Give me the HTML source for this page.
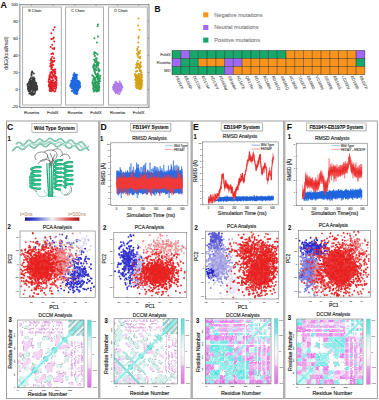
<!DOCTYPE html>
<html><head><meta charset="utf-8"><style>
html,body{margin:0;padding:0;background:#fff;width:379px;height:400px;overflow:hidden}
svg{display:block}
text{font-family:"Liberation Sans",sans-serif}
</style></head><body>
<svg width="379" height="400" viewBox="0 0 379 400">
<rect width="379" height="400" fill="#fff"/>
<text x="0.60" y="7.80" font-size="8.8" fill="#111" font-weight="bold" stroke="#111" stroke-width="0.1">A</text>
<rect x="19.90" y="4.80" width="129.10" height="102.50" fill="none" stroke="#666" stroke-width="0.8"/>
<line x1="18.50" y1="106.70" x2="19.90" y2="106.70" stroke="#555" stroke-width="0.5"/>
<line x1="149.00" y1="106.70" x2="147.80" y2="106.70" stroke="#555" stroke-width="0.5"/>
<text x="17.90" y="108.20" font-size="4.1" fill="#444" text-anchor="end" stroke="#444" stroke-width="0.1">-20</text>
<line x1="18.50" y1="89.60" x2="19.90" y2="89.60" stroke="#555" stroke-width="0.5"/>
<line x1="149.00" y1="89.60" x2="147.80" y2="89.60" stroke="#555" stroke-width="0.5"/>
<text x="17.90" y="91.10" font-size="4.1" fill="#444" text-anchor="end" stroke="#444" stroke-width="0.1">0</text>
<line x1="18.50" y1="72.50" x2="19.90" y2="72.50" stroke="#555" stroke-width="0.5"/>
<line x1="149.00" y1="72.50" x2="147.80" y2="72.50" stroke="#555" stroke-width="0.5"/>
<text x="17.90" y="74.00" font-size="4.1" fill="#444" text-anchor="end" stroke="#444" stroke-width="0.1">20</text>
<line x1="18.50" y1="55.40" x2="19.90" y2="55.40" stroke="#555" stroke-width="0.5"/>
<line x1="149.00" y1="55.40" x2="147.80" y2="55.40" stroke="#555" stroke-width="0.5"/>
<text x="17.90" y="56.90" font-size="4.1" fill="#444" text-anchor="end" stroke="#444" stroke-width="0.1">40</text>
<line x1="18.50" y1="38.30" x2="19.90" y2="38.30" stroke="#555" stroke-width="0.5"/>
<line x1="149.00" y1="38.30" x2="147.80" y2="38.30" stroke="#555" stroke-width="0.5"/>
<text x="17.90" y="39.80" font-size="4.1" fill="#444" text-anchor="end" stroke="#444" stroke-width="0.1">60</text>
<line x1="18.50" y1="21.20" x2="19.90" y2="21.20" stroke="#555" stroke-width="0.5"/>
<line x1="149.00" y1="21.20" x2="147.80" y2="21.20" stroke="#555" stroke-width="0.5"/>
<text x="17.90" y="22.70" font-size="4.1" fill="#444" text-anchor="end" stroke="#444" stroke-width="0.1">80</text>
<line x1="18.50" y1="4.10" x2="19.90" y2="4.10" stroke="#555" stroke-width="0.5"/>
<line x1="149.00" y1="4.10" x2="147.80" y2="4.10" stroke="#555" stroke-width="0.5"/>
<text x="17.90" y="5.60" font-size="4.1" fill="#444" text-anchor="end" stroke="#444" stroke-width="0.1">100</text>
<text x="7.90" y="53.20" font-size="5.4" fill="#555" text-anchor="middle" transform="rotate(-90 7.9 53.2)" stroke="#555" stroke-width="0.1">ddG(kcal/mol)</text>
<rect x="22.70" y="7.00" width="38.50" height="98.00" fill="white" stroke="#8a8a8a" stroke-width="0.7"/>
<text x="28.30" y="12.40" font-size="3.7" fill="#444" stroke="#444" stroke-width="0.1">B Chain</text>
<rect x="65.70" y="7.00" width="37.90" height="98.00" fill="white" stroke="#8a8a8a" stroke-width="0.7"/>
<text x="71.30" y="12.40" font-size="3.7" fill="#444" stroke="#444" stroke-width="0.1">C Chain</text>
<rect x="108.70" y="7.00" width="38.50" height="98.00" fill="white" stroke="#8a8a8a" stroke-width="0.7"/>
<text x="114.30" y="12.40" font-size="3.7" fill="#444" stroke="#444" stroke-width="0.1">D Chain</text>
<text x="31.60" y="114.40" font-size="4.4" fill="#333" text-anchor="middle" stroke="#333" stroke-width="0.1">Rosetta</text>
<line x1="31.60" y1="107.30" x2="31.60" y2="108.60" stroke="#555" stroke-width="0.5"/>
<line x1="31.60" y1="4.80" x2="31.60" y2="6.00" stroke="#555" stroke-width="0.5"/>
<text x="52.80" y="114.40" font-size="4.4" fill="#333" text-anchor="middle" stroke="#333" stroke-width="0.1">FoldX</text>
<line x1="52.80" y1="107.30" x2="52.80" y2="108.60" stroke="#555" stroke-width="0.5"/>
<line x1="52.80" y1="4.80" x2="52.80" y2="6.00" stroke="#555" stroke-width="0.5"/>
<text x="75.00" y="114.40" font-size="4.4" fill="#333" text-anchor="middle" stroke="#333" stroke-width="0.1">Rosetta</text>
<line x1="75.00" y1="107.30" x2="75.00" y2="108.60" stroke="#555" stroke-width="0.5"/>
<line x1="75.00" y1="4.80" x2="75.00" y2="6.00" stroke="#555" stroke-width="0.5"/>
<text x="96.00" y="114.40" font-size="4.4" fill="#333" text-anchor="middle" stroke="#333" stroke-width="0.1">FoldX</text>
<line x1="96.00" y1="107.30" x2="96.00" y2="108.60" stroke="#555" stroke-width="0.5"/>
<line x1="96.00" y1="4.80" x2="96.00" y2="6.00" stroke="#555" stroke-width="0.5"/>
<text x="117.60" y="114.40" font-size="4.4" fill="#333" text-anchor="middle" stroke="#333" stroke-width="0.1">Rosetta</text>
<line x1="117.60" y1="107.30" x2="117.60" y2="108.60" stroke="#555" stroke-width="0.5"/>
<line x1="117.60" y1="4.80" x2="117.60" y2="6.00" stroke="#555" stroke-width="0.5"/>
<text x="138.60" y="114.40" font-size="4.4" fill="#333" text-anchor="middle" stroke="#333" stroke-width="0.1">FoldX</text>
<line x1="138.60" y1="107.30" x2="138.60" y2="108.60" stroke="#555" stroke-width="0.5"/>
<line x1="138.60" y1="4.80" x2="138.60" y2="6.00" stroke="#555" stroke-width="0.5"/>
<path d="M36.6 85.8h0M33.8 81.7h0M36.5 89.5h0M35.6 82.6h0M36.6 87.1h0M33.2 87.1h0M29.9 79.4h0M34.9 85.6h0M28.9 86.3h0M30.6 83.6h0M33.6 82.1h0M32.7 86.3h0M31.6 84.1h0M36.6 89.7h0M33.6 87.5h0M30.7 87.8h0M30.3 91h0M35.2 91.6h0M32.2 92h0M35.4 87h0M30.8 86.8h0M29.2 87.3h0M32.8 85.9h0M35.1 91h0M28.9 86.5h0M35.4 85.3h0M36.1 83.5h0M35.4 89.2h0M35.8 87.6h0M29.4 93.4h0M33.7 88h0M34.4 94.1h0M28.7 91.3h0M30.7 82.2h0M31.1 94.1h0M32.6 83.3h0M31.6 85h0M32.1 87.3h0M35.1 84.5h0M27.7 84.3h0M28.9 82.4h0M28.4 87h0M28.5 88.3h0M27.9 88.4h0M36.9 89.7h0M36.1 86.3h0M28.3 89h0M32.4 82.3h0M31.2 92.9h0M30.7 90.1h0M31 89.6h0M33.3 93.7h0M32.8 79.3h0M31.7 94.8h0M29.1 87.2h0M30.6 88.1h0M30.2 80.2h0M32.7 93.3h0M34.1 82.3h0M31.2 88.8h0M28 86.7h0M29.1 88.6h0M31.2 83.9h0M33.3 90.3h0M35.4 86.5h0M31.2 84.9h0M34 79.6h0M33 94.8h0M32 80.7h0M31.4 82.8h0M32.4 87.9h0M34.4 85.1h0M31.6 87.9h0M33.5 80.3h0M32 85.4h0M29.7 87h0M32.8 87h0M34.5 86.9h0M27.9 86.8h0M31.7 89.3h0M32 78.8h0M34.9 93h0M37 86.6h0M31.1 86.7h0M36.3 84.8h0M35.5 86.9h0M29.9 86.7h0M32 85h0M29.4 82.7h0M35.7 87.8h0M34.1 87.5h0M34.4 79.2h0M35.2 84.3h0M34 89.7h0M33.4 77.8h0M33 83.4h0M28.3 88.3h0M33.2 90.4h0M27.4 85.1h0M28.9 89.2h0M35 90h0M28.5 90.8h0M28.1 88h0M29.3 82.2h0M36.4 87.7h0M29.8 91.4h0M28.1 83.8h0M36 85.9h0M29.2 83.1h0M34.9 81.9h0M34.2 86.8h0M36 86.7h0M37.2 86.3h0M33.1 90.3h0M35.1 83.8h0M29.3 81.3h0M35.1 85.6h0M32.5 87h0M34.7 87.1h0M28.5 89h0M34.9 89.1h0M37 87.6h0M28.1 89.2h0M30.6 87.8h0M32.9 91.8h0M35.7 84.9h0M29.7 86h0M29.5 90.3h0M31.1 94.4h0M33.6 86.2h0M34.3 82.2h0M31.3 88.8h0M31 87.9h0M31.3 88.2h0M31 83.8h0M31.6 89.5h0M29.1 82.6h0M32.4 87.3h0M36.3 82.9h0M31.5 86.1h0M35 87h0M29.7 91.5h0M34.3 88.6h0M35.1 87.1h0M34 83.8h0M32.6 85.3h0M32.2 88.7h0M33.8 84.7h0M35.6 82.6h0M28.7 86.7h0M28.2 87.8h0M35 87.6h0M36 83.3h0M32.6 84.2h0M31.8 89.5h0M34.6 84.8h0M29.1 87.9h0M30.1 88.9h0M30.2 81.7h0M33.1 83.2h0M30.5 88.8h0M29.6 85.9h0M34.2 84.4h0M37.1 88.5h0M30.2 86.6h0M34.3 83.8h0M31.8 92.6h0M35.9 85h0M33.1 83.5h0M30.2 84.4h0M30 91h0M27.6 85h0M32.2 89.3h0M31.3 84.1h0M29.4 84h0M31 85.4h0M30.6 88.9h0M35.2 88.3h0M29.4 83.1h0M37.2 89.4h0M32.2 84.4h0M33.3 84.3h0M32.1 87.2h0M33.8 77.6h0M35.7 85.9h0M32.7 78.5h0M32.3 93.4h0M33.6 94.2h0M35.3 82.7h0M32.1 71.5h0M33.5 78.8h0M33.8 73.4h0M32.3 72.5h0M31.5 74.2h0M31.5 75.7h0M33.4 78.1h0M33.1 77.6h0M34.6 78.7h0M34.5 80.4h0M31.5 75h0M31 78.1h0M31.7 72.7h0M30.5 80.6h0" stroke="#3a3a3a" stroke-width="2.00" stroke-linecap="round"/>
<path d="M53.8 83.1h0M50.8 73.2h0M49 85h0M49.7 82.9h0M53.7 85h0M53.2 88.8h0M48.5 81.6h0M50.3 82.4h0M56.3 85h0M50.3 82.6h0M53 70.3h0M51.9 77.9h0M54.9 83.8h0M53.4 86.6h0M54.8 76.1h0M52.9 74.7h0M50.1 77.5h0M49.9 79.4h0M49.1 82.6h0M55.3 78.8h0M49.9 88.7h0M50.3 65.9h0M56.5 82.3h0M50.1 81.9h0M55.6 86.1h0M49.2 78.5h0M52.3 84.3h0M50.4 85h0M55.1 76h0M53.5 75.5h0M53.6 87.5h0M54.7 76.9h0M55.7 83.6h0M51.6 89.7h0M53.4 86.5h0M52.2 73.6h0M49.6 85.8h0M55.4 82.7h0M53.4 80.3h0M55 86h0M50.3 85.3h0M52.9 83.1h0M52.3 87.4h0M54.5 83h0M50 91.1h0M51.4 84.6h0M52.5 90.5h0M49.1 84.4h0M53 88.2h0M54.2 72.4h0M52 85.6h0M53.8 82.4h0M53.4 85.4h0M50.4 86.2h0M51.6 71.7h0M56.5 84.9h0M51.2 80.8h0M52 81.5h0M49.3 76.7h0M50.5 86.4h0M50 76.4h0M55.3 90.9h0M54.2 88.3h0M55.5 76.2h0M56.6 83.9h0M53.3 90.5h0M56 76.7h0M52.8 89.7h0M52.1 72.4h0M56.3 83.7h0M55.4 88.5h0M55.7 89h0M52.5 77.9h0M54.8 85.3h0M51.8 81.6h0M56.6 78h0M55.3 71.8h0M51 76.2h0M56.2 78.7h0M50.3 74.3h0M49.5 75.5h0M54.3 85.6h0M51.1 87.7h0M52.7 90.5h0M53.6 75.3h0M49.6 90.1h0M54.5 85.4h0M50.7 82.5h0M52 83.5h0M51.4 85.6h0M54.6 83.8h0M54.6 82.9h0M51.3 91.2h0M49.8 88.1h0M51 84.9h0M51.9 83.1h0M49.4 86.9h0M49.8 83.6h0M54.6 85.7h0M54 88.3h0M56.6 80.3h0M56.1 87.7h0M55.8 81.4h0M51.7 89h0M49.9 85.3h0M51.3 88.7h0M52.3 84h0M52.8 80.3h0M52.9 76.6h0M51.5 83.9h0M54.6 69.5h0M51 86.4h0M52.3 87.8h0M55.3 73.5h0M55 76.2h0M50.9 81.7h0M50.9 89.4h0M54.5 91.4h0M48.9 86.3h0M49.9 87.6h0M52.9 82.4h0M52.8 64.5h0M50.4 72.6h0M48.8 79.8h0M50.5 74h0M54.7 76.7h0M52.4 87.8h0M56.2 87h0M55 82.2h0M55.3 69.5h0M50.6 60.4h0M51.3 58.5h0M50.4 63.8h0M52.3 56.8h0M51.8 67.4h0M50.4 66.4h0M52.9 69.9h0M50.9 59.5h0M51.7 65.2h0M51.2 69.1h0M54.5 71h0M52.3 60.7h0M51.5 62.8h0M50.7 60.8h0M52.2 66.9h0M53.2 65h0M53.7 71.3h0M54.4 60.8h0M54.8 73.8h0M51.4 65.4h0M51.1 59.9h0M53.7 61.5h0M54.5 72.4h0M52.7 69.7h0M54 58.3h0M52.8 62.1h0M51.7 38.9h0M51.3 39h0M50.7 46.9h0M53.2 38.5h0M54.2 41.6h0M54.2 49.1h0M52.5 48.4h0M53.3 54h0M54.3 47.9h0M53.9 37.4h0M53 53.4h0M52.3 44.7h0M52.7 53.3h0M51.3 53.9h0M51.3 33.2h0M53.3 29.7h0M54.6 27.2h0" stroke="#e2222a" stroke-width="2.00" stroke-linecap="round"/>
<path d="M75 89.1h0M79.2 86.5h0M73.2 87.9h0M72.5 81.9h0M78.5 83.9h0M76 89.3h0M71.2 83.2h0M70.3 85.9h0M73.7 87.2h0M71.3 81h0M77.2 91.7h0M72.6 81.4h0M73.4 81.2h0M74.6 93.2h0M75.3 86.1h0M74.5 85.9h0M76.2 89.7h0M76.7 87.5h0M74.6 88.4h0M71 85.1h0M79.9 87.5h0M76.1 93.5h0M72 80.8h0M74.7 81.9h0M77.5 88.5h0M79.5 82h0M73 77.6h0M72 91.3h0M75 86.9h0M74.4 87.3h0M79 83.2h0M78.5 86.5h0M74 90.7h0M74.6 80.5h0M76 86.6h0M78.8 82.5h0M73.9 76.5h0M74.2 88.2h0M71.1 86.9h0M76.4 81.8h0M70.3 85.7h0M79.5 83.3h0M75.4 85.3h0M75.5 74.6h0M71.3 82.9h0M72.5 84h0M74.9 84.8h0M78.8 83.8h0M75.4 91.6h0M73 86.4h0M79.6 82.5h0M76.4 89.9h0M75.5 85.2h0M72.1 85.7h0M73.2 87.3h0M76.8 75.7h0M71.8 82.6h0M75.5 84h0M76.3 88.3h0M73.7 85h0M77.9 86.5h0M79.5 85.7h0M78.9 84.5h0M76.2 75.7h0M73.1 80.2h0M72.6 78.7h0M74.7 80h0M74.5 74.5h0M72.3 87.9h0M77.9 90.3h0M72.3 84.5h0M78.5 84.3h0M79.8 85.2h0M71.6 87.7h0M79.1 82.7h0M74.6 78.7h0M72.2 84.5h0M72 86.2h0M71.6 80.7h0M75.2 86.5h0M74 86.7h0M78.8 84.1h0M76.7 94.1h0M72.8 78.1h0M74.2 85.7h0M74.1 83.3h0M71.9 84.1h0M72.7 83.7h0M73.5 90.5h0M76.3 78.5h0M73.7 83.1h0M71.2 84.2h0M74.3 73.2h0M74.8 90.2h0M75.8 82.5h0M72.6 85.7h0M76.5 91.1h0M73.7 77.8h0M76.3 91.3h0M76.3 84.8h0M71.8 85.6h0M77.8 84.6h0M74.3 88.9h0M75.5 80h0M76.2 84.3h0M76.2 90.2h0M74.8 90h0M70.7 84.3h0M77.4 89.8h0M78.8 83.6h0M75.1 84h0M76 87.6h0M74 92.7h0M78.1 90.3h0M77.1 83.9h0M72.5 87.3h0M76.9 78.2h0M80 87h0M73.7 83.8h0M79.8 82.7h0M75 85h0M71.9 84.1h0M77 81.4h0M73.5 85.9h0M77.6 84h0M76 86.7h0M73.2 77.6h0M75.5 84.6h0M78.3 82.1h0M75 87.2h0M75.5 89.6h0M79 85.2h0M74.7 87h0M75.1 89.3h0M76 86.4h0M78.1 82.2h0M72.8 81.2h0M71.2 87.4h0M77.3 81.2h0M75.7 87.7h0M73.3 82.9h0M78.7 88.6h0M78.4 81.3h0M75.4 76.4h0M80.2 86.4h0M77.7 80.6h0M76.9 90.9h0M73.2 87.7h0M73.4 75.1h0M77.1 85.6h0M77.5 83.4h0M74.3 91.6h0M75 85.4h0M75.8 88.3h0M73.3 80.7h0M77.1 87.4h0M75.4 75.5h0M74.3 89.5h0M71.2 84h0M75.5 93h0M73.4 86.9h0M76.9 80.6h0M71.8 85.7h0M74.4 90.3h0M72.2 83.4h0M74.4 81.7h0M76 83.6h0M71.9 81.5h0M72.1 90.8h0M75.1 78.3h0M72.4 82.6h0M75.2 93.4h0M73.4 78.1h0M71.2 87.1h0M75.6 83.3h0M77.4 92.9h0M78.7 87.7h0M75.3 92.3h0M74.3 82.1h0M70.7 86.2h0M73.3 88.9h0M73.3 86.8h0M78.7 81h0M71.7 88.3h0M79.5 83.1h0M75 89.9h0M74.8 91.7h0M72.9 87.2h0M79.9 86.4h0M72 84.6h0M75.8 81.7h0M75.3 86.9h0M72.2 86.7h0M72.7 82.4h0M80 83.7h0M78.2 85.5h0M77.6 84.4h0M77.1 93.7h0M71.3 87.4h0M76.2 77.4h0M76.2 76h0M74.1 75.4h0M75 75.3h0M77 74.8h0M74.3 78h0M76.3 76.4h0M72.8 80.2h0M75.8 75h0M73.9 78.5h0" stroke="#1b68df" stroke-width="2.00" stroke-linecap="round"/>
<path d="M99.1 77h0M95.4 87.8h0M95.1 73h0M95.3 87.6h0M93.1 88.5h0M96.6 76.3h0M96 82.4h0M96.2 89.1h0M95.9 86.6h0M96 74.7h0M97.5 90.4h0M93.6 78.7h0M99 90.4h0M93.8 66.3h0M99 71.6h0M93.9 86.1h0M98.6 80.5h0M94.2 77.8h0M93.2 85.8h0M96.5 82.5h0M98.1 90.9h0M98.5 87.1h0M99.4 77.6h0M100.1 81.3h0M93.6 90.7h0M95.2 73.5h0M93.8 89.8h0M98.2 83.1h0M95.8 77.7h0M97.5 61.9h0M98.6 74.5h0M100.4 75.8h0M97.4 86.2h0M99.3 81h0M96.5 85.5h0M93.1 85h0M99.2 83.5h0M92.8 75.8h0M93.9 91.4h0M98.3 88h0M94.7 86h0M97.5 74.6h0M92.3 75.2h0M93.8 79.7h0M97.9 83.3h0M92.7 83.8h0M96.3 82.3h0M98.9 89.2h0M94 83h0M97.9 78.7h0M98.2 81.8h0M97.1 82.3h0M98.4 78.2h0M97.5 87.4h0M93.1 88.3h0M94.5 91.3h0M96.5 81.7h0M99.6 70.3h0M94.2 85.5h0M96.9 82.2h0M93.7 86.9h0M98.6 86.1h0M95.8 84h0M96.3 90.4h0M97.6 73.5h0M93.2 79h0M98.1 76.1h0M98.2 87.9h0M98.2 63.8h0M94.9 89.6h0M94 78.7h0M94.2 65.8h0M99.5 79.5h0M95.7 85h0M95.3 79h0M96.3 89.1h0M97.8 81.9h0M95 87.4h0M95.2 88.6h0M97.7 63.3h0M97.9 88.9h0M94.8 85.9h0M93.1 84.9h0M99.2 86.4h0M97.9 85.2h0M97 75.8h0M95.4 80.6h0M99.2 87.9h0M95.8 88.3h0M94.2 70h0M93.8 89.9h0M95.1 83.4h0M97 75.9h0M95.1 81.8h0M99 88.9h0M97.5 77h0M95.9 83.4h0M97.3 85.8h0M96.9 85.8h0M96.8 63.5h0M96.2 81.7h0M96.4 74.8h0M96.1 87.6h0M98.2 65.6h0M93.6 79h0M98.3 84.5h0M94.7 85.3h0M98.7 85.4h0M92.7 81.3h0M96.1 82.9h0M95.8 87.2h0M97.5 88.4h0M94.2 67.9h0M94.4 71.7h0M93.5 84.7h0M96.7 82h0M96.7 87.4h0M93 66.9h0M94 86.3h0M93.7 76.5h0M100 78.5h0M95.9 86.9h0M96.6 91.4h0M94.7 70.3h0M97.3 85.3h0M98.7 81.3h0M97.6 79.4h0M92.3 82.7h0M95.8 68.2h0M96.1 82.3h0M94.3 52.3h0M98.2 68.2h0M95.4 52.8h0M94.9 65.8h0M96.8 58.3h0M96.8 70.2h0M96.2 53.3h0M98.2 64h0M96.3 65.1h0M95.5 58.5h0M94.1 59.8h0M96.5 67.1h0M95.2 69.8h0M96.4 60.2h0M95 72h0M94.1 53.9h0M93.5 65.2h0M93.8 68.9h0M93.8 65.5h0M98.7 70.1h0M96.7 65.7h0M94.9 60.9h0M97.4 63.8h0M97 65.4h0M93.5 66.3h0M97.5 62.1h0M95 55.9h0M98.9 63.1h0M94.6 56.1h0M95.1 62.2h0M94.4 69.9h0M98.7 68.9h0M97.6 54.4h0M96.6 62.3h0M94.2 64.3h0M95.8 61.5h0M97 42.6h0M94.4 38.3h0M97.9 36.6h0M97.6 26.3h0M97.9 24.6h0" stroke="#2ba05d" stroke-width="2.00" stroke-linecap="round"/>
<path d="M120.6 88.4h0M119.2 90.4h0M116.6 85.7h0M115.2 87.7h0M114.3 87.9h0M118 86.4h0M115 85.8h0M119.2 83.9h0M116.3 84.4h0M118.3 85.4h0M117.9 91.1h0M118.6 84.7h0M114.3 87.3h0M115.9 90.8h0M119.4 87.1h0M114.9 88h0M119.2 87.7h0M121.4 85.3h0M116.8 90.5h0M121.7 86h0M118.5 84.8h0M121.1 90h0M117.8 84.4h0M119.8 88.9h0M119.2 89.1h0M115.1 85.4h0M117.8 87.5h0M118.1 91.5h0M117.3 88.9h0M119 85.9h0M121.3 88.7h0M120.3 88.5h0M120.6 87.4h0M114.2 87.5h0M119.4 89h0M118.7 89.5h0M121.7 86.5h0M113.8 84.7h0M115.8 93.1h0M122 86.5h0M116.6 85.3h0M119.3 89.4h0M118.2 84.3h0M116.9 90.8h0M117.1 85.3h0M118 83.9h0M120.9 84.1h0M117.8 93.4h0M120.4 87.3h0M116 89.7h0M119.6 86.6h0M118.3 84.3h0M119.9 86.5h0M120.1 83.8h0M114.8 91.2h0M121.6 89.3h0M118.6 88.6h0M115.5 86h0M117.3 84.8h0M114.2 89.3h0M115.4 89.5h0M120.4 85.5h0M119.1 90.4h0M120.9 86.2h0M114.7 89.3h0M113.8 87.7h0M116.9 82.9h0M117.6 88.1h0M119.6 87.4h0M115.9 89.3h0M119.7 86.2h0M118.2 84.1h0M115.7 86h0M119.7 90.4h0M113.6 86.7h0M118.2 84h0M115 89.6h0M113.2 87.8h0M117.4 89.5h0M117.8 88.7h0M118.5 89.7h0M116.7 90.4h0M121.5 86.4h0M120.3 87.6h0M115.6 92.3h0M113.6 89.8h0M121.6 89.1h0M116.9 89.9h0M113.8 87.1h0M114.5 87.9h0M119.5 86.6h0M115.3 90.5h0M116.5 89.1h0M119.2 88.4h0M116.2 88.3h0M119 88.2h0M121.5 89.2h0M120.4 87.7h0M118.4 83.8h0M118.7 89.1h0M116.3 91.1h0M118.9 86.8h0M118.8 89.5h0M118.3 85.7h0M117.5 85.1h0M119.2 83.7h0M114.8 87.1h0M119 91.2h0M120.8 83.9h0M113.8 85.4h0M115.8 84.6h0M122.3 87.2h0M113.7 88.2h0M120.7 87.4h0M118.1 91.6h0M114.1 85.3h0M118.8 88.8h0M113.2 88.8h0M120.9 86.6h0M115.9 89.4h0M121.2 85.7h0M121.2 88.8h0M115.6 82.2h0M116.9 84.7h0M114.5 85.9h0M120 86.7h0M113.7 87.3h0M113.7 88.6h0M115.2 91.7h0M120.9 88.7h0M115.4 89.2h0M116 88.6h0M117.1 87.3h0M117.9 91.6h0M116.9 90.2h0M121.6 89h0M116.1 88.5h0M117.4 85.4h0M119.6 81.5h0M115.1 87.8h0M114.7 86h0M120.8 87.4h0M115.9 86.9h0M120.1 83.6h0M120.7 87h0M116.5 86.2h0M116 87.3h0M114 88.8h0M120.5 85h0M117.1 87.8h0M116.5 84.2h0M115.1 89.9h0M115.1 86.4h0M120 83.7h0M114.3 88.8h0M118.1 86.7h0M118.5 84.1h0M117.8 86.5h0M117.6 89.2h0M116.6 88.2h0M114.7 86.7h0M120.5 88.7h0M121.3 88.4h0M118.2 87.1h0M115.7 90.2h0M120.3 83.7h0M114.9 88.7h0M114.4 87.5h0M118.8 87.2h0M119.9 84.3h0M118.3 88.3h0M115.3 82.9h0M120.6 83.3h0M114.6 85.8h0M116.5 90.4h0M121.2 90.3h0M120.4 88h0M120 86.8h0M113.8 86h0M120.2 84.7h0M116.7 86.4h0M112.9 87.3h0M120.3 86.5h0M120.2 91.9h0M114.1 84.8h0M117.3 90.8h0M120.1 91.7h0M116.1 89h0M115.8 88.4h0M119.7 90.1h0M117 87.9h0M122.4 87.2h0M120.8 86h0M120.9 86.6h0M119.5 88.6h0M114.7 87.2h0M119 84.6h0M118.3 88h0M117.4 87.7h0M118 92.2h0M115.8 86.8h0M115.8 82.9h0M121.2 85.8h0M116.3 87.9h0M114.7 84.7h0M121.1 84.6h0M117.7 84.4h0M119 90h0M116.4 90h0M114.5 85.8h0M116.1 86.2h0M120.7 86.4h0M116 90.7h0M121.1 85.7h0M116.4 83.1h0M120.6 84.8h0M115.8 81.7h0M117.1 86.4h0M114.1 87.1h0M115.4 83.4h0M117.8 85.2h0M116.8 92.5h0M117.9 90.8h0M114.9 86.8h0M115.9 88.6h0M116.5 83.4h0M120.3 83.9h0M114.5 84.5h0M116.8 88.1h0M121 87.9h0M118.2 85.7h0M115.3 88.2h0M122 85.9h0M113.9 86.7h0M114.5 85.7h0M113 87.2h0M117.1 89.1h0M119.5 93.9h0M116 90.4h0M116.1 90.7h0" stroke="#b07ce8" stroke-width="2.00" stroke-linecap="round"/>
<path d="M140.6 89h0M138.1 82.2h0M138.7 78h0M139.9 79.7h0M137.9 81.6h0M136.1 76.9h0M141.3 87.8h0M140.3 84.6h0M139 77.6h0M138.6 88.6h0M139.5 80.6h0M137.2 84.2h0M135.2 79.7h0M138.9 82.4h0M140.1 58.3h0M135.4 76h0M141.6 86.8h0M137.6 79h0M142 84.6h0M140.7 79.7h0M136.8 78h0M136.3 79.5h0M141.3 84.5h0M141.8 85.5h0M140.7 70.6h0M139 64.9h0M138.9 76h0M140.4 86.4h0M141.2 77h0M141.3 77.5h0M136.9 76.4h0M140.7 86.1h0M142 82.4h0M139.1 83.3h0M136.2 64.4h0M136.2 75.2h0M139.5 87.7h0M138 79.2h0M141.9 75.1h0M139.6 84.7h0M140.1 81.7h0M135.8 78.9h0M138.8 75h0M140.1 82.9h0M141.7 81.9h0M141.3 85.4h0M137 84.5h0M138.6 81.4h0M142.3 80.2h0M135.6 83h0M135.3 74.9h0M136.6 86.5h0M140.4 73.9h0M137.9 60.8h0M139.9 86.4h0M141.2 75.6h0M140.7 70.3h0M135.1 74h0M139.9 70.9h0M141 79.6h0M140.1 83.4h0M141.5 79.7h0M141.1 76.5h0M139.5 79.8h0M141.4 81h0M139 76.6h0M135.7 83h0M137 81.3h0M141.4 85.6h0M137.3 80.6h0M138.4 83.6h0M141.3 83.1h0M139.8 69.9h0M140.8 81.1h0M138.4 87h0M138.7 76.9h0M136.1 87.4h0M136.3 80.4h0M135.9 77.4h0M138.9 76.4h0M138.8 82.5h0M136 68.1h0M139.6 82.9h0M135.8 71.5h0M137.7 77.8h0M134.9 74.9h0M138.4 84.7h0M135.8 77.5h0M141.7 84.3h0M137.5 77.5h0M141 71.7h0M138.1 74.9h0M137.4 84h0M141.3 78.2h0M136.9 80.9h0M138.7 85.3h0M139.4 89.1h0M141.8 85.6h0M139.8 66.8h0M135.7 85.6h0M138.2 77.4h0M142.2 77.2h0M140.5 65.6h0M137.7 84.8h0M135.7 80.1h0M136.9 82.6h0M140.7 78.1h0M136.7 88.1h0M140.8 88.3h0M136.9 82.4h0M139.7 67.7h0M140.1 74.5h0M137.4 64h0M138.7 74.6h0M139.5 84.7h0M137.2 87.7h0M138.9 78.2h0M139.6 80.5h0M141.7 84.7h0M136.9 79.4h0M136.1 81.2h0M138.7 79.6h0M139.2 68.7h0M138.5 73.9h0M141.9 77.4h0M137 66.1h0M138.7 81.3h0M138.4 84.6h0M136.6 85.1h0M138.2 76.7h0M138.4 57.2h0M138.2 46.9h0M140.2 67.2h0M140.3 56.8h0M140.1 50.7h0M137.6 55.8h0M138 63.5h0M141.1 66.4h0M137.3 53.7h0M137.3 48.7h0M137.3 50h0M140.6 62.2h0M138.6 53.4h0M138.4 51.7h0M136.8 62.9h0M139.8 53.1h0M140.8 62.6h0M139.7 67.4h0M141.6 72.5h0M138.8 53.9h0M138 53.2h0M136.3 71.4h0M137.2 70.9h0M136.9 64.3h0M137.8 67.2h0M137.1 53.7h0M135.9 67.6h0M140 57.5h0M139.9 58.4h0M140.1 63.6h0M138.2 42.6h0M138.5 38.3h0M138.7 36.6h0M139.5 29.7h0M138 25.5h0M138.6 18.6h0" stroke="#d6a214" stroke-width="2.00" stroke-linecap="round"/>
<text x="154.40" y="12.20" font-size="8.4" fill="#111" font-weight="bold" stroke="#111" stroke-width="0.1">B</text>
<rect x="203.20" y="12.30" width="5.20" height="5.00" fill="#f8941e"/>
<text x="214.30" y="16.70" font-size="5.65" fill="#7a7a7a" stroke="#7a7a7a" stroke-width="0.1">Negative mutations</text>
<rect x="203.20" y="25.00" width="5.20" height="5.00" fill="#a068f6"/>
<text x="214.30" y="29.40" font-size="5.65" fill="#7a7a7a" stroke="#7a7a7a" stroke-width="0.1">Neutral mutations</text>
<rect x="203.20" y="37.60" width="5.20" height="5.00" fill="#17a76b"/>
<text x="214.30" y="42.00" font-size="5.65" fill="#7a7a7a" stroke="#7a7a7a" stroke-width="0.1">Positive mutations</text>
<rect x="172.00" y="50.50" width="8.81" height="8.05" fill="#17a76b"/>
<rect x="180.76" y="50.50" width="8.81" height="8.05" fill="#a068f6"/>
<rect x="189.53" y="50.50" width="8.81" height="8.05" fill="#17a76b"/>
<rect x="198.29" y="50.50" width="8.81" height="8.05" fill="#17a76b"/>
<rect x="207.05" y="50.50" width="8.81" height="8.05" fill="#17a76b"/>
<rect x="215.82" y="50.50" width="8.81" height="8.05" fill="#17a76b"/>
<rect x="224.58" y="50.50" width="8.81" height="8.05" fill="#17a76b"/>
<rect x="233.35" y="50.50" width="8.81" height="8.05" fill="#17a76b"/>
<rect x="242.11" y="50.50" width="8.81" height="8.05" fill="#17a76b"/>
<rect x="250.87" y="50.50" width="8.81" height="8.05" fill="#17a76b"/>
<rect x="259.64" y="50.50" width="8.81" height="8.05" fill="#17a76b"/>
<rect x="268.40" y="50.50" width="8.81" height="8.05" fill="#17a76b"/>
<rect x="277.16" y="50.50" width="8.81" height="8.05" fill="#17a76b"/>
<rect x="285.93" y="50.50" width="8.81" height="8.05" fill="#f8941e"/>
<rect x="294.69" y="50.50" width="8.81" height="8.05" fill="#f8941e"/>
<rect x="303.45" y="50.50" width="8.81" height="8.05" fill="#f8941e"/>
<rect x="312.22" y="50.50" width="8.81" height="8.05" fill="#f8941e"/>
<rect x="320.98" y="50.50" width="8.81" height="8.05" fill="#f8941e"/>
<rect x="329.75" y="50.50" width="8.81" height="8.05" fill="#f8941e"/>
<rect x="338.51" y="50.50" width="8.81" height="8.05" fill="#f8941e"/>
<rect x="347.27" y="50.50" width="8.81" height="8.05" fill="#f8941e"/>
<rect x="356.04" y="50.50" width="8.81" height="8.05" fill="#a068f6"/>
<rect x="172.00" y="58.50" width="8.81" height="8.05" fill="#a068f6"/>
<rect x="180.76" y="58.50" width="8.81" height="8.05" fill="#17a76b"/>
<rect x="189.53" y="58.50" width="8.81" height="8.05" fill="#17a76b"/>
<rect x="198.29" y="58.50" width="8.81" height="8.05" fill="#f8941e"/>
<rect x="207.05" y="58.50" width="8.81" height="8.05" fill="#f8941e"/>
<rect x="215.82" y="58.50" width="8.81" height="8.05" fill="#f8941e"/>
<rect x="224.58" y="58.50" width="8.81" height="8.05" fill="#a068f6"/>
<rect x="233.35" y="58.50" width="8.81" height="8.05" fill="#a068f6"/>
<rect x="242.11" y="58.50" width="8.81" height="8.05" fill="#f8941e"/>
<rect x="250.87" y="58.50" width="8.81" height="8.05" fill="#f8941e"/>
<rect x="259.64" y="58.50" width="8.81" height="8.05" fill="#f8941e"/>
<rect x="268.40" y="58.50" width="8.81" height="8.05" fill="#f8941e"/>
<rect x="277.16" y="58.50" width="8.81" height="8.05" fill="#f8941e"/>
<rect x="285.93" y="58.50" width="8.81" height="8.05" fill="#f8941e"/>
<rect x="294.69" y="58.50" width="8.81" height="8.05" fill="#f8941e"/>
<rect x="303.45" y="58.50" width="8.81" height="8.05" fill="#f8941e"/>
<rect x="312.22" y="58.50" width="8.81" height="8.05" fill="#f8941e"/>
<rect x="320.98" y="58.50" width="8.81" height="8.05" fill="#f8941e"/>
<rect x="329.75" y="58.50" width="8.81" height="8.05" fill="#f8941e"/>
<rect x="338.51" y="58.50" width="8.81" height="8.05" fill="#f8941e"/>
<rect x="347.27" y="58.50" width="8.81" height="8.05" fill="#f8941e"/>
<rect x="356.04" y="58.50" width="8.81" height="8.05" fill="#17a76b"/>
<rect x="172.00" y="66.50" width="8.81" height="8.05" fill="#17a76b"/>
<rect x="180.76" y="66.50" width="8.81" height="8.05" fill="#17a76b"/>
<rect x="189.53" y="66.50" width="8.81" height="8.05" fill="#17a76b"/>
<rect x="198.29" y="66.50" width="8.81" height="8.05" fill="#17a76b"/>
<rect x="207.05" y="66.50" width="8.81" height="8.05" fill="#17a76b"/>
<rect x="215.82" y="66.50" width="8.81" height="8.05" fill="#17a76b"/>
<rect x="224.58" y="66.50" width="8.81" height="8.05" fill="#a068f6"/>
<rect x="233.35" y="66.50" width="8.81" height="8.05" fill="#f8941e"/>
<rect x="242.11" y="66.50" width="8.81" height="8.05" fill="#f8941e"/>
<rect x="250.87" y="66.50" width="8.81" height="8.05" fill="#f8941e"/>
<rect x="259.64" y="66.50" width="8.81" height="8.05" fill="#f8941e"/>
<rect x="268.40" y="66.50" width="8.81" height="8.05" fill="#f8941e"/>
<rect x="277.16" y="66.50" width="8.81" height="8.05" fill="#f8941e"/>
<rect x="285.93" y="66.50" width="8.81" height="8.05" fill="#f8941e"/>
<rect x="294.69" y="66.50" width="8.81" height="8.05" fill="#f8941e"/>
<rect x="303.45" y="66.50" width="8.81" height="8.05" fill="#f8941e"/>
<rect x="312.22" y="66.50" width="8.81" height="8.05" fill="#f8941e"/>
<rect x="320.98" y="66.50" width="8.81" height="8.05" fill="#f8941e"/>
<rect x="329.75" y="66.50" width="8.81" height="8.05" fill="#f8941e"/>
<rect x="338.51" y="66.50" width="8.81" height="8.05" fill="#f8941e"/>
<rect x="347.27" y="66.50" width="8.81" height="8.05" fill="#f8941e"/>
<rect x="356.04" y="66.50" width="8.81" height="8.05" fill="#f8941e"/>
<path d="M172.00 50.5v24.0M180.76 50.5v24.0M189.53 50.5v24.0M198.29 50.5v24.0M207.05 50.5v24.0M215.82 50.5v24.0M224.58 50.5v24.0M233.35 50.5v24.0M242.11 50.5v24.0M250.87 50.5v24.0M259.64 50.5v24.0M268.40 50.5v24.0M277.16 50.5v24.0M285.93 50.5v24.0M294.69 50.5v24.0M303.45 50.5v24.0M312.22 50.5v24.0M320.98 50.5v24.0M329.75 50.5v24.0M338.51 50.5v24.0M347.27 50.5v24.0M356.04 50.5v24.0M364.80 50.5v24.0M172.0 50.5h192.80M172.0 58.5h192.80M172.0 66.5h192.80M172.0 74.5h192.80" stroke="#000" stroke-opacity="0.6" stroke-width="0.65"/>
<text x="170.60" y="55.90" font-size="4.0" fill="#444" text-anchor="end" stroke="#444" stroke-width="0.1">FoldX</text>
<text x="170.60" y="63.90" font-size="4.0" fill="#444" text-anchor="end" stroke="#444" stroke-width="0.1">Rosetta</text>
<text x="170.60" y="71.90" font-size="4.0" fill="#444" text-anchor="end" stroke="#444" stroke-width="0.1">MD</text>
<text x="175.33" y="76.50" font-size="3.9" fill="#555" transform="rotate(66 175.3 76.5)" stroke="#555" stroke-width="0.1">FB194Y</text>
<text x="184.09" y="76.50" font-size="3.9" fill="#555" transform="rotate(66 184.1 76.5)" stroke="#555" stroke-width="0.1">EB194P</text>
<text x="192.86" y="76.50" font-size="3.9" fill="#555" transform="rotate(66 192.9 76.5)" stroke="#555" stroke-width="0.1">DC172K</text>
<text x="201.62" y="76.50" font-size="3.9" fill="#555" transform="rotate(66 201.6 76.5)" stroke="#555" stroke-width="0.1">EC174F</text>
<text x="210.38" y="76.50" font-size="3.9" fill="#555" transform="rotate(66 210.4 76.5)" stroke="#555" stroke-width="0.1">KD170Y</text>
<text x="219.15" y="76.50" font-size="3.9" fill="#555" transform="rotate(66 219.1 76.5)" stroke="#555" stroke-width="0.1">FD169W</text>
<text x="227.91" y="76.50" font-size="3.9" fill="#555" transform="rotate(66 227.9 76.5)" stroke="#555" stroke-width="0.1">GB168H</text>
<text x="236.68" y="76.50" font-size="3.9" fill="#555" transform="rotate(66 236.7 76.5)" stroke="#555" stroke-width="0.1">KC167E</text>
<text x="245.44" y="76.50" font-size="3.9" fill="#555" transform="rotate(66 245.4 76.5)" stroke="#555" stroke-width="0.1">QB175K</text>
<text x="254.20" y="76.50" font-size="3.9" fill="#555" transform="rotate(66 254.2 76.5)" stroke="#555" stroke-width="0.1">ED176D</text>
<text x="262.97" y="76.50" font-size="3.9" fill="#555" transform="rotate(66 263 76.5)" stroke="#555" stroke-width="0.1">RC180K</text>
<text x="271.73" y="76.50" font-size="3.9" fill="#555" transform="rotate(66 271.7 76.5)" stroke="#555" stroke-width="0.1">RD181Q</text>
<text x="280.49" y="76.50" font-size="3.9" fill="#555" transform="rotate(66 280.5 76.5)" stroke="#555" stroke-width="0.1">GB185Q</text>
<text x="289.26" y="76.50" font-size="3.9" fill="#555" transform="rotate(66 289.3 76.5)" stroke="#555" stroke-width="0.1">KC186D</text>
<text x="298.02" y="76.50" font-size="3.9" fill="#555" transform="rotate(66 298 76.5)" stroke="#555" stroke-width="0.1">TD187E</text>
<text x="306.78" y="76.50" font-size="3.9" fill="#555" transform="rotate(66 306.8 76.5)" stroke="#555" stroke-width="0.1">EB188D</text>
<text x="315.55" y="76.50" font-size="3.9" fill="#555" transform="rotate(66 315.5 76.5)" stroke="#555" stroke-width="0.1">VC189N</text>
<text x="324.31" y="76.50" font-size="3.9" fill="#555" transform="rotate(66 324.3 76.5)" stroke="#555" stroke-width="0.1">GD190E</text>
<text x="333.08" y="76.50" font-size="3.9" fill="#555" transform="rotate(66 333.1 76.5)" stroke="#555" stroke-width="0.1">RB191S</text>
<text x="341.84" y="76.50" font-size="3.9" fill="#555" transform="rotate(66 341.8 76.5)" stroke="#555" stroke-width="0.1">LC192N</text>
<text x="350.60" y="76.50" font-size="3.9" fill="#555" transform="rotate(66 350.6 76.5)" stroke="#555" stroke-width="0.1">ED193D</text>
<text x="359.37" y="76.50" font-size="3.9" fill="#555" transform="rotate(66 359.4 76.5)" stroke="#555" stroke-width="0.1">EB197P</text>
<text x="7.00" y="129.50" font-size="8.6" fill="#111" font-weight="bold" stroke="#111" stroke-width="0.1">C</text>
<text x="100.60" y="129.50" font-size="8.6" fill="#111" font-weight="bold" stroke="#111" stroke-width="0.1">D</text>
<text x="192.90" y="129.50" font-size="8.6" fill="#111" font-weight="bold" stroke="#111" stroke-width="0.1">E</text>
<text x="286.80" y="129.50" font-size="8.6" fill="#111" font-weight="bold" stroke="#111" stroke-width="0.1">F</text>
<rect x="32.60" y="124.20" width="45.10" height="8.70" fill="#cfcfcf"/>
<rect x="31.90" y="123.50" width="45.10" height="8.70" fill="#fff" stroke="#8c8c8c" stroke-width="0.5"/>
<text x="54.45" y="129.55" font-size="4.8" fill="#111" text-anchor="middle" font-weight="bold" stroke="#111" stroke-width="0.1">Wild Type System</text>
<rect x="131.10" y="123.90" width="40.40" height="7.80" fill="#cfcfcf"/>
<rect x="130.40" y="123.20" width="40.40" height="7.80" fill="#fff" stroke="#8c8c8c" stroke-width="0.5"/>
<text x="150.60" y="128.80" font-size="4.8" fill="#111" text-anchor="middle" font-weight="bold" stroke="#111" stroke-width="0.1">FB194Y System</text>
<rect x="221.80" y="123.60" width="41.30" height="8.00" fill="#cfcfcf"/>
<rect x="221.10" y="122.90" width="41.30" height="8.00" fill="#fff" stroke="#8c8c8c" stroke-width="0.5"/>
<text x="241.75" y="128.60" font-size="4.8" fill="#111" text-anchor="middle" font-weight="bold" stroke="#111" stroke-width="0.1">EB194P System</text>
<rect x="307.40" y="123.70" width="59.30" height="7.80" fill="#cfcfcf"/>
<rect x="306.70" y="123.00" width="59.30" height="7.80" fill="#fff" stroke="#8c8c8c" stroke-width="0.5"/>
<text x="336.35" y="128.60" font-size="4.7" fill="#111" text-anchor="middle" font-weight="bold" stroke="#111" stroke-width="0.1">FB194Y-EB197P System</text>
<text transform="translate(7.6 140.8) scale(0.78 1)" font-size="7.6" font-weight="bold" fill="#111" stroke="#111" stroke-width="0.1">1</text>
<text transform="translate(100.0 141.0) scale(0.78 1)" font-size="7.6" font-weight="bold" fill="#111" stroke="#111" stroke-width="0.1">1</text>
<text transform="translate(193.4 139.4) scale(0.78 1)" font-size="7.6" font-weight="bold" fill="#111" stroke="#111" stroke-width="0.1">1</text>
<text transform="translate(287.8 138.6) scale(0.78 1)" font-size="7.6" font-weight="bold" fill="#111" stroke="#111" stroke-width="0.1">1</text>
<text transform="translate(7.6 228.6) scale(0.78 1)" font-size="7.6" font-weight="bold" fill="#111" stroke="#111" stroke-width="0.1">2</text>
<text transform="translate(103.0 230.1) scale(0.78 1)" font-size="7.6" font-weight="bold" fill="#111" stroke="#111" stroke-width="0.1">2</text>
<text transform="translate(194.4 230.4) scale(0.78 1)" font-size="7.6" font-weight="bold" fill="#111" stroke="#111" stroke-width="0.1">2</text>
<text transform="translate(288.0 230.0) scale(0.78 1)" font-size="7.6" font-weight="bold" fill="#111" stroke="#111" stroke-width="0.1">2</text>
<text transform="translate(8.6 322.0) scale(0.78 1)" font-size="7.6" font-weight="bold" fill="#111" stroke="#111" stroke-width="0.1">3</text>
<text transform="translate(104.6 322.7) scale(0.78 1)" font-size="7.6" font-weight="bold" fill="#111" stroke="#111" stroke-width="0.1">3</text>
<text transform="translate(196.0 322.7) scale(0.78 1)" font-size="7.6" font-weight="bold" fill="#111" stroke="#111" stroke-width="0.1">3</text>
<text transform="translate(287.8 320.3) scale(0.78 1)" font-size="7.6" font-weight="bold" fill="#111" stroke="#111" stroke-width="0.1">3</text>
<path d="M16 144.3 16.3 143.9 16.7 143.5 17 143.2 17.3 142.9 17.7 142.7 18 142.5 18.3 142.4 18.7 142.4 19 142.4 19.3 142.5 19.7 142.6 20 142.8 20.3 143 20.7 143.2 21 143.5 21.3 143.7 21.7 143.9 22 144.2 22.3 144.3 22.7 144.5 23 144.5 23.3 144.5 23.7 144.5 24 144.4 24.3 144.2 24.7 144 25 143.7 25.3 143.4 25.7 143 26 142.7 26.3 142.3 26.7 141.9 27 141.5 27.3 141.2 27.7 140.9 28 140.6 28.3 140.4 28.7 140.3 29 140.3 29.3 140.3 29.7 140.4 30 140.5 30.3 140.7 30.7 140.9 31 141.2 31.3 141.4 31.7 141.7 32 142 32.3 142.2 32.7 142.4 33 142.6 33.3 142.8 33.7 142.8 34 142.8 34.3 142.8 34.7 142.7 35 142.5 35.3 142.3 35.7 142 36 141.7 36.3 141.4 36.7 141 37 140.6 37.3 140.3 37.7 140 38 139.7 38.3 139.4 38.7 139.2 39 139.1 39.3 139 39.7 139 40 139 40.3 139.1 40.7 139.3 41 139.5 41.3 139.8 41.7 140.1 42 140.4 42.3 140.7 42.7 140.9 43 141.2 43.3 141.4 43.7 141.6 44 141.7 44.3 141.8 44.7 141.8 45 141.7 45.3 141.6 45.7 141.4 46 141.2 46.3 140.9 46.7 140.6 47 140.3 47.3 139.9 47.7 139.6 48 139.3 48.3 139 48.7 138.7 49 138.5 49.3 138.4 49.7 138.3 50 138.2 50.3 138.3 50.7 138.4 51 138.5 51.3 138.7 51.7 139 52 139.2 52.3 139.5 52.7 139.8 53 140.1 53.3 140.4 53.7 140.6 54 140.8 54.3 141 54.7 141.1 55 141.1 55.3 141.1 55.7 141.1 56 141 56.3 140.9 56.7 140.7 57 140.5 57.3 140.2 57.7 139.9 58 139.7 58.3 139.4 58.7 139.2 59 138.9 59.3 138.8 59.7 138.7 60 138.6 60.3 138.6 60.7 138.7 61 138.8 61.3 139 61.7 139.2 62 139.5 62.3 139.9 62.7 140.2 63 140.6 63.3 140.9 63.7 141.3 64 141.6 64.3 141.9 64.7 142.1 65 142.3 65.3 142.5 65.7 142.5 66 142.5 66.3 142.5 66.7 142.4 67 142.2 67.3 142 67.7 141.7 68 141.5 68.3 141.2 68.7 140.9 69 140.7 69.3 140.4 69.7 140.3 70 140.1 70.3 140 70.7 140 71 140.1 71.3 140.2 71.7 140.4 72 140.6 72.3 140.9 72.7 141.2 73 141.5 73.3 141.9 73.7 142.3 74 142.6 74.3 143 74.7 143.3 75 143.6 75.3 143.8 75.7 144 76 144.1 76.3 144.1 76.7 144.1 77 144.1 77.3 143.9 77.7 143.7 78 143.5 78.3 143.3 78.7 143 79 142.8 79.3 142.5 79.7 142.3 80 142.1 80.3 141.9 80.7 141.8 81 141.8 81.3 141.8 81.7 141.9 82 142 82.3 142.3 82.7 142.6 83 143 83.3 143.4 83.7 143.8 84 144.2 84.3 144.7 84.7 145.1 85 145.5 85.3 145.8 85.7 146.2 86 146.4 86.3 146.6 86.7 146.8 87 146.8 87.3 146.9 87.7 146.8 88 146.7 88.3 146.6 88.7 146.4 89 146.2" fill="none" stroke="#5aae96" stroke-width="1.5" stroke-linejoin="round"/>
<path d="M16 144.3 16.3 143.9 16.7 143.5 17 143.2 17.3 142.9 17.7 142.7 18 142.5 18.3 142.4 18.7 142.4 19 142.4 19.3 142.5 19.7 142.6 20 142.8 20.3 143 20.7 143.2 21 143.5 21.3 143.7 21.7 143.9 22 144.2 22.3 144.3 22.7 144.5 23 144.5 23.3 144.5 23.7 144.5 24 144.4 24.3 144.2 24.7 144 25 143.7 25.3 143.4 25.7 143 26 142.7 26.3 142.3 26.7 141.9 27 141.5 27.3 141.2 27.7 140.9 28 140.6 28.3 140.4 28.7 140.3 29 140.3 29.3 140.3 29.7 140.4 30 140.5 30.3 140.7 30.7 140.9 31 141.2 31.3 141.4 31.7 141.7 32 142 32.3 142.2 32.7 142.4 33 142.6 33.3 142.8 33.7 142.8 34 142.8 34.3 142.8 34.7 142.7 35 142.5 35.3 142.3 35.7 142 36 141.7 36.3 141.4 36.7 141 37 140.6 37.3 140.3 37.7 140 38 139.7 38.3 139.4 38.7 139.2 39 139.1 39.3 139 39.7 139 40 139 40.3 139.1 40.7 139.3 41 139.5 41.3 139.8 41.7 140.1 42 140.4 42.3 140.7 42.7 140.9 43 141.2 43.3 141.4 43.7 141.6 44 141.7 44.3 141.8 44.7 141.8 45 141.7 45.3 141.6 45.7 141.4 46 141.2 46.3 140.9 46.7 140.6 47 140.3 47.3 139.9 47.7 139.6 48 139.3 48.3 139 48.7 138.7 49 138.5 49.3 138.4 49.7 138.3 50 138.2 50.3 138.3 50.7 138.4 51 138.5 51.3 138.7 51.7 139 52 139.2 52.3 139.5 52.7 139.8 53 140.1 53.3 140.4 53.7 140.6 54 140.8 54.3 141 54.7 141.1 55 141.1 55.3 141.1 55.7 141.1 56 141 56.3 140.9 56.7 140.7 57 140.5 57.3 140.2 57.7 139.9 58 139.7 58.3 139.4 58.7 139.2 59 138.9 59.3 138.8 59.7 138.7 60 138.6 60.3 138.6 60.7 138.7 61 138.8 61.3 139 61.7 139.2 62 139.5 62.3 139.9 62.7 140.2 63 140.6 63.3 140.9 63.7 141.3 64 141.6 64.3 141.9 64.7 142.1 65 142.3 65.3 142.5 65.7 142.5 66 142.5 66.3 142.5 66.7 142.4 67 142.2 67.3 142 67.7 141.7 68 141.5 68.3 141.2 68.7 140.9 69 140.7 69.3 140.4 69.7 140.3 70 140.1 70.3 140 70.7 140 71 140.1 71.3 140.2 71.7 140.4 72 140.6 72.3 140.9 72.7 141.2 73 141.5 73.3 141.9 73.7 142.3 74 142.6 74.3 143 74.7 143.3 75 143.6 75.3 143.8 75.7 144 76 144.1 76.3 144.1 76.7 144.1 77 144.1 77.3 143.9 77.7 143.7 78 143.5 78.3 143.3 78.7 143 79 142.8 79.3 142.5 79.7 142.3 80 142.1 80.3 141.9 80.7 141.8 81 141.8 81.3 141.8 81.7 141.9 82 142 82.3 142.3 82.7 142.6 83 143 83.3 143.4 83.7 143.8 84 144.2 84.3 144.7 84.7 145.1 85 145.5 85.3 145.8 85.7 146.2 86 146.4 86.3 146.6 86.7 146.8 87 146.8 87.3 146.9 87.7 146.8 88 146.7 88.3 146.6 88.7 146.4 89 146.2" fill="none" stroke="#d8f2ea" stroke-width="0.5" stroke-linejoin="round"/>
<path d="M12 151.1 12.3 150.9 12.7 150.6 13 150.3 13.3 150 13.7 149.7 14 149.3 14.3 148.9 14.7 148.6 15 148.2 15.3 147.9 15.7 147.6 16 147.4 16.3 147.2 16.7 147.1 17 147 17.3 146.9 17.7 147 18 147 18.3 147.2 18.7 147.3 19 147.5 19.3 147.8 19.7 148 20 148.3 20.3 148.5 20.7 148.8 21 149 21.3 149.2 21.7 149.3 22 149.4 22.3 149.4 22.7 149.4 23 149.4 23.3 149.2 23.7 149.1 24 148.8 24.3 148.6 24.7 148.3 25 148 25.3 147.6 25.7 147.3 26 146.9 26.3 146.6 26.7 146.3 27 146 27.3 145.7 27.7 145.5 28 145.4 28.3 145.3 28.7 145.2 29 145.2 29.3 145.3 29.7 145.4 30 145.6 30.3 145.8 30.7 146 31 146.3 31.3 146.5 31.7 146.8 32 147.1 32.3 147.3 32.7 147.5 33 147.7 33.3 147.8 33.7 147.9 34 147.9 34.3 147.9 34.7 147.8 35 147.7 35.3 147.5 35.7 147.3 36 147 36.3 146.7 36.7 146.4 37 146 37.3 145.7 37.7 145.3 38 145 38.3 144.7 38.7 144.5 39 144.2 39.3 144.1 39.7 143.9 40 143.9 40.3 143.9 40.7 143.9 41 144 41.3 144.2 41.7 144.3 42 144.6 42.3 144.8 42.7 145.1 43 145.4 43.3 145.6 43.7 145.9 44 146.1 44.3 146.3 44.7 146.5 45 146.6 45.3 146.7 45.7 146.7 46 146.6 46.3 146.5 46.7 146.4 47 146.1 47.3 145.9 47.7 145.6 48 145.3 48.3 145 48.7 144.6 49 144.3 49.3 143.9 49.7 143.6 50 143.3 50.3 143.2 50.7 143 51 142.9 51.3 142.9 51.7 142.9 52 143 52.3 143.2 52.7 143.3 53 143.6 53.3 143.9 53.7 144.2 54 144.5 54.3 144.8 54.7 145.1 55 145.5 55.3 145.8 55.7 146.1 56 146.3 56.3 146.5 56.7 146.7 57 146.8 57.3 146.8 57.7 146.8 58 146.7 58.3 146.6 58.7 146.4 59 146.2 59.3 146 59.7 145.7 60 145.5 60.3 145.2 60.7 144.9 61 144.6 61.3 144.4 61.7 144.2 62 144.1 62.3 144 62.7 143.9 63 144 63.3 144 63.7 144.2 64 144.3 64.3 144.6 64.7 144.9 65 145.2 65.3 145.5 65.7 145.9 66 146.2 66.3 146.6 66.7 146.9 67 147.2 67.3 147.5 67.7 147.8 68 148 68.3 148.1 68.7 148.2 69 148.3 69.3 148.2 69.7 148.2 70 148.1 70.3 147.9 70.7 147.7 71 147.5 71.3 147.2 71.7 147 72 146.7 72.3 146.5 72.7 146.2 73 146 73.3 145.9 73.7 145.8 74 145.7 74.3 145.7 74.7 145.8 75 145.9 75.3 146 75.7 146.3 76 146.5 76.3 146.9 76.7 147.2 77 147.6 77.3 147.9 77.7 148.3 78 148.7 78.3 149.1 78.7 149.4 79 149.7 79.3 149.9 79.7 150.1 80 150.3 80.3 150.3 80.7 150.4 81 150.3 81.3 150.3 81.7 150.2 82 150 82.3 149.8 82.7 149.6 83 149.3 83.3 149.1 83.7 148.9 84 148.7 84.3 148.5 84.7 148.3 85 148.2 85.3 148.1 85.7 148.1 86 148.2 86.3 148.3 86.7 148.4 87 148.6 87.3 148.9 87.7 149.2 88 149.5 88.3 149.8 88.7 150.2 89 150.6" fill="none" stroke="#4fa88e" stroke-width="1.5" stroke-linejoin="round"/>
<path d="M12 151.1 12.3 150.9 12.7 150.6 13 150.3 13.3 150 13.7 149.7 14 149.3 14.3 148.9 14.7 148.6 15 148.2 15.3 147.9 15.7 147.6 16 147.4 16.3 147.2 16.7 147.1 17 147 17.3 146.9 17.7 147 18 147 18.3 147.2 18.7 147.3 19 147.5 19.3 147.8 19.7 148 20 148.3 20.3 148.5 20.7 148.8 21 149 21.3 149.2 21.7 149.3 22 149.4 22.3 149.4 22.7 149.4 23 149.4 23.3 149.2 23.7 149.1 24 148.8 24.3 148.6 24.7 148.3 25 148 25.3 147.6 25.7 147.3 26 146.9 26.3 146.6 26.7 146.3 27 146 27.3 145.7 27.7 145.5 28 145.4 28.3 145.3 28.7 145.2 29 145.2 29.3 145.3 29.7 145.4 30 145.6 30.3 145.8 30.7 146 31 146.3 31.3 146.5 31.7 146.8 32 147.1 32.3 147.3 32.7 147.5 33 147.7 33.3 147.8 33.7 147.9 34 147.9 34.3 147.9 34.7 147.8 35 147.7 35.3 147.5 35.7 147.3 36 147 36.3 146.7 36.7 146.4 37 146 37.3 145.7 37.7 145.3 38 145 38.3 144.7 38.7 144.5 39 144.2 39.3 144.1 39.7 143.9 40 143.9 40.3 143.9 40.7 143.9 41 144 41.3 144.2 41.7 144.3 42 144.6 42.3 144.8 42.7 145.1 43 145.4 43.3 145.6 43.7 145.9 44 146.1 44.3 146.3 44.7 146.5 45 146.6 45.3 146.7 45.7 146.7 46 146.6 46.3 146.5 46.7 146.4 47 146.1 47.3 145.9 47.7 145.6 48 145.3 48.3 145 48.7 144.6 49 144.3 49.3 143.9 49.7 143.6 50 143.3 50.3 143.2 50.7 143 51 142.9 51.3 142.9 51.7 142.9 52 143 52.3 143.2 52.7 143.3 53 143.6 53.3 143.9 53.7 144.2 54 144.5 54.3 144.8 54.7 145.1 55 145.5 55.3 145.8 55.7 146.1 56 146.3 56.3 146.5 56.7 146.7 57 146.8 57.3 146.8 57.7 146.8 58 146.7 58.3 146.6 58.7 146.4 59 146.2 59.3 146 59.7 145.7 60 145.5 60.3 145.2 60.7 144.9 61 144.6 61.3 144.4 61.7 144.2 62 144.1 62.3 144 62.7 143.9 63 144 63.3 144 63.7 144.2 64 144.3 64.3 144.6 64.7 144.9 65 145.2 65.3 145.5 65.7 145.9 66 146.2 66.3 146.6 66.7 146.9 67 147.2 67.3 147.5 67.7 147.8 68 148 68.3 148.1 68.7 148.2 69 148.3 69.3 148.2 69.7 148.2 70 148.1 70.3 147.9 70.7 147.7 71 147.5 71.3 147.2 71.7 147 72 146.7 72.3 146.5 72.7 146.2 73 146 73.3 145.9 73.7 145.8 74 145.7 74.3 145.7 74.7 145.8 75 145.9 75.3 146 75.7 146.3 76 146.5 76.3 146.9 76.7 147.2 77 147.6 77.3 147.9 77.7 148.3 78 148.7 78.3 149.1 78.7 149.4 79 149.7 79.3 149.9 79.7 150.1 80 150.3 80.3 150.3 80.7 150.4 81 150.3 81.3 150.3 81.7 150.2 82 150 82.3 149.8 82.7 149.6 83 149.3 83.3 149.1 83.7 148.9 84 148.7 84.3 148.5 84.7 148.3 85 148.2 85.3 148.1 85.7 148.1 86 148.2 86.3 148.3 86.7 148.4 87 148.6 87.3 148.9 87.7 149.2 88 149.5 88.3 149.8 88.7 150.2 89 150.6" fill="none" stroke="#d8f2ea" stroke-width="0.5" stroke-linejoin="round"/>
<path d="M20 146.3 20.3 146 20.7 145.8 21 145.6 21.3 145.5 21.7 145.5 22 145.5 22.3 145.5 22.7 145.6 23 145.8 23.3 146 23.7 146.2 24 146.3 24.3 146.5 24.7 146.7 25 146.8 25.3 146.9 25.7 147 26 147 26.3 146.9 26.7 146.8 27 146.6 27.3 146.4 27.7 146.1 28 145.8 28.3 145.5 28.7 145.2 29 144.9 29.3 144.5 29.7 144.3 30 144 30.3 143.8 30.7 143.7 31 143.6 31.3 143.6 31.7 143.6 32 143.7 32.3 143.8 32.7 144 33 144.2 33.3 144.3 33.7 144.5 34 144.7 34.3 144.9 34.7 145 35 145.1 35.3 145.1 35.7 145.1 36 145.1 36.3 145 36.7 144.8 37 144.6 37.3 144.3 37.7 144 38 143.7 38.3 143.5 38.7 143.2 39 142.9 39.3 142.7 39.7 142.5 40 142.3 40.3 142.3 40.7 142.2 41 142.3 41.3 142.4 41.7 142.5 42 142.7 42.3 142.9 42.7 143.1 43 143.3 43.3 143.6 43.7 143.8 44 143.9 44.3 144.1 44.7 144.2 45 144.2 45.3 144.2 45.7 144.1 46 143.9 46.3 143.7 46.7 143.5 47 143.2 47.3 142.9 47.7 142.7 48 142.4 48.3 142.1 48.7 141.8 49 141.6 49.3 141.5 49.7 141.4 50 141.3 50.3 141.4 50.7 141.5 51 141.7 51.3 141.9 51.7 142.1 52 142.4 52.3 142.7 52.7 143 53 143.2 53.3 143.5 53.7 143.7 54 143.8 54.3 144 54.7 144 55 144 55.3 143.9 55.7 143.8 56 143.7 56.3 143.5 56.7 143.3 57 143 57.3 142.8 57.7 142.5 58 142.3 58.3 142.2 58.7 142 59 141.9 59.3 141.9 59.7 142 60 142 60.3 142.2 60.7 142.4 61 142.6 61.3 142.9 61.7 143.2 62 143.4 62.3 143.7 62.7 144 63 144.2 63.3 144.4 63.7 144.5 64 144.6 64.3 144.7 64.7 144.6 65 144.5 65.3 144.4 65.7 144.3 66 144.1 66.3 143.9 66.7 143.7 67 143.5 67.3 143.3 67.7 143.1 68 143 68.3 143 68.7 142.9 69 143 69.3 143.1 69.7 143.2 70 143.4 70.3 143.7 70.7 143.9 71 144.3 71.3 144.6 71.7 144.9 72 145.2 72.3 145.5 72.7 145.7 73 145.9 73.3 146.1 73.7 146.1 74 146.2 74.3 146.1 74.7 146.1 75 145.9 75.3 145.8 75.7 145.6 76 145.4 76.3 145.2 76.7 145 77 144.8 77.3 144.7 77.7 144.6 78 144.5 78.3 144.5 78.7 144.6 79 144.7 79.3 144.9 79.7 145.1 80 145.4 80.3 145.7 80.7 146.1 81 146.4 81.3 146.7 81.7 147.1 82 147.3 82.3 147.6 82.7 147.8 83 147.9 83.3 148 83.7 148.1 84 148 84.3 148 84.7 147.8 85 147.7 85.3 147.5 85.7 147.3 86 147.2 86.3 147 86.7 146.9 87 146.8 87.3 146.7 87.7 146.7 88 146.8" fill="none" stroke="#8fd0bc" stroke-width="1.5" stroke-linejoin="round"/>
<path d="M20 146.3 20.3 146 20.7 145.8 21 145.6 21.3 145.5 21.7 145.5 22 145.5 22.3 145.5 22.7 145.6 23 145.8 23.3 146 23.7 146.2 24 146.3 24.3 146.5 24.7 146.7 25 146.8 25.3 146.9 25.7 147 26 147 26.3 146.9 26.7 146.8 27 146.6 27.3 146.4 27.7 146.1 28 145.8 28.3 145.5 28.7 145.2 29 144.9 29.3 144.5 29.7 144.3 30 144 30.3 143.8 30.7 143.7 31 143.6 31.3 143.6 31.7 143.6 32 143.7 32.3 143.8 32.7 144 33 144.2 33.3 144.3 33.7 144.5 34 144.7 34.3 144.9 34.7 145 35 145.1 35.3 145.1 35.7 145.1 36 145.1 36.3 145 36.7 144.8 37 144.6 37.3 144.3 37.7 144 38 143.7 38.3 143.5 38.7 143.2 39 142.9 39.3 142.7 39.7 142.5 40 142.3 40.3 142.3 40.7 142.2 41 142.3 41.3 142.4 41.7 142.5 42 142.7 42.3 142.9 42.7 143.1 43 143.3 43.3 143.6 43.7 143.8 44 143.9 44.3 144.1 44.7 144.2 45 144.2 45.3 144.2 45.7 144.1 46 143.9 46.3 143.7 46.7 143.5 47 143.2 47.3 142.9 47.7 142.7 48 142.4 48.3 142.1 48.7 141.8 49 141.6 49.3 141.5 49.7 141.4 50 141.3 50.3 141.4 50.7 141.5 51 141.7 51.3 141.9 51.7 142.1 52 142.4 52.3 142.7 52.7 143 53 143.2 53.3 143.5 53.7 143.7 54 143.8 54.3 144 54.7 144 55 144 55.3 143.9 55.7 143.8 56 143.7 56.3 143.5 56.7 143.3 57 143 57.3 142.8 57.7 142.5 58 142.3 58.3 142.2 58.7 142 59 141.9 59.3 141.9 59.7 142 60 142 60.3 142.2 60.7 142.4 61 142.6 61.3 142.9 61.7 143.2 62 143.4 62.3 143.7 62.7 144 63 144.2 63.3 144.4 63.7 144.5 64 144.6 64.3 144.7 64.7 144.6 65 144.5 65.3 144.4 65.7 144.3 66 144.1 66.3 143.9 66.7 143.7 67 143.5 67.3 143.3 67.7 143.1 68 143 68.3 143 68.7 142.9 69 143 69.3 143.1 69.7 143.2 70 143.4 70.3 143.7 70.7 143.9 71 144.3 71.3 144.6 71.7 144.9 72 145.2 72.3 145.5 72.7 145.7 73 145.9 73.3 146.1 73.7 146.1 74 146.2 74.3 146.1 74.7 146.1 75 145.9 75.3 145.8 75.7 145.6 76 145.4 76.3 145.2 76.7 145 77 144.8 77.3 144.7 77.7 144.6 78 144.5 78.3 144.5 78.7 144.6 79 144.7 79.3 144.9 79.7 145.1 80 145.4 80.3 145.7 80.7 146.1 81 146.4 81.3 146.7 81.7 147.1 82 147.3 82.3 147.6 82.7 147.8 83 147.9 83.3 148 83.7 148.1 84 148 84.3 148 84.7 147.8 85 147.7 85.3 147.5 85.7 147.3 86 147.2 86.3 147 86.7 146.9 87 146.8 87.3 146.7 87.7 146.7 88 146.8" fill="none" stroke="#d8f2ea" stroke-width="0.5" stroke-linejoin="round"/>
<path d="M36 160C32 154 40 150 46 153C50 156 46 162 40 161 M44 152C50 148 58 150 57 156C56 161 51 160 49 165 M52 151C57 146 64 150 62 156 M60 157C64 152 70 154 70 159 M38 164C42 158 47 158 50 162 M47 155L52 166M50 153L55 164M55 154L50 166 M33 174C29 181 31 189 37 192 M70 186C74 190 70 196 64 195" fill="none" stroke="#5e5e5e" stroke-width="0.7"/>
<path d="M38 188C34 194 40 199 46 196C50 194 52 198 56 196M44 190C46 196 52 197 54 192M60 190C62 196 68 196 70 190" fill="none" stroke="#6fd0ac" stroke-width="0.7"/>
<path d="M36 166.9 37.7 167.1 39.2 167.2 40.2 167.2 40.6 167.1 40.2 167 39.3 167 37.8 167 36 167.2 34.3 167.6 32.7 168 31.7 168.6 31.3 169.2 31.6 169.8 32.6 170.4 34 170.8 35.8 171.2 37.5 171.4 39 171.5 40.1 171.5 40.5 171.4 40.2 171.3 39.3 171.3 37.8 171.3 36.1 171.5 34.3 171.8 32.8 172.3 31.7 172.8 31.2 173.4 31.5 174.1 32.4 174.6 33.8 175.1 35.5 175.5 37.3 175.7 38.8 175.8 39.9 175.8 40.4 175.7 40.1 175.6 39.2 175.6 37.8 175.6 36.1 175.8 34.3 176.1 32.8 176.5 31.7 177.1 31.2 177.7 31.4 178.3 32.2 178.9 33.6 179.4 35.3 179.7 37.1 180 38.7 180.1 39.8 180.1 40.3 180 40.1 179.9 39.2 179.9 37.9 179.9 36.1 180.1 34.4 180.4 32.8 180.8 31.6 181.3 31.1 181.9 31.2 182.6 32 183.1 33.4 183.6 35.1 184 36.9 184.3 38.5 184.4 39.6 184.4 40.2 184.3 40 184.2 39.2 184.2 37.9 184.2 36.2 184.4 34.4 184.7 32.8 185.1 31.6 185.6 31 186.2 31.1 186.8 31.9 187.4 33.2 187.9 34.9 188.3 36.6 188.5 38.3 188.7 39.5 188.7 40.1 188.6 40 188.5 39.2 188.5" fill="none" stroke="#178f63" stroke-width="2.1" stroke-linejoin="round"/>
<path d="M36 166.9 37.7 167.1 39.2 167.2 40.2 167.2 40.6 167.1 40.2 167 39.3 167 37.8 167 36 167.2 34.3 167.6 32.7 168 31.7 168.6 31.3 169.2 31.6 169.8 32.6 170.4 34 170.8 35.8 171.2 37.5 171.4 39 171.5 40.1 171.5 40.5 171.4 40.2 171.3 39.3 171.3 37.8 171.3 36.1 171.5 34.3 171.8 32.8 172.3 31.7 172.8 31.2 173.4 31.5 174.1 32.4 174.6 33.8 175.1 35.5 175.5 37.3 175.7 38.8 175.8 39.9 175.8 40.4 175.7 40.1 175.6 39.2 175.6 37.8 175.6 36.1 175.8 34.3 176.1 32.8 176.5 31.7 177.1 31.2 177.7 31.4 178.3 32.2 178.9 33.6 179.4 35.3 179.7 37.1 180 38.7 180.1 39.8 180.1 40.3 180 40.1 179.9 39.2 179.9 37.9 179.9 36.1 180.1 34.4 180.4 32.8 180.8 31.6 181.3 31.1 181.9 31.2 182.6 32 183.1 33.4 183.6 35.1 184 36.9 184.3 38.5 184.4 39.6 184.4 40.2 184.3 40 184.2 39.2 184.2 37.9 184.2 36.2 184.4 34.4 184.7 32.8 185.1 31.6 185.6 31 186.2 31.1 186.8 31.9 187.4 33.2 187.9 34.9 188.3 36.6 188.5 38.3 188.7 39.5 188.7 40.1 188.6 40 188.5 39.2 188.5" fill="none" stroke="#2cc08b" stroke-width="1.5" stroke-linejoin="round"/>
<path d="M31.5 175.9 32.2 176 32.8 176 33.2 175.9 33.3 175.8 33.2 175.6 32.8 175.5 32.3 175.5 31.6 175.6 30.9 175.8 30.3 176.2 29.9 176.7 29.8 177.2 29.9 177.7 30.3 178.2 30.8 178.6 31.5 178.9 32.2 179 32.8 179 33.2 178.9 33.4 178.8 33.4 178.6 33 178.5 32.5 178.5 31.8 178.6 31.1 178.8 30.5 179.1 30.1 179.6 29.9 180.1 30 180.6 30.3 181.1 30.9 181.5 31.5 181.8 32.2 182 32.9 182 33.3 181.9 33.5 181.8 33.5 181.6 33.2 181.5 32.7 181.5 32 181.5 31.3 181.7 30.7 182.1 30.3 182.5 30 183 30.1 183.6 30.4 184.1 30.9 184.5 31.5 184.8 32.2 185 32.9 185 33.4 185 33.6 184.8 33.6 184.7 33.4 184.5 32.9 184.5 32.2 184.5 31.6 184.7 30.9 185 30.4 185.5 30.2 186 30.2 186.5 30.4 187 30.9 187.4 31.6 187.8 32.3 188 32.9 188 33.4 188 33.7 187.8 33.8 187.7 33.5 187.5" fill="none" stroke="#25a476" stroke-width="1.7999999999999998" stroke-linejoin="round"/>
<path d="M31.5 175.9 32.2 176 32.8 176 33.2 175.9 33.3 175.8 33.2 175.6 32.8 175.5 32.3 175.5 31.6 175.6 30.9 175.8 30.3 176.2 29.9 176.7 29.8 177.2 29.9 177.7 30.3 178.2 30.8 178.6 31.5 178.9 32.2 179 32.8 179 33.2 178.9 33.4 178.8 33.4 178.6 33 178.5 32.5 178.5 31.8 178.6 31.1 178.8 30.5 179.1 30.1 179.6 29.9 180.1 30 180.6 30.3 181.1 30.9 181.5 31.5 181.8 32.2 182 32.9 182 33.3 181.9 33.5 181.8 33.5 181.6 33.2 181.5 32.7 181.5 32 181.5 31.3 181.7 30.7 182.1 30.3 182.5 30 183 30.1 183.6 30.4 184.1 30.9 184.5 31.5 184.8 32.2 185 32.9 185 33.4 185 33.6 184.8 33.6 184.7 33.4 184.5 32.9 184.5 32.2 184.5 31.6 184.7 30.9 185 30.4 185.5 30.2 186 30.2 186.5 30.4 187 30.9 187.4 31.6 187.8 32.3 188 32.9 188 33.4 188 33.7 187.8 33.8 187.7 33.5 187.5" fill="none" stroke="#45c99a" stroke-width="1.2" stroke-linejoin="round"/>
<path d="M58.5 159.9 59.9 160.1 61 160.2 61.8 160.1 62.1 160.1 61.8 160 61.1 159.9 59.9 160 58.5 160.2 57.2 160.5 56 161 55.2 161.5 54.8 162.1 55.1 162.7 55.8 163.3 56.9 163.7 58.3 164.1 59.7 164.3 60.9 164.4 61.7 164.3 62 164.3 61.8 164.2 61.1 164.1 60 164.2 58.6 164.4 57.2 164.7 56 165.1 55.2 165.6 54.8 166.2 55 166.9 55.6 167.4 56.7 167.9 58.1 168.2 59.5 168.5 60.7 168.6 61.5 168.5 61.9 168.5 61.8 168.4 61.1 168.3 60 168.4 58.7 168.5 57.3 168.8 56 169.3 55.1 169.8 54.7 170.4 54.8 171 55.5 171.6 56.6 172 57.9 172.4 59.3 172.6 60.5 172.8 61.4 172.7 61.8 172.7 61.7 172.6 61.1 172.5 60.1 172.6 58.7 172.7 57.3 173 56.1 173.4 55.1 173.9 54.7 174.5 54.7 175.1 55.3 175.7 56.4 176.2 57.7 176.6 59.1 176.8 60.3 176.9 61.3 177 61.8 176.9 61.7 176.8 61.1 176.7 60.1 176.8 58.8 176.9 57.4 177.2 56.1 177.6 55.1 178.1 54.6 178.7 54.6 179.3 55.2 179.9 56.2 180.4 57.5 180.8 58.9 181 60.1 181.1 61.1 181.2 61.7 181.1 61.7 181 61.1 180.9 60.2 181 58.9 181.1 57.5 181.3 56.2 181.7 55.2 182.2 54.6 182.8 54.5 183.4 55 184 56 184.5 57.3 184.9 58.7 185.2 60 185.3 61 185.4 61.6 185.3 61.6 185.2 61.1 185.1 60.2 185.1 58.9 185.3 57.5 185.5 56.2 185.9 55.2 186.4 54.5 186.9 54.5 187.6 54.9 188.1 55.8 188.7 57.1 189.1 58.5 189.4 59.8 189.5 60.8 189.6" fill="none" stroke="#178f63" stroke-width="2.0" stroke-linejoin="round"/>
<path d="M58.5 159.9 59.9 160.1 61 160.2 61.8 160.1 62.1 160.1 61.8 160 61.1 159.9 59.9 160 58.5 160.2 57.2 160.5 56 161 55.2 161.5 54.8 162.1 55.1 162.7 55.8 163.3 56.9 163.7 58.3 164.1 59.7 164.3 60.9 164.4 61.7 164.3 62 164.3 61.8 164.2 61.1 164.1 60 164.2 58.6 164.4 57.2 164.7 56 165.1 55.2 165.6 54.8 166.2 55 166.9 55.6 167.4 56.7 167.9 58.1 168.2 59.5 168.5 60.7 168.6 61.5 168.5 61.9 168.5 61.8 168.4 61.1 168.3 60 168.4 58.7 168.5 57.3 168.8 56 169.3 55.1 169.8 54.7 170.4 54.8 171 55.5 171.6 56.6 172 57.9 172.4 59.3 172.6 60.5 172.8 61.4 172.7 61.8 172.7 61.7 172.6 61.1 172.5 60.1 172.6 58.7 172.7 57.3 173 56.1 173.4 55.1 173.9 54.7 174.5 54.7 175.1 55.3 175.7 56.4 176.2 57.7 176.6 59.1 176.8 60.3 176.9 61.3 177 61.8 176.9 61.7 176.8 61.1 176.7 60.1 176.8 58.8 176.9 57.4 177.2 56.1 177.6 55.1 178.1 54.6 178.7 54.6 179.3 55.2 179.9 56.2 180.4 57.5 180.8 58.9 181 60.1 181.1 61.1 181.2 61.7 181.1 61.7 181 61.1 180.9 60.2 181 58.9 181.1 57.5 181.3 56.2 181.7 55.2 182.2 54.6 182.8 54.5 183.4 55 184 56 184.5 57.3 184.9 58.7 185.2 60 185.3 61 185.4 61.6 185.3 61.6 185.2 61.1 185.1 60.2 185.1 58.9 185.3 57.5 185.5 56.2 185.9 55.2 186.4 54.5 186.9 54.5 187.6 54.9 188.1 55.8 188.7 57.1 189.1 58.5 189.4 59.8 189.5 60.8 189.6" fill="none" stroke="#2cc08b" stroke-width="1.4" stroke-linejoin="round"/>
<path d="M68 161.9 69.6 162.1 71 162.2 71.9 162.2 72.2 162.1 71.9 162 71 162 69.7 162.1 68.1 162.3 66.5 162.6 65.1 163.1 64.2 163.6 63.9 164.3 64.2 164.9 65 165.5 66.4 165.9 68 166.3 69.6 166.5 71 166.6 71.9 166.6 72.3 166.5 72 166.4 71.2 166.4 69.9 166.5 68.3 166.7 66.7 167 65.3 167.5 64.3 168 64 168.6 64.2 169.2 65 169.8 66.3 170.3 67.9 170.7 69.5 170.9 71 171 72 171 72.4 170.9 72.2 170.8 71.4 170.8 70.1 170.9 68.5 171 66.9 171.4 65.5 171.8 64.5 172.4 64 173 64.2 173.6 65 174.2 66.3 174.7 67.9 175 69.5 175.3 71 175.4 72 175.4 72.5 175.3 72.3 175.2 71.5 175.2 70.3 175.3 68.7 175.4 67.1 175.7 65.7 176.2 64.6 176.7 64.1 177.3 64.3 177.9 65 178.5 66.3 179 67.9 179.4 69.5 179.7 70.9 179.8 72 179.8 72.5 179.7 72.4 179.6 71.7 179.6 70.5 179.7 68.9 179.8 67.3 180.1 65.8 180.5 64.8 181.1 64.2 181.7 64.3 182.3 65.1 182.9 66.3 183.4 67.8 183.8 69.5 184 70.9 184.2 72 184.2 72.6 184.1 72.5 184 71.8 184 70.7 184 69.1 184.2 67.5 184.5 66 184.9 64.9 185.4 64.3 186 64.4 186.7 65.1 187.2 66.3 187.8" fill="none" stroke="#178f63" stroke-width="2.1" stroke-linejoin="round"/>
<path d="M68 161.9 69.6 162.1 71 162.2 71.9 162.2 72.2 162.1 71.9 162 71 162 69.7 162.1 68.1 162.3 66.5 162.6 65.1 163.1 64.2 163.6 63.9 164.3 64.2 164.9 65 165.5 66.4 165.9 68 166.3 69.6 166.5 71 166.6 71.9 166.6 72.3 166.5 72 166.4 71.2 166.4 69.9 166.5 68.3 166.7 66.7 167 65.3 167.5 64.3 168 64 168.6 64.2 169.2 65 169.8 66.3 170.3 67.9 170.7 69.5 170.9 71 171 72 171 72.4 170.9 72.2 170.8 71.4 170.8 70.1 170.9 68.5 171 66.9 171.4 65.5 171.8 64.5 172.4 64 173 64.2 173.6 65 174.2 66.3 174.7 67.9 175 69.5 175.3 71 175.4 72 175.4 72.5 175.3 72.3 175.2 71.5 175.2 70.3 175.3 68.7 175.4 67.1 175.7 65.7 176.2 64.6 176.7 64.1 177.3 64.3 177.9 65 178.5 66.3 179 67.9 179.4 69.5 179.7 70.9 179.8 72 179.8 72.5 179.7 72.4 179.6 71.7 179.6 70.5 179.7 68.9 179.8 67.3 180.1 65.8 180.5 64.8 181.1 64.2 181.7 64.3 182.3 65.1 182.9 66.3 183.4 67.8 183.8 69.5 184 70.9 184.2 72 184.2 72.6 184.1 72.5 184 71.8 184 70.7 184 69.1 184.2 67.5 184.5 66 184.9 64.9 185.4 64.3 186 64.4 186.7 65.1 187.2 66.3 187.8" fill="none" stroke="#2cc08b" stroke-width="1.5" stroke-linejoin="round"/>
<path d="M46.8 163L48.6 197M49.1 163L49.9 197M51.4 163L51.2 197M53.7 163L52.5 197" stroke="#29b483" stroke-width="1.2"/>
<path d="M47 170L49 196M52 170L52.5 196" stroke="#178f63" stroke-width="0.4"/>
<path d="M50 160L50 168M53 158L52 166" stroke="#7a4a4a" stroke-width="0.6"/>
<text x="26.30" y="215.60" font-size="5.0" fill="#c0906e" text-anchor="middle" stroke="#c0906e" stroke-width="0.05">t=0ns</text>
<text x="77.10" y="215.60" font-size="5.0" fill="#c0906e" text-anchor="middle" stroke="#c0906e" stroke-width="0.05">t=500ns</text>
<defs><linearGradient id="tg" x1="0" x2="1"><stop offset="0" stop-color="#181898"/><stop offset="0.18" stop-color="#3f4fd0"/><stop offset="0.5" stop-color="#f4f0f0"/><stop offset="0.82" stop-color="#e04848"/><stop offset="1" stop-color="#a01414"/></linearGradient></defs>
<rect x="25.00" y="217.40" width="54.40" height="3.40" fill="url(#tg)"/>
<text x="149.40" y="140.00" font-size="5.0" fill="#2a2a2a" text-anchor="middle" stroke="#2a2a2a" stroke-width="0.16">RMSD Analysis</text>
<path d="M116.8 171.1 117.6 173.5 118.5 170.4 119.3 171.3 120.1 172.3 121 173.8 121.8 173.8 122.6 173.6 123.4 171.2 124.3 172.5 125.1 173.3 125.9 170 126.8 173 127.6 169.2 128.4 172.5 129.3 172.6 130.1 172.7 130.9 172.8 131.7 172.6 132.6 169.3 133.4 172.9 134.2 172.3 135.1 172.8 135.9 173.3 136.7 170.6 137.6 173.3 138.4 172.1 139.2 172.8 140.1 173.2 140.9 173.2 141.7 172.9 142.5 171.8 143.4 171.5 144.2 171.6 145 173.2 145.9 170.9 146.7 172.9 147.5 169 148.4 171.2 149.2 172.7 150 172 150.8 173.2 151.7 171.9 152.5 173.1 153.3 172.8 154.2 171.7 155 172.7 155.8 170.2 156.7 170 157.5 171.9 158.3 170.6 159.1 171.4 160 172.6 160.8 169.5 161.6 172.1 162.5 171.9 163.3 172.7 164.1 171.9 165 170 165.8 172.2 166.6 172.7 167.5 172.4 168.3 172.3 169.1 170.5 169.9 169.5 170.8 172.3 171.6 170.7 172.4 170.9 173.3 172.4 174.1 169.2 174.9 170.6 175.8 172.3 176.6 171.7 177.4 171.1 178.2 171 179.1 172.4 179.9 169.7 180.7 171.9 181.6 171 182.4 171 182.4 194.8 181.6 194.3 180.7 193.2 179.9 193.8 179.1 194.4 178.2 193.5 177.4 192.4 176.6 193.2 175.8 193.3 174.9 192.9 174.1 193.7 173.3 195.2 172.4 192.8 171.6 192.2 170.8 192.9 169.9 193.6 169.1 193.6 168.3 192 167.5 194.3 166.6 194.1 165.8 195.1 165 193.1 164.1 192.8 163.3 193.1 162.5 192.3 161.6 194 160.8 192.1 160 194.1 159.1 194 158.3 192.9 157.5 192 156.7 194.7 155.8 192.7 155 192 154.2 195.5 153.3 194.2 152.5 193.4 151.7 192.8 150.8 195.2 150 192.9 149.2 192.1 148.4 192.8 147.5 194.8 146.7 194.5 145.9 193.2 145 193.5 144.2 193.6 143.4 193.9 142.5 194.7 141.7 193.2 140.9 193.2 140.1 193.5 139.2 192.2 138.4 196 137.6 192.9 136.7 194.1 135.9 193.5 135.1 192.3 134.2 195.5 133.4 194.4 132.6 196.1 131.7 192.2 130.9 193.4 130.1 192.7 129.3 195.9 128.4 192.2 127.6 194 126.8 194 125.9 192.7 125.1 192.3 124.3 193 123.4 194 122.6 192.6 121.8 193.5 121 192 120.1 193.6 119.3 193.9 118.5 193.6 117.6 194.9 116.8 193.5Z" fill="#2e6ee6"/>
<path d="M116.6 171 116.7 181.5 116.9 185.5 117 175.7 117.1 170.3 117.2 178.6 117.4 182.1 117.5 186.1 117.6 171.1 117.7 170.6 117.9 183.5 118 182 118.1 188.9 118.3 185.3 118.4 178.3 118.5 177.2 118.6 195.6 118.8 177.1 118.9 173.8 119 171.5 119.1 179.5 119.3 179.9 119.4 176.7 119.5 178.5 119.7 180.7 119.8 183.4 119.9 186 120 180.3 120.2 167.3 120.3 183.4 120.4 169.7 120.5 177.8 120.7 169.3 120.8 178.9 120.9 173.8 121.1 180.3 121.2 198 121.3 178.5 121.4 184.3 121.6 170.2 121.7 177 121.8 183.1 121.9 178.2 122.1 181.2 122.2 179.5 122.3 172.3 122.4 182.5 122.6 173.5 122.7 191 122.8 175.5 123 183.3 123.1 178.8 123.2 185 123.3 174.9 123.5 185.3 123.6 178 123.7 187 123.8 182.8 124 179.7 124.1 173.7 124.2 183.8 124.4 181.8 124.5 189.4 124.6 176.3 124.7 182.4 124.9 182.1 125 180.6 125.1 180.1 125.2 179.9 125.4 174.8 125.5 172.1 125.6 176.1 125.8 182.6 125.9 188.5 126 185.1 126.1 185.6 126.3 183.8 126.4 183.2 126.5 179.9 126.6 183.7 126.8 190.2 126.9 176.6 127 174.2 127.2 191.4 127.3 180.3 127.4 185 127.5 184.3 127.7 171.3 127.8 194.5 127.9 190.2 128 179.8 128.2 183.5 128.3 179.5 128.4 172.9 128.6 177.9 128.7 181.1 128.8 185.9 128.9 183.2 129.1 179 129.2 187.4 129.3 173.7 129.4 183.8 129.6 185.8 129.7 176.7 129.8 167 130 172.7 130.1 180.1 130.2 182 130.3 188.6 130.5 172.1 130.6 178.6 130.7 182.8 130.8 177.5 131 163.2 131.1 183.8 131.2 193.6 131.4 185.1 131.5 172.6 131.6 175.9 131.7 180 131.9 194.7 132 182.5 132.1 179.3 132.2 188.6 132.4 178 132.5 190.6 132.6 174.1 132.8 175.4 132.9 183.2 133 187.8 133.1 182.7 133.3 180.5 133.4 166.7 133.5 173.9 133.6 174.5 133.8 175 133.9 182.3 134 176.3 134.1 183.6 134.3 179 134.4 176.3 134.5 179.2 134.7 181.2 134.8 184 134.9 175.3 135 176.9 135.2 169.6 135.3 188.9 135.4 187.9 135.5 177.3 135.7 175.3 135.8 170.4 135.9 179.5 136.1 179.8 136.2 192.6 136.3 180 136.4 173.3 136.6 162.5 136.7 187.6 136.8 179.6 136.9 167.9 137.1 179.6 137.2 167.9 137.3 198 137.5 185.6 137.6 182.1 137.7 177.2 137.8 164.4 138 177.5 138.1 168.2 138.2 182.2 138.3 164.4 138.5 172.4 138.6 186.3 138.7 189 138.9 170.6 139 168.4 139.1 184 139.2 183.9 139.4 171.9 139.5 173.8 139.6 173.8 139.7 170.6 139.9 173.9 140 186.4 140.1 182.8 140.3 191.7 140.4 177.7 140.5 177.4 140.6 171.9 140.8 177.5 140.9 169.7 141 166.7 141.1 182.8 141.3 187.6 141.4 183.7 141.5 186.9 141.7 179.9 141.8 173.6 141.9 178.8 142 175.8 142.2 171 142.3 167.2 142.4 168.6 142.5 178.2 142.7 179.2 142.8 175.1 142.9 187.5 143.1 179.4 143.2 182 143.3 186.1 143.4 172.9 143.6 165.4 143.7 183.1 143.8 173.7 143.9 186.7 144.1 180.4 144.2 184.7 144.3 183.1 144.4 164.6 144.6 182.8 144.7 173.8 144.8 173.2 145 175.3 145.1 183.1 145.2 183.9 145.3 184.7 145.5 167.3 145.6 174.3 145.7 162.7 145.8 177.5 146 182 146.1 173.1 146.2 179.7 146.4 179.6 146.5 184.6 146.6 172.8 146.7 172.7 146.9 173.1 147 189.5 147.1 185.2 147.2 177.3 147.4 179.5 147.5 178.8 147.6 179.4 147.8 176.7 147.9 175.9 148 169.9 148.1 173.9 148.3 188.8 148.4 181.5 148.5 178.5 148.6 176.6 148.8 178.4 148.9 180.3 149 173.8 149.2 179.3 149.3 179.6 149.4 173.1 149.5 172.9 149.7 171.5 149.8 171.1 149.9 183.8 150 162.6 150.2 176.2 150.3 174 150.4 173.9 150.6 178.6 150.7 185.3 150.8 178.5 150.9 177 151.1 174 151.2 177.1 151.3 183.9 151.4 175.4 151.6 170.5 151.7 169.7 151.8 170.7 152 168.9 152.1 185.1 152.2 180.2 152.3 176.4 152.5 187.4 152.6 173.6 152.7 182.8 152.8 183.1 153 167.8 153.1 167.8 153.2 171.9 153.4 183.8 153.5 186.3 153.6 169.9 153.7 184.7 153.9 175.4 154 175.3 154.1 174.3 154.2 175.8 154.4 166 154.5 171.3 154.6 169.8 154.8 181 154.9 191.4 155 195.6 155.1 175.6 155.3 166.6 155.4 175.2 155.5 171.7 155.6 190.7 155.8 181.5 155.9 173.1 156 183.9 156.1 181.3 156.3 167.2 156.4 174.3 156.5 176.2 156.7 177.9 156.8 178.6 156.9 175.6 157 179 157.2 174 157.3 171.9 157.4 187.6 157.5 180.1 157.7 180.6 157.8 167.4 157.9 176.7 158.1 183.1 158.2 169.3 158.3 184.9 158.4 175.2 158.6 180.3 158.7 176.9 158.8 179.1 158.9 185.5 159.1 175.1 159.2 187.9 159.3 172.6 159.5 171.6 159.6 182.3 159.7 170.8 159.8 175.3 160 183.6 160.1 185.6 160.2 166.1 160.3 181 160.5 189.9 160.6 185.4 160.7 176.1 160.9 173.8 161 175.7 161.1 170.2 161.2 175.9 161.4 176.4 161.5 176.7 161.6 185.3 161.7 176.1 161.9 168.2 162 184.5 162.1 170.6 162.3 174.7 162.4 176.7 162.5 175.4 162.6 171.1 162.8 176 162.9 191.8 163 173.6 163.1 176.7 163.3 184.9 163.4 182.4 163.5 182.5 163.7 183.2 163.8 164.8 163.9 171.9 164 178.4 164.2 180.8 164.3 186 164.4 180.6 164.5 176 164.7 177.8 164.8 176.2 164.9 179.1 165.1 181.9 165.2 175.3 165.3 172.2 165.4 172 165.6 184.6 165.7 185.8 165.8 184 165.9 183.1 166.1 182.9 166.2 177.5 166.3 181.8 166.4 170.7 166.6 176.2 166.7 172.7 166.8 182.2 167 173.7 167.1 176.8 167.2 180.1 167.3 186.3 167.5 172.3 167.6 171.4 167.7 182.8 167.8 170.3 168 180.4 168.1 173.7 168.2 176.7 168.4 165.6 168.5 182.1 168.6 174.2 168.7 171.6 168.9 190.9 169 182 169.1 198 169.2 180.1 169.4 175.1 169.5 178.1 169.6 187.8 169.8 177.2 169.9 180.3 170 180.7 170.1 171.5 170.3 178.2 170.4 174.1 170.5 169.3 170.6 183 170.8 181.7 170.9 177.8 171 171.5 171.2 164.3 171.3 180.5 171.4 176.7 171.5 166.4 171.7 176.9 171.8 167.4 171.9 177.2 172 178.2 172.2 179.6 172.3 178.7 172.4 178.4 172.6 169.9 172.7 174.8 172.8 174 172.9 175.8 173.1 179 173.2 181.3 173.3 187.9 173.4 160.6 173.6 179.9 173.7 176 173.8 192.1 174 183.3 174.1 166.5 174.2 179.9 174.3 173.9 174.5 183.7 174.6 170.4 174.7 176.6 174.8 176.4 175 176.6 175.1 173.4 175.2 165.3 175.4 180.2 175.5 183.7 175.6 176.8 175.7 170.6 175.9 178.5 176 180.9 176.1 176.1 176.2 177.1 176.4 186.3 176.5 169.9 176.6 173.6 176.8 164.8 176.9 172.6 177 172.4 177.1 170.9 177.3 172.7 177.4 188.8 177.5 175.9 177.6 176.4 177.8 191.4 177.9 176.7 178 165.9 178.1 179.8 178.3 171 178.4 187.8 178.5 169 178.7 173.3 178.8 166.7 178.9 177.7 179 170.5 179.2 176.7 179.3 174.7 179.4 173.1 179.5 183.2 179.7 183.2 179.8 177.5 179.9 171.2 180.1 170.1 180.2 178.8 180.3 192.6 180.4 174.1 180.6 172 180.7 172.5 180.8 169.9 180.9 170.7 181.1 175.7 181.2 186.4 181.3 177 181.5 173.7 181.6 166.5 181.7 178.4 181.8 176.8 182 169 182.1 170 182.2 176.7 182.3 183.6 182.5 181.1 182.6 178.3" fill="none" stroke="#2a6be4" stroke-width="0.55" stroke-linejoin="round"/>
<path d="M116.8 178 117.6 178.8 118.5 179 119.3 176.8 120.1 178.6 121 177 121.8 178.3 122.6 178.8 123.4 178.4 124.3 178.9 125.1 174.3 125.9 179.3 126.8 179.3 127.6 178.4 128.4 175.9 129.3 178.5 130.1 177.3 130.9 177.9 131.7 179.2 132.6 178.1 133.4 178.1 134.2 178.2 135.1 177.1 135.9 177.5 136.7 179.2 137.6 178.7 138.4 178.9 139.2 179.1 140.1 178.9 140.9 177.1 141.7 178.8 142.5 179 143.4 179 144.2 179.5 145 179 145.9 176.7 146.7 179.2 147.5 178.9 148.4 178.1 149.2 179.2 150 179.2 150.8 178.8 151.7 176.6 152.5 178.2 153.3 179 154.2 178.6 155 178.6 155.8 179.2 156.7 178.9 157.5 178.7 158.3 179.2 159.1 179.1 160 178.8 160.8 179 161.6 178.2 162.5 178.7 163.3 179.1 164.1 179.4 165 177.3 165.8 176.8 166.6 178.2 167.5 177.8 168.3 179 169.1 177.5 169.9 178.7 170.8 179 171.6 178.1 172.4 178 173.3 178.6 174.1 179.3 174.9 178 175.8 178.3 176.6 179.5 177.4 178.6 178.2 178.3 179.1 178.9 179.9 179.4 180.7 178.3 181.6 178 182.4 177.7 182.4 188.1 181.6 188.1 180.7 188.5 179.9 187.8 179.1 189.4 178.2 189.2 177.4 188.9 176.6 188.2 175.8 189.6 174.9 188.5 174.1 188.4 173.3 189.2 172.4 188.1 171.6 188.2 170.8 188 169.9 188.4 169.1 191 168.3 189.9 167.5 190.6 166.6 187.7 165.8 188.7 165 187.8 164.1 188 163.3 188.9 162.5 188.4 161.6 188.4 160.8 190 160 188.4 159.1 189.8 158.3 188.7 157.5 187.7 156.7 189.1 155.8 187.7 155 187.7 154.2 188.2 153.3 187.6 152.5 189.9 151.7 189.2 150.8 188.9 150 187.7 149.2 190.1 148.4 188.1 147.5 188.2 146.7 188.7 145.9 189.8 145 188.6 144.2 187.8 143.4 188.9 142.5 187.9 141.7 188.3 140.9 187.6 140.1 189.1 139.2 189.3 138.4 188.4 137.6 189.3 136.7 188.9 135.9 189.4 135.1 189.4 134.2 188.7 133.4 189.1 132.6 189.6 131.7 187.9 130.9 187.9 130.1 187.8 129.3 188.6 128.4 188.4 127.6 187.9 126.8 188.7 125.9 190.1 125.1 188.6 124.3 187.8 123.4 188.3 122.6 188.1 121.8 187.8 121 188.2 120.1 187.6 119.3 187.7 118.5 187.6 117.6 188.3 116.8 188.1Z" fill="#f03838"/>
<path d="M116.6 181.5 116.7 184.5 116.9 182.9 117 193 117.1 177.8 117.2 181.3 117.4 188.8 117.5 181.8 117.6 189.6 117.7 182.8 117.9 183.7 118 181.3 118.1 176.6 118.3 178.5 118.4 193.2 118.5 186 118.6 185.8 118.8 187.4 118.9 185.6 119 187.7 119.1 181.8 119.3 182 119.4 187.5 119.5 181.4 119.7 176.9 119.8 182 119.9 180.5 120 185.8 120.2 179.7 120.3 178.1 120.4 181.5 120.5 190.1 120.7 182.8 120.8 183.7 120.9 183 121.1 184.4 121.2 187.3 121.3 189.4 121.4 175.4 121.6 189.3 121.7 183 121.8 181.5 121.9 194 122.1 182.2 122.2 191.9 122.3 187.5 122.4 178.3 122.6 185.2 122.7 186.4 122.8 182.4 123 172.3 123.1 181.4 123.2 182.1 123.3 177.9 123.5 191.4 123.6 181.9 123.7 181.2 123.8 181.6 124 179.4 124.1 179.4 124.2 183.4 124.4 184.4 124.5 180.7 124.6 182.6 124.7 176.6 124.9 185.4 125 179.6 125.1 184 125.2 178.8 125.4 180.6 125.5 184 125.6 177.4 125.8 194.4 125.9 182.8 126 182.7 126.1 179.6 126.3 190.3 126.4 189.4 126.5 184.4 126.6 176.7 126.8 180.7 126.9 185.8 127 180.6 127.2 177.6 127.3 177.5 127.4 179.5 127.5 183.1 127.7 180 127.8 183.1 127.9 195.8 128 191.2 128.2 178.2 128.3 184.6 128.4 183.4 128.6 182.4 128.7 187.8 128.8 181.5 128.9 181.5 129.1 181.3 129.2 182.5 129.3 188.9 129.4 186.6 129.6 176.8 129.7 181 129.8 179.3 130 186.8 130.1 184 130.2 187.1 130.3 182.7 130.5 174.2 130.6 185.1 130.7 184 130.8 185.3 131 177 131.1 183.4 131.2 179.8 131.4 179.8 131.5 184.6 131.6 184.6 131.7 178.9 131.9 175.1 132 171.6 132.1 180.4 132.2 188.2 132.4 182.7 132.5 172.6 132.6 179 132.8 184.9 132.9 190.7 133 188.4 133.1 184.7 133.3 183.9 133.4 178.1 133.5 180.9 133.6 181.5 133.8 179.4 133.9 183.3 134 181.2 134.1 184.6 134.3 189.6 134.4 186.4 134.5 184.9 134.7 181.9 134.8 176 134.9 182.5 135 185.5 135.2 178.4 135.3 188.8 135.4 181.5 135.5 184.7 135.7 181.5 135.8 177.2 135.9 192.5 136.1 177.7 136.2 187.2 136.3 180.4 136.4 184.3 136.6 179.3 136.7 181.1 136.8 187.2 136.9 191.9 137.1 179.1 137.2 183 137.3 187.4 137.5 180.1 137.6 186.3 137.7 179.4 137.8 185.8 138 185 138.1 188.6 138.2 184.7 138.3 177.5 138.5 186.1 138.6 177.9 138.7 186.5 138.9 189.9 139 185.7 139.1 180.5 139.2 188.5 139.4 183.8 139.5 177.3 139.6 181.4 139.7 189.5 139.9 181.6 140 183.6 140.1 181.4 140.3 175.2 140.4 180.7 140.5 184.6 140.6 184 140.8 182.2 140.9 173.2 141 188.6 141.1 186.3 141.3 187.7 141.4 189 141.5 181 141.7 180.2 141.8 184.4 141.9 190.7 142 175.2 142.2 181.9 142.3 179.7 142.4 185.6 142.5 189.7 142.7 181.6 142.8 177.3 142.9 183.2 143.1 181.7 143.2 175.9 143.3 187.1 143.4 180.6 143.6 186.1 143.7 176.9 143.8 188 143.9 176.4 144.1 187.8 144.2 174.7 144.3 189.3 144.4 181.3 144.6 175.8 144.7 181.9 144.8 184.6 145 178.4 145.1 180.7 145.2 184.2 145.3 182.2 145.5 168.9 145.6 181 145.7 185 145.8 184.4 146 187.6 146.1 179.8 146.2 194.7 146.4 186.7 146.5 184.4 146.6 188 146.7 187.4 146.9 183.5 147 180.1 147.1 187.7 147.2 184.9 147.4 174.3 147.5 177.9 147.6 185.1 147.8 183.5 147.9 184.3 148 186 148.1 183.7 148.3 190.3 148.4 180.3 148.5 181.2 148.6 184.5 148.8 186.4 148.9 186.6 149 189.8 149.2 180.8 149.3 188.4 149.4 185.2 149.5 178.2 149.7 182.4 149.8 192.6 149.9 186.6 150 180.8 150.2 172 150.3 179.6 150.4 179.8 150.6 183.4 150.7 193.6 150.8 186.4 150.9 184.4 151.1 178.7 151.2 177.5 151.3 182 151.4 180.8 151.6 196 151.7 181.1 151.8 180.2 152 188.2 152.1 183.4 152.2 177.3 152.3 188.9 152.5 181.6 152.6 176.9 152.7 184.5 152.8 185.2 153 181.4 153.1 186.2 153.2 186.8 153.4 178.9 153.5 173.5 153.6 172 153.7 182.4 153.9 188.7 154 187.6 154.1 189.4 154.2 191.5 154.4 183.1 154.5 187.9 154.6 176 154.8 186.2 154.9 184.8 155 182.6 155.1 181 155.3 177.9 155.4 183.6 155.5 188.9 155.6 181.3 155.8 185.4 155.9 179.9 156 184.2 156.1 178.4 156.3 184.7 156.4 182 156.5 184.5 156.7 180.2 156.8 177.6 156.9 181.5 157 187.8 157.2 190.3 157.3 181.5 157.4 186.7 157.5 186.5 157.7 184.8 157.8 175.9 157.9 184.5 158.1 178.5 158.2 188.4 158.3 186.6 158.4 185.8 158.6 171.3 158.7 185.9 158.8 186.2 158.9 177.1 159.1 187.5 159.2 183.3 159.3 182.2 159.5 179.7 159.6 178.3 159.7 181 159.8 196 160 183.9 160.1 184 160.2 180 160.3 180.2 160.5 180.5 160.6 178.9 160.7 187 160.9 181.8 161 187 161.1 177.7 161.2 187.3 161.4 182.9 161.5 186.1 161.6 182.5 161.7 178.9 161.9 188.6 162 181 162.1 182.3 162.3 178.9 162.4 183.9 162.5 181.2 162.6 184.3 162.8 184.6 162.9 179.8 163 176.5 163.1 185 163.3 187.2 163.4 186.2 163.5 177.7 163.7 185.8 163.8 184.8 163.9 184.3 164 185 164.2 181.5 164.3 184 164.4 187.3 164.5 180.7 164.7 176.4 164.8 182.5 164.9 183.9 165.1 174.5 165.2 179.9 165.3 185.7 165.4 182.3 165.6 183.4 165.7 177.2 165.8 187.2 165.9 191.1 166.1 182.1 166.2 179.6 166.3 177.7 166.4 187.1 166.6 183.5 166.7 179.3 166.8 188.6 167 186.5 167.1 185.8 167.2 174.9 167.3 182.5 167.5 185.9 167.6 177.4 167.7 187.3 167.8 189.6 168 187.8 168.1 179.7 168.2 179.7 168.4 187.3 168.5 187.6 168.6 188.7 168.7 188.5 168.9 182.5 169 181.1 169.1 174.5 169.2 186.6 169.4 193.5 169.5 180.9 169.6 180.8 169.8 186 169.9 184.7 170 176.7 170.1 179.7 170.3 177.9 170.4 192.3 170.5 179.7 170.6 186.9 170.8 191.8 170.9 191.7 171 189.6 171.2 190.5 171.3 177.3 171.4 181.4 171.5 179.7 171.7 181.7 171.8 195.1 171.9 175.3 172 185.6 172.2 177.3 172.3 189.2 172.4 189 172.6 180.6 172.7 192.5 172.8 183.3 172.9 189 173.1 184.4 173.2 180.4 173.3 181.2 173.4 182.5 173.6 185.8 173.7 183.6 173.8 193.9 174 182.1 174.1 180.9 174.2 179.7 174.3 179.4 174.5 176.4 174.6 178.5 174.7 187.2 174.8 183.3 175 182.2 175.1 184.6 175.2 187.9 175.4 185.8 175.5 186.6 175.6 180.4 175.7 181.8 175.9 179.4 176 182.6 176.1 179.2 176.2 181.3 176.4 182.2 176.5 182 176.6 181.8 176.8 180.7 176.9 189 177 181.4 177.1 178.3 177.3 183.9 177.4 178 177.5 178.1 177.6 183.4 177.8 175.3 177.9 168.2 178 184.3 178.1 187.8 178.3 175.3 178.4 178.9 178.5 185.7 178.7 173.9 178.8 179 178.9 177.5 179 182.1 179.2 173.9 179.3 187.1 179.4 182.3 179.5 184.4 179.7 181.5 179.8 173.2 179.9 182.3 180.1 176.8 180.2 183 180.3 179.1 180.4 181.5 180.6 182 180.7 186.6 180.8 186.5 180.9 178.4 181.1 182.9 181.2 189.7 181.3 185.3 181.5 179.6 181.6 182.4 181.7 181.4 181.8 187.3 182 183.2 182.1 184.7 182.2 193.2 182.3 176.7 182.5 178.3 182.6 175" fill="none" stroke="#f23838" stroke-width="0.55" stroke-linejoin="round"/>
<rect x="110.70" y="142.80" width="77.20" height="62.60" fill="none" stroke="#777" stroke-width="0.6"/>
<line x1="164.80" y1="145.80" x2="173.30" y2="145.80" stroke="#8aaaf0" stroke-width="0.7"/>
<text x="174.00" y="146.90" font-size="3.0" fill="#333" stroke="#333" stroke-width="0.1">Wild Type</text>
<line x1="164.80" y1="149.60" x2="173.30" y2="149.60" stroke="#f08a8a" stroke-width="0.7"/>
<text x="174.00" y="150.70" font-size="3.0" fill="#333" stroke="#333" stroke-width="0.1">FB194Y</text>
<text x="150.80" y="216.70" font-size="5.35" fill="#2a2a2a" text-anchor="middle" stroke="#2a2a2a" stroke-width="0.16">Simulation Time (ns)</text>
<line x1="116.40" y1="205.40" x2="116.40" y2="204.40" stroke="#555" stroke-width="0.4"/>
<text x="116.40" y="209.50" font-size="2.6" fill="#555" text-anchor="middle" stroke="#555" stroke-width="0.1">0</text>
<line x1="129.58" y1="205.40" x2="129.58" y2="204.40" stroke="#555" stroke-width="0.4"/>
<text x="129.58" y="209.50" font-size="2.6" fill="#555" text-anchor="middle" stroke="#555" stroke-width="0.1">100</text>
<line x1="142.76" y1="205.40" x2="142.76" y2="204.40" stroke="#555" stroke-width="0.4"/>
<text x="142.76" y="209.50" font-size="2.6" fill="#555" text-anchor="middle" stroke="#555" stroke-width="0.1">200</text>
<line x1="155.94" y1="205.40" x2="155.94" y2="204.40" stroke="#555" stroke-width="0.4"/>
<text x="155.94" y="209.50" font-size="2.6" fill="#555" text-anchor="middle" stroke="#555" stroke-width="0.1">300</text>
<line x1="169.12" y1="205.40" x2="169.12" y2="204.40" stroke="#555" stroke-width="0.4"/>
<text x="169.12" y="209.50" font-size="2.6" fill="#555" text-anchor="middle" stroke="#555" stroke-width="0.1">400</text>
<line x1="182.30" y1="205.40" x2="182.30" y2="204.40" stroke="#555" stroke-width="0.4"/>
<text x="182.30" y="209.50" font-size="2.6" fill="#555" text-anchor="middle" stroke="#555" stroke-width="0.1">500</text>
<line x1="110.70" y1="204.40" x2="111.70" y2="204.40" stroke="#555" stroke-width="0.4"/>
<text x="109.40" y="205.25" font-size="2.2" fill="#555" text-anchor="end" stroke="#555" stroke-width="0.1">0</text>
<line x1="110.70" y1="198.34" x2="111.70" y2="198.34" stroke="#555" stroke-width="0.4"/>
<text x="109.40" y="199.19" font-size="2.2" fill="#555" text-anchor="end" stroke="#555" stroke-width="0.1">1</text>
<line x1="110.70" y1="192.28" x2="111.70" y2="192.28" stroke="#555" stroke-width="0.4"/>
<text x="109.40" y="193.13" font-size="2.2" fill="#555" text-anchor="end" stroke="#555" stroke-width="0.1">2</text>
<line x1="110.70" y1="186.22" x2="111.70" y2="186.22" stroke="#555" stroke-width="0.4"/>
<text x="109.40" y="187.07" font-size="2.2" fill="#555" text-anchor="end" stroke="#555" stroke-width="0.1">3</text>
<line x1="110.70" y1="180.16" x2="111.70" y2="180.16" stroke="#555" stroke-width="0.4"/>
<text x="109.40" y="181.01" font-size="2.2" fill="#555" text-anchor="end" stroke="#555" stroke-width="0.1">4</text>
<line x1="110.70" y1="174.10" x2="111.70" y2="174.10" stroke="#555" stroke-width="0.4"/>
<text x="109.40" y="174.95" font-size="2.2" fill="#555" text-anchor="end" stroke="#555" stroke-width="0.1">5</text>
<line x1="110.70" y1="168.04" x2="111.70" y2="168.04" stroke="#555" stroke-width="0.4"/>
<text x="109.40" y="168.89" font-size="2.2" fill="#555" text-anchor="end" stroke="#555" stroke-width="0.1">6</text>
<line x1="110.70" y1="161.98" x2="111.70" y2="161.98" stroke="#555" stroke-width="0.4"/>
<text x="109.40" y="162.83" font-size="2.2" fill="#555" text-anchor="end" stroke="#555" stroke-width="0.1">7</text>
<line x1="110.70" y1="155.92" x2="111.70" y2="155.92" stroke="#555" stroke-width="0.4"/>
<text x="109.40" y="156.77" font-size="2.2" fill="#555" text-anchor="end" stroke="#555" stroke-width="0.1">8</text>
<line x1="110.70" y1="149.86" x2="111.70" y2="149.86" stroke="#555" stroke-width="0.4"/>
<text x="109.40" y="150.71" font-size="2.2" fill="#555" text-anchor="end" stroke="#555" stroke-width="0.1">9</text>
<line x1="110.70" y1="143.80" x2="111.70" y2="143.80" stroke="#555" stroke-width="0.4"/>
<text x="109.40" y="144.65" font-size="2.2" fill="#555" text-anchor="end" stroke="#555" stroke-width="0.1">10</text>
<text x="104.90" y="173.80" font-size="4.8" fill="#2a2a2a" text-anchor="middle" transform="rotate(-90 104.9 173.8)" stroke="#2a2a2a" stroke-width="0.16">RMSD (Å)</text>
<text x="240.10" y="138.40" font-size="5.0" fill="#2a2a2a" text-anchor="middle" stroke="#2a2a2a" stroke-width="0.16">RMSD Analysis</text>
<path d="M208.4 196.8 208.8 196.3 209.3 197.5 209.7 197.4 210.2 197 210.6 196.9 211 197 211.5 197.1 211.9 196.7 212.3 196.9 212.8 196.3 213.2 196.2 213.7 196.6 214.1 197.5 214.5 197.2 215 196.9 215.4 196.4 215.8 197.3 216.3 195.3 216.7 196.8 217.2 196.7 217.6 197.4 218 197.1 218.5 195.4 218.9 196.9 219.3 196.5 219.8 196.8 220.2 196.6 220.7 197.1 221.1 197.4 221.5 197.4 222 196.5 222.4 197 222.8 197.3 223.3 197.1 223.7 197.3 224.2 196.5 224.6 196.8 225 196.5 225.5 197 225.9 197 226.3 196.7 226.8 195 227.2 195.6 227.7 196.6 228.1 196.8 228.5 196.9 229 197 229.4 197.2 229.8 197.2 230.3 196.5 230.7 196.9 231.2 196 231.6 197.3 232 197.1 232.5 196.9 232.9 197.2 233.3 197.2 233.8 196.6 234.2 197 234.7 197.1 235.1 196.9 235.5 196.6 236 195.9 236.4 196.3 236.8 196.7 237.3 197.1 237.7 196 238.2 196.8 238.6 195.9 239 196.2 239.5 196.9 239.9 197.1 240.3 196 240.8 197.1 241.2 197 241.7 196 242.1 195.8 242.5 196.2 243 197 243.4 195.8 243.8 195.9 244.3 196.8 244.7 195.9 245.2 196.9 245.6 196.5 246 196.7 246.5 196.9 246.9 196.7 247.3 197.1 247.8 197.1 248.2 196.7 248.7 197.1 249.1 196.6 249.5 196.4 250 196.1 250.4 196.2 250.8 196.7 251.3 196.4 251.7 196.2 252.2 196.1 252.6 196.7 253 197 253.5 197 253.9 196.7 254.3 196.9 254.8 196 255.2 196.5 255.7 197 256.1 196.2 256.5 195.2 257 195.7 257.4 196.5 257.8 196 258.3 196.3 258.7 196.4 259.2 196.7 259.6 196.8 260 196.5 260.5 196.7 260.9 195.2 261.3 195.7 261.8 196.1 262.2 196.5 262.7 196 263.1 196.7 263.5 196.2 264 195.9 264.4 196.4 264.8 196.6 265.3 195.7 265.7 195.9 266.2 196.5 266.6 196.5 267 196.4 267.5 196.9 267.9 195.5 268.3 196.5 268.8 196.4 269.2 194.9 269.7 196.6 270.1 196.6 270.5 196.1 271 196.6 271.4 196.1 271.8 196.5 272.3 196.7 272.7 194.7 273.2 196.8 273.6 195.8 273.6 200.6 273.2 200.6 272.7 200.1 272.3 200.5 271.8 200.6 271.4 200.3 271 200.1 270.5 200.9 270.1 200.5 269.7 200.6 269.2 200.4 268.8 200.1 268.3 200.5 267.9 200.4 267.5 200.3 267 201.2 266.6 200.5 266.2 200.2 265.7 201.8 265.3 200.7 264.8 200.5 264.4 200.1 264 200.6 263.5 200.3 263.1 200.9 262.7 200.8 262.2 200.9 261.8 200.7 261.3 200.6 260.9 200.8 260.5 200.4 260 200.8 259.6 200.1 259.2 200.2 258.7 200.9 258.3 200.2 257.8 200.3 257.4 200.4 257 200.9 256.5 201.8 256.1 200.8 255.7 201 255.2 201.3 254.8 201.3 254.3 200.7 253.9 201.2 253.5 200.4 253 200.4 252.6 201.8 252.2 200.4 251.7 200.2 251.3 200.6 250.8 201.1 250.4 201 250 201.1 249.5 200.3 249.1 201 248.7 200.6 248.2 201.2 247.8 200.4 247.3 200.9 246.9 200.8 246.5 201.2 246 201.1 245.6 201.3 245.2 200.8 244.7 200.4 244.3 200.4 243.8 201.2 243.4 202.1 243 200.4 242.5 200.6 242.1 200.9 241.7 200.7 241.2 201.6 240.8 201.1 240.3 201.4 239.9 200.8 239.5 201 239 200.9 238.6 201 238.2 201 237.7 202 237.3 201.4 236.8 200.4 236.4 200.8 236 200.9 235.5 200.5 235.1 200.7 234.7 201 234.2 201.6 233.8 201.8 233.3 200.6 232.9 201.3 232.5 201.6 232 200.6 231.6 200.9 231.2 201.7 230.7 200.9 230.3 201.2 229.8 200.4 229.4 201.2 229 201.1 228.5 201.6 228.1 200.7 227.7 201.5 227.2 201.3 226.8 200.9 226.3 201 225.9 200.7 225.5 201.8 225 201.2 224.6 201.4 224.2 200.6 223.7 201.5 223.3 202.4 222.8 201.2 222.4 200.5 222 200.9 221.5 201.7 221.1 201.5 220.7 201.8 220.2 201.2 219.8 201.9 219.3 200.9 218.9 202.2 218.5 202 218 200.9 217.6 201.1 217.2 200.6 216.7 201.6 216.3 201.1 215.8 201.9 215.4 201 215 201.5 214.5 202.5 214.1 201.2 213.7 201.2 213.2 200.8 212.8 201.8 212.3 201.2 211.9 200.8 211.5 201.9 211 201.2 210.6 200.8 210.2 201.2 209.7 201.4 209.3 202 208.8 201.6 208.4 200.6Z" fill="#1f5fd6"/>
<path d="M208.4 197.9 208.6 198.4 208.7 198.6 208.9 199.7 209 200 209.2 199.1 209.3 200.1 209.5 198.1 209.6 198.9 209.8 200.6 210 199.5 210.1 200.1 210.3 196.9 210.4 197.2 210.6 198 210.7 200.1 210.9 200.7 211 198.3 211.2 197.9 211.4 197.9 211.5 198 211.7 199.6 211.8 198.6 212 201 212.1 199.7 212.3 198.2 212.4 199.2 212.6 198.8 212.8 199.8 212.9 199.9 213.1 198.6 213.2 199.9 213.4 199.6 213.5 198.8 213.7 199.2 213.8 199.7 214 198.6 214.2 198.2 214.3 200.3 214.5 198.9 214.6 198.3 214.8 199.4 214.9 197.3 215.1 199 215.2 197.4 215.4 198.5 215.6 197 215.7 198.1 215.9 199.9 216 198.7 216.2 197.6 216.3 200.8 216.5 198.2 216.6 200.5 216.8 198.3 217 197.3 217.1 200.9 217.3 198.4 217.4 199.7 217.6 200.2 217.7 197.5 217.9 199 218 198.3 218.2 199.5 218.4 198.9 218.5 197.5 218.7 198.9 218.8 199.7 219 198.6 219.1 199.5 219.3 198.3 219.4 198.8 219.6 199.2 219.8 199 219.9 200.2 220.1 199.9 220.2 199.8 220.4 199.6 220.5 199 220.7 197.6 220.8 200 221 200.7 221.2 199.1 221.3 198.6 221.5 198.8 221.6 200.1 221.8 199.2 221.9 197.8 222.1 198.7 222.2 198 222.4 198.6 222.6 197.9 222.7 197.9 222.9 200.4 223 200 223.2 197.1 223.3 197.8 223.5 198.3 223.6 198.4 223.8 197.3 224 199.8 224.1 197.1 224.3 199.6 224.4 199.6 224.6 198.4 224.7 198.1 224.9 198.9 225.1 199 225.2 196.5 225.4 197.5 225.5 199.4 225.7 198.7 225.8 198.3 226 197.7 226.1 198 226.3 198 226.5 201.8 226.6 197.4 226.8 200.4 226.9 199.3 227.1 199 227.2 199 227.4 198.4 227.5 200.5 227.7 199.3 227.9 198.7 228 198.6 228.2 199 228.3 197.5 228.5 198.4 228.6 198.1 228.8 199.4 228.9 199.4 229.1 196.7 229.3 198.5 229.4 199.8 229.6 197.4 229.7 197.5 229.9 199.8 230 198.6 230.2 198.3 230.3 197.4 230.5 198.9 230.7 198.1 230.8 199 231 199.2 231.1 199.5 231.3 198.4 231.4 198.2 231.6 198.8 231.7 198.6 231.9 198.9 232.1 198.1 232.2 198.5 232.4 198.1 232.5 198.1 232.7 198.9 232.8 199.9 233 198.1 233.1 199.3 233.3 199.1 233.5 198.8 233.6 199.4 233.8 198.1 233.9 199.3 234.1 199 234.2 195.5 234.4 199.1 234.5 199.3 234.7 200.8 234.9 197.5 235 198.8 235.2 199.1 235.3 197.6 235.5 200 235.6 199.2 235.8 197.8 235.9 197.4 236.1 198.2 236.3 201.2 236.4 201 236.6 196 236.7 196.7 236.9 199.4 237 198.5 237.2 198 237.3 199.3 237.5 198.8 237.7 199 237.8 198.9 238 197.5 238.1 200.1 238.3 198.1 238.4 199.9 238.6 199.4 238.7 198.7 238.9 198.8 239.1 198.6 239.2 196.6 239.4 198.3 239.5 199.1 239.7 196.9 239.8 197 240 199.8 240.1 199.5 240.3 196.9 240.5 199.1 240.6 198.6 240.8 199.7 240.9 198.3 241.1 198.4 241.2 197.8 241.4 198.8 241.5 198.5 241.7 197.9 241.9 198.2 242 197.8 242.2 199.3 242.3 197.5 242.5 196.9 242.6 197.5 242.8 199.8 242.9 198 243.1 199.3 243.3 199.4 243.4 198 243.6 199.4 243.7 199.1 243.9 198.5 244 197.8 244.2 198.5 244.3 197.2 244.5 198.3 244.7 197.9 244.8 199 245 198.9 245.1 197.9 245.3 199.5 245.4 199.8 245.6 198.6 245.7 197.7 245.9 199.1 246.1 195.9 246.2 197.9 246.4 199.2 246.5 200.7 246.7 197.7 246.8 200.2 247 201.1 247.1 200.6 247.3 196 247.5 199.7 247.6 198.7 247.8 199.6 247.9 198.3 248.1 197.9 248.2 198.3 248.4 200.1 248.5 199.4 248.7 198.2 248.9 198.9 249 199.4 249.2 199.1 249.3 198.5 249.5 197.8 249.6 197.7 249.8 198 249.9 197.9 250.1 196.8 250.3 197 250.4 199.4 250.6 197.3 250.7 197.1 250.9 198.4 251 200.1 251.2 199.9 251.3 198 251.5 197.3 251.7 197.9 251.8 197.5 252 197.9 252.1 199 252.3 197.3 252.4 197.6 252.6 198.2 252.7 198.4 252.9 197.6 253.1 197.6 253.2 197.2 253.4 197.6 253.5 199 253.7 198.2 253.8 195.5 254 199.1 254.1 198.4 254.3 197.5 254.5 198.2 254.6 195.5 254.8 196.6 254.9 199.7 255.1 200.8 255.2 200.8 255.4 197.6 255.5 198.5 255.7 199.3 255.9 197.1 256 200.3 256.2 197.6 256.3 198.8 256.5 197.2 256.6 198.8 256.8 198.4 256.9 199.6 257.1 197.1 257.3 198.4 257.4 200.4 257.6 197.1 257.7 198.8 257.9 198.9 258 197.8 258.2 198.1 258.4 199.9 258.5 199.6 258.7 199 258.8 198.7 259 197.1 259.1 198.5 259.3 200.3 259.4 199.5 259.6 196.9 259.8 196.1 259.9 197.6 260.1 198.5 260.2 197.8 260.4 198 260.5 198.7 260.7 199.3 260.8 198.6 261 199.7 261.2 196.8 261.3 198.9 261.5 198.8 261.6 196.7 261.8 199.7 261.9 196.6 262.1 196.8 262.2 201.3 262.4 199.8 262.6 198.8 262.7 199.8 262.9 199.6 263 197.1 263.2 198.9 263.3 199.9 263.5 198.1 263.6 198.4 263.8 197.8 264 199.1 264.1 197.7 264.3 197.7 264.4 197 264.6 197.3 264.7 198.6 264.9 198.8 265 197.9 265.2 197.1 265.4 198.7 265.5 198.7 265.7 199.7 265.8 197.7 266 197.8 266.1 198.9 266.3 200 266.4 198.2 266.6 198.2 266.8 197.2 266.9 197.9 267.1 199.3 267.2 199.2 267.4 199.5 267.5 196.5 267.7 199.2 267.8 197.2 268 198.9 268.2 195.6 268.3 198.2 268.5 197.3 268.6 199.7 268.8 198.4 268.9 199.7 269.1 197.8 269.2 200.4 269.4 197.8 269.6 200.4 269.7 197.7 269.9 197.2 270 199.2 270.2 197.8 270.3 198.2 270.5 196.7 270.6 197.9 270.8 198.4 271 197.5 271.1 198.7 271.3 195.7 271.4 199.2 271.6 197.8 271.7 199.9 271.9 197.8 272 197.5 272.2 197.7 272.4 198.5 272.5 198.9 272.7 197.7 272.8 197.3 273 198.7 273.1 199.1 273.3 196.3 273.4 197 273.6 197.5" fill="none" stroke="#1f5fd6" stroke-width="0.6" stroke-linejoin="round"/>
<path d="M208.4 197 208.7 197.7 209.1 196.3 209.4 195.2 209.7 196.4 210 197 210.4 195.5 210.7 195.7 211 196.7 211.3 195.4 211.7 196.4 212 193.7 212.3 195.8 212.7 193.8 213 195.3 213.3 195.2 213.6 193.2 214 194.8 214.3 192.6 214.6 193.5 215 195 215.3 192.2 215.6 194.3 215.9 194.3 216.3 193.3 216.6 193.8 216.9 192.8 217.2 193.5 217.6 192.7 217.9 193.2 218.2 192.5 218.6 191.8 218.9 189.9 219.2 189.3 219.5 188 219.9 188.3 220.2 186.9 220.5 185.7 220.9 182.3 221.2 180.4 221.5 179.3 221.8 176.4 222.2 174.6 222.5 174.1 222.8 172.3 223.1 171.8 223.5 173.9 223.8 177.6 224.1 179.7 224.5 180.3 224.8 183.2 225.1 181.7 225.4 179.5 225.8 179.5 226.1 179.1 226.4 179.6 226.7 180.8 227.1 181.7 227.4 183.1 227.7 183.1 228.1 183.7 228.4 184.8 228.7 182.9 229 185.5 229.4 185.1 229.7 184.7 230 183.7 230.4 184.8 230.7 183.7 231 185.2 231.3 186.4 231.7 187.4 232 186 232.3 187 232.6 189 233 190 233.3 191.8 233.6 192.4 234 192.2 234.3 191.9 234.6 191.8 234.9 190.6 235.3 190.7 235.6 188.5 235.9 189 236.2 186.9 236.6 186.5 236.9 183.5 237.2 184.9 237.6 184.2 237.9 183.3 238.2 182 238.5 180.4 238.9 177.8 239.2 178.7 239.5 177.1 239.9 175.9 240.2 173.7 240.5 173.7 240.8 174.1 241.2 173.3 241.5 173.1 241.8 175.2 242.1 173.9 242.5 175.4 242.8 174.7 243.1 174.2 243.5 177 243.8 175 244.1 175.5 244.4 175.7 244.8 173.7 245.1 172.6 245.4 170.4 245.8 168.4 246.1 165.7 246.4 162.9 246.7 162.5 247.1 160.3 247.4 161.2 247.7 158.6 248 158.2 248.4 155.4 248.7 154 249 154.5 249.4 153.3 249.7 152.3 250 152.5 250.3 154.4 250.7 154.3 251 153.7 251.3 156.5 251.6 155.8 252 155.7 252.3 155.3 252.6 151.8 253 152 253.3 152.2 253.6 150 253.9 151.6 254.3 154.2 254.6 154.4 254.9 159.4 255.3 160.9 255.6 163.2 255.9 164.4 256.2 164.4 256.6 163.8 256.9 163.1 257.2 162.3 257.5 161.5 257.9 161.1 258.2 158.6 258.5 158 258.9 156.9 259.2 157.4 259.5 153.6 259.8 153.6 260.2 156.1 260.5 158.2 260.8 161.3 261.1 163 261.5 165.7 261.8 167.8 262.1 169.5 262.5 166.6 262.8 167.1 263.1 167.1 263.4 165.7 263.8 166 264.1 165.8 264.4 165 264.8 164.1 265.1 164.4 265.4 163.3 265.7 164 266.1 161.9 266.4 167 266.7 171.2 267 175.4 267.4 178.4 267.7 177.5 268 174.9 268.4 171.8 268.7 170 269 168.8 269.3 166 269.7 167.2 270 169.4 270.3 170.3 270.7 170 271 170 271.3 174.1 271.6 167 272 164.5 272.3 158.5 272.6 152.9 272.9 153.8 273.3 153.2 273.6 152.5 273.6 158.5 273.3 161.6 272.9 161.3 272.6 160.4 272.3 165.3 272 170.5 271.6 175 271.3 181.4 271 180.4 270.7 177 270.3 176.3 270 175.2 269.7 174.8 269.3 174.9 269 176.5 268.7 179.9 268.4 182.6 268 181.7 267.7 184.3 267.4 185.2 267 182.8 266.7 176.9 266.4 173.2 266.1 170.7 265.7 169.3 265.4 169.8 265.1 170.9 264.8 171.4 264.4 173.5 264.1 173.4 263.8 171.7 263.4 173.7 263.1 173 262.8 173.7 262.5 175.4 262.1 175.7 261.8 175.9 261.5 174.7 261.1 171.8 260.8 168.2 260.5 166.2 260.2 163.2 259.8 161.6 259.5 164.3 259.2 164.6 258.9 164.8 258.5 166.3 258.2 165.9 257.9 167.3 257.5 168.5 257.2 169.6 256.9 169.2 256.6 169.6 256.2 172.5 255.9 171.5 255.6 170.8 255.3 167 254.9 166.2 254.6 163.2 254.3 161.8 253.9 158.7 253.6 158.8 253.3 160.4 253 159.6 252.6 161.5 252.3 162.9 252 165 251.6 163.1 251.3 161.9 251 162.4 250.7 161.7 250.3 159.9 250 161.2 249.7 158.9 249.4 158.8 249 161.4 248.7 161.9 248.4 164 248 164.2 247.7 166 247.4 166.3 247.1 169.8 246.7 169.1 246.4 171.5 246.1 172.8 245.8 174.4 245.4 176.1 245.1 177.9 244.8 180.2 244.4 182.3 244.1 185.3 243.8 182.8 243.5 184 243.1 182 242.8 182.9 242.5 181.3 242.1 180.7 241.8 182.3 241.5 179.9 241.2 180.6 240.8 182.2 240.5 184.3 240.2 182.9 239.9 183.6 239.5 185.4 239.2 184.7 238.9 186.8 238.5 186.2 238.2 187.6 237.9 188.5 237.6 189.5 237.2 190.8 236.9 192.2 236.6 194.5 236.2 193.8 235.9 194.7 235.6 198.9 235.3 197.8 234.9 196.8 234.6 197.2 234.3 199.5 234 202 233.6 198.4 233.3 198.5 233 196.7 232.6 195.7 232.3 197.1 232 193.6 231.7 193.6 231.3 192 231 195.6 230.7 189.9 230.4 189.7 230 190.4 229.7 191 229.4 191.2 229 192 228.7 194.3 228.4 191.8 228.1 191.4 227.7 189.7 227.4 188.6 227.1 187.7 226.7 187.9 226.4 190 226.1 187 225.8 188.8 225.4 188.5 225.1 189.6 224.8 191.4 224.5 191.4 224.1 188.4 223.8 184.5 223.5 183.3 223.1 179.4 222.8 178.7 222.5 179.5 222.2 182.9 221.8 184.7 221.5 185.2 221.2 188.1 220.9 190.1 220.5 190.8 220.2 193.2 219.9 193.6 219.5 194.5 219.2 197 218.9 196.5 218.6 197.9 218.2 200.1 217.9 199 217.6 199.3 217.2 198.9 216.9 200.6 216.6 199.3 216.3 200.3 215.9 199.5 215.6 200.4 215.3 200.8 215 202.6 214.6 202 214.3 201 214 200.8 213.6 202.3 213.3 203.4 213 201.7 212.7 201.3 212.3 203.1 212 203.5 211.7 202.4 211.3 201.9 211 202 210.7 203.3 210.4 202.7 210 204 209.7 203.4 209.4 202.7 209.1 204.5 208.7 203.9 208.4 203.1Z" fill="#f48080"/>
<path d="M208.4 199.1 208.7 203.2 208.9 202.1 209.2 199 209.4 200.9 209.7 201.3 209.9 198.4 210.2 199.1 210.4 201 210.7 194.6 210.9 197 211.2 200 211.4 200.5 211.7 197.5 211.9 200.8 212.2 203.3 212.4 199.4 212.7 198.8 212.9 199 213.2 196.8 213.4 199.6 213.7 198.7 213.9 199.7 214.2 200.8 214.4 198 214.7 198.1 214.9 198.3 215.2 200.8 215.4 194.6 215.7 197.2 216 195.8 216.2 197.1 216.5 198.3 216.7 196.7 217 197.9 217.2 196.7 217.5 194.8 217.7 194.7 218 193.2 218.2 196 218.5 194.2 218.7 195.9 219 195.4 219.2 191.2 219.5 190.1 219.7 192.7 220 189.2 220.2 190.3 220.5 189.6 220.7 186.2 221 188.9 221.2 182.6 221.5 183.4 221.7 180.4 222 174.2 222.2 177.9 222.5 176.5 222.7 176.5 223 173.7 223.3 173.9 223.5 176.8 223.8 179.6 224 184.1 224.3 184.6 224.5 188.4 224.8 187.5 225 184.2 225.3 187.3 225.5 180.8 225.8 184.9 226 182.8 226.3 184.2 226.5 186.4 226.8 184.3 227 184.5 227.3 187.8 227.5 184.5 227.8 184.9 228 188.9 228.3 188.8 228.5 185.4 228.8 188.5 229 189.6 229.3 187.6 229.5 187 229.8 187.9 230 187.9 230.3 186 230.6 188.8 230.8 184.8 231.1 188.4 231.3 193.2 231.6 187.8 231.8 190.4 232.1 186.8 232.3 190.2 232.6 190.2 232.8 193.2 233.1 192.8 233.3 197.9 233.6 193.3 233.8 195.7 234.1 195.7 234.3 196.1 234.6 196.2 234.8 191.1 235.1 197.8 235.3 192.7 235.6 191.5 235.8 189.2 236.1 190.7 236.3 187.3 236.6 190.3 236.8 188 237.1 188.9 237.3 186 237.6 186.8 237.9 190.1 238.1 187.3 238.4 184.5 238.6 181.5 238.9 185.4 239.1 178.6 239.4 178.5 239.6 182.9 239.9 178.6 240.1 181.7 240.4 179.5 240.6 181.9 240.9 180.5 241.1 178 241.4 176 241.6 178.7 241.9 180.5 242.1 178.4 242.4 173 242.6 178.1 242.9 178.4 243.1 179.4 243.4 179.1 243.6 182.3 243.9 178 244.1 181.6 244.4 176.2 244.7 174.2 244.9 174.8 245.2 173.7 245.4 171.8 245.7 170.5 245.9 171.4 246.2 169.7 246.4 167.6 246.7 166.9 246.9 164.2 247.2 162.7 247.4 160.8 247.7 161.8 247.9 159.5 248.2 160 248.4 161 248.7 159.7 248.9 160.2 249.2 155 249.4 151.6 249.7 153.9 249.9 160.3 250.2 158.2 250.4 156.5 250.7 160.4 250.9 157.5 251.2 162 251.4 158.5 251.7 158.9 252 160.6 252.2 156.4 252.5 157.6 252.7 160.9 253 157.4 253.2 153.8 253.5 154.7 253.7 154.5 254 154.6 254.2 158.3 254.5 161.4 254.7 160.6 255 163.7 255.2 164.1 255.5 165.3 255.7 165.2 256 169.9 256.2 170.3 256.5 166.3 256.7 164.9 257 167.1 257.2 165.7 257.5 167.1 257.7 165.4 258 163.6 258.2 160.4 258.5 163.4 258.7 161.6 259 158.2 259.3 157 259.5 155.5 259.8 159.4 260 157.6 260.3 154 260.5 160.5 260.8 162.9 261 165.8 261.3 168 261.5 169.1 261.8 173.1 262 174.1 262.3 171.2 262.5 174.2 262.8 170.5 263 168.6 263.3 170.1 263.5 166.6 263.8 168.3 264 166.4 264.3 167.2 264.5 168.2 264.8 162.8 265 168 265.3 167.5 265.5 166.3 265.8 167.8 266 166.8 266.3 168 266.6 170 266.8 176.6 267.1 179.9 267.3 178.9 267.6 180.6 267.8 178.1 268.1 180.3 268.3 176 268.6 173.1 268.8 176.7 269.1 173.1 269.3 171 269.6 171.4 269.8 171.5 270.1 172.7 270.3 175.2 270.6 175.1 270.8 174.2 271.1 176.1 271.3 180 271.6 171.7 271.8 166.6 272.1 165.7 272.3 159.6 272.6 163.1 272.8 158.4 273.1 157.8 273.3 156.8 273.6 159.3" fill="none" stroke="#e82828" stroke-width="0.9" stroke-linejoin="round"/>
<rect x="202.50" y="141.90" width="75.70" height="62.90" fill="none" stroke="#777" stroke-width="0.6"/>
<line x1="251.50" y1="145.20" x2="260.00" y2="145.20" stroke="#5a88e8" stroke-width="0.7"/>
<text x="260.70" y="146.30" font-size="3.0" fill="#333" stroke="#333" stroke-width="0.1">Wild Type</text>
<line x1="251.50" y1="149.00" x2="260.00" y2="149.00" stroke="#f07070" stroke-width="0.7"/>
<text x="260.70" y="150.10" font-size="3.0" fill="#333" stroke="#333" stroke-width="0.1">EB194P</text>
<text x="242.20" y="215.20" font-size="5.35" fill="#2a2a2a" text-anchor="middle" stroke="#2a2a2a" stroke-width="0.16">Simulation Time (ns)</text>
<line x1="208.40" y1="204.80" x2="208.40" y2="203.80" stroke="#555" stroke-width="0.4"/>
<text x="208.40" y="208.90" font-size="2.6" fill="#555" text-anchor="middle" stroke="#555" stroke-width="0.1">0</text>
<line x1="221.22" y1="204.80" x2="221.22" y2="203.80" stroke="#555" stroke-width="0.4"/>
<text x="221.22" y="208.90" font-size="2.6" fill="#555" text-anchor="middle" stroke="#555" stroke-width="0.1">100</text>
<line x1="234.04" y1="204.80" x2="234.04" y2="203.80" stroke="#555" stroke-width="0.4"/>
<text x="234.04" y="208.90" font-size="2.6" fill="#555" text-anchor="middle" stroke="#555" stroke-width="0.1">200</text>
<line x1="246.86" y1="204.80" x2="246.86" y2="203.80" stroke="#555" stroke-width="0.4"/>
<text x="246.86" y="208.90" font-size="2.6" fill="#555" text-anchor="middle" stroke="#555" stroke-width="0.1">300</text>
<line x1="259.68" y1="204.80" x2="259.68" y2="203.80" stroke="#555" stroke-width="0.4"/>
<text x="259.68" y="208.90" font-size="2.6" fill="#555" text-anchor="middle" stroke="#555" stroke-width="0.1">400</text>
<line x1="272.50" y1="204.80" x2="272.50" y2="203.80" stroke="#555" stroke-width="0.4"/>
<text x="272.50" y="208.90" font-size="2.6" fill="#555" text-anchor="middle" stroke="#555" stroke-width="0.1">500</text>
<line x1="202.50" y1="203.80" x2="203.50" y2="203.80" stroke="#555" stroke-width="0.4"/>
<text x="201.20" y="204.65" font-size="2.2" fill="#555" text-anchor="end" stroke="#555" stroke-width="0.1">0</text>
<line x1="202.50" y1="197.71" x2="203.50" y2="197.71" stroke="#555" stroke-width="0.4"/>
<text x="201.20" y="198.56" font-size="2.2" fill="#555" text-anchor="end" stroke="#555" stroke-width="0.1">1</text>
<line x1="202.50" y1="191.62" x2="203.50" y2="191.62" stroke="#555" stroke-width="0.4"/>
<text x="201.20" y="192.47" font-size="2.2" fill="#555" text-anchor="end" stroke="#555" stroke-width="0.1">2</text>
<line x1="202.50" y1="185.53" x2="203.50" y2="185.53" stroke="#555" stroke-width="0.4"/>
<text x="201.20" y="186.38" font-size="2.2" fill="#555" text-anchor="end" stroke="#555" stroke-width="0.1">3</text>
<line x1="202.50" y1="179.44" x2="203.50" y2="179.44" stroke="#555" stroke-width="0.4"/>
<text x="201.20" y="180.29" font-size="2.2" fill="#555" text-anchor="end" stroke="#555" stroke-width="0.1">4</text>
<line x1="202.50" y1="173.35" x2="203.50" y2="173.35" stroke="#555" stroke-width="0.4"/>
<text x="201.20" y="174.20" font-size="2.2" fill="#555" text-anchor="end" stroke="#555" stroke-width="0.1">5</text>
<line x1="202.50" y1="167.26" x2="203.50" y2="167.26" stroke="#555" stroke-width="0.4"/>
<text x="201.20" y="168.11" font-size="2.2" fill="#555" text-anchor="end" stroke="#555" stroke-width="0.1">6</text>
<line x1="202.50" y1="161.17" x2="203.50" y2="161.17" stroke="#555" stroke-width="0.4"/>
<text x="201.20" y="162.02" font-size="2.2" fill="#555" text-anchor="end" stroke="#555" stroke-width="0.1">7</text>
<line x1="202.50" y1="155.08" x2="203.50" y2="155.08" stroke="#555" stroke-width="0.4"/>
<text x="201.20" y="155.93" font-size="2.2" fill="#555" text-anchor="end" stroke="#555" stroke-width="0.1">8</text>
<line x1="202.50" y1="148.99" x2="203.50" y2="148.99" stroke="#555" stroke-width="0.4"/>
<text x="201.20" y="149.84" font-size="2.2" fill="#555" text-anchor="end" stroke="#555" stroke-width="0.1">9</text>
<line x1="202.50" y1="142.90" x2="203.50" y2="142.90" stroke="#555" stroke-width="0.4"/>
<text x="201.20" y="143.75" font-size="2.2" fill="#555" text-anchor="end" stroke="#555" stroke-width="0.1">10</text>
<text x="197.40" y="171.00" font-size="4.8" fill="#2a2a2a" text-anchor="middle" transform="rotate(-90 197.4 171)" stroke="#2a2a2a" stroke-width="0.16">RMSD (Å)</text>
<text x="332.20" y="140.00" font-size="5.0" fill="#2a2a2a" text-anchor="middle" stroke="#2a2a2a" stroke-width="0.16">RMSD Analysis</text>
<path d="M302.5 192 302.8 191.7 303.1 192.2 303.4 193.3 303.7 192 304 191.5 304.3 193.1 304.6 193.3 304.9 192.8 305.2 193.1 305.5 190.1 305.8 190.7 306.1 192.6 306.4 192.8 306.7 193 307 192.4 307.3 190.9 307.6 191.9 307.9 193 308.2 190.9 308.5 193.1 308.8 191.7 309.1 192.9 309.4 192.6 309.7 191 310 189.8 310.3 191.9 310.6 192.6 310.9 190.8 311.2 189.9 311.5 192.4 311.8 192.7 312.1 192.6 312.4 192.2 312.7 192.6 313 191.8 313.3 192.5 313.6 192.9 313.9 190.2 314.2 192.5 314.5 191.6 314.8 192.4 315.1 192.4 315.4 190.6 315.7 191.4 316 190.7 316.3 192.1 316.6 192.5 316.9 192.2 317.2 191.6 317.4 191.7 317.7 191.6 318 192.6 318.3 191.8 318.6 192.1 318.9 192.2 319.2 191.8 319.5 192.1 319.8 188.9 320.1 192.2 320.4 190.5 320.7 191.9 321 191.7 321.3 190.3 321.6 190.7 321.9 191.9 322.2 191.8 322.5 190.9 322.8 191.4 323.1 192.4 323.4 190.6 323.7 189.8 324 191.6 324.3 190.3 324.6 190.9 324.9 191.5 325.2 191.3 325.5 190.7 325.8 191.2 326.1 189.5 326.4 189.6 326.7 190.8 327 192 327.3 192.2 327.6 191.5 327.9 190.4 328.2 192.2 328.5 191.5 328.8 190.1 329.1 191.3 329.4 190.9 329.7 190.3 330 190.3 330.3 190.9 330.6 191.4 330.9 191.2 331.2 192 331.5 191.5 331.8 190.2 332.1 191.3 332.4 190.5 332.7 190.2 333 190.4 333.3 190.2 333.6 188.9 333.9 189.4 334.2 190.6 334.5 191.3 334.8 191.6 335.1 190.4 335.4 191.6 335.7 190 336 189.1 336.3 191.2 336.6 190.6 336.9 189.9 337.2 191.4 337.5 189.5 337.8 191.1 338.1 190 338.4 189.4 338.7 191.5 339 191.1 339.3 190.4 339.6 191.3 339.9 190.5 340.2 190.3 340.5 190.2 340.8 188.9 341.1 188.5 341.4 191.2 341.7 190.6 342 191 342.3 189.6 342.6 190.7 342.9 190.8 343.2 191 343.5 191.2 343.8 190.8 344.1 191.3 344.4 190.3 344.7 190.2 345 191.1 345.3 189.1 345.6 189.1 345.9 189.9 346.2 189.4 346.5 189.6 346.8 188.1 347.1 190.2 347.3 189.6 347.6 190.8 347.9 191.1 348.2 190.6 348.5 191 348.8 188.7 349.1 191 349.4 190.6 349.7 190.5 350 190.8 350.3 189 350.6 189.9 350.9 190.5 351.2 190.9 351.5 190.8 351.8 188.5 352.1 188.5 352.4 189 352.7 190.9 353 190.9 353.3 189.8 353.6 190.6 353.9 190.3 354.2 189.8 354.5 190.8 354.8 189.7 355.1 190.2 355.4 190.3 355.7 188 356 189.3 356.3 190.4 356.6 189.9 356.9 189.4 357.2 188.6 357.5 190.4 357.8 189.4 358.1 189.5 358.4 190.5 358.7 188.3 359 190.5 359.3 186.8 359.6 189.9 359.9 188.8 360.2 187.6 360.5 187.8 360.8 190.3 361.1 190.2 361.4 189.5 361.7 189.8 362 190.3 362 196.8 361.7 198.9 361.4 200.2 361.1 196.8 360.8 200.9 360.5 196.6 360.2 196.8 359.9 197.1 359.6 197.4 359.3 197.1 359 198 358.7 196.7 358.4 197.7 358.1 197.7 357.8 199.2 357.5 197.9 357.2 198.9 356.9 196.7 356.6 198 356.3 196.7 356 199.3 355.7 196.9 355.4 197.9 355.1 197.3 354.8 198.7 354.5 197.7 354.2 197 353.9 198.6 353.6 198.1 353.3 197.1 353 197.4 352.7 198.3 352.4 197.2 352.1 197.9 351.8 198.2 351.5 197.8 351.2 198.3 350.9 197.7 350.6 197.5 350.3 197.5 350 198.5 349.7 197 349.4 197.5 349.1 197.7 348.8 197.8 348.5 198.8 348.2 197.5 347.9 197.1 347.6 199.3 347.3 198 347.1 198.2 346.8 198.9 346.5 198.2 346.2 199.2 345.9 198.5 345.6 199.6 345.3 200 345 197.6 344.7 197.8 344.4 197.8 344.1 197.8 343.8 199 343.5 197.5 343.2 199 342.9 198.7 342.6 197.4 342.3 198.2 342 197.4 341.7 198.6 341.4 199.6 341.1 197.7 340.8 197.8 340.5 197.4 340.2 198.5 339.9 199.8 339.6 197.8 339.3 197.8 339 198.3 338.7 198 338.4 197.9 338.1 199.1 337.8 197.4 337.5 198.8 337.2 198.6 336.9 199 336.6 197.6 336.3 197.7 336 199 335.7 198.9 335.4 199.1 335.1 200.5 334.8 198.5 334.5 197.4 334.2 199.8 333.9 198.5 333.6 197.7 333.3 197.5 333 198.8 332.7 198.6 332.4 201.2 332.1 197.6 331.8 198.9 331.5 199.5 331.2 197.6 330.9 199.7 330.6 199.2 330.3 198 330 198.1 329.7 198.8 329.4 200.7 329.1 199.9 328.8 198.9 328.5 199.5 328.2 199.4 327.9 199.2 327.6 199 327.3 199.1 327 199.1 326.7 199.7 326.4 197.7 326.1 199.1 325.8 197.8 325.5 197.9 325.2 198.2 324.9 198.7 324.6 197.8 324.3 198.2 324 198 323.7 199.4 323.4 198.5 323.1 198.4 322.8 198.2 322.5 199.2 322.2 199.7 321.9 198.7 321.6 199.9 321.3 198.3 321 198.6 320.7 198.7 320.4 198.5 320.1 198.8 319.8 199 319.5 198.2 319.2 198.5 318.9 198.4 318.6 199.1 318.3 199.3 318 198.4 317.7 198.6 317.4 198.2 317.2 199.4 316.9 198.1 316.6 198.1 316.3 198.7 316 200.8 315.7 198.8 315.4 199.7 315.1 199.4 314.8 198.8 314.5 198.9 314.2 200.1 313.9 200.2 313.6 198.9 313.3 198.3 313 198.7 312.7 198.6 312.4 198.5 312.1 200.3 311.8 199.9 311.5 198.3 311.2 199.4 310.9 199.6 310.6 198.5 310.3 200.2 310 198.8 309.7 198.6 309.4 198.4 309.1 199.9 308.8 198.5 308.5 198.5 308.2 200.3 307.9 198.8 307.6 198.6 307.3 199.6 307 199.6 306.7 199 306.4 198.9 306.1 199.3 305.8 198.6 305.5 199 305.2 201.1 304.9 200.4 304.6 200.9 304.3 200.5 304 199.6 303.7 198.6 303.4 199.3 303.1 198.7 302.8 199.3 302.5 199.6Z" fill="#1f64dc"/>
<path d="M302.5 197.8 302.6 196.8 302.7 198.4 302.8 195.9 303 193.9 303.1 197.4 303.2 194.6 303.3 195.6 303.4 196.7 303.5 194.2 303.6 198.8 303.8 192.8 303.9 199.4 304 196.3 304.1 200.5 304.2 199.1 304.3 198 304.4 197.1 304.6 196.7 304.7 193.1 304.8 195 304.9 194.1 305 194.7 305.1 196.1 305.3 194.5 305.4 196.7 305.5 195.7 305.6 195.2 305.7 197.3 305.8 197.4 305.9 193.1 306.1 195.6 306.2 201 306.3 196.3 306.4 197.4 306.5 194.2 306.6 198.6 306.7 200 306.9 197.7 307 196 307.1 196.3 307.2 191.7 307.3 197.7 307.4 195.5 307.5 197.2 307.7 197.1 307.8 196.7 307.9 201 308 198.4 308.1 194.7 308.2 197.7 308.3 197.7 308.5 196.3 308.6 199.6 308.7 195.3 308.8 192 308.9 193.6 309 197.1 309.1 193.8 309.3 196.5 309.4 192.5 309.5 197.1 309.6 195.5 309.7 194 309.8 194.8 310 195.5 310.1 198.3 310.2 196.7 310.3 195.6 310.4 196.5 310.5 198.2 310.6 197.2 310.8 200.3 310.9 194.4 311 198 311.1 196.4 311.2 194.6 311.3 197.5 311.4 198 311.6 198.4 311.7 197.2 311.8 193.9 311.9 196.4 312 196.9 312.1 200 312.2 196.3 312.4 196.4 312.5 199.7 312.6 196.1 312.7 194.9 312.8 196.7 312.9 197.8 313 196.3 313.2 192 313.3 195 313.4 198.3 313.5 194.2 313.6 198 313.7 196.3 313.8 194 314 197.8 314.1 190.8 314.2 190.9 314.3 192.2 314.4 197.2 314.5 195.2 314.7 197.4 314.8 195.7 314.9 196.2 315 194.6 315.1 194.9 315.2 198.2 315.3 197.7 315.5 192.7 315.6 197.2 315.7 200.6 315.8 197.6 315.9 193.6 316 197.6 316.1 196.3 316.3 195 316.4 198.1 316.5 198.7 316.6 194.5 316.7 196.1 316.8 194.8 316.9 195.8 317.1 199.6 317.2 194.7 317.3 197.1 317.4 196.4 317.5 195.9 317.6 193.1 317.7 197.2 317.9 193.1 318 197.4 318.1 195.5 318.2 196 318.3 194.6 318.4 193.7 318.6 193.3 318.7 195.7 318.8 195.5 318.9 196.3 319 195 319.1 197.5 319.2 196 319.4 195.9 319.5 195.1 319.6 195.6 319.7 197.2 319.8 194 319.9 192.8 320 196.5 320.2 196.6 320.3 195.7 320.4 196.2 320.5 192.5 320.6 193.3 320.7 195.6 320.8 195.5 321 192.6 321.1 196.7 321.2 191.1 321.3 198.5 321.4 193.1 321.5 194.2 321.6 193.1 321.8 192.3 321.9 194.8 322 191 322.1 194.7 322.2 195.9 322.3 194.8 322.4 195.4 322.6 192.1 322.7 191.1 322.8 192.3 322.9 198 323 196.2 323.1 191.2 323.3 199.5 323.4 196.9 323.5 198 323.6 197.8 323.7 198.5 323.8 191.4 323.9 195.6 324.1 193.6 324.2 200 324.3 197 324.4 195.4 324.5 194.8 324.6 190.4 324.7 195.6 324.9 193.4 325 198.6 325.1 197.1 325.2 195.2 325.3 194.4 325.4 197.9 325.5 194.1 325.7 197.9 325.8 195.8 325.9 194.6 326 196.2 326.1 199.4 326.2 191.5 326.3 197.1 326.5 197 326.6 194.7 326.7 198.7 326.8 196.8 326.9 196.5 327 192.9 327.1 196.6 327.3 192.2 327.4 196.4 327.5 200.3 327.6 193.1 327.7 198.9 327.8 192.6 328 195.4 328.1 196.9 328.2 191.8 328.3 196 328.4 193.3 328.5 193.7 328.6 197.2 328.8 195 328.9 196.1 329 195.2 329.1 196 329.2 198.8 329.3 195.4 329.4 194.5 329.6 195.2 329.7 196.8 329.8 196.2 329.9 190 330 194.9 330.1 196.1 330.2 201 330.4 193.7 330.5 194.4 330.6 192.3 330.7 194.9 330.8 190.9 330.9 193.1 331 194.8 331.2 191.5 331.3 194.4 331.4 193.4 331.5 198 331.6 198.8 331.7 200 331.8 195.3 332 196.6 332.1 200.6 332.2 193.5 332.3 199 332.4 192.8 332.5 197.5 332.7 191.3 332.8 194 332.9 194.5 333 194.3 333.1 190.3 333.2 195.2 333.3 194.2 333.5 198.4 333.6 196.3 333.7 189.8 333.8 195.2 333.9 197.4 334 194.7 334.1 193.2 334.3 191.6 334.4 194 334.5 192.6 334.6 194.2 334.7 194.1 334.8 197.9 334.9 192.5 335.1 195.6 335.2 192.2 335.3 195.5 335.4 197.3 335.5 193.5 335.6 192 335.7 194.9 335.9 194.8 336 193.3 336.1 195.8 336.2 194.9 336.3 196.4 336.4 191.5 336.5 196.6 336.7 197.8 336.8 192.8 336.9 199.5 337 195.3 337.1 191.6 337.2 192.2 337.4 192.9 337.5 193.2 337.6 194.1 337.7 195.4 337.8 194.2 337.9 193.9 338 192.4 338.2 189.8 338.3 193 338.4 191.7 338.5 196.8 338.6 189 338.7 197.4 338.8 189 339 194.2 339.1 194.7 339.2 192 339.3 192.3 339.4 196.7 339.5 192 339.6 194.4 339.8 194.7 339.9 196.1 340 191.6 340.1 197.7 340.2 194.2 340.3 197 340.4 191.2 340.6 197.1 340.7 194.3 340.8 196.4 340.9 193 341 196.6 341.1 194.6 341.2 190 341.4 200.5 341.5 192.9 341.6 195.6 341.7 194 341.8 193.4 341.9 193.6 342.1 196.7 342.2 196.7 342.3 196.7 342.4 190.6 342.5 196.4 342.6 190.9 342.7 200 342.9 195.4 343 197.1 343.1 194.4 343.2 194.8 343.3 192.7 343.4 199.2 343.5 193.6 343.7 197 343.8 192.5 343.9 194 344 193.4 344.1 194.1 344.2 193.1 344.3 195.9 344.5 195.9 344.6 190.5 344.7 193.3 344.8 191.2 344.9 196.9 345 191.3 345.1 195.4 345.3 194.7 345.4 194.2 345.5 189.6 345.6 198.4 345.7 193.9 345.8 195.9 345.9 196.8 346.1 191.9 346.2 191.9 346.3 198.4 346.4 198.9 346.5 192.3 346.6 194.1 346.8 196.5 346.9 193.9 347 197.4 347.1 195.7 347.2 194 347.3 195.8 347.4 193.1 347.6 197.2 347.7 192.6 347.8 197.3 347.9 200.2 348 190 348.1 198.2 348.2 190.6 348.4 194 348.5 198.6 348.6 196.8 348.7 195.8 348.8 195 348.9 194.6 349 195.2 349.2 193.7 349.3 193.4 349.4 191.2 349.5 198.3 349.6 194.1 349.7 198.7 349.8 195.9 350 195.2 350.1 191.4 350.2 193.5 350.3 194.2 350.4 193.8 350.5 193.3 350.7 189 350.8 193.1 350.9 193.4 351 192.9 351.1 193.3 351.2 190.3 351.3 192 351.5 197.6 351.6 191.7 351.7 192.7 351.8 192 351.9 193.6 352 192.7 352.1 198.8 352.3 191.5 352.4 197.2 352.5 192.8 352.6 195 352.7 200 352.8 193.9 352.9 193.9 353.1 189 353.2 193.1 353.3 193.4 353.4 194.2 353.5 194.5 353.6 191.3 353.7 191.6 353.9 195.7 354 193.3 354.1 194 354.2 195.5 354.3 194.1 354.4 194.2 354.5 191.3 354.7 193.9 354.8 189.8 354.9 198.1 355 192 355.1 197.9 355.2 192.6 355.4 193.5 355.5 197 355.6 194.3 355.7 194.3 355.8 193.2 355.9 193.2 356 192 356.2 191.9 356.3 189.5 356.4 193.4 356.5 191.9 356.6 197.2 356.7 198.9 356.8 198.4 357 190.9 357.1 192.9 357.2 193.4 357.3 190.1 357.4 197.5 357.5 195.5 357.6 194.4 357.8 198.4 357.9 194.9 358 193 358.1 194.4 358.2 192.6 358.3 194.9 358.4 190.5 358.6 194.9 358.7 193 358.8 192.7 358.9 192.8 359 193.4 359.1 189.5 359.2 195.1 359.4 193.2 359.5 198 359.6 193.6 359.7 195.9 359.8 193.6 359.9 193.3 360.1 190.7 360.2 192.5 360.3 192.2 360.4 189 360.5 192.9 360.6 191.9 360.7 194.3 360.9 196.1 361 192.9 361.1 196.4 361.2 196.6 361.3 195.4 361.4 192.8 361.5 193.8 361.7 197.5 361.8 197.3 361.9 196.3 362 189.4" fill="none" stroke="#1f64dc" stroke-width="0.5" stroke-linejoin="round"/>
<path d="M302.5 189.3 302.7 190.1 302.9 188.3 303.1 187.5 303.3 187.6 303.5 189.3 303.7 189.6 303.9 189.6 304.1 186.7 304.3 188.9 304.5 187.2 304.7 185.2 304.9 181.5 305.1 180.3 305.3 176.9 305.5 173.4 305.7 177.5 305.9 174.5 306.1 176.8 306.3 176.5 306.5 175.6 306.7 176.5 306.9 177.3 307.1 176.6 307.3 177 307.5 177.4 307.7 176.3 307.9 178 308.1 175 308.3 178 308.5 177.7 308.7 178.3 308.9 178.3 309.1 175 309.3 176.7 309.5 178.4 309.7 178.6 309.9 179.1 310.1 176.7 310.3 176.8 310.5 179.5 310.7 178.1 310.9 177 311.1 179 311.3 178.2 311.5 178 311.7 179 311.9 179.9 312.1 179.5 312.3 178.5 312.4 177.6 312.6 179.5 312.8 180.3 313 180 313.2 180.1 313.4 179.3 313.6 180.8 313.8 181 314 180.8 314.2 180.6 314.4 180.1 314.6 179.5 314.8 180.6 315 180.8 315.2 181.2 315.4 179.3 315.6 179.2 315.8 178.4 316 180.4 316.2 177.9 316.4 178.9 316.6 180 316.8 179.8 317 180.7 317.2 179.6 317.4 180.8 317.6 180.6 317.8 178.4 318 177.9 318.2 180.1 318.4 180.3 318.6 180.3 318.8 180.4 319 177.6 319.2 179.2 319.4 176.7 319.6 176.8 319.8 175 320 174.6 320.2 173.1 320.4 171.9 320.6 167.9 320.8 172.4 321 173 321.2 172.9 321.4 173 321.6 172.9 321.8 172.7 322 173.8 322.2 171.2 322.4 170.7 322.6 173.7 322.8 174.7 323 174.9 323.2 174.1 323.4 178.2 323.6 179.9 323.8 178.2 324 182.3 324.2 182 324.4 179.2 324.6 182.2 324.8 179.4 325 182 325.2 180 325.4 182.1 325.6 182.4 325.8 180.9 326 182.4 326.2 181.9 326.4 182 326.6 181.8 326.8 181.8 327 182.1 327.2 181.8 327.4 179.3 327.6 178.9 327.8 178.4 328 175.5 328.2 174 328.4 169.7 328.6 169.4 328.8 166.9 329 167.9 329.2 167.1 329.4 166.4 329.6 167.6 329.8 167.4 330 167.5 330.2 166.6 330.4 167 330.6 167.2 330.8 167.6 331 167.6 331.2 167.2 331.4 166.8 331.6 167.2 331.8 166.6 332 167.4 332.2 166.9 332.3 167.4 332.5 166 332.7 165.2 332.9 166.9 333.1 167.6 333.3 167.4 333.5 166.1 333.7 166.2 333.9 165.5 334.1 166.2 334.3 166.7 334.5 167.6 334.7 167.4 334.9 165.5 335.1 165.6 335.3 166.2 335.5 164.1 335.7 165.8 335.9 167.2 336.1 167.2 336.3 166 336.5 168.1 336.7 167.4 336.9 166.5 337.1 164.4 337.3 167.7 337.5 167.6 337.7 168 337.9 167 338.1 164.1 338.3 167.5 338.5 167.3 338.7 166.6 338.9 166.5 339.1 167.1 339.3 166.2 339.5 167.8 339.7 165.1 339.9 165.1 340.1 166.1 340.3 165.5 340.5 166.8 340.7 166.2 340.9 165.8 341.1 166.7 341.3 165.6 341.5 164.8 341.7 163.5 341.9 165.2 342.1 166.5 342.3 166 342.5 166.2 342.7 162.8 342.9 164.3 343.1 164.6 343.3 165.7 343.5 163 343.7 161.5 343.9 165 344.1 164.1 344.3 162.9 344.5 163.9 344.7 164.7 344.9 165.2 345.1 164.6 345.3 162.7 345.5 163.7 345.7 163.1 345.9 164.7 346.1 163.7 346.3 164.3 346.5 164.5 346.7 164.4 346.9 163.2 347.1 163 347.3 163.3 347.5 163.9 347.7 164.4 347.9 163.1 348.1 161.2 348.3 159.3 348.5 158.9 348.7 156.6 348.9 154.9 349.1 153.4 349.3 153.7 349.5 151.9 349.7 153.1 349.9 153.4 350.1 155.7 350.3 156.3 350.5 157.1 350.7 159.3 350.9 161.6 351.1 162 351.3 161.8 351.5 162.7 351.7 164.8 351.9 163.1 352.1 163.5 352.2 163.7 352.4 162.9 352.6 164.8 352.8 164.6 353 165.1 353.2 165.3 353.4 165.8 353.6 165.2 353.8 166.4 354 165.5 354.2 167.5 354.4 166.9 354.6 167 354.8 166.8 355 167.7 355.2 168 355.4 168.2 355.6 168.3 355.8 166.8 356 167.2 356.2 168.1 356.4 168.7 356.6 167.6 356.8 169 357 167.4 357.2 168.3 357.4 167.6 357.6 167.1 357.8 168.4 358 166.7 358.2 168.2 358.4 169 358.6 167.7 358.8 167.5 359 167.4 359.2 168.8 359.4 168.7 359.6 168.8 359.8 167.2 360 168.4 360.2 168.7 360.4 168.6 360.6 168.4 360.8 166.9 361 165 361.2 168.5 361.4 167.7 361.6 168.4 361.8 166.5 362 167.9 362 176.5 361.8 178.2 361.6 178.2 361.4 176.3 361.2 175.9 361 179 360.8 176.9 360.6 176.1 360.4 175.8 360.2 177.1 360 180.4 359.8 176.7 359.6 177.3 359.4 177 359.2 178.3 359 176.5 358.8 176.1 358.6 176.1 358.4 176.5 358.2 176.9 358 178 357.8 176.3 357.6 177.5 357.4 178.4 357.2 177.9 357 177.9 356.8 176.8 356.6 177 356.4 177.8 356.2 177.6 356 179.5 355.8 177 355.6 176.4 355.4 176.4 355.2 177.5 355 178.5 354.8 176 354.6 175.9 354.4 178.5 354.2 176.4 354 175.4 353.8 175.9 353.6 174.3 353.4 174.7 353.2 175 353 173.6 352.8 173.3 352.6 173.1 352.4 173.9 352.2 176 352.1 173.1 351.9 173.6 351.7 175.6 351.5 172.4 351.3 173.9 351.1 171 350.9 170.9 350.7 167.4 350.5 166 350.3 164.9 350.1 164.3 349.9 162.8 349.7 161.2 349.5 161.4 349.3 163.6 349.1 164.3 348.9 164.2 348.7 166.4 348.5 167.3 348.3 169.4 348.1 169.7 347.9 170.9 347.7 175.1 347.5 172.5 347.3 172.7 347.1 173.8 346.9 173.5 346.7 173.8 346.5 173 346.3 172.7 346.1 172 345.9 172.6 345.7 173.7 345.5 173.3 345.3 174.8 345.1 174 344.9 174 344.7 173.7 344.5 175.5 344.3 174.1 344.1 173.4 343.9 174.5 343.7 174.2 343.5 173.9 343.3 173.9 343.1 174.3 342.9 175.5 342.7 174.1 342.5 174 342.3 177 342.1 175.6 341.9 174.2 341.7 175.8 341.5 174.9 341.3 174.2 341.1 174.1 340.9 175.7 340.7 174.9 340.5 175.8 340.3 176.1 340.1 175.8 339.9 175.2 339.7 175.4 339.5 177 339.3 175.5 339.1 177 338.9 175.2 338.7 175.4 338.5 177.5 338.3 175.6 338.1 176.1 337.9 176.5 337.7 175.9 337.5 175.4 337.3 178.5 337.1 176.6 336.9 175.7 336.7 176.2 336.5 176.3 336.3 176.2 336.1 177 335.9 177.2 335.7 175.1 335.5 175.1 335.3 177 335.1 175.5 334.9 177.1 334.7 178.8 334.5 175.7 334.3 177 334.1 175.9 333.9 175.6 333.7 175.6 333.5 175.5 333.3 177 333.1 176.2 332.9 175.5 332.7 176.6 332.5 174.8 332.3 174.8 332.2 175.5 332 175 331.8 176.2 331.6 175 331.4 176.7 331.2 178.7 331 175.1 330.8 175.1 330.6 176.1 330.4 175.6 330.2 176 330 177.1 329.8 175.5 329.6 178.2 329.4 178.3 329.2 177.2 329 176.2 328.8 177.6 328.6 177.8 328.4 179.6 328.2 182.3 328 186.7 327.8 187.9 327.6 189 327.4 189.7 327.2 192 327 191.1 326.8 189.9 326.6 191.7 326.4 191.8 326.2 190.7 326 189.7 325.8 190.2 325.6 189.6 325.4 192 325.2 190.6 325 191.3 324.8 190.6 324.6 189.7 324.4 191.1 324.2 191.1 324 192.3 323.8 191.1 323.6 191 323.4 187.1 323.2 185.4 323 185.2 322.8 182.1 322.6 182.2 322.4 181.6 322.2 183.8 322 181.5 321.8 182.2 321.6 181.1 321.4 180.4 321.2 180.2 321 181.1 320.8 182.2 320.6 179.9 320.4 180 320.2 182.9 320 183.1 319.8 184.2 319.6 186.2 319.4 185.8 319.2 188 319 191.1 318.8 187.9 318.6 189.8 318.4 188.9 318.2 189.1 318 188.3 317.8 190.4 317.6 188.5 317.4 187.9 317.2 189.8 317 190.2 316.8 188.8 316.6 189.1 316.4 188.9 316.2 191.1 316 189.2 315.8 189.9 315.6 190.1 315.4 189.3 315.2 189.1 315 190.5 314.8 189.4 314.6 188.9 314.4 189.6 314.2 190.3 314 188.8 313.8 189.7 313.6 189.5 313.4 189.2 313.2 190.5 313 189.3 312.8 189.1 312.6 188 312.4 189.4 312.3 187.5 312.1 189.4 311.9 187.6 311.7 188.4 311.5 190.3 311.3 187.9 311.1 187.7 310.9 188.8 310.7 187.6 310.5 187.2 310.3 186.8 310.1 188 309.9 191.1 309.7 187.9 309.5 187.6 309.3 188.4 309.1 186.7 308.9 188.2 308.7 186.3 308.5 187 308.3 187.9 308.1 185.8 307.9 186.4 307.7 186.1 307.5 188.9 307.3 187.8 307.1 185.7 306.9 187.4 306.7 185.3 306.5 187.2 306.3 187.8 306.1 185 305.9 186.3 305.7 187.2 305.5 187.2 305.3 187.3 305.1 189.5 304.9 191.3 304.7 193.1 304.5 197.2 304.3 196.5 304.1 197.2 303.9 196.8 303.7 197.3 303.5 198.3 303.3 199 303.1 198.7 302.9 197.4 302.7 199.4 302.5 198Z" fill="#f25a5a"/>
<path d="M302.5 185.1 302.6 199 302.7 197 302.8 199 303 196.3 303.1 192.7 303.2 195.7 303.3 193.6 303.4 199 303.5 197 303.6 189.8 303.8 190.5 303.9 197.5 304 196.9 304.1 194.5 304.2 194.7 304.3 187.7 304.4 188.2 304.6 192.5 304.7 181.9 304.8 190.1 304.9 189.3 305 188.4 305.1 188.1 305.3 191.2 305.4 183.5 305.5 178 305.6 174.4 305.7 172.3 305.8 181.8 305.9 185 306.1 174.7 306.2 182.2 306.3 178.7 306.4 180.5 306.5 182.5 306.6 181.8 306.7 176.9 306.9 184.8 307 181.2 307.1 174.3 307.2 184.9 307.3 188.2 307.4 180.3 307.5 188.4 307.7 175.6 307.8 181 307.9 187.3 308 187.4 308.1 184.2 308.2 186.5 308.3 180.6 308.5 185.2 308.6 186.2 308.7 186.2 308.8 184 308.9 185.9 309 184.3 309.1 185.1 309.3 176.4 309.4 185.1 309.5 179 309.6 181.3 309.7 183.1 309.8 184 310 177.7 310.1 180.9 310.2 184.1 310.3 181.5 310.4 183.4 310.5 184.2 310.6 184.2 310.8 181.2 310.9 184.2 311 185.8 311.1 178.5 311.2 186.8 311.3 179.7 311.4 185.2 311.6 186.3 311.7 186.5 311.8 179.2 311.9 180.3 312 179.3 312.1 186.4 312.2 184.7 312.4 177 312.5 187.2 312.6 189.1 312.7 182.3 312.8 184.1 312.9 185.5 313 180.5 313.2 182.9 313.3 186.9 313.4 183.3 313.5 184.7 313.6 185.3 313.7 191.8 313.8 186 314 186.4 314.1 183.2 314.2 190.1 314.3 185.5 314.4 185.1 314.5 190.5 314.7 190.6 314.8 181.4 314.9 183.9 315 190.2 315.1 183.2 315.2 191.4 315.3 184.4 315.5 192.8 315.6 181.1 315.7 177.1 315.8 179.1 315.9 192.9 316 182 316.1 183.1 316.3 182.5 316.4 181.8 316.5 185.4 316.6 185.3 316.7 182.2 316.8 182.6 316.9 190.1 317.1 188.5 317.2 188.6 317.3 189.6 317.4 183.8 317.5 188.1 317.6 191.2 317.7 181.2 317.9 190 318 174.6 318.1 176.8 318.2 178.5 318.3 180.4 318.4 180.5 318.6 182.4 318.7 187.6 318.8 181.4 318.9 182.8 319 179 319.1 177.8 319.2 182.9 319.4 179.9 319.5 185.7 319.6 181.8 319.7 173.3 319.8 182.7 319.9 174.2 320 176.7 320.2 173.3 320.3 173.4 320.4 173.8 320.5 171.5 320.6 173.4 320.7 175.4 320.8 179.5 321 179.5 321.1 183.9 321.2 170.4 321.3 175.4 321.4 181.9 321.5 172.6 321.6 176.6 321.8 180.3 321.9 183.6 322 179.9 322.1 178.9 322.2 177.1 322.3 180.3 322.4 178.3 322.6 179.4 322.7 175.5 322.8 178.1 322.9 175.8 323 175.7 323.1 177.5 323.3 178.3 323.4 179.7 323.5 180.9 323.6 177.9 323.7 186 323.8 186.8 323.9 192.3 324.1 176.7 324.2 180.5 324.3 182.2 324.4 182.6 324.5 186.4 324.6 182.7 324.7 183 324.9 189.1 325 185.4 325.1 179.7 325.2 189.9 325.3 195.1 325.4 190.6 325.5 185.5 325.7 191.6 325.8 185.8 325.9 184.7 326 187.1 326.1 191.3 326.2 186.6 326.3 184.9 326.5 180.6 326.6 186.9 326.7 181.8 326.8 185.7 326.9 180.6 327 182.6 327.1 182.2 327.3 183.4 327.4 181.6 327.5 191 327.6 187.9 327.7 182.1 327.8 177.9 328 185.1 328.1 178.4 328.2 180.3 328.3 180.7 328.4 173.7 328.5 175.7 328.6 174.4 328.8 170.4 328.9 171.4 329 169.5 329.1 158.4 329.2 170.4 329.3 178.5 329.4 176 329.6 182.8 329.7 172.1 329.8 175.4 329.9 169.3 330 168.7 330.1 168.2 330.2 173.5 330.4 174.7 330.5 164 330.6 174.4 330.7 175.2 330.8 174.7 330.9 166.4 331 172.2 331.2 172.7 331.3 166.1 331.4 166.8 331.5 180.1 331.6 168.6 331.7 169.3 331.8 163.4 332 168.7 332.1 176.6 332.2 172.7 332.3 167.7 332.4 171.3 332.5 172.6 332.7 173.5 332.8 167.2 332.9 172.7 333 168.6 333.1 169.3 333.2 167.9 333.3 168.1 333.5 173.2 333.6 164.3 333.7 172.1 333.8 182.2 333.9 167.8 334 170.3 334.1 171.1 334.3 177.7 334.4 165.8 334.5 173.7 334.6 171.1 334.7 179.3 334.8 170.7 334.9 179.5 335.1 167.7 335.2 173 335.3 167.2 335.4 169.3 335.5 166.7 335.6 170 335.7 177.9 335.9 169.6 336 181.6 336.1 178.2 336.2 173 336.3 171.8 336.4 173 336.5 168.8 336.7 174.2 336.8 172.2 336.9 164.1 337 172 337.1 174.2 337.2 172.1 337.4 173.2 337.5 172 337.6 170 337.7 176.2 337.8 177.6 337.9 170.8 338 175.2 338.2 167.8 338.3 177 338.4 168.7 338.5 172.1 338.6 175.6 338.7 169.8 338.8 171.9 339 175.7 339.1 169.5 339.2 172.9 339.3 175.9 339.4 172.5 339.5 168.3 339.6 169.8 339.8 170.3 339.9 171.3 340 173.7 340.1 164.9 340.2 170.8 340.3 171.8 340.4 176.9 340.6 165.1 340.7 167.3 340.8 174.3 340.9 170.5 341 175 341.1 170.4 341.2 168 341.4 170.3 341.5 175.3 341.6 173.2 341.7 171.1 341.8 170.8 341.9 174.4 342.1 172.6 342.2 171 342.3 172.9 342.4 170.4 342.5 165.5 342.6 173.4 342.7 174.5 342.9 175.2 343 169.4 343.1 164.9 343.2 171.2 343.3 167.2 343.4 162.1 343.5 170 343.7 166.3 343.8 169.5 343.9 167.3 344 172.4 344.1 172.5 344.2 171 344.3 173.7 344.5 166.9 344.6 178.3 344.7 162.1 344.8 171.8 344.9 172.9 345 167.3 345.1 169.3 345.3 164.1 345.4 167 345.5 169.8 345.6 163.7 345.7 161 345.8 167.2 345.9 165.3 346.1 164.8 346.2 167.8 346.3 163.1 346.4 172.7 346.5 172.9 346.6 168.5 346.8 166 346.9 168.1 347 167.9 347.1 165.1 347.2 165.7 347.3 169.8 347.4 164.6 347.6 165.6 347.7 166.3 347.8 163.7 347.9 167.9 348 161.1 348.1 168.9 348.2 167.3 348.4 163.7 348.5 166.3 348.6 166.5 348.7 159.9 348.8 160.5 348.9 157.5 349 157.7 349.2 156.9 349.3 157.9 349.4 158.8 349.5 164.6 349.6 158.1 349.7 161.3 349.8 157.5 350 165.6 350.1 160.4 350.2 160 350.3 160.3 350.4 162.3 350.5 161.4 350.7 164.4 350.8 171.4 350.9 165.6 351 163.1 351.1 159.6 351.2 167.2 351.3 164.2 351.5 165.2 351.6 168.9 351.7 169.8 351.8 170.4 351.9 173.2 352 165.1 352.1 166.4 352.3 165.6 352.4 165.2 352.5 166.7 352.6 166.1 352.7 172.2 352.8 165.5 352.9 178.3 353.1 161.9 353.2 173.2 353.3 164 353.4 168.4 353.5 165.6 353.6 170.5 353.7 172.4 353.9 169.1 354 168.3 354.1 167.1 354.2 167.8 354.3 167.9 354.4 168.7 354.5 171.6 354.7 174.9 354.8 168.9 354.9 163.9 355 170.4 355.1 175.2 355.2 168.1 355.4 173.6 355.5 167.9 355.6 167.5 355.7 173.4 355.8 165.5 355.9 171.2 356 162.4 356.2 168.9 356.3 174.3 356.4 170.9 356.5 170.1 356.6 174.9 356.7 169.2 356.8 168.3 357 171.2 357.1 172.4 357.2 173.2 357.3 172 357.4 177.2 357.5 174.8 357.6 172.1 357.8 181.5 357.9 166.5 358 173.5 358.1 169.5 358.2 180.8 358.3 173.6 358.4 175.7 358.6 174 358.7 178.1 358.8 170.3 358.9 175.9 359 165.7 359.1 174.5 359.2 176.7 359.4 175.7 359.5 174.6 359.6 165 359.7 172.6 359.8 170.9 359.9 178.1 360.1 174.3 360.2 174.7 360.3 177.2 360.4 174.2 360.5 166.8 360.6 169 360.7 164 360.9 176.7 361 171.3 361.1 167 361.2 173.9 361.3 170.3 361.4 170.8 361.5 177 361.7 164 361.8 166.2 361.9 171.5 362 170.9" fill="none" stroke="#f04848" stroke-width="0.45" stroke-linejoin="round"/>
<path d="M302.5 195.7 302.7 193.3 302.9 194.5 303.1 196.3 303.3 191.4 303.5 191.2 303.7 192.2 303.9 192.8 304.1 191.3 304.3 193.3 304.5 189.7 304.7 190.6 304.9 187.6 305.1 185.9 305.3 183.2 305.5 181.3 305.7 178.5 305.9 180.7 306.1 178.4 306.3 183.3 306.5 179.5 306.7 179.9 306.9 180.7 307.1 184.9 307.3 179.8 307.5 184.2 307.7 181.9 307.9 185.7 308.1 181.5 308.3 181 308.5 181.9 308.7 181.2 308.9 181 309.1 183.3 309.3 181.6 309.5 183.8 309.7 183.5 309.9 184.1 310.1 185.2 310.3 184.5 310.5 181.5 310.7 185.1 310.9 179.3 311.1 185.2 311.3 185.2 311.5 181.8 311.7 185.5 311.9 180.7 312.1 185.3 312.3 183.2 312.4 183.5 312.6 183.8 312.8 183.3 313 185.4 313.2 184.3 313.4 184.4 313.6 184.6 313.8 184.1 314 183.2 314.2 185.8 314.4 186.2 314.6 183.1 314.8 186.3 315 186.8 315.2 185 315.4 187 315.6 181.3 315.8 186.8 316 183.4 316.2 185 316.4 183.1 316.6 188.3 316.8 183.8 317 185.4 317.2 182.1 317.4 183.8 317.6 184.9 317.8 184 318 183 318.2 186.4 318.4 181.7 318.6 184.2 318.8 183.8 319 183.4 319.2 184.6 319.4 182.6 319.6 180.6 319.8 180.6 320 178.1 320.2 177.7 320.4 178 320.6 176.5 320.8 176.4 321 175.6 321.2 178.9 321.4 178.3 321.6 177.8 321.8 177.6 322 176 322.2 177.6 322.4 178.1 322.6 176 322.8 176.9 323 179.6 323.2 184.1 323.4 183 323.6 181.5 323.8 187.1 324 187.3 324.2 187.1 324.4 185.1 324.6 185.8 324.8 189.3 325 187.7 325.2 193.1 325.4 183.1 325.6 183.5 325.8 185.3 326 184.5 326.2 184.9 326.4 187.1 326.6 188 326.8 183.7 327 186.8 327.2 187.3 327.4 186.3 327.6 187.1 327.8 184.4 328 179 328.2 178.2 328.4 176 328.6 171.4 328.8 171.6 329 173.5 329.2 172.4 329.4 171.8 329.6 175.7 329.8 172.6 330 173.1 330.2 170.2 330.4 173.4 330.6 170.8 330.8 171.1 331 170.7 331.2 169.3 331.4 172.1 331.6 169.2 331.8 172.4 332 169.8 332.2 173 332.3 171.5 332.5 172.8 332.7 169.3 332.9 172 333.1 172.3 333.3 171.6 333.5 171 333.7 170.3 333.9 166.2 334.1 172.1 334.3 169.3 334.5 169.7 334.7 172 334.9 167.3 335.1 170.3 335.3 172.6 335.5 171.6 335.7 171.2 335.9 170.4 336.1 171.9 336.3 169.3 336.5 170.8 336.7 173 336.9 170.3 337.1 171.6 337.3 171.2 337.5 169.9 337.7 168.8 337.9 170.6 338.1 170.8 338.3 170.3 338.5 171.7 338.7 172.2 338.9 172.6 339.1 172.1 339.3 169.6 339.5 173.5 339.7 171.8 339.9 172.3 340.1 169 340.3 172.6 340.5 174.4 340.7 171.5 340.9 172.4 341.1 169.6 341.3 170.7 341.5 170.2 341.7 171.3 341.9 170.4 342.1 170.4 342.3 168.5 342.5 168 342.7 169.7 342.9 173.6 343.1 168 343.3 170.2 343.5 171.4 343.7 168.2 343.9 166.5 344.1 169.6 344.3 168.9 344.5 167.5 344.7 171.2 344.9 169.9 345.1 168.7 345.3 166.5 345.5 170.6 345.7 170.3 345.9 169.8 346.1 171 346.3 166.8 346.5 166.8 346.7 169.7 346.9 168.9 347.1 168.1 347.3 167.4 347.5 169.7 347.7 168.4 347.9 168.3 348.1 163.8 348.3 164.4 348.5 163.6 348.7 163.2 348.9 157.7 349.1 158.6 349.3 156.6 349.5 156.3 349.7 156.8 349.9 159.1 350.1 161 350.3 161.5 350.5 162.3 350.7 165.1 350.9 167.3 351.1 166.5 351.3 166.5 351.5 171 351.7 169.8 351.9 172 352.1 168.2 352.2 168.4 352.4 168.9 352.6 169.3 352.8 167.3 353 171.2 353.2 167.7 353.4 165.9 353.6 170.4 353.8 169 354 171.3 354.2 169.3 354.4 169.2 354.6 168.3 354.8 169.7 355 171.5 355.2 175.5 355.4 173.4 355.6 171.5 355.8 174.9 356 173.4 356.2 170 356.4 170.2 356.6 170.5 356.8 172 357 172.9 357.2 171.8 357.4 171.9 357.6 171.2 357.8 173 358 173.9 358.2 170.9 358.4 174.6 358.6 171.2 358.8 172.1 359 175.1 359.2 173.4 359.4 172.5 359.6 169.4 359.8 172.5 360 171.8 360.2 172 360.4 174 360.6 171.4 360.8 175.1 361 172.2 361.2 172.4 361.4 171.6 361.6 172.2 361.8 174.2 362 172.4" fill="none" stroke="#ea2a2a" stroke-width="0.6" stroke-linejoin="round"/>
<rect x="296.20" y="143.20" width="71.30" height="62.50" fill="none" stroke="#777" stroke-width="0.6"/>
<line x1="331.50" y1="145.60" x2="340.00" y2="145.60" stroke="#8aaaf0" stroke-width="0.7"/>
<text x="340.70" y="146.70" font-size="3.0" fill="#333" stroke="#333" stroke-width="0.1">Wild Type</text>
<line x1="331.50" y1="149.40" x2="340.00" y2="149.40" stroke="#f08a8a" stroke-width="0.7"/>
<text x="340.70" y="150.50" font-size="3.0" fill="#333" stroke="#333" stroke-width="0.1">FB194Y - EB197P</text>
<text x="334.60" y="214.90" font-size="5.35" fill="#2a2a2a" text-anchor="middle" stroke="#2a2a2a" stroke-width="0.16">Simulation Time(ns)</text>
<line x1="301.90" y1="205.70" x2="301.90" y2="204.70" stroke="#555" stroke-width="0.4"/>
<text x="301.90" y="209.80" font-size="2.6" fill="#555" text-anchor="middle" stroke="#555" stroke-width="0.1">0</text>
<line x1="314.00" y1="205.70" x2="314.00" y2="204.70" stroke="#555" stroke-width="0.4"/>
<text x="314.00" y="209.80" font-size="2.6" fill="#555" text-anchor="middle" stroke="#555" stroke-width="0.1">100</text>
<line x1="326.10" y1="205.70" x2="326.10" y2="204.70" stroke="#555" stroke-width="0.4"/>
<text x="326.10" y="209.80" font-size="2.6" fill="#555" text-anchor="middle" stroke="#555" stroke-width="0.1">200</text>
<line x1="338.20" y1="205.70" x2="338.20" y2="204.70" stroke="#555" stroke-width="0.4"/>
<text x="338.20" y="209.80" font-size="2.6" fill="#555" text-anchor="middle" stroke="#555" stroke-width="0.1">300</text>
<line x1="350.30" y1="205.70" x2="350.30" y2="204.70" stroke="#555" stroke-width="0.4"/>
<text x="350.30" y="209.80" font-size="2.6" fill="#555" text-anchor="middle" stroke="#555" stroke-width="0.1">400</text>
<line x1="362.40" y1="205.70" x2="362.40" y2="204.70" stroke="#555" stroke-width="0.4"/>
<text x="362.40" y="209.80" font-size="2.6" fill="#555" text-anchor="middle" stroke="#555" stroke-width="0.1">500</text>
<line x1="296.20" y1="204.70" x2="297.20" y2="204.70" stroke="#555" stroke-width="0.4"/>
<text x="294.90" y="205.55" font-size="2.2" fill="#555" text-anchor="end" stroke="#555" stroke-width="0.1">0</text>
<line x1="296.20" y1="192.60" x2="297.20" y2="192.60" stroke="#555" stroke-width="0.4"/>
<text x="294.90" y="193.45" font-size="2.2" fill="#555" text-anchor="end" stroke="#555" stroke-width="0.1">1</text>
<line x1="296.20" y1="180.50" x2="297.20" y2="180.50" stroke="#555" stroke-width="0.4"/>
<text x="294.90" y="181.35" font-size="2.2" fill="#555" text-anchor="end" stroke="#555" stroke-width="0.1">2</text>
<line x1="296.20" y1="168.40" x2="297.20" y2="168.40" stroke="#555" stroke-width="0.4"/>
<text x="294.90" y="169.25" font-size="2.2" fill="#555" text-anchor="end" stroke="#555" stroke-width="0.1">3</text>
<line x1="296.20" y1="156.30" x2="297.20" y2="156.30" stroke="#555" stroke-width="0.4"/>
<text x="294.90" y="157.15" font-size="2.2" fill="#555" text-anchor="end" stroke="#555" stroke-width="0.1">4</text>
<line x1="296.20" y1="144.20" x2="297.20" y2="144.20" stroke="#555" stroke-width="0.4"/>
<text x="294.90" y="145.05" font-size="2.2" fill="#555" text-anchor="end" stroke="#555" stroke-width="0.1">5</text>
<text x="291.30" y="169.80" font-size="4.8" fill="#2a2a2a" text-anchor="middle" transform="rotate(-90 291.3 169.8)" stroke="#2a2a2a" stroke-width="0.16">RMSD (Å)</text>
<text x="57.30" y="228.60" font-size="4.9" fill="#2a2a2a" text-anchor="middle" stroke="#2a2a2a" stroke-width="0.16">PCA Analysis</text>
<ellipse cx="40" cy="267" rx="11" ry="12" fill="#ee2a2a" fill-opacity="1.0"/>
<ellipse cx="59" cy="262" rx="8" ry="11" fill="#f47a72" fill-opacity="0.75"/>
<ellipse cx="77" cy="275" rx="6" ry="8" fill="#3a3ad8" fill-opacity="0.35"/>
<path d="M74.6 279.1h0M74.5 282h0M74.9 282.3h0M70.8 285.1h0M75.1 283.4h0M74.3 272h0M71.9 265.4h0M74.4 268.1h0M86.9 282.8h0M68.3 280.1h0M75.5 279.1h0M61.2 274.2h0M83.5 252.3h0M67.9 264.3h0M79.9 283.4h0M76.2 278.2h0M72.3 281.4h0M77.4 267.8h0M85.1 248.8h0M68.6 292.2h0M73.2 287.2h0M78.6 281.1h0M91 268.8h0M75.1 262.7h0M77.5 287.5h0M72.5 274.4h0M74 284.3h0M78.4 275.3h0M79.8 286.6h0M82.8 270.3h0M69.8 266.9h0M85.2 268.7h0M79.6 275.8h0M66.5 283.5h0M70.2 286.6h0M74.6 273.3h0M81 258.9h0M63.1 276.8h0M84.4 269.2h0M80.3 274.1h0M87.8 279.5h0M79.9 267.2h0M75.7 278.6h0M66.7 260.4h0M90.8 288.1h0M71.5 278.6h0M85.4 268.8h0M85.1 259.4h0M71 286.4h0M73.1 260.8h0M79.9 282.9h0M65.9 285.2h0M74.8 262.7h0M80.3 282.1h0M70.2 289.4h0M67.8 266.6h0M73.2 290.2h0M83.8 268.5h0M91.6 278.6h0M89.8 280.7h0M65.8 246.6h0M78.7 290.1h0M86.1 256.8h0M82.1 275.4h0M90.9 264.3h0M74.1 262.2h0M65.7 270.4h0M65.2 274.2h0M81.6 275.9h0M74.4 265.7h0M84.1 282h0M68.5 267.1h0M92 283.2h0M77.6 267.9h0M72.2 265.1h0M77.2 276.9h0M78 267.3h0M84.2 274.2h0M70.5 281.6h0M67.5 280.6h0M86.4 274.6h0M85.9 270.9h0M78.6 283.8h0M70.4 278.1h0M79.4 269.2h0M83.3 271.3h0M74.2 264.1h0M71.4 283.9h0M77 263.5h0M78.9 275h0M77.1 272.6h0M64.1 290.4h0M65.2 263.5h0M80.4 282.8h0M73 277h0M82.1 281.2h0M65.8 279.3h0M63 282.3h0M79.2 276.2h0M82.1 269.1h0M84.2 276.6h0M71.7 274.3h0M80.3 257.9h0M69.9 262.2h0M82.5 280.5h0M74.7 275.5h0M73.3 292.4h0M74.6 268h0M77.4 276.2h0M66.7 271.1h0M73.9 287.4h0M84.8 289.2h0M81.1 263.6h0M82.2 266.1h0M84.4 273.7h0M82.8 284.1h0M88.1 274.3h0M65.4 280.1h0M77.4 277.1h0M81.1 285.2h0M71.6 282.2h0M67.6 284.2h0M88.1 288.4h0" stroke="#2121ca" stroke-width="1.90" stroke-linecap="round"/>
<path d="M72.5 260.3h0M77.2 289.6h0M69.6 272.9h0M86.5 289.6h0M61.2 288.6h0M77.2 270.9h0M90.6 278.1h0M68.9 283h0M81.4 275.6h0M67.4 279.4h0M79.8 291.3h0M61.6 241h0M65.1 274.8h0M83.5 263.5h0M76.1 286.4h0M73 279.3h0M63.4 263h0M74.7 282.4h0M72.4 260.8h0M90.8 290.4h0M59.6 266.6h0M58.3 265.1h0M74.9 268.2h0M79.2 291.4h0M78.6 278.4h0M59.6 249.1h0M54.4 242.6h0M77.1 281.7h0M67.4 282.3h0M76.9 266.9h0M79.1 291.8h0M72.2 283.6h0M85.5 258.3h0M79 257.8h0M73.7 279h0M70.3 284.3h0M53.9 257.9h0M76.7 284.2h0M89.1 281.5h0M81 258.6h0M37.7 241.7h0M67.9 258.6h0M68.7 278.1h0M75 259.3h0M71.7 255.2h0M68.2 279.9h0M70.8 266.3h0M77.4 259.6h0M67.2 269.1h0M83.5 275.9h0M87.7 275.8h0M83.2 288.8h0M49.6 243.2h0M72.5 288.4h0M76.2 281.8h0M61.6 242.9h0M70.4 244.6h0M80.1 273h0M82.3 270.6h0M75.2 271.4h0M72.4 280.9h0M83.9 281.7h0M73.7 278.8h0M64.3 268.6h0M88.9 276.1h0M67 280.2h0M83.5 282.9h0M66.6 285.5h0M64.3 276.9h0M71.9 276.6h0M52.7 240.9h0M86.1 272.2h0M82.3 272h0M78.6 259.1h0M80.1 286.8h0M75.5 280.7h0M69.8 254.9h0M78.6 273.4h0M72.9 286.7h0M68.9 247.3h0M71.1 265.9h0M70.4 275.1h0M74.7 267.2h0M67.5 271.9h0M60.8 246.3h0M60.8 250.1h0M57.3 271.7h0M85.8 275.4h0M74.8 273h0M86.1 261.7h0M76.8 289.4h0M74 273.4h0M82.1 275.2h0M77.2 282.8h0M46.5 244.4h0M84.3 273.6h0M83.3 272.2h0M69.8 272.3h0M67.3 243h0M73.5 275.1h0M64.8 270.4h0M73 279.4h0M71.5 265.7h0M69.7 256.8h0M66.4 266.1h0M35.5 247h0M77.1 259.5h0M72.8 271h0M75.3 261.9h0M84.6 266.9h0M77.6 284.6h0M81.6 251.9h0M81 286.8h0M88 258.8h0M85.4 274.5h0M84.6 260.9h0M81 263h0M67.6 263.3h0M73.9 281.9h0M73.9 280.7h0M81.5 285.6h0M78.3 262.6h0M68.1 273.1h0M74.5 274.4h0M78.2 264.4h0M77.5 263.1h0M74.4 278h0M75.6 263.1h0M66 272.1h0M74.6 291.2h0M85.7 272.4h0M77.5 276.8h0" stroke="#3434cd" stroke-width="1.90" stroke-linecap="round"/>
<path d="M82.7 273h0M82.5 276.5h0M81.3 254.2h0M90.9 264.6h0M81.6 280.9h0M73.7 285.6h0M43 245h0M70.4 263h0M71.2 286.7h0M66.4 238.3h0M78.5 277.2h0M75 277.2h0M79.5 275.6h0M78.9 260.2h0M79.4 269.4h0M74.2 277.9h0M73.2 273.6h0M56 246.8h0M76.8 257.1h0M87 283h0M74.7 267.7h0M84.3 272.1h0M81.7 284.9h0M68.8 287.7h0M50.7 238.6h0M69.2 283.1h0M65.8 277.7h0M62.3 234.5h0M94 286.4h0M71.2 285.1h0M59.7 243.1h0M66.8 259.6h0M70.6 285.3h0M89.3 267.1h0M66.8 236.2h0M84.9 271.7h0M75.5 267.5h0M58.2 290.6h0M80.3 271h0M63.9 262.8h0M69.5 284.1h0M81.1 268.8h0M86.9 263.6h0M80.7 282.7h0M89.1 259h0M76.8 262.6h0M68.3 274.3h0M93.8 287h0M73.6 282.6h0M75.9 253.7h0M59.3 250.2h0M77.3 246.8h0M60.6 243.3h0M59.9 245.5h0M62 247.3h0M82.1 250.6h0M53.9 242.4h0M70 242.7h0M60.1 248.9h0M47.3 240.7h0M45 237.4h0" stroke="#4948d2" stroke-width="1.90" stroke-linecap="round"/>
<path d="M65.9 237.9h0M56 236.6h0M72 247.5h0M76.8 239.8h0M54.7 246.2h0M71.7 243.5h0M70.4 243.6h0M59.7 241.3h0M38.7 249.5h0M62.4 248h0M51.8 246.7h0M62.6 249.2h0M62.1 242h0M73.7 242.7h0M67.9 242.7h0M50.6 244.2h0M49.3 243.7h0M76.8 241.5h0" stroke="#5f5dd6" stroke-width="1.90" stroke-linecap="round"/>
<path d="M78.9 240h0M84 243.9h0M72 245.4h0M79.9 251h0M80.2 240.7h0M88.5 240.3h0M81 248.3h0M88.2 239.7h0" stroke="#bab6e8" stroke-width="1.90" stroke-linecap="round"/>
<path d="M83.6 242.1h0M80.2 233.3h0M85.3 241.1h0M76.6 245.4h0M91 245.8h0M90.4 249.6h0M87.5 251h0M75.7 240h0M82.1 238.6h0M74.7 242.5h0M86 243.8h0M77.4 246.8h0M85.2 239.3h0" stroke="#d2cded" stroke-width="1.90" stroke-linecap="round"/>
<path d="M82.6 245.4h0M89.1 249.7h0M84.8 244.4h0M87.6 255.4h0M79.5 241.6h0M82.9 246.7h0M85.9 255.1h0M86 237.5h0M88.1 250.2h0M70.5 243h0M83 238.3h0M80.6 249.3h0M80.1 253.2h0M68.7 238.9h0M83.4 250.1h0M87 236h0M83.8 244.9h0M82.5 248.7h0M80.5 245.8h0" stroke="#eae4f2" stroke-width="1.90" stroke-linecap="round"/>
<path d="M46.6 255.4h0M65 266.5h0M61.1 254.7h0M68.1 259.6h0M57.5 263.3h0M66.1 282.1h0M58.5 263.3h0M68.6 263h0M33.6 270.3h0M63.1 277.9h0M60 240.8h0M74.9 281.3h0M57.2 251.8h0M50.1 261h0M59.6 259.5h0M64 257.2h0M57 255.6h0M62.2 268.7h0M47.5 271.4h0M56.1 258.4h0M72 254.2h0M56.8 246.2h0M54.1 263.9h0M41.1 261.6h0M67.2 266.5h0M62.4 260.3h0M57.7 262h0M66.5 272.4h0M43.4 274.2h0M57.2 254.5h0M85.1 262.7h0M50.2 265.1h0M72.1 246.4h0M58.9 269.5h0M57.6 268.3h0M57 285.5h0M48.9 256.3h0M51.8 242.3h0M60.8 264h0M62.5 270.7h0M50.3 248.3h0M59.8 259.4h0M50.6 258.5h0M71.1 259.4h0M56.6 266.8h0M44.3 266.8h0M59.7 260.2h0M50.3 272.9h0M55.9 252.5h0M64.2 250.4h0M63.4 255.7h0M59.7 255.4h0M62.8 265.4h0M62.9 251.3h0M54.2 259.6h0" stroke="#f2c0c3" stroke-width="1.90" stroke-linecap="round"/>
<path d="M60.7 279.3h0M49 282.5h0M64.1 280.5h0M55.8 267.1h0M56.3 265.9h0M62.6 265.1h0M49.6 244.6h0M66.8 257.8h0M64.1 273.4h0M46.8 239.6h0M50.6 259h0M61.4 247.8h0M68.5 266.5h0M78.9 255.2h0M63.9 281.7h0M76.9 279.9h0M52.5 256h0M56.1 242.1h0M59.2 257.3h0M51.6 253h0M52.7 259.8h0M50.9 258.8h0M70.2 251.9h0M46.9 267.2h0M53.6 254.4h0M52.5 258.3h0M67.7 255.6h0M64.3 275.6h0M57.5 270.4h0M54 269.5h0M51.8 271.1h0M55.2 263h0M71.3 266h0M33.8 255h0M62.6 265.5h0M50.2 261.5h0M47.5 267.6h0M53.2 248.9h0M58.2 252.7h0M53.4 250.5h0M65 287.5h0M61.5 249.4h0M68.8 247.3h0M47.8 241.6h0M66 265.9h0M56.4 247.2h0M43.4 240.5h0M54.1 262.2h0M47.3 259.8h0M69.4 248.9h0M68.3 269h0M59.4 266.1h0M56.8 272.2h0M48.7 272h0M64.1 257.4h0M47.6 276.4h0M69.9 254.5h0M64.8 275.5h0M54.5 256.4h0M66.3 261.7h0M54.5 258.6h0M71.8 265h0M59.9 270.4h0M60 266h0M54.7 267.8h0M62.6 266.4h0M55.7 252.6h0M49.5 262.1h0M59.5 265.5h0M54.5 267.5h0M61.4 256.5h0M65.5 275.5h0M58.1 270.5h0M60.1 257.4h0M72.1 262.1h0M51.2 262.8h0M51 252.7h0M65.3 269.3h0M50.4 275.6h0M61.9 247.4h0M51.3 267.3h0M60.6 262.8h0M49.4 266.3h0M57.2 280.6h0M51.4 255.5h0M52.2 262.8h0M67.6 264.8h0M68.7 253.7h0M56.9 265.7h0M56.8 270.8h0M56.7 250.6h0" stroke="#f1a8ab" stroke-width="1.90" stroke-linecap="round"/>
<path d="M59.6 266h0M49.2 262.1h0M45.3 264.5h0M64.9 257.7h0M60.3 273.1h0M61.6 274.3h0M57.2 260.4h0M52.7 259.7h0M50.7 246.3h0M72.4 269.7h0M57.5 249.9h0M49.5 253.3h0M59 256.8h0M73.2 270h0M64.5 269.2h0M75.1 263h0M62.6 270.9h0M55.1 237.5h0M63.8 252.3h0M53.3 259.1h0M64.7 255.3h0M61.8 250.2h0M67.2 260.5h0M64.6 259.5h0M65.6 264.8h0M56.6 258.3h0M55.3 255.7h0M65.5 256.7h0M61.7 269.2h0M64.5 271.5h0M52.8 261.7h0M63.2 261.4h0M49.7 266.6h0M55.2 272.2h0M59.9 252h0M52.1 272.4h0M67.8 256.4h0M66.9 263.3h0M54.9 259.9h0M55.4 247.5h0M65.8 270.6h0M74.5 260.2h0M65.6 264.5h0M55.1 274.8h0M56.5 272.3h0M76.5 250.8h0M57.7 272.1h0M61.8 278.2h0M63.5 272.7h0M59.4 249.5h0M63 263h0M65.7 260.4h0M65.3 279.3h0M67.5 260.3h0M47.3 251h0M63.5 264.1h0M66.2 257.3h0M61.3 256.3h0M69.3 270h0M68.4 253.6h0M63.8 251.4h0M60.2 242.6h0M54.6 254h0M61.5 255.2h0M65.3 265.1h0M57.8 260.7h0M46.3 257.9h0M45.3 264.1h0M55.4 265.5h0M59.4 261.9h0M65.7 258.2h0M61.8 274.4h0M46.5 269.8h0M60 260.4h0M51.4 247.4h0M38.2 273.2h0M61.6 267h0M52.9 270.7h0M55.5 275.3h0M61.3 283.2h0M64.5 267.4h0M61.6 277.9h0M63.4 280.1h0M49.8 246.1h0M50.5 253.6h0M63.4 261.3h0M68.5 265.6h0M62.8 274.4h0M61.5 264.2h0M53.5 256.5h0M70.3 247.1h0M62.9 262.9h0M66.4 263.2h0M49.4 273.7h0M55.9 247.8h0M63.9 254.1h0M63.7 262.9h0M47.1 261.4h0M61.2 254.7h0M63.1 274.4h0M71.1 246.3h0M68.1 258h0M48.4 275.2h0M71.2 264.1h0M58.8 264.1h0M47.6 259.8h0M51.4 287.2h0M64.1 265.9h0M58.6 263.1h0M58.1 251.9h0M70 272.8h0M60.7 275.4h0M61.3 276.8h0M52 263.1h0" stroke="#ef9294" stroke-width="1.90" stroke-linecap="round"/>
<path d="M55.2 263.6h0M57.9 252h0M61.2 265.5h0M50.9 276.5h0M59.3 252.8h0M67.6 260.2h0M62.7 259.8h0M64.2 244.9h0M60.4 261.1h0M50 257.2h0M60.1 273.8h0M52.6 278.3h0M70.9 255.3h0M61.2 257.2h0M64.9 253.7h0M58.9 265.9h0M50.2 269.7h0M72.6 258.6h0M51.2 275.7h0M56.3 286.6h0M48.5 259.1h0M73.1 247.9h0M62.7 260.1h0M67.6 243.5h0M45.7 275.3h0M66.6 263.5h0M62.2 261h0M60.3 266.8h0M59 261.7h0M49.3 267.1h0M72.7 233.5h0M61.4 252.1h0M58.8 265.9h0M69.2 259.6h0M39.5 251.3h0M62.9 258.7h0M48.8 259.8h0M52.5 254.2h0M65.9 252.6h0M55.4 262.9h0M62 250.8h0M63.8 251.8h0M48.3 248h0M55.9 266.6h0M66.4 277.8h0M79.4 261.2h0M63.9 270.8h0M47.4 269.4h0M58.4 274.1h0M52.2 264.1h0M49.3 262.4h0M54.4 282.9h0M71.2 277.3h0M52.6 243.5h0M52.2 242.8h0M52.3 246.7h0M53.5 254.8h0M58.8 254.8h0M68.2 271.2h0M50.4 259.5h0M48.9 275.6h0M59.7 257.4h0M76.9 256.1h0M61.1 270.2h0M72.5 255.9h0M56.7 262.9h0M52 284.9h0M49.9 266.4h0M50.3 254.5h0M49.9 266.5h0M54.3 264h0M58.7 270.1h0M78.8 248.3h0M64.8 261.5h0M60.6 240.2h0M68.3 263.5h0M49 256.4h0M65 259.2h0M61.7 251.3h0M57.7 266.5h0M61.4 244.7h0M52 267.7h0M54 270.4h0M66.2 249.2h0M72.1 280.8h0M61.2 242.5h0M58.6 279.5h0M60.7 261.5h0M61.5 269.7h0M51.4 267.4h0M52.5 264.8h0M51.9 265h0M67.5 272h0M62.9 269.2h0M48.3 259.3h0M59.2 273.5h0M63.9 263.8h0M59.1 252.8h0M62.4 260h0M46.9 280.7h0M69.3 261.4h0" stroke="#ee7d7f" stroke-width="1.90" stroke-linecap="round"/>
<path d="M55.4 259.7h0M48.6 275.6h0M65.9 265.9h0M61.4 252.1h0M68 269.9h0M57 262.2h0M51.8 252.4h0M47 258.3h0M58.4 255.7h0M57 248.3h0M70.1 250h0M65.3 249.5h0M46.8 269.3h0M63.4 251.1h0M49.4 257.9h0M67.5 285.9h0M55.4 254.5h0M53.2 254h0M52.1 255.4h0M63.5 277.7h0M59.8 262.7h0M60.5 251.7h0M59.8 266.5h0M73.7 270.5h0M63.7 253.8h0M60.1 250.8h0M49.7 259.1h0M71.1 254.3h0M68 278.1h0M41.6 253.3h0M63.2 261.8h0M59.4 251.3h0M57.5 278.4h0M63.7 253.2h0M60.9 265.2h0M59 258h0M57.1 279.5h0M75.9 255.3h0M57.8 261.6h0M53.2 254.9h0M51.8 265.1h0M47.5 253.2h0M62.1 260.6h0M43.6 250.5h0M56.4 273.6h0M59.7 234.4h0M55.9 263.3h0M55.7 273.7h0M53.5 269.8h0M60.3 263.7h0M73.5 258.3h0M76.1 277.3h0M59.8 257.9h0M60.5 267.8h0M50.4 243.4h0M70.8 265.8h0M57.7 257h0M62.5 270.9h0M58.1 274.2h0" stroke="#ec696a" stroke-width="1.90" stroke-linecap="round"/>
<path d="M28.4 256.4h0M37.1 273.6h0M39.6 273.2h0M32.2 280.9h0M29.2 257.9h0M48.5 256.1h0M39.4 265.1h0M41.9 278.6h0M42.1 266.2h0M46.9 278.2h0M42.7 271h0M45.3 241.4h0M44 280.2h0M54.7 280.6h0M45.8 268.6h0M37.6 279.9h0M38.3 271.4h0M46.7 268.3h0M48 278.5h0M48 255h0M48.7 254.8h0M32 250.8h0M33.9 254.7h0M46 283.8h0M40.9 266.5h0M37.9 270.2h0M38.3 278.2h0M38.1 257.8h0M44.5 253.8h0M43 270.3h0M44.8 268.1h0M50.3 267.2h0M44.3 263.3h0M50.1 264.7h0M35 277.4h0M67.4 269.8h0M45.3 252.1h0M31.9 270h0M46.7 268.5h0M33.9 272.8h0M46.1 282.1h0M51.1 255.4h0M41.8 276.7h0M52 265.8h0M42.1 278.5h0M32.8 256.5h0M25.9 257.4h0M52.9 264.3h0M30.7 271.1h0M50.6 266.5h0M46.4 276.4h0M30.8 263.2h0M27.1 269.5h0M27.8 276.8h0M45 288.4h0M38.3 263.8h0M41.6 258.2h0M39.2 269.4h0M63.7 261.3h0M38.2 267.4h0M60.5 272.1h0M50.7 269.8h0M40.1 253.4h0M50.4 254.9h0M52.5 272.6h0M46.9 285.5h0M49.8 259.5h0M37.1 285.4h0M53.4 257.6h0M55.4 265.1h0M39.5 265.9h0M42.1 264.8h0M46.2 259.5h0M61.6 272.7h0M24.7 266.7h0M27.5 265.9h0M38.6 270.7h0M49.7 279.9h0M46.6 287.5h0M31.6 253.1h0M38.8 269.1h0M40.5 288.5h0M38.6 283.3h0M42.6 258.6h0M51.3 274.9h0M38.1 270.3h0M39.2 270.8h0M32.2 272.7h0M35 275.5h0M44 275.7h0M51.3 266.6h0M34.7 271h0M45.6 264.1h0M23.9 254.8h0M51 265.9h0M46.1 274.9h0M52.5 273.5h0M43.3 254h0M40.1 274.8h0M46.5 243.7h0M41.3 276.9h0M22.1 273.1h0M33.8 266.9h0M38.6 260.8h0M27.2 281.1h0M38.8 272.6h0M27.6 259.8h0M49.9 290.5h0M30.3 278.7h0M39.7 276.9h0M34.7 277.1h0M34.6 287.7h0M39.7 270.9h0M55.9 258.1h0M31.8 277.8h0M51.4 268.6h0M43.3 262h0M32.9 233.6h0M57.6 279.1h0M45.2 252.3h0M43.2 265.8h0M33.1 260.7h0M54.8 271.2h0M38.9 285h0M26.6 285h0M53.9 273.4h0M30 247.5h0M35.2 274.9h0M33.3 259.4h0M31.9 284.3h0M31.7 269.6h0M48.6 255.4h0M38.1 266.9h0M34.5 282.8h0M22.6 263.7h0M43.2 263.1h0M33.2 266.4h0M48.9 266.6h0M49.5 276.8h0M28.6 269.1h0M46.3 276.7h0M38.2 264.9h0M32.3 264.6h0M47.3 270.2h0M37.9 258.7h0M32.7 277.9h0M34.5 265.6h0M52.6 282.3h0M21.2 273.1h0M30.5 269h0M38.4 266.1h0M38.8 270.9h0M43.6 268h0M38 243.7h0M43.5 270.6h0M48 263h0M44.6 263.3h0M31.5 273.6h0M23.1 270.9h0M39.9 282.8h0M30.8 261.8h0M28.5 268.3h0M49.9 257.4h0M30.3 270.2h0M46.3 264h0M52.1 258.7h0M57.7 287.8h0M49.2 278.2h0M29.1 286.9h0M42.2 274.4h0M40.2 263.7h0M32.1 275.2h0M60.7 264h0M67.4 280h0M37.9 277.1h0M45.3 277.4h0M53.9 257.2h0M24.5 283.7h0M42 248.7h0M31.8 269.4h0M31.9 272.5h0M34.8 261.6h0M38.4 271.3h0M37.3 262.6h0M56.1 285.7h0M55.6 275h0M48.1 270.8h0M38.5 269.7h0M37.9 266.8h0M44.1 261.1h0M55.7 263.2h0M24.7 290.4h0M43.5 269.1h0M50.5 250.3h0M59.9 274.4h0M34.5 265.6h0M45.9 247h0M36.4 255.1h0M57.7 259.9h0M47.2 274.3h0M41.9 261.2h0M45.2 244.4h0M39.1 245.6h0M41.8 274.4h0M55.7 268.4h0M32.9 273.4h0M49.7 257.8h0M32.3 273.4h0M55.9 253.2h0M40.8 254.7h0M42.3 264h0M55.5 275.3h0M30.6 241.6h0M61.4 279.4h0M30.1 267.4h0M28.2 253.3h0M23.6 294.1h0M42.1 266.6h0M32.7 263.8h0M30.9 260.8h0M44.8 262.2h0M45.9 278.7h0M45.5 294.8h0M50.4 268h0M40.5 269h0M39.6 265.9h0M28.8 262.4h0M37.4 277.5h0M57.3 253.3h0M48.6 280.6h0M52.9 256.2h0M33.3 296.4h0M62.1 273.8h0M38.4 285.7h0M62 252.6h0M27 268.8h0M34.3 283.7h0M21.1 254.9h0M48.5 265.4h0M21.9 250.7h0M26.9 260.1h0M33.9 247.3h0M45.3 283.3h0M36.6 267.1h0M33.2 242h0M31.9 266.9h0M31.5 259.6h0M21.3 286.4h0M46.5 253.3h0M43.9 268.8h0M26 255.4h0M45.5 283h0M39.1 277.3h0M28.1 262.3h0M44.8 271.3h0M36.4 275.7h0M38.9 274.6h0M42.9 274.1h0M27.9 269.3h0M34.3 289.1h0M36.6 270.6h0M54 283.5h0M53.5 251.4h0M25.4 283.6h0M39.3 252.6h0M43.9 282.2h0M29.8 254h0M46.2 246.4h0M56.5 263.5h0M39.6 265h0M32.2 265.7h0M57.7 269.3h0M42.7 273.5h0M50.2 269.9h0M33.8 278.3h0M33.7 268.1h0M31 252.3h0" stroke="#e94344" stroke-width="1.90" stroke-linecap="round"/>
<path d="M38.9 269.4h0M31.2 255.9h0M47.5 257.4h0M32.2 250.1h0M43.1 265.4h0M45.6 264.5h0M29.7 273.6h0M34.9 271.3h0M54.9 284.9h0M47.1 262.8h0M30.9 253.9h0M50.7 270.9h0M24 260h0M37.8 286.2h0M32.9 296.2h0M45.9 247.3h0M45.2 272.4h0M45.8 262.7h0M56.7 265h0M38.7 278.6h0M27.2 258.8h0M39.7 266h0M49.4 266.3h0M42.5 257h0M30.6 258.7h0M40.1 278h0M38.8 261.5h0M35.9 266.5h0M40.1 269.5h0M38.4 258.7h0M35.4 276h0M52.6 293.8h0M45.3 261.8h0M35.5 289.9h0M47.2 273.5h0M44.7 267.7h0M34.5 261.2h0M48.2 279.4h0M46.1 262.8h0M36.5 241.6h0M33.5 269.3h0M33.7 258.6h0M52.2 270.4h0M48.7 261.3h0M33.3 278.5h0M21.3 277.9h0M42.8 274.4h0M36.5 252.4h0M25.9 281h0M55.4 280.9h0M54.5 257.7h0M57.2 274.4h0M41.1 250.2h0M54.2 258.5h0M36.2 289.5h0M64.6 261.7h0M48.9 270h0M47.1 269.5h0M50.9 267.3h0M25.8 283.2h0M37 261.8h0M35 270.9h0M41.8 257.6h0M45.9 268h0M39 268.9h0M38 271.9h0M33.6 262.9h0M43.2 256.8h0M27.9 271.9h0M44.5 282.6h0M38.3 280.9h0M55.7 255.9h0M42.1 256.5h0M45.4 275.8h0M36.1 267.3h0M44 270.7h0M41 255.4h0M55.9 277.2h0M39.7 277.6h0M22.3 270.9h0M42.7 281.4h0M38.8 282.9h0M40.8 268.8h0M51.2 264.7h0M41 269.9h0M31.7 284.7h0M42.1 259.7h0M50.2 288.2h0M45.2 265.1h0M59.8 261.8h0M47 275.5h0M53 284.5h0M51.2 260.2h0M21.1 269.4h0M43.2 274.8h0M38.1 277.4h0M26.7 258.7h0M39.5 264.4h0M55.6 259.4h0M35.4 289.3h0M36.1 249.9h0M37.9 272.9h0M31.9 265.8h0M54.5 270.3h0M41.1 286.6h0M52.1 247.7h0M48.5 253.2h0M38.4 252h0M46.6 243.6h0M49.2 254.6h0M29.8 276.9h0M33.5 272h0M46.6 280.8h0M47.4 274.7h0M39 273.3h0M50.6 254.9h0M48.2 260.4h0M53.5 267.2h0M31.7 262.8h0M32.2 276.6h0M58.1 262.2h0M44.5 262.8h0M50.8 277.1h0M39.1 269.6h0M37.5 283.8h0M35.5 242.8h0M50.9 276.6h0M50.2 278.2h0M52.1 255.5h0M38.6 262.2h0M27.6 267.2h0M21.3 250.2h0M31.2 255.6h0M28.8 247.6h0M59 261.7h0M46.3 275.1h0M51.5 263.2h0M39 271h0M30 266h0M28.1 272.4h0M40.7 257h0M56.5 276.4h0M44.2 256.9h0M30.3 274.7h0M38.4 265.4h0M56.4 256.8h0M29.8 272.8h0M50.2 269.4h0M54.4 262.6h0M59.4 269.8h0M46.9 248.1h0M42.2 273.3h0M52.4 268.9h0M27.1 259.1h0M29.6 247.2h0M50 278.3h0M47.6 277.2h0M35.1 267h0M51.1 273.7h0M48.5 258h0M30.1 262.3h0M39.7 266.9h0M36.1 281.9h0M35.4 267.8h0M31.3 278.9h0M49.8 264.6h0M35.6 238.4h0M29.3 266.2h0M49.8 264.7h0M40.4 268.9h0M30.8 249.7h0M43.2 261.6h0M52.8 271.5h0M44.5 247.1h0M41.3 263.4h0M42.8 255.4h0M52.3 267.9h0M22 265.2h0M29.2 277.4h0M32 265.5h0M47.9 277.2h0M54.2 278.5h0M52.7 272.3h0M50.4 273.9h0M39.1 278.2h0M27.4 261.5h0M24.7 269.7h0M37.3 271.9h0M55.4 274.2h0M34.6 259.2h0M32.1 283.9h0M49.1 253h0M51.8 275h0M47.8 261h0M29.1 282.8h0M39.9 270.4h0M37 243.5h0M35.8 273.8h0M33.2 250.9h0M30.7 265.9h0M41.6 268.3h0M30.3 282.1h0M37.5 262.4h0M44.7 279.4h0M45.2 272.7h0M32.8 268.4h0M34.3 268.5h0M50.2 257.1h0M50.9 255.1h0M37.3 270.8h0M40.8 255.7h0M45.7 257.4h0M41.7 283.9h0M34.5 255.1h0M40.6 254.7h0M48 271.8h0M39 261.1h0M41.8 256.8h0M44 273.6h0M41.1 271.9h0M40.7 268.2h0M46.7 261.4h0M28 265.4h0M42.2 269.6h0M35.7 278.6h0M49.8 267.4h0M39.7 269.3h0M29.6 260.1h0M44.1 255.7h0M36.2 274.8h0M34.9 277.4h0M59.3 261.3h0M27.8 261.6h0M40 255.7h0M30.2 264.9h0M43.1 272h0M38.2 271.8h0M33.9 249h0M36.4 282.7h0M42.7 261.5h0M40.9 282.8h0M28.7 262.5h0M38.2 261.7h0M37.2 262.9h0M50 277.5h0M45.6 271.1h0M45.8 257.8h0M42.6 260.3h0M49 261.3h0M32.6 249.4h0M32.3 251.7h0M31.9 285h0M37.5 264.5h0M36.9 267.6h0M42.3 273.3h0M50.4 284.3h0M57.5 248.3h0M41.2 262.2h0M44.5 280.1h0M23.8 254.5h0M25.7 266.6h0M51.3 251.5h0M38.8 271.5h0M38.9 263h0M25.7 242.1h0M61.6 267.4h0M43.9 268.5h0M25.3 252.4h0M37.2 253.1h0M43.4 255.5h0M37 294.1h0M53.6 269.9h0M31 260.8h0M42.5 265.2h0M25.4 249.2h0M52.3 269.4h0M54.5 271.3h0M43.2 262h0M38.6 275h0M27.1 252.9h0M63.7 278.2h0M43.8 249.5h0M45.4 253.6h0M29.3 245.7h0M44 270.3h0M58.9 271.3h0M38.1 284.3h0M39.7 244.2h0M45.6 242.7h0M38.4 294h0M50 276.3h0M41 265.7h0M48.7 248.1h0M30.5 249.6h0M42.7 274.2h0M47.3 270.6h0M54.5 270h0M27.4 266.5h0M38.6 265.5h0M35.7 280h0M24.3 273.6h0M31.5 281.4h0M43.6 258.7h0M40.3 255.5h0M29.4 277.8h0M60.3 272.3h0M21.5 280.9h0M39.5 270.5h0M49.4 265.8h0M53.3 254.7h0M39.8 252.3h0M24.7 256.7h0M57.9 275.2h0M42 264.1h0M43.5 267.1h0M36.2 266.8h0M36.6 270.8h0M41.4 256.6h0M35.7 274.6h0M37.7 272.1h0M47.1 257h0M55 269h0M28.8 252.6h0M47.1 253.9h0M37.2 283.3h0M39.7 265.2h0M45.9 252.4h0M41.7 278h0M44.6 242.3h0M47 266.9h0M29.5 267.5h0M52.8 271.5h0M41.9 274.8h0M30.1 261.1h0" stroke="#e83131" stroke-width="1.90" stroke-linecap="round"/>
<path d="M53.9 270.8h0M42.9 263.5h0M38.2 255.2h0M55.8 258.1h0M42.1 266.1h0M53.1 249.5h0M48 272.7h0M42.1 269h0M49.4 267.5h0M38.8 252.4h0M40.3 275.9h0M39.7 262.9h0M46.9 275.5h0M36.5 274.9h0M46.4 260.8h0M48.6 251h0M33 264.2h0M39.6 258.8h0M46.2 262.5h0M50.9 269.2h0M32.7 233h0M30.5 279.1h0M53.6 261.2h0M45.4 237.5h0M28.6 250.7h0M32.1 259.1h0M51.6 291.1h0M42.6 249.4h0M57.3 269.2h0M32.6 257.2h0M31.5 257.7h0M34.9 267h0M49.7 263.4h0M42.2 246.9h0M39 258.9h0M41.7 276.3h0M51.4 259.4h0M31.1 278.1h0M42.4 246.2h0M37.1 265.5h0M36.7 255.8h0M42 290.2h0M32.4 275.9h0M39.4 279.1h0M39 272.4h0M45.6 260.2h0M29.5 277.8h0M47.2 267.4h0M49.2 260.1h0M40.5 261.1h0M30.6 271.6h0M50.4 264.3h0M39.1 258.5h0M37.2 266.5h0M52.4 270.5h0M42.3 275.8h0M30.1 258.9h0M34.9 279.8h0M39 270.2h0M39.6 267.8h0M42.5 265h0M31.5 268.7h0M45.1 249.3h0M57.4 268.5h0M35.6 269.4h0M42.3 262.4h0M51 270.8h0M32.6 262.5h0M38.1 268.3h0M35.2 273.5h0M39.2 273.8h0M47.7 268.9h0M37.7 263.8h0M39 285.7h0M54.7 267.3h0M46.2 273.9h0M43.3 260.8h0M32.3 263.9h0M38 270.3h0M41.1 276h0M36.5 260.6h0M44.8 254.9h0M38.8 272.3h0M28.5 271.5h0M38.9 262.5h0M46 267.4h0M50.4 268.1h0M61.4 269.5h0M35.8 260.1h0M37.9 278.7h0M39.3 282.6h0M45.8 255.8h0M46 277.2h0M36.5 269.8h0M52 259.3h0M23.5 281.2h0M47.1 252.9h0M36.6 269.8h0M37.4 263.5h0M43.8 249.8h0M46.5 276.2h0M41.8 270.1h0M34.6 254.8h0M48.5 264.1h0M42.8 247.9h0M33.6 273.5h0M49.2 278.9h0M39.3 257.2h0M31.3 283.8h0M43.4 246.5h0M44.8 267.3h0M50.9 252h0M40.1 273.1h0M51.2 263.1h0M28.2 272.1h0M61.5 270.4h0M54.7 257.7h0M33.9 273.7h0M35.3 258.2h0M41.1 254.8h0M45.6 261.8h0M48.6 274.7h0M43.9 282.4h0M44.6 255.4h0M23.1 274.7h0M38.9 279.5h0M43 288h0M34.9 271.8h0M28.3 264.1h0M55.1 249.1h0M43 256.4h0M41.1 273.7h0M49.4 262.3h0M52.4 266.8h0M35.2 248.8h0M31.2 269.3h0M36.9 267.4h0M37.3 271.9h0M36 261.3h0M33.9 264.1h0M32.9 270.5h0M60.1 264.4h0M42.7 272.4h0M50 245.1h0M27.7 268.7h0M34.2 293h0M37 265.4h0M35.6 264.8h0M50.9 275.7h0M43.4 266.7h0M31.5 282.3h0M34.3 263.2h0M43.8 268.5h0M38.4 255.1h0M42 279.6h0M32.8 282.3h0M60.9 261.1h0M32.7 268.9h0M36.6 259.4h0M42.5 277h0M46.1 270h0M30 253.8h0M42.3 265.9h0M46.6 260.7h0M50.5 275.6h0M34.1 251.4h0M54.7 255.9h0M34.8 259.8h0M33.4 269.8h0M38.9 282h0M50.5 266.9h0M44.3 260h0M50.2 236.7h0M29.6 269.2h0M31.6 263h0M55.1 281.5h0M35.8 276h0M33.7 275.6h0M42.7 277.7h0M36.2 276.5h0M45.3 270.9h0M38.7 249.6h0M30.6 278.1h0M61.8 272.9h0M29.8 269h0M51.8 284.1h0M45.5 269.2h0M29.9 246.8h0M38.9 273.2h0M38.5 288.3h0M23.7 266.7h0M34.6 258.3h0M43.4 283.1h0M21.6 274.1h0M36.8 259.4h0M48.6 273.4h0M31.7 259.9h0M28.2 281.7h0M56.8 262h0M47.4 260.5h0M33 274.1h0M47.3 277.9h0M37.9 280.4h0M26.4 280.2h0M35.7 281.1h0M28.5 253.5h0M52.2 272h0M44.6 261.4h0M25.9 269.7h0M55 256.3h0M27.6 252h0M32.8 268.7h0M30.8 255.2h0M46 262.3h0M28.2 262.3h0M36.3 286.7h0M40 269.2h0M40.9 273.4h0M35.9 288.8h0M36.4 267.6h0M41.2 283.4h0M31.7 290.3h0M35.5 266.8h0M51.7 293.6h0M37.2 265.2h0M30.8 262.5h0M24 281.6h0M27.2 269.9h0M59.8 277.2h0M45.5 256h0M23.7 278.1h0M34.9 270.6h0M52.2 251.4h0M51.3 279.2h0M48.5 258.7h0M25.8 272.6h0M54.3 275.1h0M45.4 275.1h0M36.6 287.7h0M34.3 260.5h0M47.5 270.7h0M50.1 259.8h0M35.9 255.3h0M34.7 283.9h0M51.4 267.9h0M56.7 262.7h0M49.3 264.5h0M38.7 253.8h0M41.1 261.3h0M33.7 262.6h0M41.7 268.1h0M54.5 276.5h0M34.1 258.4h0M30.5 259.8h0M30.3 268.1h0M38.7 264.4h0M35.7 267.8h0M49.2 257.8h0M43.9 273.2h0M46.2 269.3h0M24.9 250.1h0M38.1 261.8h0M53.8 267.3h0M40.6 273.1h0M23.8 262.4h0M44.2 292.9h0M48.7 279.7h0M28.2 272.4h0M47.3 272.2h0M41.7 267h0M47.8 257h0M40.8 290.9h0M57.7 270.2h0M42.7 277.5h0M51.1 267.4h0M29.5 250.1h0M49.2 274.6h0M28.3 252.3h0M22.4 253.8h0M24.3 275.8h0M38.7 264.9h0M56.2 250.5h0M36.2 272.2h0M42.6 247.8h0M49.7 254.5h0M27.7 256.2h0M48.2 269.3h0M40.3 277.5h0M52.2 248.7h0M46.7 263.5h0M21.9 277.6h0M45.5 265.7h0M35.4 264.8h0M46.3 246h0M60.6 286h0M25.6 259.5h0M42.1 261.2h0M46.3 282.4h0M35.2 253.1h0M44.4 273.7h0M38.1 267h0M29.8 296.1h0M36.3 256.5h0M54 263.9h0M29 267h0M47.8 266.6h0M52.2 264.3h0M40 262h0M41.7 275.3h0M46 272.7h0M47.8 262.4h0M43.4 255.3h0M32.2 265.1h0M52.7 262.7h0M48.9 255h0" stroke="#e71f1f" stroke-width="1.90" stroke-linecap="round"/>
<rect x="20.00" y="231.00" width="75.20" height="66.60" fill="none" stroke="#777" stroke-width="0.6"/>
<line x1="31.10" y1="297.60" x2="31.10" y2="296.60" stroke="#555" stroke-width="0.4"/>
<text x="31.10" y="303.30" font-size="2.3" fill="#555" text-anchor="middle" stroke="#555" stroke-width="0.1">-60</text>
<line x1="42.20" y1="297.60" x2="42.20" y2="296.60" stroke="#555" stroke-width="0.4"/>
<text x="42.20" y="303.30" font-size="2.3" fill="#555" text-anchor="middle" stroke="#555" stroke-width="0.1">-40</text>
<line x1="52.80" y1="297.60" x2="52.80" y2="296.60" stroke="#555" stroke-width="0.4"/>
<text x="52.80" y="303.30" font-size="2.3" fill="#555" text-anchor="middle" stroke="#555" stroke-width="0.1">-20</text>
<line x1="63.90" y1="297.60" x2="63.90" y2="296.60" stroke="#555" stroke-width="0.4"/>
<text x="63.90" y="303.30" font-size="2.3" fill="#555" text-anchor="middle" stroke="#555" stroke-width="0.1">0</text>
<line x1="75.20" y1="297.60" x2="75.20" y2="296.60" stroke="#555" stroke-width="0.4"/>
<text x="75.20" y="303.30" font-size="2.3" fill="#555" text-anchor="middle" stroke="#555" stroke-width="0.1">20</text>
<line x1="85.80" y1="297.60" x2="85.80" y2="296.60" stroke="#555" stroke-width="0.4"/>
<text x="85.80" y="303.30" font-size="2.3" fill="#555" text-anchor="middle" stroke="#555" stroke-width="0.1">40</text>
<line x1="20.00" y1="237.00" x2="21.00" y2="237.00" stroke="#555" stroke-width="0.4"/>
<text x="18.60" y="237.85" font-size="2.3" fill="#555" text-anchor="end" stroke="#555" stroke-width="0.1">40</text>
<line x1="20.00" y1="250.60" x2="21.00" y2="250.60" stroke="#555" stroke-width="0.4"/>
<text x="18.60" y="251.45" font-size="2.3" fill="#555" text-anchor="end" stroke="#555" stroke-width="0.1">20</text>
<line x1="20.00" y1="264.60" x2="21.00" y2="264.60" stroke="#555" stroke-width="0.4"/>
<text x="18.60" y="265.45" font-size="2.3" fill="#555" text-anchor="end" stroke="#555" stroke-width="0.1">0</text>
<line x1="20.00" y1="277.60" x2="21.00" y2="277.60" stroke="#555" stroke-width="0.4"/>
<text x="18.60" y="278.45" font-size="2.3" fill="#555" text-anchor="end" stroke="#555" stroke-width="0.1">-20</text>
<line x1="20.00" y1="291.40" x2="21.00" y2="291.40" stroke="#555" stroke-width="0.4"/>
<text x="18.60" y="292.25" font-size="2.3" fill="#555" text-anchor="end" stroke="#555" stroke-width="0.1">-40</text>
<text x="54.00" y="308.70" font-size="5.0" fill="#2a2a2a" text-anchor="middle" stroke="#2a2a2a" stroke-width="0.16">PC1</text>
<text x="12.20" y="258.80" font-size="4.8" fill="#2a2a2a" text-anchor="middle" transform="rotate(-90 12.2 258.8)" stroke="#2a2a2a" stroke-width="0.16">PC2</text>
<text x="149.40" y="229.40" font-size="4.9" fill="#2a2a2a" text-anchor="middle" stroke="#2a2a2a" stroke-width="0.16">PCA Analysis</text>
<ellipse cx="158" cy="274" rx="12" ry="9.5" fill="#ee2a2a" fill-opacity="1.0"/>
<ellipse cx="130" cy="262" rx="5" ry="9" fill="#3a3ad8" fill-opacity="0.5"/>
<path d="M132 269.4h0M138.7 247h0M126.6 265.4h0M126.7 269.4h0M133.5 235.3h0M123.3 255.2h0M130.5 253.8h0M119.1 254h0M130 272.9h0M133.1 265h0M127.6 253.2h0M128.9 272.3h0M122.7 274.5h0M133.5 247.6h0M125.9 262.8h0M124.4 251.3h0M123.5 257.7h0M130.3 266.6h0M130.2 252.7h0M121.3 252.1h0M134.4 278.8h0M128.7 257.5h0M128 272.8h0M128.2 256.8h0M120.8 242.1h0M135.6 256.4h0M122.6 269h0M130.3 277.9h0M128.6 264.4h0M120.9 263.6h0M130.4 264.3h0M137.4 280.9h0M126 255.4h0M118.8 248.1h0M131.4 268.7h0M122.6 256h0M129.5 248.1h0M125.5 259.1h0M127.2 243.7h0M131.4 257.5h0M128.4 259.5h0M131.3 252.9h0M136.6 284.7h0M121.6 255.9h0M140.8 256.5h0M135.5 285.8h0M130.4 234.9h0M133.3 264.9h0M139.4 270.8h0M135.5 256.4h0M124.2 266.6h0M139.8 270h0M123.5 260.3h0M129 270.4h0M136.5 264.4h0M125.4 262.9h0M125.3 282.9h0M120.6 278.8h0M124.1 268.8h0M133.2 258.7h0M124.8 258.9h0M127 258.6h0M132.5 256.5h0M122.8 257.5h0M132.9 258.3h0M128.8 258.4h0M131.1 236.3h0M124.5 270.5h0M128.7 266.5h0M132.9 260.3h0M129 262.1h0M134.5 262.2h0M118.5 272.1h0M126.7 269h0M128.9 246.3h0M128 258.3h0M128.7 262h0M128.6 262.5h0M129.7 261.5h0M120.2 246.7h0M129.8 280.6h0M127.1 258.6h0M138 248.2h0M131.3 240.4h0M130.9 280.2h0M131.5 258.5h0M128.2 254.6h0M132.2 265.8h0M133.4 265.2h0M126.1 268.4h0M119 272.2h0M123.3 254.9h0M126.6 258.4h0M126.4 259.3h0M130.1 275.6h0M131.5 258.3h0M129.5 258.4h0M128.1 269h0M129.5 266.3h0M124.4 255.9h0M123.5 250.9h0M123.7 269.1h0M136.1 262.8h0M127.1 264.3h0M124.2 263.8h0M128.4 256h0M130.4 260.3h0M127.8 258.7h0M132.1 250.3h0M129 260.6h0M124.1 256.8h0M120.1 264.3h0M136.2 260.8h0M131.1 245.9h0M125 259.5h0M125.9 274.6h0M131.4 286.5h0M129.3 263h0M134.8 268.4h0M130.7 265.2h0M132.2 274.2h0M133.3 255.3h0M138 265.7h0M126.9 264.6h0M125.5 251.4h0M133.6 253.4h0M130.2 259.6h0M130.3 275.7h0M134.3 278.3h0M141.7 271.2h0M130.8 246.2h0M122.4 275.5h0M126.1 252.3h0M123.6 262.3h0M129.3 251.3h0M122.4 260.8h0M126.3 263.3h0M115 271.2h0M127.2 269.1h0M142.3 269.3h0M129.1 265.1h0M131.6 269.4h0M134 265.6h0M133.9 263.9h0M129.4 252.8h0M119.4 248.8h0M125.7 278.5h0M125.2 279.9h0M128.8 261.5h0M134.2 260h0M126.6 248h0M133.4 270.2h0M139.2 257.7h0M136.3 267.8h0M127.2 253.5h0" stroke="#2121ca" stroke-width="1.90" stroke-linecap="round"/>
<path d="M129.2 256.1h0M131.1 269.4h0M124.6 254.2h0M131.5 253.7h0M126.3 265.9h0M123.1 251.9h0M141.6 257.8h0M134.4 264.6h0M139.7 267.9h0M118 264.7h0M136.2 259.2h0M131.8 251.9h0M131.8 262.2h0M118.6 263h0M123.7 253.9h0M121.9 255.4h0M138.2 260.2h0M126.7 263.1h0M124.8 279.6h0M128.8 252.6h0M129.1 261.9h0M136 266.5h0M135.8 264.1h0M129.3 277.9h0M120.5 257.5h0M130.9 257.5h0M134 266.8h0M124.4 271.4h0M126.8 279.4h0M133.5 249.6h0M130.9 268.9h0M130.3 246.6h0M135.7 270.3h0M131.9 263.3h0M121.3 245.7h0M129.8 241.1h0M123.8 250.8h0M127.6 254.3h0M130.6 246.5h0M126.1 261.9h0M123.7 273.8h0M142.8 269.4h0M121.5 246.4h0M126 254.9h0M129.1 257.3h0M121.8 274h0M131 272.7h0M132.9 263.7h0M128.9 268.9h0M125.1 269.5h0M132.6 264.4h0M121.6 246h0M132.9 267.3h0M126.7 256.3h0M135.9 259.9h0M130.1 257.1h0M127.3 289.1h0M124.9 256.3h0M123.4 249.4h0M130.6 275.4h0M134.8 274h0M127.5 261h0M119.1 264h0M126.7 261.3h0M131.3 255.3h0M131.8 268h0M132.3 268.3h0M125.9 252.7h0M139.7 265.1h0M129.9 283.5h0M126 274.2h0M127.6 258.9h0M117.6 266.9h0M125 252.1h0M132.4 259.6h0M132.5 257.2h0M123.4 262h0M126.6 255.8h0M125.7 284.7h0M137.5 254.3h0M130.1 257.6h0M126.2 259h0M130.8 259.7h0M132.3 271.4h0M126.2 278.4h0M128.2 262.9h0M133.2 269.5h0M130.6 273.8h0M131.2 259.7h0M130 282.7h0M120.9 273.1h0M130.2 257.9h0M132.8 273.5h0M128.4 269.9h0M131.1 275.1h0M124.7 266.7h0M121.2 255h0M124.2 254.8h0M125 262.5h0M129.5 262.5h0M132 268.9h0M133.9 257.3h0M133.9 254.9h0M121.3 273.9h0M124.4 275.7h0M131.1 269.6h0M130.1 258.2h0M136.2 258.8h0M128.5 236.9h0M129.4 260.5h0M132.1 260h0M127.3 255.6h0M131.6 263.2h0M124.9 254.4h0M129.8 249.6h0M125.6 268.2h0M128.7 263.1h0M134.3 262.2h0M134.3 262h0M127.8 255.9h0M131.3 251.2h0M125.2 268.7h0M128 257.6h0M132.5 256.3h0M133.8 269.2h0M127.2 287.4h0M129.1 255.7h0M127.6 261.6h0M133.5 257.7h0M132.6 266.1h0M129.4 269.4h0M122.9 272.8h0M125 257.1h0M121.2 263.5h0M129.9 281.4h0M139.3 272.5h0M131.2 267.4h0M132.4 279.7h0M128.3 242.5h0" stroke="#3434cd" stroke-width="1.90" stroke-linecap="round"/>
<path d="M123.2 242.3h0M136.3 254.5h0M135.8 279.9h0M119.5 255.3h0M123.6 260.4h0M121.8 245.1h0M133.2 250.8h0M127 263h0M125.4 265.3h0M129.7 253.3h0M128.9 270.9h0M123.8 252.6h0M128.6 286.1h0M136.5 262.2h0M125.2 255.5h0M136.9 261h0M131.6 263.7h0M132.7 251.7h0M123.9 243.4h0M137.1 271.1h0M130.5 283.6h0M133 251.8h0M133.5 266h0M119.5 276.5h0M127.6 248.8h0M124.1 267.9h0M119.1 270.8h0M130.2 262.1h0M133.3 271.6h0M136.9 252.3h0M132.2 260.8h0M128.3 264.5h0M134.6 254.6h0M130.3 252.5h0M127.2 265.9h0M138 280.3h0M132.4 272.9h0M135.7 263.7h0M124 276.5h0M143.7 252.5h0M130 266.9h0M128.6 277.2h0M124.9 260.3h0M124.5 245.4h0" stroke="#4948d2" stroke-width="1.90" stroke-linecap="round"/>
<path d="M142.5 265.2h0M139.2 284.6h0M140.6 265.7h0M139.5 272.1h0M137.5 275.8h0M137.1 279.8h0M143.5 261.8h0M136.7 272.2h0M134.3 272.7h0M137.7 251.9h0M145.4 258.1h0M137.1 282.5h0M148.6 279.6h0M128.8 279.5h0M139.3 274h0M142.7 263.9h0M140.4 272.7h0M142.7 262.4h0M142.7 258.8h0M137.5 269.2h0M145 272.6h0M138.7 264h0M130.4 273.4h0M133 277.5h0M135.9 275.9h0M139.5 257.6h0M136.1 270h0M140.2 261.7h0M137.8 281.5h0M132.4 275.2h0M137.8 265.5h0M135.1 278.7h0M129.5 285.4h0M145.2 275.3h0M140.9 269.2h0M136.6 275.3h0M141.9 262.6h0M131.3 263.2h0M135.5 270.1h0M142.5 266.4h0M143.7 275.4h0M140.4 281.1h0M135.2 284.1h0M139.5 267.5h0M145.8 268h0M133.8 279.1h0M140.1 269.1h0M135.1 272.9h0M136.1 284h0M141 270.2h0M136.3 267.5h0M135.2 268.8h0M137.6 261.3h0M140.8 265.3h0M145.4 278.5h0M136.7 276.8h0M144.8 267.2h0M142.4 268.1h0M143 287.4h0M139.4 272.7h0M143.9 260h0M137.9 245.3h0M148.2 275.9h0M147.4 277.2h0M129.8 273h0" stroke="#a39fe3" stroke-width="1.90" stroke-linecap="round"/>
<path d="M140.4 275.1h0M139.9 265h0M140 259.7h0M140.1 272h0M135.3 275.3h0M142.1 270.6h0M139.4 273.2h0M139.7 255.3h0M139.7 274.2h0M139.1 272.6h0M125.3 280h0M133.8 284.6h0M138.8 273.7h0M138.4 273.6h0M134.2 276h0M133.2 277.5h0M138 271.4h0M144.4 268.8h0M140 262.3h0M146.8 281.6h0M131.8 261h0M138.2 254.6h0M127.1 269.3h0M138.1 266h0M135 277.6h0M148.1 276.1h0M144.4 277.6h0M147.7 276.6h0M141 263.2h0M137.6 283.2h0M139.4 265.1h0M140.4 282h0M140.1 268.6h0M134.7 273.4h0M138.3 257.2h0M138.2 267.4h0M132.4 275.8h0M138.1 282.6h0M140.3 274.6h0M136.3 258.3h0M137.2 267h0M139.1 260.3h0M145.8 273.8h0M137.6 276.2h0M139.8 256.3h0M133.7 277.3h0M139 263h0M127.3 283.2h0M138.2 272.3h0M148 273.5h0" stroke="#bab6e8" stroke-width="1.90" stroke-linecap="round"/>
<path d="M145.2 277.2h0M130.9 270.8h0M133.5 258.7h0M139.6 272.4h0M133.2 276.2h0M143.1 275.8h0M135.9 282.2h0M134.8 278.2h0M143.2 273.5h0M137.3 276.4h0M133.4 279.5h0M145.4 271.3h0M135.5 282.5h0M139 272.9h0M142.3 289.4h0M134.4 271.8h0M131.7 256.7h0M143.1 269.2h0M140.6 273.9h0M147.1 286.7h0M143.9 281h0M137.3 278h0M140.2 274h0M143.5 283.5h0M135.5 273.5h0M138.4 269.5h0M146.6 256.8h0M134 268h0M140.6 282.1h0M147.3 261.2h0M140.1 262.9h0M136.2 269h0M138.1 274.7h0M148.4 267.4h0M141.5 280.8h0M143 259.5h0M146.9 274.4h0M138.4 271.1h0M141 274.2h0M140.5 270.4h0M146.1 292.2h0M140.4 289.2h0M130.7 264.1h0M138.6 275.8h0M140.7 265.1h0M143.2 272.7h0M142.7 273.6h0M133.1 281.9h0M139.1 279.7h0M142.4 261.8h0M135 275.6h0M144.3 280.8h0M139.3 280.9h0M142.6 279.2h0M138.1 278.3h0" stroke="#d2cded" stroke-width="1.90" stroke-linecap="round"/>
<path d="M160.5 236h0M162.7 261.2h0M156.5 246.5h0M169.9 261.9h0M140.1 247.6h0M158.1 237.5h0M171.1 252.2h0M163.5 241.8h0M166.6 258.7h0M161.3 247h0M157.7 242.8h0M162.5 244.4h0M151.1 252.6h0M171.7 247.9h0M166.4 240.3h0M165.3 249.8h0M160.6 238.6h0M174.8 243.1h0M164.3 256.8h0M162.6 241.1h0M159.9 253.2h0M142.8 241.6h0M168.3 241.8h0M144.5 252.6h0M169 249.5h0M154.6 247.7h0M179.8 260.1h0M167.9 243.6h0M168 249.8h0M152.6 252.8h0M167.5 256h0M163.1 246.5h0M161.4 245.7h0M149.1 244.6h0M157.9 251.6h0M163.8 250.6h0M174.2 250h0M170 255.1h0M155.9 252.3h0M168.4 250.7h0M176.6 245.7h0M163.6 248.4h0M160.7 234.4h0M158.7 244.9h0M158.6 249.5h0M176.3 252.2h0M173.7 244.2h0M170.6 250.1h0M163.5 244.3h0M182.5 248.1h0M150.3 246h0M156.3 253.4h0M174.1 255.7h0M176.3 258.8h0M168.3 243.9h0M155.3 246.7h0M166 254.7h0M170.5 244.3h0M157.2 248.4h0M177.7 243.4h0M160.3 247.6h0M175 243.8h0M162.9 247.3h0M168.5 245h0M145.6 246.7h0M164.1 255.7h0M155.4 245.8h0M175.6 241.3h0M173 260.7h0M161.7 248h0M162.8 244.1h0M171.8 245.6h0M168.4 246.1h0M179.2 254.1h0M169.9 250.8h0M164.3 250.6h0M158.8 240.9h0" stroke="#f1a8ab" stroke-width="1.90" stroke-linecap="round"/>
<path d="M162.6 240.6h0M144.6 258.3h0M162.8 242.3h0M166.6 245.7h0M153.8 240.1h0M159.1 247.2h0M162.3 256h0M156.1 246.2h0M160.2 250.4h0M149.8 235.2h0M166.8 251.4h0M146.6 252.8h0M177.6 250.8h0M148.2 248h0M158.2 245.1h0M160.9 260h0M167.9 245.6h0M162.5 235.6h0M171.3 257.8h0M157.2 244.7h0M171.6 242.7h0M178.3 240.8h0M160.7 244.1h0M175.6 248.3h0M162.1 257.6h0M177.2 253.7h0M178.7 246.3h0M157.6 244.8h0M161.5 249.1h0M163.4 241.5h0M151.3 252.1h0M153.4 251.4h0M175.7 247.8h0M166.9 256.4h0M183.8 253.1h0M157.1 240.3h0M167 235.6h0M150.1 248.3h0M155.9 243.3h0M160.1 234.4h0M148.9 245.2h0M164.1 251.9h0M175.5 250.5h0M146.8 257.7h0M164.1 253h0M175 244.9h0M143.8 250h0M176 243.7h0M161.3 250.7h0M175.6 246.9h0M181.6 251.2h0M168.3 240h0M172.5 246h0M146.5 249.4h0M148.4 257.8h0M171 246.6h0M143.4 240.9h0M160.2 251.1h0M160.6 260h0M162.4 247h0M155.6 254h0M156.2 255.7h0M175.5 252.4h0M168.9 246.5h0M174.6 254.7h0M170.7 244h0M146.6 253.1h0M165.1 259.9h0M151.2 244.5h0M159.2 243.3h0M171.3 245.2h0M170.9 255.2h0M163.6 250.7h0M149.7 255.6h0M185.5 248.4h0M179 249.8h0M181.1 249.3h0M168.8 256.2h0M168.3 253.1h0M164.2 248.5h0M170.9 242h0M162.4 255.1h0M158.8 254.5h0M159.6 251.6h0M166.9 245h0" stroke="#ef9294" stroke-width="1.90" stroke-linecap="round"/>
<path d="M158.8 257.6h0M154.6 260.9h0M157.5 256.7h0M183.6 247.2h0M170.3 249.8h0M166 247h0M172.5 258h0M160.5 253.2h0M166.6 243.8h0M165.4 248.5h0M151.1 249h0M160.6 252.6h0M153.9 245.8h0M165.5 244.1h0M160.4 263.4h0M162.7 261.2h0M163.5 244.1h0M166.7 241.2h0M155.3 243.4h0M152.9 250.2h0M177.7 242.5h0M164 262.8h0M153.8 241.7h0M146.3 252.4h0M169.3 245.1h0M169.2 258.3h0M179.1 254.9h0M152.6 251.6h0M158.4 246.1h0M154.5 254.6h0M159.8 259.7h0M176.9 248.7h0M170.7 246.3h0M182.3 246h0" stroke="#ee7d7f" stroke-width="1.90" stroke-linecap="round"/>
<path d="M158.4 271.5h0M160.2 262.9h0M143 285.6h0M151 273.8h0M143 280.8h0M160.5 276.1h0M158.1 268.4h0M174.5 283.2h0M154.8 249.4h0M150.5 275.5h0M145.9 269.4h0M144.8 271.1h0M146.4 266.7h0M152.6 280h0M148.9 269.8h0M170.4 279.7h0M152.5 265.9h0M166.5 266.3h0M152.2 268.2h0M162.7 277.5h0M163.4 282.2h0M165.6 274h0M160.1 278.3h0M164 273.1h0M184.7 272.9h0M161.6 270.1h0M155.8 257.9h0M156.3 282.4h0M168.2 278.8h0M161.1 264.8h0M137.9 274.7h0M146.5 283.1h0M146.3 281.4h0M169.7 261.7h0M163.2 282.1h0M158.9 271.2h0M145.5 285.1h0M168.3 295.5h0M151.7 278.8h0M156.7 266.8h0M141.8 277h0M145.4 268.8h0M175.8 254.1h0M153.9 269.7h0M141.2 276.3h0M160.7 271.7h0M157.7 269.8h0M164.6 276.6h0M155.8 265.8h0M165.6 277.9h0M166.6 279.7h0M171.4 270.7h0M160.7 275.6h0M156 275.7h0M159 279.7h0M157.9 277.8h0M168.3 278.5h0M165.7 284.2h0M164.1 272.1h0M152 284h0M161.5 271.6h0M163.5 268.8h0M153.7 276h0M143.6 280.6h0M162 272h0M150.8 268.5h0M154.7 274.4h0M144.2 270.6h0M161.1 275.2h0M156.4 263.9h0M149.8 278.6h0M160.6 282.2h0M159.1 266.3h0M142.5 282.5h0M147.3 261.3h0M141.7 274.9h0M161.9 278.6h0M177.8 282.1h0M176.9 279.8h0M137.5 277.6h0M145.4 283.4h0M145.5 266.4h0M165.5 281.2h0M140.1 274.5h0M158.6 278.9h0M162.8 258.5h0M161.6 263.3h0M146.1 270.2h0M171.4 267.3h0M158.9 268.4h0M147.8 275.7h0M160.1 276.7h0M168.2 274.4h0M150.4 281h0M159.7 276.6h0M168.3 271.7h0M162.2 274.1h0M171.8 280h0M173.4 263.4h0M176.8 279h0M165.8 276h0M155.3 276.9h0M158.9 292.3h0M140.7 285.2h0M162.1 265.4h0M151.5 280.2h0M167.7 272.4h0M160.6 264.2h0M174.6 266.6h0M162.7 263.2h0M168 273.9h0M156.1 272.7h0M171.9 281.9h0M147.2 265.9h0M158.9 259.2h0M172.4 267.6h0M166.6 271.8h0M158.4 280.5h0M160.8 281.3h0M157.8 274h0M162.7 266.4h0M148.3 273.2h0M148.2 271.6h0M163.4 264.6h0M166 280.2h0M159.7 284.9h0M163 276.6h0M153.2 265.2h0M148.9 275.6h0M161.4 282.8h0M148.8 267.1h0M150 277.9h0M159.4 276.1h0M157.2 279.2h0M142.7 269.9h0M164.7 283.9h0M156.2 278.3h0M163 293.7h0M162.3 280.8h0M156.8 278.4h0M170 270.3h0M161.5 272.5h0M141.9 273.4h0M164.9 283.2h0M143.8 281.5h0M167.3 273.8h0M157.1 268.7h0M153.1 280h0M167.9 268.1h0M152.1 275.8h0M158.3 289.4h0M142.3 276.2h0M146.5 281.6h0M152.9 272.9h0M169.5 279.2h0M136 273.5h0M167.7 267h0M151.8 263.3h0M160.1 278h0M162.8 273.7h0M172.5 270h0M143.9 281.4h0M178.9 265.9h0M162.3 269.3h0M162.2 269.7h0M165 274.2h0M152.1 271.2h0M157.3 279.9h0M144 266h0M144.9 283.2h0M153.5 271.9h0M163.8 269.9h0M166.6 265h0M146.6 265.1h0M170.2 273.6h0M142.1 270.3h0M171.2 268.3h0M154.2 271h0M172.2 275.9h0M157.1 276.9h0M169.6 272.5h0M151.3 276.2h0M159 276.1h0M167.7 262.6h0M159.7 270.4h0M155.4 276.6h0M149.2 290h0M157.4 274h0M143.6 271.3h0M153.9 275.1h0M153.5 279.3h0M154.1 273.6h0M150.3 291.6h0M143.5 278.1h0M172.8 266.3h0M172.8 276.2h0M167.8 272.4h0M149.9 281.6h0M169.8 280.1h0M162.6 273.5h0M148.4 256.4h0M154.1 278.5h0M154.5 282.7h0M173.9 268.8h0M160.4 279.4h0M156.5 277.9h0M159.7 274h0M153.8 274.5h0M147.2 284.5h0M148.1 265.9h0M154.6 278.7h0M157.8 267.3h0M149.2 270.3h0M164.3 281.4h0M151.1 273h0M157 292.2h0M169.4 285.7h0M167.4 271.1h0M157.4 275.4h0M164.3 271.6h0M141 276.2h0M185 292h0M153.1 282.6h0M155.3 283.1h0M165 288h0M146.2 273.2h0M147.4 273h0M167.3 269.2h0M145 267.5h0M173.8 256.1h0M146.7 277.7h0M160.9 278.8h0M146.9 269.4h0M160.9 285.2h0M160.5 270.6h0M157.3 270.2h0M161.3 267.3h0M145.8 275.2h0M162.7 267.1h0M170.4 273.4h0M157.2 273.7h0M166.4 284.1h0M152 295.6h0M166.4 280.9h0M143.6 267.9h0M163.8 269.1h0M158.3 276.2h0M155.4 253.4h0M165.3 280.8h0M149.4 286.1h0M144.1 277.2h0M157.6 262.8h0M159.6 284.6h0M152.4 280.4h0M151.8 282.5h0M153.3 272.5h0M163.4 278.5h0M158.4 262.1h0M168.5 276.5h0M173.1 270.2h0M156.7 266.6h0M147.2 269.1h0M153.2 268.1h0M155.7 277.9h0M166.3 273.9h0M168.8 271.9h0M153.6 270.9h0M151.7 275.6h0M162.2 268.7h0M156.5 276.6h0M173 275.1h0M161.1 273.7h0M147.6 251.4h0M163.3 281.2h0M158.7 269.2h0M147.7 270h0M157.8 279.2h0M170.9 271.3h0M159.9 279.4h0M170.2 274.5h0M163.9 277h0M175 280.7h0" stroke="#e94344" stroke-width="1.90" stroke-linecap="round"/>
<path d="M153.8 281.1h0M165.5 281.2h0M152.6 260.5h0M155.7 273.5h0M147.8 275.9h0M158.9 278.3h0M170.7 262.6h0M170.1 270.3h0M156.5 286.6h0M173.9 268.2h0M169.1 271.4h0M137.7 288h0M154.1 285.7h0M137.9 270.7h0M142.8 271.9h0M151.4 265.4h0M177.9 281.3h0M152.4 278.3h0M150.6 281.9h0M173.3 270.6h0M178.4 276.3h0M168.4 276h0M158.1 281.2h0M161.2 265.5h0M163.3 268.1h0M162 274.5h0M165.8 269.7h0M165.4 283.5h0M144.8 284.9h0M163.9 275.8h0M155.4 265.5h0M175 268h0M155.4 275.3h0M154.3 280.1h0M164.8 269.1h0M163.2 277.5h0M159.5 273.1h0M167.4 278h0M138.2 284.8h0M158.2 268h0M165.3 273.8h0M169 279h0M163.6 278.6h0M167.4 273.7h0M150 273.3h0M166.2 275.3h0M157.6 260.9h0M159.5 280.3h0M154.2 254h0M153.2 269h0M153.2 279.6h0M165.7 266.1h0M152.1 262.6h0M156.9 271.2h0M154.1 277.2h0M157.6 275.5h0M163.9 277.8h0M162.5 278.3h0M156 269.6h0M144.2 273h0M150.9 265.6h0M164.5 280.2h0M153.8 282h0M171.7 258.6h0M148 256.9h0M159.6 277.2h0M147.9 278.2h0M168.7 259.6h0M161.6 287.2h0M164 268.9h0M143 269.3h0M142.3 273.4h0M150.7 269.7h0M151.9 264.2h0M174.4 270.2h0M162.9 273.1h0M156.4 276.6h0M152.7 270.7h0M162.9 279h0M156 277.3h0M154.2 270.9h0M163.3 269.9h0M163.8 267.9h0M157.7 294.1h0M171.5 265.8h0M176.3 273.3h0M155.6 280.7h0M172.2 271.8h0M147.3 270.6h0M159.2 278.4h0M161.6 277.9h0M167.4 262h0M163.6 268.2h0M170.2 271.9h0M173.9 271.2h0M154.5 266.6h0M154.1 273.4h0M159 289.1h0M138.1 283.8h0M163.3 265.3h0M154.8 282.9h0M147.1 268.2h0M173.4 273.5h0M155.9 277.1h0M148.2 276.3h0M157.7 265.3h0M165.9 281.1h0M167.5 289.5h0M150.2 283.5h0M161.8 284.6h0M161.7 266.2h0M171.4 280.4h0M147.4 282.5h0M152.8 289.5h0M162.2 262.2h0M160.2 273.6h0M168.1 278.9h0M149.7 269.3h0M164.8 281.3h0M172.1 265.5h0M148.3 280.6h0M147.5 272.3h0M146.9 276.6h0M158.5 276.1h0M160.6 270.7h0M149.3 272.3h0M163.7 280.1h0M152.5 274.9h0M154.5 277.9h0M154.9 265.6h0M150.4 259.8h0M168.1 277.1h0M170.6 260.2h0M166.7 269.1h0M176.6 280.3h0M147.7 268.2h0M153.4 268.2h0M155.1 278.1h0M159.8 280.8h0M164.6 269.9h0M155.4 264.7h0M150.8 270.1h0M169.5 283.8h0M151.5 272h0M167.8 268h0M157.1 260.3h0M150.9 263.4h0M158 261h0M159.5 267.4h0M168.4 282.4h0M163.7 281.3h0M153.1 274.9h0M160.7 270.8h0M160.7 269.2h0M166.6 269.8h0M151.1 271.7h0M184.6 271.7h0M142.2 268.4h0M140.9 276.5h0M176.5 279.4h0M152.2 273.3h0M146 277.1h0M148.5 269.8h0M154.6 276.2h0M160.7 273.7h0M165.9 277.3h0M158.5 282.2h0M171.9 253.9h0M151.8 268.8h0M152.3 276.4h0M156.1 279.6h0M151 287.7h0M155.2 262.2h0M140.5 278h0M165.6 280.3h0M157.2 261.8h0M147.3 269h0M166.1 288.4h0M169 273.4h0M153.7 284.9h0M144.3 275.3h0M166.2 291.6h0M153.8 280.1h0M165.1 288.8h0M166.7 258.2h0M162.3 276.9h0M173.5 271.9h0M164.8 272.4h0M157.3 268.4h0M155.8 267.4h0M168.1 270.8h0M141.2 276.9h0M152.2 283.8h0M154.4 277.4h0M166.4 275.4h0M155.7 287.5h0M150.5 279.7h0M173.3 269.6h0M148.5 271.7h0M158.2 273.3h0M150.6 287.6h0M158 272.7h0M163.1 286h0M159.2 266.4h0M158.6 280h0M154 270.4h0M173.6 277.1h0M180 292.8h0M162.2 262.5h0M149.3 276.3h0M163.3 281.1h0M146 277.8h0M167.7 272.3h0M164.8 272.7h0M154.7 267.1h0M181.3 268.4h0M169.6 280h0M169.6 265.2h0M139.2 278.6h0M161.9 277.5h0M153.9 275.5h0M161.4 277.7h0M172.7 274.3h0M165.4 263.3h0M153.1 268.9h0M164.7 270.8h0M146.2 267.6h0M154.5 274.2h0M145.6 293.9h0M154.3 279.2h0M163.1 276.3h0M140.8 275.6h0M153.8 265.7h0M167.4 266.7h0M155.5 278.9h0M164.6 288.1h0M149.5 273.4h0M151.9 272.8h0M159.9 266.1h0M145.8 274.1h0M163.7 285.7h0M164.7 277.6h0M153.3 281.6h0M156.7 269.6h0M159.3 267.6h0M161.6 278.9h0M146.2 276.9h0M134.9 282.1h0M151.7 267.2h0M153.1 268.6h0M159.1 279.5h0M158.1 281.3h0M184.1 278h0M166.4 264h0M166.4 274h0M169.4 264.6h0M145.6 279.6h0M157.1 275.1h0M160.9 280.9h0M157 267.3h0M170.6 271h0M140.7 280.6h0M140.8 280.9h0M151.5 265h0M146.7 278.9h0M148.6 289.9h0M170.8 286.4h0M177.2 272h0M162.2 261h0M157.4 271.2h0M165.1 274.3h0M165.1 256.9h0M157.9 264.3h0M159.1 267.2h0M161.8 266.7h0M165.2 275.5h0M149 268.2h0M161.2 252.3h0M160.1 274.2h0M147.2 259h0M150.1 269.7h0M160.4 269h0M159.8 277.7h0M170 269.9h0M134.5 275.2h0M164.6 272.4h0M150 263.3h0M160.2 272.7h0M149 262.2h0M154.5 276.9h0M167.6 274.8h0M154.3 267h0M140.1 277.6h0M144.2 273.8h0M153.2 282.7h0M155 263.5h0M133 282.6h0M172.3 273h0M177.5 263h0M144.3 273.1h0M166.6 276.4h0M165.4 270.5h0M158 267.5h0M168.3 278h0M164.5 280.9h0M149.3 275.6h0M159.3 280.6h0M160.1 276h0M157.9 273.4h0M142.1 283.8h0M159.4 277.9h0M164.9 267.5h0M173.7 271.9h0M153.9 279.7h0M158.7 275.1h0M164.4 269.3h0M163.2 273.3h0M162.3 266.6h0M155.5 278.4h0M172 260.1h0" stroke="#e83131" stroke-width="1.90" stroke-linecap="round"/>
<path d="M156.4 279.5h0M150.4 256.4h0M152.5 280h0M155.6 281.2h0M154.3 270.5h0M176.7 257.2h0M167.4 267.4h0M151.6 272h0M135.7 277.6h0M176.1 272.6h0M145.1 281.6h0M177.6 254.5h0M170.9 259.7h0M159.6 285.3h0M162.5 287.4h0M152.8 270.4h0M175.9 291h0M151.5 266.2h0M161 274.4h0M149.9 279.4h0M148.6 269.1h0M153.7 266.6h0M161.7 263.1h0M161.8 256.3h0M163 279.1h0M140.1 282.8h0M145 279.9h0M152.3 263.3h0M161.7 295h0M161.9 278.3h0M134.1 262.9h0M163.7 264.4h0M146.9 258.4h0M167.5 278.1h0M177.4 282.1h0M161.8 257.5h0M156.4 281.7h0M157.2 282.9h0M144.1 270.9h0M157 254.1h0M160.4 271.3h0M150.5 273.1h0M144.6 278.6h0M153.3 285h0M173.2 263.6h0M158.3 273h0M162.2 273.3h0M152.9 291.3h0M166.6 288.9h0M165.2 271.9h0M168 274.8h0M178.5 270.5h0M144.6 276.4h0M159 277.1h0M146.8 268.3h0M168.8 268.5h0M160.1 272.7h0M141.7 278.8h0M153.4 265.5h0M147.1 265.3h0M172.1 276.5h0M170.4 285.5h0M153.4 268.5h0M148.8 263.3h0M156.2 252.5h0M158.9 272.1h0M150.4 269.9h0M156 293h0M157.2 264.5h0M146 267.4h0M158.5 272.3h0M163.6 279h0M146 274.4h0M165.9 273.7h0M161.4 273.4h0M146.6 273.2h0M172.9 268.5h0M139.2 269.2h0M161.7 268.1h0M153.5 274.4h0M160.9 261.4h0M155.8 276.3h0M157.6 272.7h0M163.4 277.8h0M169.1 281.5h0M156.9 249.6h0M155.8 263.7h0M173.1 262.8h0M160.6 279.4h0M142.5 265.1h0M150.9 274.5h0M162.1 274.2h0M171.9 282.3h0M142.5 271.7h0M156.6 277.3h0M161.9 274h0M172.8 265.7h0M160.1 277.4h0M153.9 287.7h0M157.9 274.7h0M162.4 269h0M157.2 262.7h0M156.9 278.3h0M145.9 273.7h0M157.2 277.7h0M163.4 291.7h0M157.8 273.6h0M159.3 282.8h0M153 265.7h0M162 273.8h0M166.4 273.7h0M150.7 283h0M159 258.9h0M157.4 278.6h0M164 267.1h0M151.6 272.7h0M134 286.8h0M160 264.7h0M159.1 264.4h0M152.2 284h0M147.3 281.6h0M158.2 285.7h0M149.4 262.6h0M157.4 268.9h0M148.5 270h0M165.2 273.7h0M175.6 279.7h0M152.1 272.2h0M165 270.8h0M164.6 269h0M157.7 271.9h0M136.6 277.3h0M152.6 267.1h0M162.3 285.4h0M164.6 276.8h0M154 268.7h0M146.6 270h0M152.2 254.5h0M155.5 274.6h0M181 285.5h0M145 289.5h0M158.1 270.2h0M146.4 291.8h0M159.4 270.5h0M151.6 290.6h0M152.8 278.3h0M157.5 281.1h0M155.8 276.1h0M162.7 273.3h0M169.1 279.1h0M157.7 281.9h0M139.7 293.6h0M178.3 264.4h0M177.9 272.3h0M173 264h0M166.4 286.8h0M155.6 285h0M166.9 277.7h0M151.9 266h0M145.9 268.8h0M166 284.3h0M164.7 275.9h0M171.9 278.5h0M170.6 273h0M155.3 274.8h0M144.1 273.1h0M157.3 282.6h0M161.7 272.3h0M157.5 266.4h0M156 280.3h0M153.5 276.1h0M162.4 291.8h0M170.8 263.9h0M165.8 274.2h0M160.7 272.3h0M160.5 276.5h0M144.4 273h0M134.2 275h0M158.1 273.6h0M165.9 271h0M159.1 255.8h0M158.4 286.5h0M165.3 277.5h0M176.5 284.5h0M147.2 278h0M158.5 277.2h0M151.9 272.1h0M166 278.1h0M147.8 267.9h0M147.1 278.3h0M157.9 285.9h0M157.5 274.4h0M158.1 265.3h0M158.3 261.4h0M169.7 277.3h0M158.5 266.6h0M165.2 271.5h0M164.2 276h0M157.2 269.4h0M151.5 260h0M171.7 273.8h0M135.7 277.9h0M138.8 286.9h0M168.1 264.4h0M154.7 262.3h0M161.7 276.1h0M180.7 261.8h0M160.6 272.8h0M177.7 273.8h0M154.9 270.9h0M154.6 288.5h0M140.5 279.4h0M143.6 268.7h0M160.8 267.4h0M139.4 259.5h0M164.2 277.2h0M163.2 284.3h0M155.8 269.1h0M156.2 265.5h0M155.5 280.2h0M166.6 260.7h0M151.9 273.6h0M161.1 267.3h0M157.8 271.4h0M181.1 270.5h0M146.6 271.7h0M152.7 267.8h0M166.7 270.6h0M152.5 283.8h0M164.5 274h0M170.2 279.1h0M155.5 277.4h0M169.5 276.9h0M158.5 282.6h0M165.4 277.1h0M132.8 265.4h0M177.8 286.4h0M160.8 279.4h0M156.2 269h0M157.7 273.9h0M166.9 269.9h0M145 278.1h0M165.3 273.5h0M153.4 270.6h0M153.7 272.8h0M170 261h0M152.2 272.5h0M154.1 280.8h0M159.9 259.5h0M156.6 271.5h0M149.8 276.9h0M174.4 275.1h0M155.8 274.2h0M171.1 268.5h0M158.9 259.7h0M157.7 265h0M159.2 282.5h0M155.2 269.9h0M166.2 277.2h0M142.9 266.4h0M154 278.9h0M154.8 264.5h0M165.8 262.8h0M142.6 260.5h0M164.7 273.1h0M160.5 277.3h0M150.5 280.8h0M155.6 278h0M168.5 262.5h0M148.9 265.1h0M157 265.8h0M151 266.6h0M154 259.7h0M147.6 264h0M147.6 267.4h0M148.2 268.6h0M183.3 263.1h0M166.8 254.5h0M170.4 281.1h0M160.8 270.4h0M158.6 269.2h0M174 283h0M174.2 255.2h0M166.6 275.9h0M160.6 276.3h0M135.4 269.6h0M168 271.6h0M167.2 265.6h0M159.1 274.8h0M144.3 270.4h0M159.4 268h0M147.4 269.8h0M156.3 279.2h0M171 285h0M155.9 273.7h0M153.2 271h0M161.6 278.3h0M160.2 270.7h0M149.6 280.7h0M163.4 277h0M155.9 267.3h0M155.8 282.3h0M151.6 271.2h0M169.6 287.7h0M152.5 270h0M161.7 272.6h0M162.9 280.4h0M138 279.2h0M142.9 264h0M148.7 277.4h0M169 271.9h0M163.1 270.9h0M150.4 273.5h0M143.8 271.9h0M143.7 267.8h0M161.8 272.8h0M158.5 273.2h0M142 283.3h0M153.3 273h0M160.2 283.8h0M160.9 270.5h0M146.1 257.6h0M163.6 269.7h0M152 271.3h0M145.7 269.1h0M174.8 277.7h0M148.4 279.6h0M158.7 253.5h0M159.6 271.4h0M151.2 268h0M172 277h0M169.1 269.8h0M178.3 279.2h0M160.9 272.4h0M175.7 267h0M176.4 269.9h0M144.4 277.3h0M144.3 263.2h0M161.5 267.1h0M165.6 283.5h0M160.2 275h0M131.9 278.6h0M140.2 273.7h0M156.4 275h0M155.9 273.6h0" stroke="#e71f1f" stroke-width="1.90" stroke-linecap="round"/>
<rect x="113.80" y="232.50" width="72.95" height="65.10" fill="none" stroke="#777" stroke-width="0.6"/>
<line x1="118.70" y1="297.60" x2="118.70" y2="296.60" stroke="#555" stroke-width="0.4"/>
<text x="118.70" y="302.50" font-size="2.3" fill="#555" text-anchor="middle" stroke="#555" stroke-width="0.1">-60</text>
<line x1="127.20" y1="297.60" x2="127.20" y2="296.60" stroke="#555" stroke-width="0.4"/>
<text x="127.20" y="302.50" font-size="2.3" fill="#555" text-anchor="middle" stroke="#555" stroke-width="0.1">-40</text>
<line x1="137.20" y1="297.60" x2="137.20" y2="296.60" stroke="#555" stroke-width="0.4"/>
<text x="137.20" y="302.50" font-size="2.3" fill="#555" text-anchor="middle" stroke="#555" stroke-width="0.1">-20</text>
<line x1="149.10" y1="297.60" x2="149.10" y2="296.60" stroke="#555" stroke-width="0.4"/>
<text x="149.10" y="302.50" font-size="2.3" fill="#555" text-anchor="middle" stroke="#555" stroke-width="0.1">0</text>
<line x1="159.60" y1="297.60" x2="159.60" y2="296.60" stroke="#555" stroke-width="0.4"/>
<text x="159.60" y="302.50" font-size="2.3" fill="#555" text-anchor="middle" stroke="#555" stroke-width="0.1">20</text>
<line x1="170.20" y1="297.60" x2="170.20" y2="296.60" stroke="#555" stroke-width="0.4"/>
<text x="170.20" y="302.50" font-size="2.3" fill="#555" text-anchor="middle" stroke="#555" stroke-width="0.1">40</text>
<line x1="180.00" y1="297.60" x2="180.00" y2="296.60" stroke="#555" stroke-width="0.4"/>
<text x="180.00" y="302.50" font-size="2.3" fill="#555" text-anchor="middle" stroke="#555" stroke-width="0.1">60</text>
<line x1="113.80" y1="239.00" x2="114.80" y2="239.00" stroke="#555" stroke-width="0.4"/>
<text x="112.40" y="239.85" font-size="2.3" fill="#555" text-anchor="end" stroke="#555" stroke-width="0.1">40</text>
<line x1="113.80" y1="251.00" x2="114.80" y2="251.00" stroke="#555" stroke-width="0.4"/>
<text x="112.40" y="251.85" font-size="2.3" fill="#555" text-anchor="end" stroke="#555" stroke-width="0.1">20</text>
<line x1="113.80" y1="263.00" x2="114.80" y2="263.00" stroke="#555" stroke-width="0.4"/>
<text x="112.40" y="263.85" font-size="2.3" fill="#555" text-anchor="end" stroke="#555" stroke-width="0.1">0</text>
<line x1="113.80" y1="275.00" x2="114.80" y2="275.00" stroke="#555" stroke-width="0.4"/>
<text x="112.40" y="275.85" font-size="2.3" fill="#555" text-anchor="end" stroke="#555" stroke-width="0.1">-20</text>
<line x1="113.80" y1="287.00" x2="114.80" y2="287.00" stroke="#555" stroke-width="0.4"/>
<text x="112.40" y="287.85" font-size="2.3" fill="#555" text-anchor="end" stroke="#555" stroke-width="0.1">-40</text>
<text x="150.00" y="307.70" font-size="5.0" fill="#2a2a2a" text-anchor="middle" stroke="#2a2a2a" stroke-width="0.16">PC1</text>
<text x="106.00" y="258.75" font-size="4.8" fill="#2a2a2a" text-anchor="middle" transform="rotate(-90 106 258.8)" stroke="#2a2a2a" stroke-width="0.16">PC2</text>
<text x="241.60" y="228.20" font-size="4.9" fill="#2a2a2a" text-anchor="middle" stroke="#2a2a2a" stroke-width="0.16">PCA Analysis</text>
<ellipse cx="259" cy="273" rx="11" ry="13" fill="#ee2a2a" fill-opacity="0.85"/>
<ellipse cx="219" cy="263" rx="8" ry="11" fill="#a8b0ee" fill-opacity="0.85"/>
<ellipse cx="216" cy="241" rx="4" ry="8" fill="#6a78e0" fill-opacity="0.85"/>
<ellipse cx="212" cy="273" rx="4" ry="3" fill="#2020c8" fill-opacity="0.9"/>
<path d="M207.9 273.4h0M215.9 275.9h0M215.4 272.8h0M209.7 274.2h0M214.1 272.5h0M209.3 272.3h0M215.2 273.8h0M214.5 272.9h0M207.4 274.3h0M219.9 269.1h0M212.9 272.1h0M211.5 270.8h0M209.1 273h0M214.7 267.4h0M214.7 271.9h0M214.6 272.7h0M218.6 278.8h0M214.6 269.9h0M208 274h0M208.2 268.6h0M213.4 269.7h0M212.2 273.6h0M217.6 272.8h0M218.6 274.8h0M207.7 271.9h0M210.5 276h0M210.3 273.4h0M211.5 277.8h0M209.3 272.7h0M213.1 271.7h0M215.1 270.9h0M209.1 272.2h0M217.2 269.7h0M210.3 267.3h0M216.3 275.8h0M207 271.8h0M213.2 276.4h0M214.5 274.2h0M212.4 274.9h0M212.4 272.7h0M214.7 271.6h0M210.9 269.9h0M213.7 272.8h0M210 269.9h0M214.2 273.2h0M211.3 272.5h0M216.3 271.6h0M211.3 273.8h0M215.2 274.1h0M216.3 276.4h0M213.3 268.7h0M215.8 273.7h0M214.4 269.5h0M213.4 271.7h0M212.7 274.6h0M216 274.5h0M208.9 271.2h0M212.9 266.3h0M216.9 273.3h0M212.6 273.2h0M207.5 273.6h0M212.4 273.8h0M214.3 270.7h0M214.7 274.5h0M210.2 271.9h0M216.3 271.4h0M207.4 273.6h0M215.4 270.5h0M209.1 277.9h0M211.1 271.2h0M211.1 274.7h0M214.9 271.3h0M214 273.2h0M214.6 272.7h0M211.8 272.6h0M214 274.4h0M208.3 276.3h0M215.1 271.3h0M213.4 274h0M214.2 269.1h0M207.4 275.1h0M207.5 272.5h0M211.1 271.9h0M213.5 280.3h0M218 274.4h0M212.3 273.8h0M216.3 273.9h0M211.2 268.9h0M216.4 273.3h0M215 272.4h0M211.8 276.8h0M210.4 273.1h0M214.7 270.8h0M211.8 273.2h0M216 271.2h0M206.3 269.4h0M212.3 272.5h0M212 272.8h0M215.6 274.5h0M210.2 271.4h0M211.9 273.6h0M208.8 272.1h0M212.5 271.4h0M210.8 273.8h0M216.2 269.2h0M214.4 275.3h0M208.7 270.8h0M210.8 268.8h0M214.3 268.7h0M211.6 276.4h0M215.6 271.2h0M212.8 271.9h0M212.6 273h0M214.8 269.6h0M218.3 268.3h0" stroke="#2121ca" stroke-width="1.90" stroke-linecap="round"/>
<path d="M211.9 245.4h0M218 239.7h0M215.7 238.3h0M214.9 234.6h0M216.7 239.5h0M215.4 234.6h0M212.4 240.3h0M214.9 237.5h0M216.5 244.8h0M219.8 241.7h0M221.2 240.1h0M218.3 236.6h0M214.7 242.1h0M213.3 238.5h0M220.4 249h0M214.9 238h0M214.2 239.4h0M212.3 259.1h0M227.7 249.2h0M213.2 254.2h0M213.4 240.4h0M217.5 244.3h0M217.7 241.4h0M215.6 240.9h0M216 246.8h0M216.9 239.4h0M215.8 240.6h0M209.6 244.3h0M219.7 242.9h0M212.8 235.8h0M217.8 242.8h0M211.2 244.7h0M212.2 240.8h0M211.6 240h0M214 235.9h0M218.3 247.6h0M211.5 243.1h0M220.1 238.9h0M214.3 238.2h0M217.3 238.8h0M217.1 244.2h0M214 239.4h0M216.2 243.8h0M217.9 237.3h0M219.5 240.9h0M211.7 237.9h0M218.5 234.9h0M210.7 239.6h0M217.3 243.9h0M218.8 234.9h0M212.8 241.7h0M217.7 236h0M210 247.5h0M215.6 237.4h0M212 239.7h0M218.3 245h0M218.4 238h0M221.7 240.5h0M211.3 239.7h0M218.3 242.3h0M220.7 242.7h0M208.9 247h0M217.9 239.6h0M218.3 244.8h0M210.7 240h0M218 238.1h0M217.7 249.1h0M215.3 250.7h0M215.7 239.7h0M221.8 243.4h0M214.7 243.9h0M211.4 242h0M216.9 245h0M211.3 244.1h0M216.9 242.6h0M214.8 236.4h0M214.9 244.7h0M214.6 247.5h0M214.1 242.7h0M215.7 250.1h0M220.3 248.7h0M218.9 233.5h0M217.4 238.9h0M215 255.7h0" stroke="#4948d2" stroke-width="1.90" stroke-linecap="round"/>
<path d="M218.3 245.6h0M219.8 251.8h0M215.7 241.2h0M215.4 245.1h0M213.9 237.1h0M221.6 249.1h0M216 235h0M220 237.2h0M220.4 242.1h0M215.8 241.1h0M219.1 232.8h0M219.2 237h0M219.5 239.4h0M208.8 234.4h0M212.4 234h0M210 233.5h0M219 242.2h0M219.3 247h0M216.3 246h0M217.7 239.3h0M219.2 232.6h0M221.8 248.8h0M213.3 233.2h0M221.6 237.1h0M220.8 240.4h0M214.6 240.2h0M215.4 238.1h0M222.4 239.9h0M220.7 246.3h0M222 233.5h0M217.3 244.7h0M216.1 243.7h0M217.7 242.8h0M218.5 238.9h0M218.6 236.7h0M216.8 243.3h0M207.1 245.5h0M218.8 245.7h0M211.2 238.1h0M219.2 241.4h0M217.8 243.5h0M215.6 237h0M219.5 240.8h0M212 234.5h0M215 247.1h0M213.8 236.7h0M215.1 242.9h0M216.4 235.7h0M217.5 248h0M216.4 238h0M220.4 246.2h0M219.2 244.8h0M212 239.2h0M211 248.6h0M212.7 233.9h0M210.6 243.8h0M215.9 241.5h0M212.4 232.9h0M219.7 242.7h0M217.5 240.1h0M211.6 247.8h0M221.1 242.4h0M215.7 241.8h0M220 246.4h0M221.5 245.2h0M210.6 236.5h0M215 242.8h0M220.1 246.9h0M212.8 233.8h0M221.4 236.2h0M217.4 241.7h0M220.6 239.2h0M216.4 242.9h0M223.4 248.5h0M210.8 240.8h0M214.1 238.8h0M208.8 244.2h0M214.7 237.6h0M211.8 246h0M209.7 246.5h0M215.3 241.8h0M219.5 238.2h0M217.5 248.2h0M212.7 243h0M212.8 239.1h0M218.7 250.7h0M212.2 243.6h0M212.5 236.6h0M214.4 234.2h0M209.2 249.3h0M214.7 233.2h0M220.8 239.3h0M215.4 241.9h0M213.2 236.2h0M218.8 237.3h0M215.1 238.3h0M216 241.5h0M213.8 238.7h0M212.8 245.3h0M215.2 246.7h0M210.9 239.9h0M214.1 247.6h0M215 240.9h0M215.3 248.9h0M214.7 239.5h0M215.9 242.7h0M211.7 239.8h0M214.3 248.2h0M217.7 243.1h0M213.9 236.6h0M211.8 233.6h0M215.6 235.5h0M217.2 247.6h0M217 238h0M213.1 233.9h0M214.8 232.9h0M217.2 242.3h0M212.6 234.4h0M214.5 234.5h0M214.4 239.7h0M216.8 247.8h0M213.9 239.5h0M211.1 236.7h0M217.7 237.1h0M220.2 241.3h0M221.7 242.4h0M218.8 248.5h0M214.6 237.4h0M215.6 245.4h0M210.5 241.9h0M221.8 233.6h0M214.1 235.1h0M215.6 233.9h0M214.1 248.8h0M214.1 239h0M218.1 244.6h0" stroke="#5f5dd6" stroke-width="1.90" stroke-linecap="round"/>
<path d="M213.9 267.8h0M223.4 262.9h0M217.6 256.3h0M218.2 251h0M208.5 260.8h0M231.1 279.3h0M216.6 252.4h0M217.9 274.5h0M220.6 269.2h0M225.1 257.7h0M215.6 261.8h0M226.4 277.7h0M222.5 267.4h0M216.6 262.4h0M228.4 271h0M219.1 264.8h0M222.6 264.6h0M210.8 242.7h0M221.5 281.7h0M226.6 279.4h0M226.3 263.6h0M219.5 270.5h0M232 279.4h0M214.2 263.7h0M214.9 268.6h0M221.8 263.3h0M215.6 268.9h0M223.2 265.5h0M217.1 257.2h0M214.8 246.4h0M212.3 263.6h0M214.7 254.2h0M215.6 275h0M214.9 269.9h0M222.6 283.1h0M213.4 262.3h0M209.8 274.9h0M210.9 254.5h0M208.9 258.7h0M220.1 248.8h0M215.3 265.4h0M217.4 265.5h0M215.5 252.3h0M210.9 263.8h0M210.9 258.3h0M216 266.6h0M224.6 276.8h0M223.6 256h0M210.5 271.3h0M209.9 256.2h0M215.5 262.2h0M212.1 251.6h0M218.9 271.3h0M222.7 256.1h0M221.4 261.5h0M218.2 264h0M214.8 259.2h0M219.2 263.3h0M216.8 258.6h0M212.7 263.8h0M210.9 247.3h0M213.4 266.4h0M222.7 274h0M215.5 250.8h0M219.9 254.8h0M221 279.3h0M229.1 260.6h0M218.2 253.2h0M215.9 259.4h0M217.4 272.9h0M216 263.3h0M215.5 260h0M206.7 266.4h0M216.4 260.8h0M209.9 256.9h0M216.2 254.9h0M219.8 262h0M219.3 261h0M220.6 252.8h0M217.7 276.6h0M223.9 269h0M215.6 251h0M218.5 274.2h0M217.1 276h0M221.4 263.9h0M214 259.6h0M228.8 253.9h0M225.5 250.3h0M219.3 270.1h0M223.4 245h0M219.5 263.2h0M224.3 262.9h0M227.9 260.9h0M235.8 262.9h0M219.8 278.1h0M209.5 255.1h0M211.6 265h0M226.7 249h0M225 278.2h0M223.5 262.1h0M220 268.1h0M218 268.4h0M217.3 270h0M226.1 252.8h0M218.9 250.2h0M213.7 255.6h0M220.6 261.4h0M223.6 274.4h0M216.3 248h0M217 256.3h0M212.5 267.7h0M216.5 274h0M218.4 244.6h0M226.3 266.7h0M219.4 269.3h0M217.1 249.5h0M214.8 270.7h0M209.7 264.4h0M215.9 268h0M222.9 265h0M216.6 250.1h0M218.2 259.2h0M213.7 269.1h0M233.4 267.4h0M214 258.9h0M219.5 270.5h0M212.5 261h0M210.8 288h0M214.9 255.7h0M220.8 264.4h0M213.5 274.4h0M217.2 261.5h0M215.6 269.2h0M210.2 267.7h0M211.3 260.3h0M220.7 254.3h0M224.3 263.4h0M209.7 258.5h0M217.5 252.8h0M224.5 263.4h0M221.5 269.5h0M218.6 271.3h0M222.6 265.8h0M221.9 265.9h0M226.8 277.5h0M219.1 274.1h0M221 263.9h0M226.4 273.3h0M233.4 266.3h0M219.3 251.6h0M223.1 251.3h0M214.2 273.6h0M218.8 269.2h0M226.9 261.5h0M222.2 260.7h0M221.5 258.3h0M220.8 278.1h0M232.1 262.7h0M222.7 269.7h0M218.2 244.7h0M216.8 262.6h0M220.3 260.6h0M221.2 272.9h0M228.3 276.3h0M217.7 259.8h0M215.9 266.4h0M229.5 272.2h0M220.6 257.5h0M223.5 267.9h0M221.3 268.9h0M227.7 258h0" stroke="#8b88df" stroke-width="1.90" stroke-linecap="round"/>
<path d="M223.8 257.7h0M209.6 258.1h0M220.9 266.7h0M219.2 264h0M215.6 254h0M209.6 247.1h0M213 238.7h0M218.3 279.5h0M206.9 259.9h0M221.9 273.1h0M218.9 249.1h0M217 264.1h0M229.4 269.7h0M222.5 253.9h0M215.9 245.1h0M211 259.5h0M212.6 277.3h0M217.5 267.4h0M221.2 270.2h0M227 262.6h0M219.7 255.2h0M223 255.8h0M213.6 256.5h0M214.6 264h0M215.6 264.2h0M220.7 257.5h0M219.9 263.2h0M218.2 252.4h0M220.1 268.7h0M211.4 275.5h0M218.2 267.3h0M219.5 254.4h0M210.4 279h0M224 248.8h0M213.1 257.9h0M219.9 263.8h0M224.1 262h0M224.3 250h0M216.7 257.6h0M222.7 249.5h0M221.4 266h0M226.8 273.5h0M214.3 267.1h0M217.8 258.3h0M220.9 258.7h0M220.4 267.4h0M222.8 268.7h0M230.5 259.8h0M223.9 239.1h0M219 281.9h0M227.6 260.6h0M214.8 250.8h0M219.6 267.7h0M219 278.3h0M217.8 254h0M222.9 267.3h0M218.2 266.6h0M218.1 265.5h0M224.4 261.5h0M220.5 253.5h0M224.5 273.5h0M206.7 261.7h0M224.2 257.9h0M231.2 262.4h0M224.9 264.5h0M221.2 262.2h0M226.4 262h0M217.4 260.7h0M226.9 261h0M212.3 266.9h0M225 269.5h0M227.4 261.5h0M220.4 293.3h0M217.3 267.2h0M216.1 266.5h0M219.3 263.6h0M217.6 256h0M224.3 257.8h0M214.3 265.3h0M226.6 256.1h0M216 253.2h0M224.9 260h0M213.2 259.7h0M215.4 269h0M222.6 271.9h0M208.6 271.2h0M215.9 256.6h0M217.1 278.1h0M229 239.5h0M219.2 253.4h0M220.7 256.4h0M230.9 257h0M207.8 266h0M208.7 253.6h0M219.8 267.2h0M219 259.9h0M217.7 260.8h0M210 263.7h0M227 255.7h0M215.1 272.3h0M219.7 255.7h0M211.9 264.2h0M226.6 262.3h0M222 257.5h0M208.7 264.1h0M214.2 265.7h0M231.6 280.8h0M218.6 261.5h0M209.1 251.5h0M216 257.8h0M222.3 262.7h0M225.9 268h0M223.9 252.2h0M216.4 255.5h0M228.9 265.9h0M218.4 254.2h0M222.3 254h0M228.5 266.2h0M227.3 274.3h0M210.2 246.4h0M211.3 276.6h0M214.6 272.9h0M223.2 263.6h0M224 273.7h0M227.2 265.6h0M224.2 255.6h0M219.3 259.4h0M217.3 274.8h0M226.2 269.4h0M217.3 253.4h0M220.3 248.5h0M215.6 263.6h0M218.1 263.5h0M216.5 252h0M220.5 266h0M219.9 257.9h0M230.8 274.2h0M217.2 280.4h0M210.1 250.2h0M216.2 260.1h0M213.8 263.3h0M223.4 273.6h0M223.1 268.5h0M220.1 258.9h0M229.8 254.3h0M229.6 262.4h0M222.4 256h0M230 269.6h0M220.7 285.6h0M226.5 272h0M210.8 275.6h0M226.6 266.6h0M224.3 262.7h0" stroke="#a39fe3" stroke-width="1.90" stroke-linecap="round"/>
<path d="M217.8 243h0M221.4 270h0M216.6 260h0M219.1 270.3h0M206.8 253.8h0M214.1 262.8h0M222.1 274.9h0M224.2 256.8h0M215.2 243.7h0M219.4 259.7h0M210 249.7h0M217.6 240.5h0M215.5 273.3h0M215 254h0M225.2 246.7h0M217.7 271.7h0M210.9 267.1h0M217.1 255.3h0M230.7 267.1h0M211.3 261.3h0M224.4 271.3h0M216.6 268.2h0M227 254.8h0M217.4 260.2h0M226.9 260.8h0M222.4 259.7h0M229.5 255.3h0M224 261.7h0M221.9 269.9h0M220.5 250.6h0M229.2 263.2h0M228.8 257h0M206.4 251.9h0M211.1 266.5h0M231.2 266.9h0M218.5 262h0M226.6 266.9h0M226.1 265.2h0M208.9 282.7h0M217.8 271.4h0M210.4 259.7h0M209.6 264.9h0M217.4 255.1h0M219.3 259.6h0M227.7 267.4h0M217.2 263.8h0M230.2 267.2h0M214.4 258.6h0M219.9 276.8h0M216.4 267.5h0M215.8 261.1h0M215.1 249.8h0M219.9 274.5h0M215.9 265.6h0M212.3 244.3h0M223.4 259.8h0M218.3 259.5h0M231.1 268.7h0M217.8 255.9h0M220.1 254.6h0M214.5 277.3h0M222.4 261.3h0M212.6 244.3h0M221.8 276.7h0M219.3 247.1h0M212 249.5h0M211 274.5h0M214.1 268.4h0M230.6 246.1h0M226.6 255.5h0M219.9 269.5h0M213.9 284.1h0M209.8 267.9h0M218.3 256.1h0M215 282.4h0M214.9 267.1h0M223.9 259.8h0M227.1 291.2h0M220 273.3h0M211.8 254.4h0M211.4 263.8h0M211.8 261.3h0M219.1 261.1h0M220.9 254h0M216.1 257.1h0M232.3 239h0M232.7 255.6h0M219.2 246.4h0M226.7 270.1h0M214.6 263h0M218.4 261.5h0M218.3 270.4h0M218 261.5h0M213.4 262.1h0M207.4 251.8h0M213.8 263.7h0M207.2 275.6h0M221.7 242.5h0M216.5 259.4h0M216.3 267.8h0M222.1 263.9h0M223.7 264.1h0M217.5 242h0M216.1 257.2h0M212.8 258.4h0M217.6 251.3h0M216.6 254.6h0M216.2 271.1h0M215.8 267.7h0M219 281.8h0M222 270.2h0M216.1 272.2h0M219.7 251.7h0M224.9 256.6h0M222.8 247.1h0" stroke="#bab6e8" stroke-width="1.90" stroke-linecap="round"/>
<path d="M230 292.2h0M237.9 288.3h0M231.5 279.8h0M232.4 281.2h0M228 287.1h0M230.7 283h0M238.8 287.1h0M232.2 278.4h0M231.5 291.9h0M231.2 284.8h0M234.1 285.1h0M227.3 294.3h0M226.8 285h0M235.6 285.6h0M234.5 289.6h0M232.8 287h0M220.7 296.4h0M230.6 284.9h0M232.8 293.4h0M234.4 290.6h0M232.4 286.3h0M234.6 281.4h0M236.1 285.1h0M233 296.9h0M233.5 289.3h0M223.3 286h0M230.4 291.7h0M230.4 294.6h0M233 281.4h0M232.9 277.5h0M238.2 282.7h0M227.3 287.2h0M230.5 290.6h0M225 289.6h0M226.7 297.6h0M231.4 276.6h0M233.2 289.1h0M228.6 282.9h0M229.6 280.8h0M230.7 283.5h0M229.9 291.8h0M226.4 284.4h0M229.7 281.6h0M227.7 288.4h0M230 274.4h0M235.3 274.7h0M229.6 272.1h0M234.2 296.1h0M238 277.7h0M228.7 279.6h0M234.6 296.1h0M230.3 280h0M234.3 281h0M228.4 283.4h0M229.6 281.5h0M228.4 286.3h0M229.4 291.8h0M227.1 284.7h0M237.6 294.3h0M236.9 288.1h0M225.8 288.8h0M231.2 285.1h0M235.5 279.2h0M231.6 288.8h0M228.3 279.4h0M234.8 291.5h0M234.1 292.9h0M227.9 291.3h0M235.9 289.6h0M231.2 293.1h0M228.7 283.5h0M226.7 283.4h0M241.6 288.3h0M233.3 281h0M241.6 287.8h0M238.3 287.9h0M237.6 288.7h0M233.9 287.5h0M232.5 284.1h0M238.1 288.9h0M231 286.4h0M230 290.1h0M233 284.6h0M233.3 291.2h0M228 289.8h0M235 278.4h0M229.5 275.7h0M229 289.6h0M237.7 283h0M235.9 288.3h0" stroke="#eae4f2" stroke-width="1.90" stroke-linecap="round"/>
<path d="M252.4 256.3h0M245.8 255.7h0M242.3 250.1h0M237.1 251.9h0M245.6 255.6h0M248.2 263.5h0M249.9 241.4h0M250.9 245.6h0M246.3 242.7h0M253.9 256.3h0M248.6 259.4h0M259.1 251.4h0M260.4 252.7h0M250.3 249.6h0M237.5 263.3h0M248.1 249.3h0M264.7 237h0M250.3 259.8h0M246.2 254h0M248.9 266.4h0M246.2 251.7h0M248.9 252.3h0M231.1 252.3h0M248.6 240.2h0M250 258.9h0M254.7 250.8h0M248.4 246.8h0M260 252.8h0M256.6 243.3h0M246.2 249h0M265.1 251.8h0M248.8 256.6h0M233.8 242.9h0M249.9 253.3h0M238 244.7h0M248.9 251.5h0M240.6 237.9h0M252 265.8h0M243.2 248.6h0M263 241.7h0M277 261.9h0M240.3 247.6h0M243.7 242.7h0M273.4 272.7h0M243.2 245.7h0M259 244.2h0M270.4 256h0M238.9 254.3h0M256.9 262.9h0M240 249.1h0M271.7 250h0M261.3 257.8h0M251.6 255.4h0M251.2 263.3h0M266.6 268.9h0M270.8 264.3h0M252.8 248.7h0M231.4 246.4h0M263.4 247.6h0M271.8 249.8h0M268.5 258.2h0M257 253h0M255.1 245.3h0M259.4 246.3h0" stroke="#eb5657" stroke-width="1.90" stroke-linecap="round"/>
<path d="M273.7 254h0M260.7 250.1h0M245.9 253.3h0M230.3 251.6h0M263.2 250.4h0M246.3 249h0M248.7 249.4h0M261.8 250h0M276.1 254.6h0M239.2 244.4h0M251.3 246.5h0M261.7 254h0M252.1 258.8h0M262.8 245.4h0M274.8 258.1h0M265.9 233.8h0M268 249.2h0M264.9 245.7h0M266.8 251.5h0M257.4 260.1h0M264 255.6h0M274.8 251.3h0M269.2 256h0M247.1 247h0M259.9 265.8h0M259.6 246.8h0M258.4 260h0M244.6 249.9h0M267.1 261.3h0M276.2 257.6h0M271 251.3h0M245.4 247.3h0M248.1 257.4h0M277.1 238.5h0M247.2 250.2h0M276.4 263.4h0M243.7 246.4h0M243.4 255.7h0M248.4 255.4h0M265.3 269.7h0M242.7 241.9h0M268.2 259.6h0M266.5 271.3h0M251.4 247.8h0M260.8 247h0M258.8 258.3h0M272.6 245.1h0M260.6 265.2h0M262.6 262h0M244.1 253.2h0M242.1 252.2h0M272.3 256.5h0M231.9 250.7h0M250 241.3h0M246.3 262.6h0M276.5 262h0M249.9 246.5h0M258.5 264h0M243.2 257.2h0M248.4 255.9h0M255.2 268.5h0M265.1 253.5h0M257.8 245.1h0M248.1 249.1h0M262.7 255.7h0M263.6 248.9h0M264.1 254.1h0M270.8 254.5h0M257 253.5h0M246.9 243.2h0M249.6 250.5h0M276.9 258.8h0M265.3 266h0M240 247.6h0M250 251.9h0M246 262.7h0M259.8 254.1h0M247.3 252.9h0M232.9 249.8h0M245.6 252.2h0M248.1 269.7h0M263.1 249h0M276.6 248.2h0M269.2 245.6h0M250.4 254.9h0M251.5 232.3h0M271.2 254.6h0M245.7 250.4h0M274.7 255.4h0M242.4 258.3h0M243.1 246.6h0M256.3 269.3h0M260.8 260.2h0M248.2 241.3h0M266.6 270.8h0M258.3 272.1h0M252.7 279h0M265.6 271h0M259.6 278.1h0M258.3 273.4h0M268.8 262.3h0M255.6 260.9h0M257.4 258.9h0M259.4 266.8h0M274.7 262.7h0M262.3 255.8h0M251.1 277.1h0M264.1 290.7h0M258.3 249.5h0M244.5 252.1h0M250.7 259.2h0M265.3 276.9h0M243.9 253.1h0M243.9 253.7h0M273.9 266.3h0M269.8 261.6h0M263.2 265.5h0M265.9 269.7h0M263.7 268.9h0M275.3 269.9h0M258.7 248.5h0M274 268.9h0M246.2 282.2h0M244.3 274.9h0M248.2 279.6h0M263.8 276h0M275 271.1h0M267 268.9h0M263.5 244.3h0M263 276.9h0M266.7 250.3h0M276.4 260.7h0M250.6 248.6h0M240.7 264.6h0M263 269.2h0M266.6 262.3h0M246.3 268h0M245 283.1h0M273.6 275.3h0M260.4 270.4h0M272.1 294h0M243.3 254.5h0M262 263.7h0M270.7 287.1h0M240.2 250.8h0M247.3 261.4h0M229.8 244.3h0M267.8 262.1h0M260.1 269h0M247 274.8h0M264.5 278.3h0M261 283.5h0M257.8 272.3h0M268.2 265.3h0M238.2 277.4h0M255.6 254.8h0M252.8 248.5h0M253.5 269.4h0M250.5 283.8h0M269.3 266.2h0M263 253.1h0M275.4 254.2h0M251.2 264h0M247.5 244.9h0M263.6 287.7h0M276.3 257.9h0M250.8 248h0M255.3 288.7h0M263 262.4h0M261.1 288.2h0M257.5 251.2h0M252.8 285.4h0M267.5 280.8h0M257.4 258.6h0M252 237.5h0M254.6 267h0M273.4 274.3h0M258.2 267.1h0M253.4 274.2h0M270.3 280.6h0M255.6 286.9h0M233.3 297.6h0M260.7 278.3h0M241.9 277.4h0M252.3 281h0M253.7 284.8h0M263.5 283h0M260.8 272.6h0M266.3 263.2h0M264.4 290.9h0M260.6 251.7h0M264.6 264.6h0M268.5 246.7h0M238.3 249.6h0M268.4 261.1h0M243 253.4h0M248.9 260.8h0M257.3 276.3h0M265.3 264.4h0M261.1 259.5h0M269.7 275.4h0M233.8 267.8h0M275.8 258.4h0M262 257.5h0M264 281.3h0M256.8 248.6h0M253.1 274.5h0M244.1 295.4h0M253.2 274.1h0M260.3 262.3h0M249.6 259.9h0M258.1 264.9h0M264.1 261h0M251.1 278.2h0M271.3 255.9h0M261.2 263.2h0M253.1 280.5h0M255.9 280.6h0M247.1 252.4h0M241.2 248.3h0M265.6 261.8h0M268.3 273.1h0M247.3 287.6h0M259.1 257.8h0M257.3 276.6h0M271.4 280.7h0M258.4 256.9h0M251.5 280.5h0M269.4 270.6h0M246.2 245.1h0M260.9 279.5h0M275.8 257.5h0M252 245h0M249.3 261.5h0M255 276.2h0M254.1 261.1h0M256 262.7h0M272.8 244.7h0M254.5 264.2h0M273.9 270.6h0M245.2 284.3h0M241.9 238.1h0M249.9 261.3h0M251.9 281.9h0M273.3 264.1h0M269.3 248.8h0M261 274.2h0M272.9 260.1h0M271.3 260.1h0M274.6 255h0M270.9 267h0M273.2 263.4h0M274.4 271.7h0M264.3 281.5h0M248.1 269.8h0M246.9 262.7h0M262.9 273.1h0M248.6 271.8h0M270.4 277.7h0M259.7 268.2h0M266.1 265.1h0M246.7 249.1h0M246.4 270.6h0M259 264.7h0M253.6 274.1h0M260.1 257.5h0M256.8 263.6h0M247 272.2h0M274.2 262h0M267 273.7h0M238.5 234.9h0M239 290h0M263.4 262.2h0M255.9 277.4h0M265 267.4h0M249.3 263.5h0M240.5 269.5h0M240.7 250.9h0M237.5 283h0M236.1 243h0M273.5 263.2h0M249.8 256.5h0M260.9 276.9h0M242.3 247.7h0M274.5 258.4h0M250.9 253.4h0M250.4 268.5h0" stroke="#e94344" stroke-width="1.90" stroke-linecap="round"/>
<path d="M263 263.5h0M248.1 275h0M257.4 281.3h0M247.9 248.5h0M252.8 275.4h0M246.1 250h0M260.6 248.5h0M241.2 258.5h0M259.8 268.6h0M269.9 260.8h0M255.2 254.2h0M261.4 270.2h0M253.4 261.7h0M268 253.7h0M269.1 273.1h0M249.3 257h0M251.8 250h0M263.7 247.2h0M266.4 253.3h0M265.4 276.4h0M260.2 249.1h0M259.1 270.9h0M238.7 289.6h0M259.6 288.3h0M258.1 257.6h0M259.1 263.7h0M264.5 261.4h0M253.7 290.5h0M250.8 267.7h0M260.8 240.4h0M273.3 279.1h0M265.1 261.7h0M271.6 266.1h0M252.9 253.7h0M271.8 257.2h0M253.3 234.2h0M267.5 259.1h0M273.6 266.9h0M268.7 267.5h0M262.2 257h0M276.7 266.9h0M253.5 241.4h0M262.9 241.8h0M251.5 261h0M263.6 265.5h0M259 274.4h0M227.1 291.8h0M264.8 266.5h0M263.6 272.4h0M258.8 268.9h0M234.7 251.5h0M257.8 287.5h0M267.1 267.2h0M247.3 277.6h0M272.5 256.1h0M268 234.3h0M253.3 277.5h0M244.5 257.8h0M274.2 271.2h0M273.9 289.7h0M253.6 290.8h0M262.1 250.9h0M267.5 272.5h0M270.4 271.6h0M251 274.2h0M244.1 244.9h0M269.5 279.1h0M264.1 268.3h0M276.6 250.1h0M263 249.6h0M253.4 271.8h0M262 260h0M255 282.7h0M254.6 280.5h0M246.4 266.8h0M243.2 267.2h0M260.5 274.6h0M271.3 281.6h0M254.3 249.6h0M239.4 271.5h0M269.1 268.6h0M267.8 264h0M267.6 270.7h0M269.3 280.3h0M252.1 235.9h0M231.8 249.1h0M276.8 260.3h0M266.2 264.8h0M264 273.5h0M262.2 259h0M261.2 259.5h0M265.4 267.2h0M267.7 262.2h0M241.4 267h0M231.4 271.3h0M256.2 255.3h0M268.8 270.6h0M262.2 267h0M254.7 254.8h0M262.2 270.5h0M254 257.9h0M248.2 289.6h0M266.2 251.1h0M266.1 287.8h0M261.2 286h0M264.8 267.4h0M249.3 261.3h0M253.7 277.7h0M255.1 263.6h0M250.7 254.8h0M277.5 261.8h0M264.3 290.3h0M266.3 275.2h0M265.7 247h0M257.1 284.1h0M243.8 261.8h0M250.4 272.3h0M254.4 285.8h0M248.9 252.6h0M266 290.7h0M253.5 252.9h0M230.2 243.2h0M247.6 281.9h0M233.3 281.9h0M265.2 286.3h0M268.9 268.6h0M255.7 287.9h0M255.5 255.5h0M265.2 260.1h0M243.5 264.7h0M265.1 278.1h0M256.8 250h0M252.1 274.2h0M243 256.7h0M265.3 263.1h0M268.7 248.5h0M269.5 258h0M257.2 292.4h0M226.9 255.9h0M252.2 282.4h0M235.2 267h0M261.4 272.8h0M259.3 270.9h0M255.8 277.1h0M267 275.3h0M259.1 284.2h0M249.4 263.6h0M272.8 278.7h0M258.5 296.1h0M247.2 260h0M250.3 249.8h0M273.6 289h0M262.1 267.2h0M257 264h0M259.1 242h0M267.1 248.1h0M256.8 248.1h0M261 272.9h0M254.8 248.3h0M246.6 242.4h0M249.1 295h0M254 252.1h0M275.6 284.9h0M264.4 259.4h0M266.9 261.8h0M267 277.4h0M261.2 287.1h0M264 255.1h0M254 265.4h0M267.2 245.4h0M267.8 241.9h0M255.8 249.1h0M267.6 281.7h0M228.7 248.5h0M245.1 242.8h0M261.5 273h0M263.1 252.7h0M255.9 270.8h0M276.8 268.5h0M273.7 278.1h0M260.3 256.3h0M259.6 258.9h0M272.2 253.6h0M238.6 278.1h0M258.7 268.3h0M257.1 244.5h0M269.3 249.8h0M271.3 256.5h0M268.7 251.7h0M261.2 245.7h0M254.4 251.1h0M263.9 274h0M261.4 243.3h0M257.3 245.7h0M251.2 251h0M258.4 264h0M253.4 262.3h0M264.5 268.5h0M258.5 235.6h0M270.3 238.8h0M256.4 260.4h0M264 255.1h0M276 281.9h0M253.8 279.6h0M263.3 271.9h0M261.9 295.4h0M246.8 251.9h0M247.1 271.2h0M268.8 286.4h0M262.6 271.6h0M260.2 284h0M247.6 261.7h0M243.3 278.2h0M244.2 250.2h0M246 275.3h0M252.6 268.1h0M249.1 279.6h0M266.8 260.7h0M259.7 275.8h0M259 294.4h0M271.4 252h0M244.2 278.9h0M259.4 281.4h0M265.3 270.2h0M252.3 259.6h0M243.6 267.5h0M252.5 262.3h0M266.8 265h0M236.6 251h0M264.6 251.3h0M248.1 277.1h0M265.4 291.5h0M267.2 272.6h0M256 290.5h0M245.4 263.4h0M248.1 277h0M256.7 269.8h0M243.7 249.8h0M258.2 269.1h0M259 258.3h0M265.4 252.1h0M239.1 270.1h0M251.2 271h0M241.1 255.2h0M275 246.7h0M248.5 248.5h0M269.3 260.6h0M252.2 255.4h0M243 281.8h0M268 263.4h0M271.1 248.9h0M257.8 295.1h0M265.8 279.3h0M274 262.6h0M246.2 287.9h0M276.4 241.4h0M256.9 265.7h0M267.5 239.3h0M254.2 278.1h0M244.7 263.4h0M256.2 276.3h0M263.2 242.5h0M265.8 249.7h0M277.4 242h0M264.8 259.7h0M245.2 264.1h0M273.3 252.4h0M248.1 287.4h0M261.7 244.2h0M260 256.6h0M267.5 257h0M243.4 261.4h0M262.6 268.8h0M254.4 265.4h0M269.7 252.8h0M275 292.4h0M256.9 285.1h0M260.6 265.5h0M244.1 274.6h0M256.9 260.7h0M258.7 288.6h0M265 268.7h0M246.8 239.3h0M267.8 277.7h0M245.4 257.6h0M263 279.5h0M257.6 266.2h0M256.5 277.6h0M244.3 272.2h0M253.6 243.7h0M255.1 244.3h0M267.7 253.3h0M254.1 275.3h0M259 261.3h0M250.4 282.4h0M242.1 248.9h0M263.8 259.8h0M268.1 282.1h0M259.3 262.5h0M254.8 239.8h0M245.7 257.4h0M250.5 280.4h0M265.3 272h0M252.9 254.4h0M256.7 261.6h0M264.8 275.1h0M264.5 259.6h0M272.6 255.3h0M275.4 252h0M245.9 267.6h0M259.1 274.9h0M246.3 289.5h0M265.8 261.5h0M262 246.1h0M237.7 253.8h0M251.5 265.4h0M251.3 248.3h0M266.7 261.7h0M246.7 250.9h0M264.5 265.7h0M246.8 278.4h0M261.2 278.1h0M267.4 255.6h0M261.1 284.3h0M258.6 283.8h0M257.3 283.6h0M271.5 285.9h0M266.6 275.5h0M265.5 272.1h0M249.3 259.7h0M266 264.8h0M269.6 266.7h0M260.3 260.9h0M234.8 264.8h0M248.1 266.6h0M258.1 283.6h0M268.1 248.2h0M267.5 270.6h0M253.6 278.8h0M246.9 264.1h0M260 296h0M268.9 261.2h0M263.7 262.5h0M240.1 276.4h0M240.3 268h0M276.6 268.2h0M242.3 252.7h0M242.6 285.1h0M268.3 260.4h0M246.6 287.5h0M261.6 270.4h0M257.7 265.9h0M252.5 245.7h0M248.6 276.5h0M259.2 275.5h0M269.7 251.9h0M266.7 276.4h0M258.9 277.2h0M253.5 273.6h0M260.7 257.1h0M253.2 270h0M259.3 284.8h0M272.5 262.8h0M263.7 266.8h0M265.9 256.8h0M256.2 269.6h0M248.6 293.9h0M273.3 258.9h0M268 254.4h0M255.9 252.1h0M247.8 281.7h0M260.8 260.3h0M234.3 280.7h0M257.1 275.8h0M251.3 270.6h0M266 294.1h0M273.9 277.2h0M246.2 255.8h0M271.8 281.3h0M261.3 274h0M244.4 272.2h0M249.4 262.2h0M248.4 248.7h0M259.1 257.9h0M262.6 250.9h0M260.6 263.2h0M274.6 256.8h0M261.2 263.4h0M262 268.5h0M255.8 275.7h0M262.7 282h0M253.5 242.2h0M248.8 269.9h0M252.6 261.4h0M243 272.6h0M247.5 265.2h0M257.7 280.6h0M259.9 277h0M252.4 264h0M230.6 288.2h0M261.9 290.8h0M242.4 251.2h0M264.4 267.7h0M272.7 264.2h0M251.9 260.2h0M257.7 258.9h0M253.9 268.2h0M239 255.3h0M257.5 249.7h0M271.1 257.5h0M259.6 279.1h0M267 293.9h0M263 248.5h0M265.4 269.8h0M261.5 267.1h0M274.1 286.2h0M265.4 243.2h0M273.8 255.8h0M256.8 274.4h0M268.1 262.8h0M277.7 246.1h0M267.8 283.7h0M243.6 257.3h0M263.7 272.8h0M269.2 275h0M252.2 272.9h0M251.1 277.5h0M251.3 272.9h0M258.1 284.2h0M250 275.2h0M256.2 278.8h0M254.8 274.7h0M263 276.9h0M251.2 272.4h0M270 260.8h0M271.2 251.4h0M269.5 269.8h0M257 257.2h0M260.9 277.7h0M262.2 269.4h0M234.9 250.4h0M240.1 256.2h0M238.7 290.3h0M272.5 266.5h0M268.7 278h0M261.7 262h0M259.8 262.5h0M266.3 283.6h0M251.7 289.2h0M269.9 245.3h0M262.3 274h0M267.4 270.1h0M249.4 237.4h0M271 260.8h0M255.2 279.4h0M242.1 263.4h0M243.9 272.4h0" stroke="#e83131" stroke-width="1.90" stroke-linecap="round"/>
<path d="M255 279.4h0M258.3 272.1h0M256.1 286.8h0M256.1 283.1h0M229.6 251.5h0M252.8 267.1h0M241.7 248.5h0M262.4 277h0M262.5 269.4h0M267 252.8h0M256.7 264.1h0M257 274.3h0M254.4 254.4h0M276.6 253.9h0M249.4 259.3h0M270 286.8h0M272.2 260.5h0M257.5 274.8h0M261.5 269.5h0M242 237.2h0M242.1 280.1h0M266.5 273.8h0M257.5 265.5h0M246.2 257.3h0M261.8 290.5h0M242.3 278.3h0M263.1 259.8h0M250.4 256.4h0M244.3 273.4h0M274.9 260.8h0M254.6 264h0M247.7 267h0M264.4 280.6h0M269.5 255.2h0M264.2 255.7h0M251.4 277.3h0M266.7 282.1h0M272.2 274.2h0M261.5 278.2h0M250 287h0M264.6 287.1h0M256.8 273.3h0M255.9 283.3h0M271.8 246.2h0M240.6 253.3h0M265.6 256.1h0M265.2 254.2h0M242.5 247.8h0M251.9 244.5h0M261.8 284.1h0M270 280.2h0M270.5 290.9h0M244.9 263.7h0M252.5 254.9h0M255 274.6h0M257.1 257.2h0M266 283.9h0M259.1 278.4h0M249 261.9h0M269.3 286.5h0M258.4 279.1h0M263.4 282.3h0M256.5 271.8h0M242.7 292h0M245.5 250.7h0M273.6 273h0M273.5 265.6h0M257.1 251.2h0M265.7 279.9h0M261.7 255.2h0M255.7 268.1h0M254.5 274.8h0M247.3 277.8h0M269 286.4h0M256.3 272.6h0M248 252.6h0M259.9 285.5h0M258.6 257.9h0M262.7 254.6h0M264.8 258.1h0M270.7 279.9h0M267.2 273.8h0M266.8 257.6h0M235.7 250.9h0M263.4 264.9h0M256.5 253h0M246.4 263.6h0M272.2 272.1h0M266.7 268.6h0M253.9 270.1h0M265.4 262.1h0M269.2 257.2h0M264.9 261.6h0M261.5 290.1h0M264.9 262.1h0M244.7 259.3h0M258.9 272.7h0M253.9 260.6h0M254.8 257.1h0M258 257.7h0M269.2 246.4h0M273.7 276.7h0M250.4 260.8h0M257.6 242.5h0M262.5 266.5h0M255.6 249.1h0M262.1 248.2h0M249.7 260.5h0M262.5 283.4h0M275.8 248.5h0M251.1 253.2h0M249.2 291.4h0M274.5 248.6h0M250.1 252.8h0M261.4 292.4h0M246.6 256.7h0M261 279.7h0M255.8 277.6h0M261.2 280.4h0M272.6 268.7h0M251.8 254.8h0M241.9 283.3h0M246.9 275.7h0M250.7 278.8h0M274.3 267.2h0M264.1 276.7h0M275.3 277.4h0M270.7 258.1h0M250.6 256.4h0M261.4 266.2h0M245.8 262.3h0M267.6 269h0M251.3 276.5h0M256.6 276.7h0M269.2 272.8h0M253.2 261.1h0M261.5 282.8h0M261.3 283.4h0M264.1 258.3h0M242 247.6h0M261.5 246.2h0M271.3 261.6h0M257.9 268.9h0M252.2 264.7h0M240.1 244.3h0M244.4 246.2h0M267.4 273.6h0M259.5 283.4h0M265.1 279.2h0M243.5 281.8h0M251.9 285.2h0M237.4 255.9h0M251 258.3h0M265.6 247.3h0M261.6 260.8h0M248.8 255.5h0M260.9 261.1h0M263.9 264.7h0M267.7 286.1h0M270.3 290.6h0M271.6 279.5h0M275.7 270.5h0M261.8 275.4h0M274.9 267.4h0M248.1 278.2h0M263 251.9h0M261.9 266h0M270.8 272.7h0M256.3 286.8h0M259.5 267.6h0M256.8 259.2h0M262 273.1h0M260.5 255h0M227 285.5h0M270.6 271h0M237.5 277.4h0M264.3 282.1h0M248.3 277.9h0M246.2 284h0M264.4 256.6h0M253.8 293.2h0M258.2 256.9h0M258 269.5h0M260.2 273.5h0M268.4 285h0M269.6 245.5h0M262.1 261.1h0M264 245.2h0M255.2 296h0M269.4 251.8h0M261.7 270.7h0M259.2 241h0M261.7 267.7h0M257.8 264.1h0M249.1 238.4h0M250.2 253h0M250 280h0M241.9 280.6h0M254.8 276.4h0M248.1 256.6h0M257.3 292.8h0M270.4 255.3h0M251.5 265.5h0M241.1 285.1h0M259.3 286h0M250.3 249.1h0M274.3 276.1h0M249.2 258h0M269.1 281.5h0M258.1 266.7h0M269.4 267.4h0M261.6 260.8h0M252.6 242.5h0M254.6 239h0M249.8 293.6h0M233.5 281.9h0M256.5 270.5h0M264.4 264.8h0M240.5 264.7h0M265.2 295.1h0M246.8 265h0M239.2 282.9h0M272.3 254.7h0M263.4 252.5h0M252.3 286.7h0M274.9 241.8h0M265.3 282.6h0M265.4 269.9h0M245.9 258.3h0M247.2 278.8h0M264.7 283.8h0M267.9 252.3h0M267.7 269.7h0M240.3 250.9h0M243.6 282.3h0M253.9 246.9h0M273.4 247h0M251.7 265.9h0M257.6 266.1h0M251.9 275.7h0M265.7 277.7h0M252 271.6h0M241.1 245.7h0M248.9 284.9h0M266.8 248h0M269.7 261.3h0M276 267.8h0M258.1 254.7h0M254.4 251.4h0M249.2 252.4h0M262.1 274.1h0M265 251.4h0M264 262h0M258.7 284.3h0M256.5 259.6h0M268.1 270.1h0M264.1 257.6h0M242.8 245.1h0M260.9 272.4h0M252.2 272.6h0M261.8 247.1h0M246.7 252.2h0M247.5 251.4h0M256.6 267.6h0M258.8 255.3h0M259.2 270.2h0M271.2 281.3h0M269.1 280.4h0M259.4 272.4h0M252.5 269.9h0M250.2 288.1h0M257.9 242.6h0M269.5 279.1h0M262.2 282.5h0M238.6 282.8h0M266.9 263.3h0M255.2 263.6h0M267.7 274.9h0M252.5 270.8h0M261.4 275.7h0M245.6 252.5h0M249.1 272.5h0M262.1 245.4h0M247.9 243.1h0M272.3 247.2h0M270.7 251.7h0M248 275.4h0M241.9 257.4h0M266.7 266.4h0M244.7 268.9h0M254.1 267.6h0M244 250.9h0M258.8 256.3h0M252.8 293.8h0M268 259h0M255.2 265.5h0M262.2 275.5h0M260.1 259.8h0M271.8 272.1h0M261.9 255.5h0M256.9 240h0M262.3 243h0M270 263.9h0M271.8 249.2h0M276.5 274.4h0M264.7 273.1h0M239.3 261.4h0M261 240.3h0M245.1 278.8h0M251 286.8h0M264.7 275.7h0M275.4 269.2h0M266 259.1h0M255.1 248.7h0M247.8 248h0M251 252.2h0M250.7 241h0M254.5 266.7h0M266.6 255.2h0M254.7 245.7h0M256.4 273.5h0M265.7 254.2h0M255.5 278h0M256 282.9h0M270 250.9h0M264.2 254.1h0M267.3 260h0M254.7 273h0M269 251.6h0M244.6 254h0M271.6 275h0M250.5 272h0M258.2 248.7h0M249.8 252h0M274.1 260.3h0M244.9 275.6h0M266.6 256.2h0M255.8 265.8h0M252.5 275.5h0M264.5 279.3h0M255.3 244.3h0M263.9 262h0M273.2 272h0M234.6 273.6h0M236.3 255.9h0M275.2 277.1h0M266.7 287.9h0M272.6 283.1h0M265.6 273.7h0M261.8 264.2h0M272.9 263.2h0M265.6 272.9h0M243.5 257.8h0M274.5 268.6h0M247.6 276.8h0M246.8 242.5h0M253.5 280.7h0M243.8 259.7h0M245.1 245.2h0M243.2 270.8h0M243.5 263.2h0M270.2 258.4h0M271.9 272.2h0M262.3 251.9h0M266.7 266.6h0M266.1 267.1h0M265.9 245.9h0M248 281.9h0M250.7 271.3h0M246.3 248.7h0M257.9 258.4h0M261.2 268.9h0M252.6 289.9h0M268.7 238.9h0M255.3 254.9h0M251.8 251h0M270.5 259.6h0M245.1 239.6h0M261.7 257.1h0M246.2 245.2h0M254.9 248h0M263.9 253.8h0M243.7 234.4h0M252.3 264.9h0M265.4 266.3h0M256.9 279.8h0M254.9 297.5h0M276.9 258.8h0M277.7 246.8h0M264.1 286.3h0M270.1 254.5h0M248.4 244.1h0M265.5 269.7h0M264.3 268.5h0M261.2 262.9h0M268.4 283.9h0M267.8 274.7h0M254.6 272.5h0M249 274.5h0M273.6 263.6h0M246.1 281h0M267.1 245.1h0M273.1 277.8h0M249.2 280.3h0M269.2 259.2h0M269.7 260h0M257.3 257.7h0M253.8 280.1h0M252 273.9h0M247.7 261.6h0M250.9 268h0M241.6 238.3h0M268.8 249.5h0M259.4 288.4h0M249.7 239.3h0M261.6 264.4h0M261 258.6h0M253.5 288h0M270 279.8h0M260.3 282h0M254.1 265h0M277.4 271.8h0M266.8 279.3h0M252.5 248.5h0M268.3 250.4h0M244.6 283.1h0M260.8 293.3h0M261.2 267.9h0M271.3 268.9h0M248.4 251h0M269.3 274h0M267.9 261h0M238 264.4h0M236.1 262.6h0M273.3 261.4h0M253.1 287.2h0M269 274.1h0M241.9 282h0M255.3 248.4h0M260.8 265.3h0M275.4 267.7h0M252.6 273.8h0M265.8 281h0M260.8 274.8h0M265.8 250.1h0M258.9 289.1h0M246.7 280.3h0M266.4 269.6h0M252.1 261.7h0M244.9 249.2h0M274.2 258.5h0M264.2 244.8h0M251 251.8h0M241 244.7h0M272.7 258.6h0M261 252.3h0M248.6 245.9h0M254.7 269.1h0M259.6 255.2h0M255.2 289.9h0M256.1 269.7h0M263.3 264h0M263.3 263.1h0M254.6 237.3h0M259.5 251.4h0M273 247.4h0M263.6 282.5h0M269.4 239.1h0M262.9 276.3h0M257.4 256.3h0M262.8 264.1h0M252 247.2h0M267.3 261.1h0M257 262h0M254.9 275.1h0M249.8 293.8h0M254.6 259.8h0" stroke="#e71f1f" stroke-width="1.90" stroke-linecap="round"/>
<rect x="205.30" y="231.20" width="73.45" height="67.80" fill="none" stroke="#777" stroke-width="0.6"/>
<line x1="205.90" y1="299.00" x2="205.90" y2="298.00" stroke="#555" stroke-width="0.4"/>
<text x="205.90" y="303.30" font-size="2.3" fill="#555" text-anchor="middle" stroke="#555" stroke-width="0.1">-60</text>
<line x1="222.30" y1="299.00" x2="222.30" y2="298.00" stroke="#555" stroke-width="0.4"/>
<text x="222.30" y="303.30" font-size="2.3" fill="#555" text-anchor="middle" stroke="#555" stroke-width="0.1">-40</text>
<line x1="236.30" y1="299.00" x2="236.30" y2="298.00" stroke="#555" stroke-width="0.4"/>
<text x="236.30" y="303.30" font-size="2.3" fill="#555" text-anchor="middle" stroke="#555" stroke-width="0.1">-20</text>
<line x1="250.00" y1="299.00" x2="250.00" y2="298.00" stroke="#555" stroke-width="0.4"/>
<text x="250.00" y="303.30" font-size="2.3" fill="#555" text-anchor="middle" stroke="#555" stroke-width="0.1">0</text>
<line x1="264.00" y1="299.00" x2="264.00" y2="298.00" stroke="#555" stroke-width="0.4"/>
<text x="264.00" y="303.30" font-size="2.3" fill="#555" text-anchor="middle" stroke="#555" stroke-width="0.1">20</text>
<line x1="277.20" y1="299.00" x2="277.20" y2="298.00" stroke="#555" stroke-width="0.4"/>
<text x="277.20" y="303.30" font-size="2.3" fill="#555" text-anchor="middle" stroke="#555" stroke-width="0.1">40</text>
<line x1="205.30" y1="237.90" x2="206.30" y2="237.90" stroke="#555" stroke-width="0.4"/>
<text x="203.90" y="238.75" font-size="2.3" fill="#555" text-anchor="end" stroke="#555" stroke-width="0.1">40</text>
<line x1="205.30" y1="252.80" x2="206.30" y2="252.80" stroke="#555" stroke-width="0.4"/>
<text x="203.90" y="253.65" font-size="2.3" fill="#555" text-anchor="end" stroke="#555" stroke-width="0.1">20</text>
<line x1="205.30" y1="267.70" x2="206.30" y2="267.70" stroke="#555" stroke-width="0.4"/>
<text x="203.90" y="268.55" font-size="2.3" fill="#555" text-anchor="end" stroke="#555" stroke-width="0.1">0</text>
<line x1="205.30" y1="282.50" x2="206.30" y2="282.50" stroke="#555" stroke-width="0.4"/>
<text x="203.90" y="283.35" font-size="2.3" fill="#555" text-anchor="end" stroke="#555" stroke-width="0.1">-20</text>
<line x1="205.30" y1="296.50" x2="206.30" y2="296.50" stroke="#555" stroke-width="0.4"/>
<text x="203.90" y="297.35" font-size="2.3" fill="#555" text-anchor="end" stroke="#555" stroke-width="0.1">-40</text>
<text x="242.60" y="308.70" font-size="5.0" fill="#2a2a2a" text-anchor="middle" stroke="#2a2a2a" stroke-width="0.16">PC1</text>
<text x="197.60" y="256.30" font-size="4.8" fill="#2a2a2a" text-anchor="middle" transform="rotate(-90 197.6 256.3)" stroke="#2a2a2a" stroke-width="0.16">PC2</text>
<text x="333.40" y="227.00" font-size="4.9" fill="#2a2a2a" text-anchor="middle" stroke="#2a2a2a" stroke-width="0.16">PCA Analysis</text>
<ellipse cx="340" cy="267" rx="16" ry="17" fill="#ee2a2a" fill-opacity="0.95"/>
<ellipse cx="310" cy="270" rx="7" ry="12" fill="#8a90ea" fill-opacity="0.9"/>
<ellipse cx="313" cy="249" rx="7" ry="5" fill="#3c3cdc" fill-opacity="0.85"/>
<path d="M303.4 276.4h0M311.1 246.2h0M315.9 249.8h0M324.5 245.3h0M306.7 250h0M306.2 251.2h0M303.9 246.8h0M315.3 249h0M301.5 274.7h0M302.1 273.9h0M309.5 243h0M307.7 245.6h0M312.9 250.9h0M304 275h0M307.2 245.4h0M306.6 252.5h0M302.9 274.1h0M316.7 246.1h0M312.7 251h0M303.5 276.5h0M303.7 276.6h0M319.1 247.7h0M324 248.5h0M320.9 243.9h0M313.7 253h0M306.7 253.1h0M320.3 245.1h0M304.5 273h0M318 245.6h0M301.3 275.8h0M328.7 249h0M304 273.9h0M312.7 249.4h0M314.5 253.5h0M316.9 240h0M314.5 246.7h0M303.5 272.8h0M306.6 247.2h0M302.8 274.5h0M304.2 275.1h0M312.1 247.4h0M301.8 274.5h0M319.1 248.4h0M306.2 240.1h0M315.6 245.9h0M318.7 252h0M313 255.6h0M314.2 243.8h0M301.9 273.5h0M302.3 277.5h0M301.6 247.8h0M317.7 254.1h0M315.4 243.3h0M311.1 248.4h0M321.6 251.9h0M315.8 254h0M308.6 249.4h0M302.9 276.7h0M325.2 247.8h0M315.3 250.2h0M316.1 246h0M327.1 251.1h0M321.1 251.9h0M316.3 238.7h0M305.7 275h0M317.8 250.2h0M303.2 274.5h0M301.2 248.9h0M305.8 254.2h0M310.2 248.2h0M316.5 248.4h0M320.7 250.7h0M303.4 254.3h0M312.3 246.8h0M300.1 275.9h0M305.7 273.8h0M302.7 275.4h0M311.6 247.2h0M305.3 277.2h0M318.4 248.5h0M321.1 252.2h0M303.5 275.2h0M302.3 275.8h0M305.4 274.2h0M315.7 253.6h0M302 275.7h0M307.5 243.9h0M304.4 273.7h0M317.1 244.7h0M321.6 253.4h0M324.1 253.6h0M305.7 245.6h0M308.4 245.5h0M315.9 251.2h0M311.9 246.3h0M314.9 246.7h0M302.4 242.5h0M300.4 277h0M318.1 253.2h0M301.1 277.3h0M322.1 247h0M317.7 256.7h0M314.9 244.7h0M325.5 246.6h0M317.2 253.5h0M324.4 251.2h0M312.8 247.6h0M305.1 250.6h0M318.6 255.1h0M316.2 250.7h0M317 246.4h0M318.6 248.6h0M315.1 248.4h0M315 250.3h0M308.5 245.2h0M305.5 248.1h0M306.7 245.3h0M302.7 255.1h0M312.7 247.5h0M323.8 245.5h0M309.8 251.4h0M316.2 242.9h0M314.8 247.1h0M320.8 254.5h0M324.9 253.9h0M308.8 246.5h0M316.6 247h0M317.8 255.7h0M309.3 250.3h0M301.8 252.6h0M321.5 241h0M313.5 249.8h0M302.4 242.6h0M307.1 250.9h0M310.3 248.2h0M318.7 250.5h0M304.4 242.6h0M299.6 240.7h0M317.2 240.2h0M307.6 252.3h0M320.6 246.2h0M324.8 245.6h0M310.3 246h0M318.3 250.4h0M315.1 247.9h0M312.6 244.6h0M308.8 250.8h0M314.3 240.1h0M313.1 251.2h0M313.4 248.3h0M319.6 255.4h0M310.6 246h0M312.1 250.4h0M307.2 250.9h0M305.9 250.1h0M309.7 255h0M304.3 246.5h0M318.1 247.4h0M319.8 244.9h0M310.5 250.1h0M316.2 258.7h0M320.3 246.5h0M309.3 249.1h0M312 241.5h0M310.3 247.4h0M317.8 254h0M315.8 245.6h0M318.8 250.6h0M320.4 248.3h0M319.4 252.5h0M308.6 244.6h0M304.3 248.3h0M321.7 253.5h0" stroke="#2121ca" stroke-width="1.90" stroke-linecap="round"/>
<path d="M312.3 248h0M314 247.7h0M327.2 253.7h0M320.1 260.6h0M303.6 248.7h0M314.4 248.8h0M320.7 247.4h0M327.8 242.7h0M307.3 244.3h0M325.3 250.5h0M308.3 245.1h0M323.2 253.5h0M318.1 253.5h0M312.5 252.2h0M311.2 247h0M317.2 247.6h0M318.5 249.7h0M313.5 245.8h0M309.9 248.7h0M306.5 253.4h0M309.6 242.8h0M311.9 256.7h0M311.8 249.2h0M312.5 254.3h0M315.1 242h0M308.3 249.5h0M315.4 249.2h0M311.1 247.5h0M311 250.5h0M324 244.3h0M313.7 249.8h0M322.7 257.2h0M316.1 247.5h0M309.1 247.4h0M300.8 250.9h0M305.6 245.2h0M303.8 244.5h0M319.4 246.6h0M312.4 243.7h0M316 247.6h0M310.3 251.5h0M321.6 246.1h0M315.8 253.8h0M314.8 250.4h0M306.1 259.8h0M304 247.1h0M312.4 249.9h0M308.5 248.5h0M310.7 253.7h0M312 247.1h0M318 255.3h0M316.6 260h0M313.1 252.6h0M310.8 246.7h0M310.5 256.4h0M306.3 242.8h0M306.1 255.1h0M313 247.1h0M311.3 249.9h0M305.2 242.7h0M316.7 247.1h0M314 252.7h0M310.9 258.2h0M310.2 250.6h0M313.5 248.9h0M318.1 253.5h0M305.5 253.5h0M317.9 245.2h0M310.9 242.8h0M306.8 246.9h0M307.7 250.9h0M310.1 252.4h0M313.4 250.1h0M321.1 246.3h0M308.8 248.1h0M324 246.5h0M313.3 244.2h0M303.8 246.2h0M303.7 245.7h0M326.1 244.8h0M312.7 246.5h0M311.2 252.8h0M307.4 253.6h0M317.1 250h0M312.6 250.2h0M310.7 237.8h0M325 242.5h0M302 243.7h0M308.3 245.7h0M313.8 253.2h0M307.7 251.2h0M314.5 254.2h0M300.3 248.1h0M310 253.1h0M313.7 248.8h0" stroke="#3434cd" stroke-width="1.90" stroke-linecap="round"/>
<path d="M308.9 260.3h0M303.3 252.6h0M305.3 261.6h0M302.2 273.2h0M315.3 260.5h0M311.1 273.3h0M316.5 265.5h0M311.7 261.3h0M307.8 264.9h0M308.1 267.8h0M308.5 254.2h0M305.2 273h0M310.1 269.5h0M314.9 267.2h0M305.8 257.2h0M313.7 262.1h0M314.4 275h0M316.8 255.8h0M311.7 277.6h0M307.4 263.1h0M323.4 272.5h0M307.9 269.1h0M310.7 275.7h0M307.6 285.3h0M312.2 273.7h0M317.6 265.9h0M308.7 286.7h0M312.1 264.9h0M311.6 277.1h0M316.3 280.1h0M302.7 265.8h0M321 254.1h0M314.2 279.2h0M316.6 277h0M310.5 282.9h0M308.4 247.4h0M309.6 271.2h0M316.9 273.4h0M310.8 272.5h0M307.6 280.1h0M308.4 278.4h0M308.6 250h0M312 274.9h0M305.7 269.6h0M312 271h0M313.1 269.3h0M304.1 257.8h0M303.8 261.5h0M302 249h0M302.2 279.6h0M305.4 267h0M303.5 273.6h0M315 268.3h0M306 274.5h0M317.5 282.2h0M306.5 283.6h0M309.9 268.7h0M312.4 274.5h0M310.4 275.5h0M305.3 288.9h0M314.4 280.1h0M312.7 274.6h0M307.1 266.9h0M316.8 272.5h0M324.6 267.8h0M329.1 264.8h0M305.1 278.8h0M306.9 276.6h0M314.8 273.7h0M307.7 287.1h0M315 261.9h0M300.2 275h0M308.9 292.4h0" stroke="#5f5dd6" stroke-width="1.90" stroke-linecap="round"/>
<path d="M303.7 261.8h0M312.7 264.4h0M308.7 259.7h0M302.5 264.4h0M315.4 275.3h0M308.1 286.1h0M309.6 276.7h0M311.7 263.6h0M305.5 278.3h0M309.2 286.6h0M310.6 253.8h0M307.2 277.1h0M308.8 272.9h0M315.3 287.5h0M313.5 242.3h0M307 279.4h0M307.5 281.9h0M300.9 271.2h0M307 276.4h0M312.4 259.2h0M313.9 267.9h0M302.1 253.1h0M314.3 271.8h0M306.5 260.5h0M307.3 261.6h0M310.5 263.5h0M314.2 260.3h0M309.9 281.6h0M306.4 273.9h0M308.4 270.3h0M313.8 265.5h0M308.1 270.2h0M308.7 263.3h0M304.2 261.4h0M316.1 265.3h0M303.4 271.3h0M309 278.7h0M302.3 257.7h0M301.2 280.1h0M315 264.1h0M315.8 260.3h0M309.4 271.7h0M314.9 246.7h0M305.5 270.6h0M315.1 281.7h0M307.7 274.9h0M312.2 277.4h0M316.4 262.1h0M309.3 285.5h0M306.5 273.1h0M302.9 269.3h0M313.2 280h0M300.2 246.8h0M308.7 249.7h0M312.1 266.6h0M312.8 279.6h0M310.2 277.5h0M306.9 256h0M313.2 247.4h0M308.6 261.1h0M308.8 270.3h0M308.2 278.5h0M314.9 295.7h0M306.2 285.6h0M306.9 273.2h0M300.2 256.6h0M316.7 275.6h0M305 272.9h0M301.3 271.8h0M316.5 269.1h0M308.2 280.2h0M299.6 278.5h0M320.2 272.7h0M304.4 282.7h0M306.1 263.6h0M311.4 274.3h0M306.9 263.9h0M312.5 264.7h0M317.7 286.8h0M322.5 266.4h0M306.7 287.6h0M301.4 268.3h0M306.1 290.4h0M314.8 269.9h0M309.9 264.8h0M308.4 271.1h0M309.6 266.5h0M307.4 279.2h0M307.8 274.4h0M307.6 275.5h0M318.7 264.4h0M311.4 283h0M314.4 270.5h0M321.5 268.3h0M307 270.5h0M313.4 277.7h0M308.7 273.7h0M309 278.1h0M315.5 288.4h0M303.1 272.1h0M316.7 270.7h0M305.9 254.1h0M310.6 280.2h0M307.7 266h0M308.7 279.8h0M306.9 273.5h0M309.8 268.2h0M312.6 281.9h0M318.2 278.8h0M315.4 265h0M314.8 266.5h0M315.1 250.8h0M305.4 268.6h0M304.2 275.9h0M299.6 272.9h0M311.8 279.8h0M307.7 270.5h0M309.6 264.8h0M316.5 262h0M309.8 266.6h0M310.3 258.9h0M310.5 277.5h0M312.1 263.1h0M321.2 281.3h0M311.4 275.3h0M304.6 268.3h0M314.4 283.9h0M310.6 267.5h0M311.5 262.9h0M309.4 278.1h0M306.6 264.7h0M312.8 266.3h0M311.4 284.8h0M307.2 271.9h0M311.2 256.7h0M306 277.6h0M307.2 247.4h0M303.7 279.7h0M317.4 263.1h0M311.9 275h0M311.2 258.9h0M313 269.3h0M312.4 260.9h0M302.4 268.7h0M309.8 267.7h0M317 267.5h0M310.7 267.7h0M309 249.1h0M321.8 268.8h0M315 254.3h0M314.4 249.4h0" stroke="#7572da" stroke-width="1.90" stroke-linecap="round"/>
<path d="M312.1 277.7h0M311 283.7h0M313.8 286.8h0M304.7 260.2h0M306.9 267.4h0M312.2 254.2h0M317.3 276.6h0M314.5 268.5h0M305.7 276.6h0M305.8 250.3h0M305.2 266.4h0M312.7 256.5h0M316.4 278.4h0M308.9 265h0M306.2 253.8h0M310.1 285.7h0M305.1 275.4h0M308.6 272.5h0M312.6 277.5h0M312.4 283.1h0M313.2 262h0M313.9 264.8h0M314.2 262.1h0M317.6 255.9h0M309.6 269.3h0M320.9 264.5h0M307.6 271.1h0M304 278.8h0M301.8 280.1h0M310.3 278.1h0M303.6 264.9h0M308 286.7h0M310.7 280.7h0M305.6 274h0M313.1 284.4h0M301.5 256.5h0M305.4 267.7h0M314.4 271.7h0M301.1 273.5h0M311.1 259.7h0M321.4 273.8h0M310.4 266.3h0M315.9 279.5h0M312.2 266.4h0M309.4 265.5h0M307.5 274.8h0M328.6 275.3h0M313.3 257.4h0M309.2 269.5h0M301 260.9h0M302.9 258.1h0M305.7 273.3h0M307.4 289.1h0M309 267.3h0M308.1 277.9h0M317.7 270.7h0M312 265.1h0M309.9 279.3h0M311 256.3h0M306.8 273h0M316 262.8h0M324.9 264.8h0M302.8 269.8h0M303.6 263.7h0M312.5 271.4h0M302.8 278.7h0M300 269.9h0M308.6 272.7h0M307 283.4h0M308.3 259.4h0M323.2 289.4h0M313 290.6h0M320.5 278.6h0M302.8 260h0M306.4 272.3h0M300 278.2h0M312.9 270.7h0M307.8 265.2h0M314.5 264.4h0M312.5 282.5h0M301.3 261.7h0M302.4 264.5h0M312.9 269.8h0M313.1 276.6h0M312.7 252.4h0M300.8 275.9h0M312.5 253h0M309.3 262.9h0M302.5 277h0M306.1 274.8h0M305.3 276.5h0M308.1 281.8h0M317.1 267h0M311.9 268.1h0M317.3 265.1h0M313.5 276.4h0M309.1 274.2h0M302.1 254.9h0M309.4 262.3h0M310.1 278.4h0M317.4 267.6h0M316.1 260h0M305.7 265.5h0M308 258.4h0M304.6 275.6h0M313.9 274.2h0M307.2 283.6h0M304.3 266.2h0M300.5 275.9h0M317 285.8h0M302.3 272.4h0M318.7 264.1h0M310.9 265.6h0M312.6 275.5h0M316.2 272h0M314.6 269.4h0M310.1 269h0M314 259.4h0M318.3 268.2h0M322.5 278.2h0M303.6 274.2h0M309.1 267h0M312.6 257.9h0M304.9 241.4h0M312.5 263.6h0M309.9 264.7h0M306.7 258.8h0M310.4 276.6h0M304.7 291.5h0M300 292.1h0M307.2 275h0M320.7 256.7h0M305.9 273.9h0M317.7 270.1h0M317.4 260.4h0M309.3 265.6h0M305.4 279h0M307 270.2h0M310.4 276.3h0M312.7 251.1h0M305.5 277.9h0M315.5 287.6h0M311.7 270.9h0M304.5 263.6h0M303.4 257.5h0M313.9 294.5h0M305.6 272.8h0M312.3 252.6h0M309.8 262.8h0M302.3 272h0M315.8 271.1h0M320.1 269.9h0M306.8 273.6h0M318.2 270.1h0M314.1 261.2h0" stroke="#8b88df" stroke-width="1.90" stroke-linecap="round"/>
<path d="M341.4 236h0M318.8 274.6h0M361.9 250.3h0M320.5 268h0M331.2 259.2h0M315.9 278.1h0M358.9 232.7h0M351 248.2h0M316.9 266.4h0M361.4 257.3h0M355.2 252.6h0M318.8 267h0M367.7 247.8h0M362.9 261.6h0M321.7 274.8h0M358.7 244.1h0M355.2 245.7h0M355.8 249.9h0M316.1 263h0M314.8 270.2h0M327.3 271.9h0M339.7 247.9h0M351.2 250.7h0M315.6 272.9h0M314.5 271.9h0M320.1 278.6h0M362 252.7h0M322.8 282.7h0M350.7 250.9h0M345.5 255.7h0M315.5 273.5h0M317.2 274.2h0M321.7 278h0M353.6 236.9h0M359.6 251.1h0M346.7 240.8h0M324.6 286.5h0M355.2 248.4h0M352.3 260.4h0M324.8 281.9h0M314 280.1h0M317.4 275.4h0M318.9 270.9h0M353.9 244.8h0M351.6 252.3h0M319.1 268.3h0M318.8 286.1h0M320.9 269.1h0M317.8 271.9h0M361.5 253.3h0M322.3 287.8h0M322.8 284.4h0M319.1 267.8h0M314.6 282.4h0M352.3 249.5h0M317.7 271.4h0M323.2 283.9h0M313.7 278.1h0" stroke="#f1a8ab" stroke-width="1.90" stroke-linecap="round"/>
<path d="M358.7 254.5h0M327.6 283.9h0M315.4 287.2h0M344.2 261.8h0M323.1 283.8h0M350.7 237.9h0M359.7 239.9h0M350.5 258h0M310.8 268.6h0M321.6 269.9h0M314 271.5h0M319 276.4h0M352.3 241.9h0M324.4 272.8h0M358.9 239.1h0M352.6 249.3h0M357.8 249.7h0M360.2 244h0M320 282.2h0M356.4 250.8h0M319.6 275.7h0M345.2 257.6h0M354.6 250.8h0M359.8 246.1h0M347.7 248.9h0M351 238.9h0M316.1 267.3h0M364.9 240.9h0M312.6 285.5h0M316.9 288.2h0M322.7 279.9h0M323.3 271.1h0M354.6 251.5h0M329.4 281.6h0M359.7 258.6h0M318.8 268.9h0M319.4 277.3h0M323.6 294.3h0M361 248.8h0M316.7 272.4h0M356.7 255.5h0M362.9 250h0M318.2 283.2h0M350.6 243.4h0M346.2 260.5h0M323.7 280.4h0M352.5 256h0M364.2 254.9h0M318.8 273.7h0M316.8 286.7h0M316.3 271.7h0M313.8 280.6h0M363.7 252h0M327.1 276h0M323.2 270h0M317.7 271.3h0M352 260h0M314.4 271.9h0M347.9 240.1h0M354 232.2h0M318.9 279.3h0M353.8 243.4h0M364.2 254.8h0M350.3 249h0M356.3 242h0M315.7 279.8h0" stroke="#ef9294" stroke-width="1.90" stroke-linecap="round"/>
<path d="M323.8 288.7h0M343.9 248.4h0M352.6 256.2h0M339.2 243.7h0M351.6 238.8h0M321.2 274.9h0M346.8 254.9h0M353.4 248.9h0M347.9 253.5h0M314.8 268.5h0M359.2 247.5h0M345.9 247.3h0M318.7 278.8h0M322.4 272.8h0M355.3 249.6h0M316.9 274.4h0M342.5 246.9h0M351.9 264.2h0M306.5 274.7h0M324.1 280.5h0M313.8 286.6h0M322.7 281.4h0M350.2 249.7h0M326.6 268.1h0M318.8 275h0M314.6 274.8h0M324.5 266.2h0M318.2 270.2h0M320.1 267.7h0M319.1 271.8h0M354.8 241.8h0M314.4 292.9h0M314.8 265.1h0M323.5 284.6h0M345.7 248.7h0M320.1 275.6h0M362.9 255.2h0M351.8 251.4h0M369 254.5h0M353.6 253.6h0M350.5 247.6h0M353.6 248.1h0M352.2 254.1h0M362.6 243.5h0M352.9 249.1h0M313.4 276.4h0M312.2 280.5h0M352.4 241h0M317.2 295.3h0M315.4 266.5h0M321.7 278.1h0M352.2 242.2h0M317.8 292h0M348.4 248.9h0M358.3 243.3h0M315 276.4h0M321.3 281.4h0M341.3 251.5h0M315.5 267h0M319.5 274.1h0M316.5 275.7h0M364.9 252h0M315.2 291.6h0M319.1 290.2h0M316.7 264.5h0M346.7 249.1h0M320.8 278.6h0M349.7 233.5h0M320.5 273.2h0M364.1 260.3h0M343.9 252.8h0M347.6 250.4h0M316.7 261.5h0M355.1 252.4h0M365.9 274.9h0M357.6 243.7h0M320.2 281h0M353 243.2h0M350.2 244.4h0M352.3 256.4h0M366.6 245h0M362.1 253.3h0M349.1 245.6h0M364.7 239.5h0M321.1 286.4h0M327.5 257.3h0M315.1 269.7h0M320.1 275.8h0M315.5 289.2h0M351.7 245.3h0M357.4 245.2h0M321.4 264.9h0M316.5 273.5h0M314.3 281.8h0M316.2 255.9h0M324.5 277.6h0M355 272.4h0M321.6 284.7h0" stroke="#ee7d7f" stroke-width="1.90" stroke-linecap="round"/>
<path d="M359.2 239.8h0M348.4 257.8h0M351 249h0M357 249.5h0M354.1 231.7h0M356.9 240.7h0M364.7 260.5h0M357.9 241.7h0M348.7 247.2h0M359.2 239.6h0M360.3 245.2h0M353.3 252.9h0M350.8 240.2h0M346.9 255.4h0M341.5 247.6h0M345.3 250.5h0M355.8 258.2h0M346.5 244.2h0M348.3 259.1h0M363.1 253h0M351.4 257.3h0M357.2 248h0M360.7 253.2h0M366.8 255.3h0M355.7 258.1h0M358.2 246.7h0M359 251.8h0M354.7 239.9h0" stroke="#ec696a" stroke-width="1.90" stroke-linecap="round"/>
<path d="M358.1 273.3h0M342.3 280.5h0M341.6 275.5h0M324 246.9h0M346.4 258.3h0M349.2 285.1h0M334 272h0M325.4 276.1h0M336.1 263.6h0M332.3 275.3h0M334.7 256.8h0M332.3 280.1h0M358.7 294.3h0M344.3 255h0M336.2 253.2h0M323.2 281.9h0M342.4 272.2h0M341.3 282.8h0M355.5 243.5h0M328.5 264.6h0M337.2 267.5h0M332.6 263.2h0M342.2 245.6h0M368 242.4h0M324.5 286.1h0M358 284.8h0M338.3 247.6h0M343.8 259.1h0M338.9 280h0M338.9 273.2h0M351.2 265h0M328.5 255.3h0M347.1 285.4h0M341.3 262.4h0M334.9 277h0M357.6 275.2h0M353.1 257.5h0M329.6 258.3h0M347.3 260.8h0M341.1 278h0M355 275h0M329.2 249.5h0M331.7 273.8h0M337.1 284h0M329.1 287.2h0M324 280.8h0M313.4 267.9h0M310.7 275.4h0M354.3 281.1h0M343.5 272.8h0M360.7 264.4h0M321.6 278.9h0M335.6 288.4h0M337.2 271.1h0M328.7 258.3h0M336.1 292.2h0M328.9 265.2h0M331.8 250.7h0M330.1 271.1h0M352.1 248.9h0M342.5 273.9h0M351.5 250.7h0M340.4 254.7h0M360.3 281.9h0M325.6 286.6h0M305.7 270h0M329.9 236.7h0M338.9 278.4h0M355.6 278.9h0M347.7 251.4h0M336.6 264.3h0M330.1 279.2h0M334 271.5h0M326.7 243.5h0M331.7 246.5h0M342.7 262.9h0M340.7 264.9h0M312.3 282.5h0M321 247.7h0M352.5 264.1h0M359.5 273.3h0M320.2 275.1h0M333.8 261.6h0M341.9 265.5h0M314.5 274.9h0M349.6 292.5h0M346.9 269.6h0M321.1 257.6h0M314.8 282.6h0M357.9 266.2h0M351.2 273.9h0M337.9 274.8h0M362.2 285.5h0M337.7 257.8h0M347.8 264.4h0M308.7 255.3h0M331.3 252.5h0M332 269.9h0M338.1 252h0M336.1 262.2h0M320.4 270h0M332.5 253.2h0M323 291.2h0M345.2 292.6h0M341.1 247.2h0M334.5 274.1h0M348.7 283.1h0M332.4 262.3h0M342.4 272h0M333.6 274.1h0M329.2 269.7h0M356.9 274.2h0M349.5 270.1h0M340.8 257.5h0M358.4 277.6h0M342.6 256.5h0M340.5 272.8h0M337.1 277.2h0M355.1 259h0M336.4 255.1h0M333.2 273.8h0M355.8 243.7h0M344.3 255.5h0M338.3 261h0M348.3 278.4h0M321.4 250.2h0M314.4 266.9h0M333.8 262.9h0M352.5 263.5h0M341.7 265h0M358.4 261.1h0M358.1 280.9h0M322.5 275.9h0M336.3 254.4h0M318.3 255.9h0M339.2 295h0M358.9 268.7h0M334.6 251.2h0M335 278h0M348.8 267.9h0M341.4 273.7h0M319 266.7h0M329 250.8h0M342.4 247.1h0M356.2 247h0M343.7 257.2h0M336.1 250.7h0M329.7 282.8h0M336.8 290.6h0M325.7 255.7h0M344.6 270.8h0M341.4 263.7h0M345.4 273.7h0M346 290.8h0M334.2 262.7h0M330.9 279h0M358.5 276.3h0M352.5 272.7h0M360.4 284.7h0M339.6 269.8h0M341.3 266.8h0M337.5 265.2h0M346.9 280.5h0M346.6 262h0M338.3 258.2h0M332.1 243.2h0M336.3 281.9h0M338.2 257.4h0M330.5 267.4h0M344.2 257.5h0M331.8 260.6h0M342.8 281.5h0M323.1 259.5h0M350.4 268.3h0M327.1 262.2h0M346 263.5h0M334.3 262.9h0M337.2 262.1h0M365.4 262.4h0M336.4 259.5h0M338.2 251.6h0M340.8 267h0M320.9 287.6h0M326.9 260h0M332.2 260h0M355.4 269.3h0M333.6 270.4h0M333 271.9h0M327.9 287.2h0M333.9 266.2h0M326.5 259h0M351.1 274.6h0M342.9 263.2h0M329.7 265.5h0M344.1 278.4h0M322 233.4h0M353.5 270.7h0M320 253.3h0M319.3 279h0M326.9 249.3h0M337.1 279.7h0M360.6 291.5h0M335.3 247.9h0M330.2 287.1h0M353.2 277.3h0M330.4 263.8h0M352.7 245.7h0M343.2 270.4h0M323.9 283.2h0M340.7 253.9h0M336.7 250.7h0M355.9 257.1h0M330.5 268.4h0M348.8 292.7h0M351.7 263.2h0M333.4 276.3h0M342.6 269h0M300.9 263.9h0M343.2 271.9h0M329.2 259.2h0M359.1 279.7h0M348.2 260.5h0M339.9 268.6h0M345 271.8h0M353.6 253.2h0M335 283.3h0M361.9 284.4h0M338.8 290.5h0M330.4 286.7h0M340.8 291.6h0M339.3 283.6h0M339.3 269.4h0M325.8 273.3h0M354.9 245.9h0M333 272.8h0M338 271.5h0M337.7 273.3h0M327 284.9h0M344.4 272.8h0M340 258.6h0M352.1 267.4h0M368.9 261h0M340.8 275h0M348.3 283.7h0M342.5 256.7h0M327.7 270.7h0M335.6 257.5h0M328.5 285.7h0M318.6 257.2h0M339.3 254.7h0M332 266.4h0M341.9 272.5h0M324.4 254.4h0M346.3 267.3h0M335.7 269.4h0M333 285.5h0M317 270.7h0M321.5 273.6h0M344.4 281.7h0M339.2 262.6h0M356.2 271.6h0M334.9 278h0M352.3 255.9h0M343 243.5h0M364.9 253.6h0M342.1 245.3h0M339.8 275.4h0M328.9 274.6h0M350.5 269.3h0M337.8 274.7h0M333.8 272.5h0M327.9 260h0M328.9 272.3h0M349.6 252.2h0M341.3 269.5h0M329.2 259.8h0M330.2 254.3h0M332.1 253.6h0M350 278.5h0M348.5 258.8h0M330.4 281.9h0M364.4 264.7h0M339.5 261.7h0M332.5 278.9h0M350.9 258.1h0M331.7 277h0M353.3 270.1h0M331.3 265.7h0M320.6 257h0M330 276.2h0M338.2 284.7h0M360.1 268.3h0M360.1 267.2h0M333.3 259h0M341.3 287.5h0M333.7 260.5h0M353.8 273.4h0M331.1 261.4h0M349.8 288.9h0M361.4 270.2h0M336.6 261.8h0M349 268.3h0M313.4 271.5h0M352.6 276.1h0M328.7 273.4h0M328.9 265.3h0M323.6 264.2h0M363.5 274.7h0M337.7 261.8h0M321.9 278.1h0M350.6 270.6h0M309.9 247.9h0M347.3 276.1h0M355.9 235h0M323.4 266.7h0M360.9 259.4h0M357.1 258.6h0M360.3 273.4h0M334.5 280.5h0M310.4 264.8h0M343.4 267.4h0M313.8 257.6h0M341.8 289.1h0M345.4 249.5h0M325 243.5h0M347.5 249.8h0M324.2 267h0M335.4 281.5h0M344.9 284.3h0M336.5 277h0M336.8 279.4h0M345.5 266h0M337.4 272.7h0M338.7 280h0M348.9 281.1h0M357.8 257.8h0M344.5 252.3h0M337.5 268.1h0M350.9 245.5h0M337.6 285.3h0M357.5 258.9h0M332.6 285.5h0M338.5 289.8h0M321.1 276.2h0M335.3 260.7h0M335 257.5h0M341.3 268.7h0M319.6 267.9h0M333.9 270.1h0M346 265.8h0M351.6 266h0M341.1 272h0M322.3 241h0M330.5 252.5h0M355.8 265h0M352 265.3h0M350.8 248.7h0M340 266.7h0M336.2 269.6h0M349.6 255.9h0M339 262.7h0M316.4 278.2h0M354.5 264.9h0M342.4 243h0M319.3 250.1h0M358.6 294.4h0M344.1 280.3h0M323.5 275.4h0M327 284.6h0M349.9 277h0M310.3 254.9h0M345.4 277.5h0M335.1 260.7h0M336.8 260.2h0M346.6 287.9h0M343.6 295.8h0M330.5 283.1h0M340.1 276.5h0M325.9 262.6h0M324.3 258.6h0M328.7 241.2h0M348.3 278h0M356.2 247.4h0M336.4 272.5h0M334.5 281.7h0M333.2 274.3h0M339.9 278.6h0M344.6 248.6h0M365 240.8h0M365.6 269.3h0M350.4 238.6h0M321.5 242.9h0M353.3 279.6h0M349.9 270.1h0M362.9 278.7h0M341.1 269h0M344.5 280.4h0M323.6 246.5h0M365.9 284.3h0M327.5 269.1h0M346.9 276.3h0M360.9 280.8h0" stroke="#e94344" stroke-width="1.90" stroke-linecap="round"/>
<path d="M317.7 282.3h0M356.7 269.5h0M337.1 247h0M363.8 270.6h0M307.4 261.2h0M333.8 265.2h0M331.4 271.9h0M335.6 251h0M338.3 263h0M335.3 249.9h0M337 259.2h0M334.2 294.6h0M340.3 254.8h0M342 272.2h0M340.8 279.9h0M323 277h0M337.9 271.8h0M340.1 273.6h0M357.1 281.7h0M328.5 272.1h0M341.1 254.4h0M326.3 283.1h0M337 287.1h0M364.8 259.2h0M323.8 262.8h0M319.8 278.9h0M349.4 262.3h0M343.8 264.7h0M349.8 270.6h0M324.6 258.1h0M343 269.3h0M316.7 281.8h0M309.3 278.8h0M329.2 275.2h0M354.4 273.9h0M301.9 274.6h0M357.8 261.9h0M365.9 269.5h0M338.2 280.1h0M347.3 291.9h0M339.4 280.8h0M349.6 256.7h0M353.1 264.2h0M337.2 259h0M339.8 266.9h0M332.9 255.5h0M345.8 273.4h0M320 254.4h0M333.4 252h0M331.5 267.7h0M330.1 273.4h0M356.1 278.5h0M337 286.3h0M328.6 282h0M318.9 257.6h0M341.4 277.4h0M344.4 274.6h0M340.4 279h0M347.2 291.9h0M331.5 279.8h0M359.3 256.4h0M314.9 251.9h0M330.9 266.7h0M349.5 268.4h0M338.9 263h0M314.6 255.2h0M340.4 283h0M329.8 263.3h0M335 273.7h0M337.1 264.8h0M337.1 264h0M333.2 285.3h0M343.1 255.6h0M346.4 281.8h0M343.9 284.5h0M360.3 254h0M330.1 269.5h0M316.6 244.4h0M344.3 258.1h0M337.6 283.4h0M350 257.5h0M350.5 266.8h0M332.9 257.1h0M329.5 263.3h0M344.6 273.2h0M340.2 252.2h0M341.5 262.4h0M333.8 255.3h0M342.6 266.4h0M348.3 259.2h0M340.7 274.2h0M336.3 256.3h0M345.8 269.8h0M339.2 249.8h0M339.7 276.2h0M347.9 272.5h0M342.9 269.9h0M344.5 237.1h0M331.3 276.5h0M332.2 260.3h0M332.7 261.1h0M331.9 276.4h0M321.8 256.2h0M336.7 272.8h0M336.9 281h0M345.4 286.6h0M338.5 274.3h0M335.9 269h0M320.9 266.8h0M322 266.6h0M341.6 280.6h0M345.1 289.4h0M345.1 267.4h0M340.7 277.9h0M354.2 272.3h0M342 284.4h0M342.9 245.4h0M332 270.4h0M351.1 266.8h0M356.3 254.9h0M342.7 266.8h0M334.1 283.9h0M319.7 272.3h0M334.8 267.4h0M324.3 271.1h0M353.1 266.8h0M336.4 266.1h0M321.4 263.7h0M328.9 258.2h0M337.7 270.8h0M341.5 262.3h0M317.7 271.6h0M357.5 280.6h0M341.8 267.3h0M329.4 252.1h0M346.8 280h0M342.1 278.8h0M316.3 279.1h0M330.6 273.7h0M339.6 270.9h0M348 287.9h0M343.5 243.4h0M348.8 279.2h0M329.8 253.1h0M360.6 274.3h0M339.7 281.8h0M327 238.5h0M351.7 263.6h0M348.4 285.6h0M363.9 272.1h0M340.6 268.9h0M338.1 256h0M340.2 250.9h0M335.2 263.6h0M320.2 269h0M334.8 255.1h0M353.6 275.7h0M350 275.9h0M336.7 267.1h0M347 261.8h0M338.2 296.1h0M354.9 241.7h0M315.7 287.3h0M336.3 279.8h0M358.2 278.3h0M331.8 265.1h0M340.5 274.8h0M328.6 266.6h0M336.7 244.7h0M325.2 269.3h0M328.1 282.9h0M329.5 261.8h0M334.5 269.3h0M330.2 261.3h0M350 263.4h0M340 273.1h0M351 271.3h0M357.8 292.3h0M341.6 245.4h0M350.6 256.9h0M319.2 259h0M349.7 250.8h0M338.1 276.3h0M338 270.8h0M337.2 295h0M337.5 270.9h0M348 271.6h0M355.6 248.3h0M329.5 272h0M336.3 250.1h0M356.5 267h0M345.5 264.5h0M346.8 269.9h0M343.3 278.2h0M324.3 265.4h0M312.2 280.4h0M353 245.2h0M329.2 248.2h0M306.4 268.7h0M331.5 258h0M334.5 259.4h0M329.9 260.8h0M330 259.9h0M352.3 294.6h0M324.6 240.1h0M323.5 270.8h0M346.3 258.6h0M329 272.9h0M336.7 287.6h0M329.5 277.2h0M348 245.4h0M335.8 271.6h0M330.1 254.9h0M335 275.5h0M349.1 265.8h0M336.2 263.6h0M354.2 290.7h0M351.7 259h0M339.2 249.9h0M303.1 270.8h0M336.8 264h0M351.3 268.5h0M355.6 272h0M336.6 268.6h0M356.6 287h0M344.5 267.7h0M321.7 270h0M328.1 269.4h0M331.4 281.7h0M326.6 258.6h0M324.1 240.4h0M320.3 273.3h0M323.2 277.2h0M350.7 285.7h0M339.2 261.8h0M328.8 265.7h0M350.4 286.1h0M347.7 254.9h0M324.4 259.4h0M341.7 277h0M344 243.7h0M327 295h0M342.4 278.3h0M337.5 279.7h0M329.8 288.2h0M358.6 280.3h0M330.3 278.1h0M350.4 244.7h0M347.5 273.1h0M340.6 254.1h0M345.7 251.3h0M339.5 282.1h0M319.7 256.1h0M352.3 266.6h0M347.2 284.1h0M339 249.7h0M335 237.7h0M333.6 252h0M330.4 287.9h0M301.9 281.8h0M332.7 290.2h0M349.2 281.7h0M331.1 277.5h0M349.2 275.2h0M336.2 269.2h0M309.9 282h0M338.6 276.6h0M330.6 277.2h0M353 263.6h0M312.3 288.8h0M337.6 250.2h0M324.6 259.5h0M364.4 281.1h0M339 277.3h0M330.6 259.7h0M331.4 293.5h0M312.6 261.1h0M342.3 272.5h0M333.2 246.2h0M344 268.5h0M360.6 275.2h0M349.2 266.7h0M321.6 282.3h0M347.5 267.2h0M347.7 254.5h0M341.5 286.5h0M338.6 268.9h0M354.8 252h0M359.8 263.4h0M309 262.2h0M352.6 276.6h0M326.5 275.8h0M359.6 265.9h0M328.1 248.4h0M368.7 258.9h0M341 248.1h0M334.3 266.5h0M349.4 295.5h0M357.3 238.9h0M324.1 255.8h0M330.9 260h0M333.4 262.9h0M327.6 259.3h0M344.4 273.7h0M331.6 284.1h0M320.5 275.1h0M323.7 259.8h0M329.6 272.1h0M339.9 269.6h0M334.7 256h0M336.1 252.8h0M325.5 268.4h0M347.9 250.8h0M350.7 241h0M342.9 259.7h0M337.6 282.5h0M343 272.6h0M342.8 266.5h0M323.3 261.2h0M338.3 242.2h0M358.1 267.5h0M351.5 261.5h0M312.1 262.2h0M359.4 279.1h0M330 290.1h0M356.8 274.3h0M335.5 277.7h0M345.6 275.3h0M343.9 269.3h0M341.9 256.6h0M355.6 284.7h0M337.2 283.9h0M338.4 259.6h0M334.6 293.5h0M364.4 263.4h0M351 266.6h0M325.9 248.3h0M339.8 267.1h0M340.8 266.8h0M333.5 262.2h0M346.7 258.3h0M345.3 279.6h0M353.5 263.9h0M304.3 283h0M361.5 293.5h0" stroke="#e83131" stroke-width="1.90" stroke-linecap="round"/>
<path d="M342 270.1h0M356.5 269.1h0M318.4 279.9h0M359.3 259.7h0M343.2 263h0M329.8 279.6h0M334.1 255.7h0M329.1 255h0M367.5 244.8h0M318.4 263.4h0M354.5 267.3h0M330 251.8h0M357.6 272.9h0M342.5 255.7h0M348.3 277.2h0M318.5 279.2h0M345.8 251.2h0M330.3 275.5h0M346.2 293.6h0M355.4 262.6h0M340.1 285.7h0M364 261h0M342.8 283.6h0M350 263.8h0M342 281.1h0M338.5 280.7h0M345.5 288.8h0M359.4 255.7h0M337.3 260.6h0M342.8 260.6h0M353.1 266.5h0M339.4 276.8h0M325.5 272.6h0M333.7 278.8h0M348.7 267.3h0M359.4 253.2h0M340.2 279.1h0M350.2 268.4h0M335.7 267.9h0M332.1 276.2h0M340.9 272.4h0M341.4 281.7h0M328.1 284.9h0M342.4 269.5h0M338.4 294.7h0M324.5 269.5h0M355.3 270.6h0M323.8 248.6h0M349.7 256.7h0M317.6 252.4h0M327 266.1h0M339.4 264.5h0M335.3 267.8h0M333.5 275.7h0M346.2 260.8h0M368.4 274.6h0M336.2 266.5h0M352.2 269.8h0M339 253.7h0M335.9 270.1h0M328.8 273.4h0M356.7 265.7h0M342.3 261h0M338.3 270.7h0M336.9 238.7h0M337 277h0M323.3 263.4h0M348.1 280.2h0M332 267.6h0M337.9 264.2h0M361.5 265.7h0M325.1 289.3h0M326.5 251.4h0M359.3 278.8h0M340.7 269.9h0M340.5 270.3h0M341.7 262.9h0M364.7 285.1h0M324.7 262.4h0M330.2 265.6h0M315.4 242h0M332.9 266.6h0M366.4 256.7h0M336.6 271.1h0M335 256h0M350.4 268h0M336.7 273.5h0M345.9 268.1h0M320.6 274h0M313.5 253.9h0M338.4 252.4h0M365.8 272.7h0M333.7 256.4h0M327.3 272.3h0M344.1 279.2h0M336.9 274h0M350.9 258.3h0M338.3 258.7h0M342.8 254.5h0M335.6 283h0M336.7 250.4h0M350.6 255h0M366.7 264.3h0M323.9 257.5h0M353 256.6h0M332.7 257.4h0M341.7 274.8h0M321.2 264.1h0M339.5 269.3h0M313.9 280.8h0M318.2 271.9h0M331.1 270h0M333.2 272h0M349.3 285.4h0M339.2 263.3h0M327.4 247.6h0M329.3 266.3h0M341.2 279.7h0M333.5 239.4h0M344.5 273.4h0M335.3 250.7h0M343.8 252.9h0M340.7 258.8h0M339 248.8h0M366.6 283.7h0M340.7 255.2h0M326 272.4h0M333.2 260.2h0M349 283.9h0M322.1 280h0M333.6 274.1h0M344.7 259h0M337.6 253.6h0M337.8 284.1h0M342.5 240h0M340.3 247h0M347.6 270.6h0M331.3 275h0M317.1 275.3h0M358 271.6h0M336.9 252.7h0M344 292.5h0M347.1 278.3h0M341 289.4h0M355.5 274.1h0M332.6 236.3h0M320.7 248.7h0M332.8 254h0M351.5 245.5h0M316.2 237.8h0M335.8 245h0M323.8 260.8h0M343.2 286.1h0M333.6 275.2h0M350.3 249.9h0M340.7 258h0M346.3 275.1h0M341.7 275.9h0M337.1 293.9h0M333.8 266.6h0M326.2 258.1h0M343.2 257h0M320.2 251.5h0M337.3 269.3h0M331.4 259.7h0M329.3 259.3h0M349.8 278.9h0M357 270.6h0M356.1 261.3h0M347.6 287.3h0M328.4 262.4h0M350.2 274.2h0M339.9 284.9h0M332.6 273.7h0M344.4 272.7h0M346 276.1h0M339.8 269.5h0M332.6 261.3h0M316.8 292.5h0M346.8 275.9h0M341.8 288.6h0M348.6 276.6h0M310.6 267.8h0M335.4 278.6h0M350.8 269.5h0M322.5 276.1h0M357.9 266.2h0M343.6 232.9h0M321.3 292.1h0M345.2 262.1h0M347.8 261h0M353.9 270.3h0M352.2 245.8h0M334.2 239.2h0M341.6 267.3h0M345.4 245.1h0M340.8 261.7h0M340.9 250.8h0M337.5 272.6h0M347.6 277.7h0M356.2 285.5h0M351 251.1h0M348.2 267.6h0M339.1 256.4h0M345.8 269.2h0M312.5 262.8h0M335 263.9h0M318.9 275.5h0M352.1 253.7h0M349.3 271.6h0M335 255.6h0M340.6 276.3h0M332.2 261.1h0M324.8 295.3h0M352.1 248.9h0M350.9 281.4h0M346.3 276.6h0M343 274.1h0M333 273.4h0M343.7 260.2h0M347.3 233.6h0M349.8 267.4h0M326.2 262.5h0M335.1 292.6h0M328.5 266.9h0M351.8 262.9h0M344.8 274.8h0M317.5 270.3h0M330.3 269.1h0M337.4 293.8h0M341 264.5h0M336 283.3h0M345.4 280.9h0M329.8 265.5h0M324.7 257.5h0M367.2 276.8h0M311.2 268.6h0M358.8 285h0M344.9 240.6h0M333.8 243.2h0M363 254.1h0M323.2 252.9h0M344.8 270.7h0M328.8 266h0M330.1 255.4h0M340.6 254.4h0M357.4 276.2h0M339.5 268.1h0M335.6 261.7h0M350.9 284.3h0M323.1 270.6h0M334.5 250h0M349.5 250.5h0M342.5 283.3h0M349.1 271h0M327.4 253.4h0M337.7 247.3h0M306.8 248.9h0M315.1 249.6h0M327.4 275.6h0M342.5 265h0M337.7 253.3h0M324.5 279.9h0M333.4 288.8h0M317.6 249.4h0M350.1 285.8h0M349.2 253h0M355.7 265.1h0M317.5 270.7h0M343.4 270.4h0M360.8 273.5h0M338.3 273.7h0M340.9 276.7h0M337.3 261h0M343.9 248.7h0M321 281.6h0M336.2 258.9h0M333.4 260.5h0M337.9 235.1h0M334.7 278.3h0M330.5 233.3h0M341.7 284.9h0M347.1 262h0M345.6 271.9h0M325.1 271.6h0M340.5 254.4h0M339 287.9h0M341.5 288.6h0M348 267.2h0M346.7 259.3h0M336 239.6h0M341.8 280.4h0M335.4 271h0M353.7 281.6h0M336.2 284.4h0M335 239.2h0M322.9 264.7h0M325.8 262.5h0M326.1 288.3h0M339.8 244.4h0M333.4 261.1h0M334.5 271.6h0M345.4 279.4h0M343.4 262.6h0M347.6 280h0M349.3 266.3h0M332.2 293.6h0M353.8 267.8h0M338.4 290.4h0M333.4 260.9h0M337.9 260.5h0M322.3 257.4h0M318.6 273h0M337.9 277.3h0M338.6 286.2h0M345.5 270h0M343.5 276.6h0M347.4 263.6h0M346.1 282.8h0M355.8 278.5h0M336.7 255.7h0M347.2 261.4h0M343.2 283.4h0M347.9 272.6h0M363.8 271.6h0M335.9 280.2h0M334.2 271.6h0M321.7 278.3h0M326.4 270.2h0M344.2 283.4h0M354.2 275h0M324.5 280.3h0M332.1 251h0M364.6 283.7h0M345.9 267.1h0M339.8 272.7h0M336 261h0M351 258.4h0M350.2 235.8h0M339.1 262.1h0M349.6 259.5h0M320.8 283.1h0M333.3 289.8h0M329.6 271.9h0M331.6 278.5h0M349.3 267.8h0M336.7 260.1h0M358.3 231.8h0M343.8 281.2h0M345.2 271.7h0M336.7 295.7h0M324.8 285.2h0M367.5 267.5h0M334.4 277.2h0M334 259.7h0M329.5 291.1h0M332.9 276.2h0M366.5 251h0M349.4 255.2h0M343.7 256.4h0M327.3 264.7h0M327.7 265.4h0M336 280.6h0M361.6 253.8h0M351.9 282h0M328.6 254.7h0M336.6 278.7h0M353.3 283.3h0M324.4 265h0M341.3 264.4h0M354.6 263.5h0M338.2 264.2h0M344.6 288.3h0M363 289.1h0M322.8 277.2h0M345.4 285.1h0M353.3 272.9h0M332 254.2h0M340.2 266.7h0M340.2 272.1h0M342.5 263.9h0M347.5 274.6h0M332.8 277h0M348.4 259.2h0M323.9 285.6h0M331.3 265.5h0M341.2 256.4h0M332 282.3h0M344.6 278.1h0M354.2 263.6h0M342.4 271.4h0M339 253.3h0M361.6 277.4h0M369 292.2h0M319.4 264.6h0M353.5 250.3h0M320.2 255.5h0M345.8 259.9h0M331.7 276.4h0M340.3 255h0M335.4 276.9h0M335.3 258.2h0M346.4 275.8h0M333 268.6h0M324.6 263.4h0M356.7 266.4h0" stroke="#e71f1f" stroke-width="1.90" stroke-linecap="round"/>
<rect x="298.40" y="230.50" width="72.10" height="66.60" fill="none" stroke="#777" stroke-width="0.6"/>
<line x1="310.10" y1="297.10" x2="310.10" y2="296.10" stroke="#555" stroke-width="0.4"/>
<text x="310.10" y="301.70" font-size="2.3" fill="#555" text-anchor="middle" stroke="#555" stroke-width="0.1">-60</text>
<line x1="320.70" y1="297.10" x2="320.70" y2="296.10" stroke="#555" stroke-width="0.4"/>
<text x="320.70" y="301.70" font-size="2.3" fill="#555" text-anchor="middle" stroke="#555" stroke-width="0.1">-40</text>
<line x1="330.50" y1="297.10" x2="330.50" y2="296.10" stroke="#555" stroke-width="0.4"/>
<text x="330.50" y="301.70" font-size="2.3" fill="#555" text-anchor="middle" stroke="#555" stroke-width="0.1">-20</text>
<line x1="341.00" y1="297.10" x2="341.00" y2="296.10" stroke="#555" stroke-width="0.4"/>
<text x="341.00" y="301.70" font-size="2.3" fill="#555" text-anchor="middle" stroke="#555" stroke-width="0.1">0</text>
<line x1="350.80" y1="297.10" x2="350.80" y2="296.10" stroke="#555" stroke-width="0.4"/>
<text x="350.80" y="301.70" font-size="2.3" fill="#555" text-anchor="middle" stroke="#555" stroke-width="0.1">20</text>
<line x1="361.30" y1="297.10" x2="361.30" y2="296.10" stroke="#555" stroke-width="0.4"/>
<text x="361.30" y="301.70" font-size="2.3" fill="#555" text-anchor="middle" stroke="#555" stroke-width="0.1">40</text>
<line x1="298.40" y1="237.90" x2="299.40" y2="237.90" stroke="#555" stroke-width="0.4"/>
<text x="297.00" y="238.75" font-size="2.3" fill="#555" text-anchor="end" stroke="#555" stroke-width="0.1">40</text>
<line x1="298.40" y1="251.00" x2="299.40" y2="251.00" stroke="#555" stroke-width="0.4"/>
<text x="297.00" y="251.85" font-size="2.3" fill="#555" text-anchor="end" stroke="#555" stroke-width="0.1">20</text>
<line x1="298.40" y1="264.10" x2="299.40" y2="264.10" stroke="#555" stroke-width="0.4"/>
<text x="297.00" y="264.95" font-size="2.3" fill="#555" text-anchor="end" stroke="#555" stroke-width="0.1">0</text>
<line x1="298.40" y1="277.30" x2="299.40" y2="277.30" stroke="#555" stroke-width="0.4"/>
<text x="297.00" y="278.15" font-size="2.3" fill="#555" text-anchor="end" stroke="#555" stroke-width="0.1">-20</text>
<line x1="298.40" y1="291.30" x2="299.40" y2="291.30" stroke="#555" stroke-width="0.4"/>
<text x="297.00" y="292.15" font-size="2.3" fill="#555" text-anchor="end" stroke="#555" stroke-width="0.1">-40</text>
<text x="333.80" y="306.90" font-size="5.0" fill="#2a2a2a" text-anchor="middle" stroke="#2a2a2a" stroke-width="0.16">PC1</text>
<text x="290.20" y="258.50" font-size="4.8" fill="#2a2a2a" text-anchor="middle" transform="rotate(-90 290.2 258.5)" stroke="#2a2a2a" stroke-width="0.16">PC2</text>
<text x="55.40" y="317.40" font-size="4.85" fill="#2a2a2a" text-anchor="middle" stroke="#2a2a2a" stroke-width="0.16">DCCM Analysis</text>
<path d="M17.5 387.0h1.11M18.6 385.9h1.11M19.7 384.8h1.11M20.8 383.7h1.11M21.9 382.5h1.11M23 381.4h1.11M24.1 380.3h1.11M25.3 379.2h1.11M26.4 378.0h1.11M27.5 376.9h1.11M28.6 375.8h1.11M29.7 374.6h1.11M30.8 373.5h1.11M31.9 372.4h1.11M33 371.3h1.11M34.1 370.1h1.11M35.2 369.0h1.11M36.3 367.9h1.11M37.5 366.8h1.11M38.6 365.6h1.11M39.7 364.5h1.11M40.8 363.4h1.11M41.9 362.2h1.11M43 361.1h1.11M44.1 360.0h1.11M45.2 358.9h1.11M46.3 357.7h1.11M47.4 356.6h1.11M48.5 355.5h1.11M49.6 354.4h1.11M50.8 353.2h1.11M51.9 352.1h1.11M53 351.0h1.11M54.1 349.9h1.11M55.2 348.7h1.11M56.3 347.6h1.11M57.4 346.5h1.11M58.5 345.4h1.11M59.6 344.2h1.11M60.7 343.1h1.11M61.8 342.0h1.11M62.9 340.8h1.11M64.1 339.7h1.11M65.2 338.6h1.11M66.3 337.5h1.11M67.4 336.3h1.11M68.5 335.2h1.11M69.6 334.1h1.11M70.7 333.0h1.11M71.8 331.8h1.11M72.9 330.7h1.11M74 329.6h1.11M75.1 328.4h1.11M76.2 327.3h1.11M77.3 326.2h1.11M78.5 325.1h1.11M79.6 323.9h1.11M80.7 322.8h1.11M81.8 321.7h1.11M82.9 320.6h1.11" stroke="#46e2de" stroke-width="1.21"/>
<path d="M18.6 387.0h1.11M17.5 385.9h1.11M19.7 385.9h1.11M18.6 384.8h1.11M20.8 384.8h1.11M19.7 383.7h1.11M21.9 383.7h1.11M20.8 382.5h1.11M23 382.5h1.11M21.9 381.4h1.11M24.1 381.4h1.11M23 380.3h1.11M25.3 380.3h1.11M24.1 379.2h1.11M26.4 379.2h1.11M25.3 378.0h1.11M27.5 378.0h1.11M26.4 376.9h1.11M28.6 376.9h1.11M27.5 375.8h1.11M29.7 375.8h1.11M28.6 374.6h1.11M30.8 374.6h1.11M29.7 373.5h1.11M31.9 373.5h1.11M30.8 372.4h1.11M33 372.4h1.11M31.9 371.3h1.11M34.1 371.3h1.11M33 370.1h1.11M35.2 370.1h1.11M34.1 369.0h1.11M36.3 369.0h1.11M35.2 367.9h1.11M37.5 367.9h1.11M36.3 366.8h1.11M38.6 366.8h1.11M37.5 365.6h1.11M39.7 365.6h1.11M38.6 364.5h1.11M40.8 364.5h1.11M39.7 363.4h1.11M41.9 363.4h1.11M40.8 362.2h1.11M43 362.2h1.11M41.9 361.1h1.11M44.1 361.1h1.11M43 360.0h1.11M45.2 360.0h1.11M44.1 358.9h1.11M46.3 358.9h1.11M45.2 357.7h1.11M47.4 357.7h1.11M46.3 356.6h1.11M48.5 356.6h1.11M47.4 355.5h1.11M49.6 355.5h1.11M48.5 354.4h1.11M50.8 354.4h1.11M49.6 353.2h1.11M51.9 353.2h1.11M50.8 352.1h1.11M53 352.1h1.11M51.9 351.0h1.11M54.1 351.0h1.11M53 349.9h1.11M55.2 349.9h1.11M54.1 348.7h1.11M56.3 348.7h1.11M55.2 347.6h1.11M57.4 347.6h1.11M56.3 346.5h1.11M58.5 346.5h1.11M57.4 345.4h1.11M59.6 345.4h1.11M58.5 344.2h1.11M60.7 344.2h1.11M59.6 343.1h1.11M61.8 343.1h1.11M60.7 342.0h1.11M62.9 342.0h1.11M61.8 340.8h1.11M64.1 340.8h1.11M62.9 339.7h1.11M65.2 339.7h1.11M64.1 338.6h1.11M66.3 338.6h1.11M65.2 337.5h1.11M67.4 337.5h1.11M66.3 336.3h1.11M68.5 336.3h1.11M67.4 335.2h1.11M69.6 335.2h1.11M68.5 334.1h1.11M70.7 334.1h1.11M69.6 333.0h1.11M71.8 333.0h1.11M70.7 331.8h1.11M72.9 331.8h1.11M71.8 330.7h1.11M74 330.7h1.11M72.9 329.6h1.11M75.1 329.6h1.11M74 328.4h1.11M76.2 328.4h1.11M75.1 327.3h1.11M77.3 327.3h1.11M76.2 326.2h1.11M78.5 326.2h1.11M77.3 325.1h1.11M79.6 325.1h1.11M78.5 323.9h1.11M80.7 323.9h1.11M79.6 322.8h1.11M81.8 322.8h1.11M80.7 321.7h1.11M82.9 321.7h1.11M81.8 320.6h1.11" stroke="#90eeeb" stroke-width="1.21"/>
<path d="M40.8 387.0h1.11M33 385.9h1.11M48.5 385.9h2.22M33 384.8h1.11M35.2 384.8h1.11M47.4 384.8h1.11M50.8 384.8h1.11M77.3 384.8h1.11M40.8 383.7h1.11M47.4 383.7h1.11M78.5 383.7h2.22M40.8 382.5h1.11M48.5 382.5h2.22M60.7 382.5h2.22M68.5 382.5h1.11M70.7 382.5h2.22M54.1 381.4h4.43M36.3 380.3h1.11M53 379.2h1.11M61.8 379.2h1.11M81.8 379.2h1.11M39.7 378.0h1.11M44.1 378.0h1.11M54.1 378.0h1.11M45.2 376.9h1.11M56.3 376.9h1.11M45.2 375.8h1.11M61.8 375.8h2.22M35.2 374.6h1.11M44.1 374.6h1.11M57.4 374.6h1.11M65.2 374.6h1.11M34.1 373.5h1.11M58.5 373.5h4.43M37.5 372.4h1.11M47.4 372.4h1.11M56.3 372.4h1.11M58.5 372.4h1.11M62.9 372.4h1.11M65.2 372.4h1.11M18.6 371.3h2.22M50.8 371.3h1.11M58.5 371.3h1.11M30.8 370.1h1.11M19.7 369.0h1.11M29.7 369.0h1.11M24.1 367.9h1.11M45.2 367.9h1.11M31.9 366.8h1.11M45.2 366.8h1.11M45.2 365.6h1.11M51.9 365.6h1.11M26.4 364.5h1.11M54.1 364.5h1.11M17.5 363.4h1.11M20.8 363.4h2.22M47.4 363.4h3.33M54.1 363.4h1.11M61.8 363.4h1.11M26.4 360.0h1.11M29.7 360.0h1.11M27.5 358.9h2.22M36.3 358.9h3.33M19.7 356.6h2.22M31.9 356.6h1.11M40.8 356.6h1.11M67.4 356.6h1.11M18.6 355.5h1.11M21.9 355.5h1.11M40.8 355.5h1.11M65.2 355.5h2.22M18.6 354.4h1.11M21.9 354.4h1.11M40.8 354.4h1.11M68.5 354.4h1.11M19.7 353.2h1.11M33 353.2h1.11M62.9 353.2h1.11M66.3 353.2h1.11M38.6 352.1h1.11M62.9 352.1h1.11M25.3 351.0h1.11M23 349.9h1.11M26.4 349.9h1.11M39.7 349.9h2.22M23 348.7h1.11M58.5 348.7h2.22M23 347.6h1.11M27.5 347.6h1.11M31.9 347.6h1.11M66.3 347.6h3.33M23 346.5h1.11M29.7 346.5h1.11M30.8 345.4h3.33M55.2 345.4h1.11M65.2 345.4h1.11M30.8 344.2h1.11M55.2 344.2h1.11M21.9 343.1h1.11M30.8 343.1h1.11M21.9 342.0h1.11M25.3 342.0h1.11M28.6 342.0h1.11M30.8 342.0h1.11M40.8 342.0h1.11M28.6 340.8h1.11M31.9 340.8h1.11M50.8 340.8h2.22M29.7 338.6h1.11M31.9 338.6h1.11M48.5 338.6h1.11M58.5 338.6h1.11M48.5 337.5h1.11M50.8 337.5h1.11M56.3 337.5h1.11M47.4 336.3h1.11M56.3 336.3h1.11M21.9 335.2h1.11M49.6 335.2h1.11M56.3 335.2h1.11M21.9 333.0h1.11M21.9 331.8h1.11M19.7 326.2h1.11M20.8 325.1h1.11M20.8 323.9h1.11M25.3 321.7h1.11" stroke="#cfa6d4" stroke-width="1.21"/>
<path d="M41.9 387.0h3.33M34.1 385.9h1.11M40.8 385.9h4.43M78.5 385.9h2.22M34.1 384.8h1.11M40.8 384.8h2.22M48.5 384.8h2.22M71.8 384.8h2.22M78.5 384.8h2.22M48.5 383.7h3.33M69.6 383.7h4.43M37.5 382.5h3.33M69.6 382.5h1.11M36.3 381.4h5.54M53 381.4h1.11M58.5 381.4h4.43M37.5 380.3h5.54M53 380.3h9.98M38.6 379.2h5.54M54.1 379.2h7.76M40.8 378.0h3.33M55.2 378.0h6.65M40.8 376.9h4.43M57.4 376.9h4.43M40.8 375.8h4.43M57.4 375.8h4.43M41.9 374.6h2.22M58.5 374.6h6.65M35.2 373.5h2.22M62.9 373.5h3.33M36.3 372.4h1.11M57.4 372.4h1.11M64.1 372.4h1.11M46.3 371.3h4.43M56.3 371.3h2.22M18.6 370.1h2.22M46.3 370.1h6.65M30.8 369.0h1.11M46.3 369.0h6.65M23 367.9h1.11M30.8 367.9h2.22M46.3 367.9h6.65M21.9 366.8h3.33M46.3 366.8h6.65M21.9 365.6h4.43M46.3 365.6h5.54M21.9 364.5h4.43M46.3 364.5h7.76M18.6 363.4h2.22M23 363.4h6.65M50.8 363.4h3.33M17.5 362.2h3.33M24.1 362.2h6.65M51.9 362.2h2.22M17.5 361.1h2.22M25.3 361.1h5.54M17.5 360.0h2.22M27.5 360.0h2.22M33 357.7h7.76M68.5 357.7h1.11M33 356.6h7.76M68.5 356.6h1.11M19.7 355.5h2.22M33 355.5h7.76M67.4 355.5h2.22M19.7 354.4h2.22M33 354.4h7.76M64.1 354.4h4.43M20.8 353.2h1.11M34.1 353.2h7.76M64.1 353.2h2.22M34.1 352.1h4.43M39.7 352.1h3.33M64.1 352.1h1.11M23 351.0h2.22M39.7 351.0h3.33M24.1 349.9h2.22M24.1 348.7h3.33M62.9 348.7h2.22M24.1 347.6h3.33M33 347.6h1.11M58.5 347.6h7.76M24.1 346.5h5.54M31.9 346.5h2.22M59.6 346.5h9.98M23 345.4h7.76M56.3 345.4h1.11M60.7 345.4h4.43M66.3 345.4h3.33M23 344.2h7.76M56.3 344.2h2.22M67.4 344.2h2.22M23 343.1h7.76M56.3 343.1h3.33M23 342.0h2.22M29.7 342.0h1.11M56.3 342.0h3.33M29.7 340.8h2.22M55.2 340.8h4.43M29.7 339.7h3.33M49.6 339.7h3.33M55.2 339.7h4.43M30.8 338.6h1.11M49.6 338.6h2.22M56.3 338.6h2.22M49.6 337.5h1.11M57.4 337.5h2.22M48.5 336.3h2.22M57.4 336.3h3.33M46.3 335.2h3.33M57.4 335.2h3.33M20.8 334.1h2.22M20.8 333.0h1.11M19.7 331.8h2.22M19.7 330.7h2.22M18.6 325.1h2.22M18.6 323.9h2.22" stroke="#f4d6f4" stroke-width="1.21"/>
<path d="M23 385.9h3.33M37.5 385.9h2.22M27.5 384.8h1.11M44.1 382.5h2.22M76.2 382.5h1.11M18.6 381.4h1.11M46.3 381.4h2.22M49.6 381.4h1.11M80.7 381.4h1.11M18.6 380.3h1.11M35.2 380.3h1.11M46.3 380.3h1.11M66.3 380.3h1.11M75.1 380.3h1.11M18.6 379.2h1.11M36.3 379.2h1.11M45.2 379.2h1.11M65.2 379.2h1.11M67.4 379.2h1.11M75.1 379.2h1.11M75.1 378.0h1.11M77.3 378.0h1.11M19.7 376.9h1.11M37.5 376.9h1.11M47.4 376.9h1.11M51.9 376.9h1.11M65.2 376.9h1.11M67.4 376.9h1.11M74 376.9h1.11M48.5 375.8h3.33M39.7 372.4h2.22M38.6 371.3h1.11M37.5 370.1h1.11M24.1 369.0h1.11M39.7 369.0h1.11M68.5 369.0h1.11M25.3 367.9h1.11M18.6 366.8h1.11M27.5 366.8h1.11M34.1 366.8h1.11M59.6 366.8h2.22M18.6 365.6h1.11M33 365.6h1.11M31.9 364.5h1.11M35.2 364.5h1.11M59.6 364.5h2.22M31.9 363.4h1.11M44.1 363.4h1.11M64.1 362.2h1.11M67.4 361.1h1.11M21.9 360.0h1.11M40.8 360.0h1.11M67.4 360.0h1.11M21.9 358.9h1.11M25.3 358.9h1.11M50.8 358.9h1.11M67.4 358.9h1.11M23 357.7h2.22M50.8 357.7h1.11M23 356.6h1.11M27.5 356.6h1.11M51.9 356.6h1.11M55.2 356.6h1.11M64.1 356.6h2.22M28.6 355.5h1.11M23 354.4h1.11M28.6 354.4h1.11M28.6 353.2h1.11M45.2 353.2h2.22M54.1 353.2h1.11M27.5 352.1h1.11M47.4 352.1h1.11M50.8 349.9h1.11M65.2 349.9h1.11M67.4 349.9h1.11M47.4 348.7h1.11M37.5 344.2h1.11M39.7 344.2h1.11M37.5 343.1h1.11M39.7 343.1h1.11M66.3 343.1h2.22M41.9 339.7h1.11M47.4 339.7h1.11M25.3 338.6h1.11M27.5 338.6h1.11M47.4 338.6h1.11M54.1 338.6h1.11M24.1 337.5h1.11M60.7 337.5h1.11M25.3 336.3h1.11M27.5 336.3h1.11M43 336.3h3.33M54.1 336.3h1.11M60.7 336.3h1.11M35.2 335.2h1.11M81.8 334.1h1.11M81.8 333.0h2.22M27.5 329.6h1.11M24.1 328.4h3.33M21.9 327.3h1.11M26.4 326.2h1.11M23 322.8h1.11M69.6 321.7h2.22M70.7 320.6h1.11" stroke="#a6c9c4" stroke-width="1.21"/>
<path d="M35.2 385.9h1.11M43 384.8h1.11M70.7 384.8h1.11M80.7 384.8h1.11M68.5 383.7h1.11M36.3 382.5h1.11M62.9 381.4h1.11M61.8 376.9h1.11M37.5 373.5h1.11M18.6 369.0h1.11M21.9 367.9h1.11M30.8 366.8h1.11M53 365.6h1.11M50.8 362.2h1.11M54.1 362.2h1.11M19.7 361.1h1.11M41.9 353.2h1.11M65.2 352.1h1.11M38.6 351.0h1.11M41.9 349.9h1.11M61.8 348.7h1.11M27.5 342.0h1.11M55.2 342.0h1.11M23 340.8h1.11M51.9 338.6h1.11M20.8 335.2h1.11M19.7 333.0h1.11M19.7 322.8h1.11" stroke="#e0bce4" stroke-width="1.21"/>
<path d="M21.9 384.8h1.11M19.7 382.5h1.11M48.5 381.4h1.11M34.1 378.0h1.11M51.9 378.0h1.11M35.2 376.9h1.11M66.3 376.9h1.11M76.2 376.9h1.11M26.4 370.1h1.11M27.5 369.0h1.11M56.3 366.8h1.11M56.3 364.5h1.11M58.5 364.5h1.11M23 355.5h1.11M51.9 355.5h1.11M26.4 352.1h1.11M48.5 352.1h1.11M37.5 347.6h1.11M39.7 347.6h1.11M39.7 345.4h1.11M27.5 337.5h1.11M27.5 327.3h1.11" stroke="#c4dcd8" stroke-width="1.21"/>
<path d="M23 384.8h4.43M37.5 384.8h2.22M23 383.7h5.54M24.1 382.5h4.43M19.7 381.4h2.22M25.3 381.4h3.33M43 381.4h3.33M76.2 381.4h2.22M81.8 381.4h1.11M19.7 380.3h3.33M26.4 380.3h2.22M34.1 380.3h1.11M44.1 380.3h2.22M47.4 380.3h4.43M76.2 380.3h2.22M19.7 379.2h4.43M27.5 379.2h1.11M34.1 379.2h2.22M47.4 379.2h4.43M66.3 379.2h1.11M76.2 379.2h2.22M19.7 378.0h5.54M35.2 378.0h3.33M47.4 378.0h4.43M65.2 378.0h3.33M76.2 378.0h1.11M20.8 376.9h5.54M36.3 376.9h1.11M48.5 376.9h3.33M75.1 376.9h1.11M82.9 376.9h1.11M39.7 371.3h2.22M24.1 370.1h2.22M38.6 370.1h3.33M25.3 369.0h2.22M37.5 369.0h2.22M26.4 367.9h2.22M38.6 367.9h1.11M68.5 367.9h1.11M19.7 366.8h1.11M26.4 366.8h1.11M35.2 366.8h1.11M57.4 366.8h2.22M19.7 365.6h1.11M34.1 365.6h3.33M56.3 365.6h6.65M33 364.5h2.22M57.4 364.5h1.11M33 363.4h2.22M65.2 362.2h2.22M23 361.1h1.11M64.1 361.1h3.33M23 360.0h2.22M64.1 360.0h3.33M23 358.9h2.22M51.9 358.9h1.11M64.1 358.9h3.33M51.9 357.7h1.11M64.1 357.7h3.33M24.1 356.6h3.33M53 356.6h2.22M24.1 355.5h4.43M53 355.5h3.33M24.1 354.4h4.43M53 354.4h3.33M24.1 353.2h4.43M53 353.2h1.11M45.2 352.1h2.22M47.4 351.0h4.43M66.3 351.0h1.11M47.4 349.9h3.33M66.3 349.9h1.11M48.5 348.7h2.22M38.6 347.6h1.11M37.5 346.5h3.33M37.5 345.4h2.22M38.6 344.2h1.11M38.6 343.1h1.11M38.6 342.0h1.11M66.3 342.0h3.33M67.4 340.8h2.22M43 339.7h4.43M26.4 338.6h1.11M41.9 338.6h5.54M25.3 337.5h2.22M41.9 337.5h5.54M53 337.5h2.22M61.8 337.5h1.11M26.4 336.3h1.11M61.8 336.3h2.22M36.3 335.2h1.11M61.8 335.2h2.22M27.5 328.4h1.11M23 327.3h4.43M23 326.2h3.33M23 321.7h1.11M27.5 320.6h1.11" stroke="#daf2ef" stroke-width="1.21"/>
<path d="M70.7 375.8h2.22M74 375.8h1.11M77.3 375.8h2.22M81.8 375.8h1.11M71.8 374.6h1.11M75.1 374.6h1.11M81.8 374.6h1.11M70.7 373.5h1.11M75.1 373.5h1.11M70.7 372.4h2.22M75.1 372.4h1.11M80.7 372.4h1.11M70.7 371.3h1.11M75.1 371.3h1.11M80.7 371.3h2.22M80.7 370.1h1.11M70.7 367.9h2.22M75.1 367.9h1.11M80.7 367.9h1.11M71.8 366.8h1.11M80.7 366.8h1.11M71.8 365.6h1.11M74 365.6h2.22M80.7 365.6h2.22M71.8 364.5h1.11M74 364.5h1.11M70.7 363.4h2.22M75.1 363.4h1.11M74 362.2h2.22M77.3 362.2h2.22M80.7 362.2h1.11M75.1 361.1h1.11M81.8 361.1h1.11M70.7 360.0h2.22M74 360.0h1.11M81.8 360.0h1.11M78.5 358.9h1.11M80.7 358.9h1.11M70.7 357.7h1.11M75.1 357.7h1.11M80.7 357.7h1.11M71.8 356.6h1.11M75.1 356.6h1.11M78.5 356.6h1.11M80.7 356.6h2.22M71.8 355.5h1.11M77.3 355.5h1.11M80.7 355.5h2.22M74 354.4h1.11M80.7 354.4h1.11M75.1 352.1h1.11M70.7 351.0h1.11M71.8 349.9h1.11M81.8 349.9h1.11M74 347.6h1.11M80.7 347.6h2.22M71.8 346.5h1.11M80.7 346.5h2.22M70.7 345.4h2.22M77.3 345.4h1.11M80.7 345.4h1.11M70.7 344.2h1.11M74 344.2h1.11M70.7 343.1h1.11M78.5 343.1h1.11M74 342.0h2.22M77.3 342.0h1.11M80.7 342.0h1.11M28.6 333.0h1.11M30.8 333.0h3.33M36.3 333.0h1.11M40.8 333.0h1.11M44.1 333.0h1.11M46.3 333.0h1.11M53 333.0h1.11M58.5 333.0h3.33M28.6 331.8h2.22M31.9 331.8h1.11M36.3 331.8h5.54M44.1 331.8h1.11M47.4 331.8h2.22M54.1 331.8h1.11M57.4 331.8h2.22M28.6 329.6h1.11M38.6 329.6h2.22M41.9 329.6h1.11M44.1 329.6h1.11M49.6 329.6h1.11M56.3 329.6h1.11M59.6 329.6h1.11M61.8 329.6h1.11M29.7 328.4h4.43M36.3 328.4h1.11M38.6 328.4h1.11M40.8 328.4h3.33M46.3 328.4h2.22M51.9 328.4h1.11M61.8 328.4h1.11M28.6 326.2h1.11M41.9 326.2h1.11M48.5 326.2h1.11M58.5 326.2h1.11M61.8 326.2h1.11M28.6 325.1h1.11M41.9 325.1h1.11M45.2 325.1h1.11M47.4 325.1h1.11M60.7 325.1h1.11M31.9 322.8h3.33M36.3 322.8h3.33M41.9 322.8h1.11M45.2 322.8h5.54M56.3 322.8h3.33M61.8 322.8h1.11M28.6 321.7h2.22M33 321.7h1.11M38.6 321.7h1.11M43 321.7h2.22M47.4 321.7h2.22M54.1 321.7h1.11M56.3 321.7h2.22" stroke="#e4b6e8" stroke-width="1.21"/>
<path d="M70.7 374.6h1.11M74 374.6h1.11M78.5 374.6h1.11M80.7 374.6h1.11M80.7 373.5h1.11M78.5 371.3h1.11M81.8 370.1h1.11M70.7 369.0h2.22M77.3 369.0h1.11M80.7 369.0h1.11M78.5 367.9h1.11M81.8 367.9h1.11M70.7 365.6h1.11M70.7 364.5h1.11M74 363.4h1.11M77.3 363.4h1.11M70.7 361.1h1.11M77.3 361.1h1.11M75.1 360.0h1.11M78.5 360.0h1.11M80.7 360.0h1.11M74 358.9h1.11M81.8 358.9h1.11M81.8 357.7h1.11M70.7 355.5h1.11M78.5 355.5h1.11M70.7 354.4h1.11M70.7 353.2h2.22M70.7 352.1h1.11M74 352.1h1.11M81.8 352.1h1.11M74 351.0h1.11M77.3 351.0h1.11M75.1 348.7h1.11M78.5 347.6h1.11M75.1 346.5h1.11M78.5 345.4h1.11M80.7 344.2h2.22M71.8 343.1h1.11M80.7 343.1h1.11M70.7 342.0h1.11M29.7 333.0h1.11M35.2 333.0h1.11M38.6 333.0h2.22M43 333.0h1.11M48.5 333.0h4.43M61.8 333.0h1.11M35.2 331.8h1.11M50.8 331.8h1.11M60.7 331.8h1.11M29.7 329.6h1.11M40.8 329.6h1.11M45.2 329.6h1.11M51.9 329.6h2.22M44.1 328.4h1.11M55.2 328.4h1.11M57.4 328.4h1.11M35.2 326.2h1.11M40.8 326.2h1.11M43 326.2h1.11M53 326.2h1.11M29.7 325.1h1.11M33 325.1h1.11M36.3 325.1h1.11M44.1 325.1h1.11M48.5 325.1h1.11M56.3 325.1h1.11M58.5 325.1h1.11M29.7 322.8h2.22M35.2 322.8h1.11M44.1 322.8h1.11M59.6 322.8h2.22M34.1 321.7h1.11M36.3 321.7h1.11M45.2 321.7h2.22M51.9 321.7h1.11M59.6 321.7h1.11" stroke="#cc98d4" stroke-width="1.21"/>
<path d="M34.1 372.4h2.22M35.2 371.3h2.22M31.9 370.1h1.11M36.3 370.1h1.11M31.9 369.0h2.22M33 367.9h2.22M45.2 361.1h2.22M46.3 360.0h2.22M43 358.9h1.11M47.4 358.9h1.11M43 357.7h2.22M44.1 356.6h2.22M54.1 352.1h2.22M55.2 351.0h2.22M51.9 349.9h1.11M56.3 349.9h1.11M51.9 348.7h2.22M53 347.6h2.22M64.1 342.0h2.22M65.2 340.8h2.22M61.8 339.7h1.11M66.3 339.7h1.11M61.8 338.6h2.22M62.9 337.5h2.22" stroke="#6ad6d0" stroke-width="1.21"/>
<path d="M70.7 335.2h2.22M76.2 335.2h2.22M81.8 335.2h2.22M71.8 334.1h2.22M77.3 334.1h2.22M82.9 334.1h1.11M68.5 333.0h1.11M72.9 333.0h2.22M78.5 333.0h2.22M68.5 331.8h2.22M74 331.8h2.22M79.6 331.8h2.22M69.6 330.7h2.22M75.1 330.7h2.22M80.7 330.7h2.22M70.7 329.6h2.22M76.2 329.6h2.22M81.8 329.6h2.22M71.8 328.4h2.22M77.3 328.4h2.22M82.9 328.4h1.11M68.5 327.3h1.11M72.9 327.3h2.22M78.5 327.3h2.22M68.5 326.2h2.22M74 326.2h2.22M79.6 326.2h2.22M69.6 325.1h2.22M75.1 325.1h2.22M80.7 325.1h2.22M70.7 323.9h2.22M76.2 323.9h2.22M81.8 323.9h2.22M71.8 322.8h2.22M77.3 322.8h2.22M82.9 322.8h1.11M68.5 321.7h1.11M72.9 321.7h2.22M78.5 321.7h2.22M68.5 320.6h2.22M74 320.6h2.22M79.6 320.6h2.22" stroke="#7ccac6" stroke-width="1.21"/>
<path d="M72.9 335.2h1.11M78.5 335.2h1.11M74 334.1h1.11M79.6 334.1h1.11M75.1 333.0h1.11M80.7 333.0h1.11M76.2 331.8h1.11M81.8 331.8h1.11M68.5 330.7h1.11M77.3 330.7h1.11M82.9 330.7h1.11M69.6 329.6h1.11M78.5 329.6h1.11M70.7 328.4h1.11M79.6 328.4h1.11M71.8 327.3h1.11M80.7 327.3h1.11M72.9 326.2h1.11M81.8 326.2h1.11M68.5 325.1h1.11M74 325.1h1.11M82.9 325.1h1.11M69.6 323.9h1.11M75.1 323.9h1.11M70.7 322.8h1.11M76.2 322.8h1.11M71.8 321.7h1.11M77.3 321.7h1.11M72.9 320.6h1.11M78.5 320.6h1.11" stroke="#b8c8c8" stroke-width="1.21"/>
<rect x="17.50" y="320.00" width="66.50" height="67.60" fill="none" stroke="#777" stroke-width="0.6"/>
<defs><linearGradient id="cb87" x1="0" y1="0" x2="0" y2="1"><stop offset="0" stop-color="#52e0dc"/><stop offset="0.22" stop-color="#80e8e4"/><stop offset="0.27" stop-color="#c8f2f0"/><stop offset="0.5" stop-color="#fafafa"/><stop offset="0.7" stop-color="#f4dcf4"/><stop offset="0.74" stop-color="#eaa0ec"/><stop offset="1" stop-color="#e070e4"/></linearGradient></defs>
<rect x="87.40" y="320.00" width="3.80" height="67.60" fill="url(#cb87)" stroke="#aaa" stroke-width="0.4"/>
<text x="92.40" y="321.90" font-size="2.5" fill="#666" stroke="#666" stroke-width="0.1">1.0</text>
<text x="92.40" y="338.30" font-size="2.5" fill="#666" stroke="#666" stroke-width="0.1">0.5</text>
<text x="92.40" y="354.70" font-size="2.5" fill="#666" stroke="#666" stroke-width="0.1">0</text>
<text x="92.40" y="371.10" font-size="2.5" fill="#666" stroke="#666" stroke-width="0.1">-0.5</text>
<text x="92.40" y="387.50" font-size="2.5" fill="#666" stroke="#666" stroke-width="0.1">-1.0</text>
<line x1="18.00" y1="387.60" x2="18.00" y2="386.60" stroke="#555" stroke-width="0.4"/>
<text x="18.00" y="391.10" font-size="2.4" fill="#555" text-anchor="middle" stroke="#555" stroke-width="0.1">1</text>
<line x1="30.70" y1="387.60" x2="30.70" y2="386.60" stroke="#555" stroke-width="0.4"/>
<text x="30.70" y="391.10" font-size="2.4" fill="#555" text-anchor="middle" stroke="#555" stroke-width="0.1">50</text>
<line x1="43.80" y1="387.60" x2="43.80" y2="386.60" stroke="#555" stroke-width="0.4"/>
<text x="43.80" y="391.10" font-size="2.4" fill="#555" text-anchor="middle" stroke="#555" stroke-width="0.1">100</text>
<line x1="56.80" y1="387.60" x2="56.80" y2="386.60" stroke="#555" stroke-width="0.4"/>
<text x="56.80" y="391.10" font-size="2.4" fill="#555" text-anchor="middle" stroke="#555" stroke-width="0.1">150</text>
<line x1="70.10" y1="387.60" x2="70.10" y2="386.60" stroke="#555" stroke-width="0.4"/>
<text x="70.10" y="391.10" font-size="2.4" fill="#555" text-anchor="middle" stroke="#555" stroke-width="0.1">200</text>
<line x1="17.50" y1="387.10" x2="18.50" y2="387.10" stroke="#555" stroke-width="0.4"/>
<text x="15.10" y="387.10" font-size="2.3" fill="#555" text-anchor="middle" transform="rotate(-90 15.1 387.1)" stroke="#555" stroke-width="0.1">1</text>
<line x1="17.50" y1="374.40" x2="18.50" y2="374.40" stroke="#555" stroke-width="0.4"/>
<text x="15.10" y="374.40" font-size="2.3" fill="#555" text-anchor="middle" transform="rotate(-90 15.1 374.4)" stroke="#555" stroke-width="0.1">50</text>
<line x1="17.50" y1="361.30" x2="18.50" y2="361.30" stroke="#555" stroke-width="0.4"/>
<text x="15.10" y="361.30" font-size="2.3" fill="#555" text-anchor="middle" transform="rotate(-90 15.1 361.3)" stroke="#555" stroke-width="0.1">100</text>
<line x1="17.50" y1="348.30" x2="18.50" y2="348.30" stroke="#555" stroke-width="0.4"/>
<text x="15.10" y="348.30" font-size="2.3" fill="#555" text-anchor="middle" transform="rotate(-90 15.1 348.3)" stroke="#555" stroke-width="0.1">150</text>
<line x1="17.50" y1="335.00" x2="18.50" y2="335.00" stroke="#555" stroke-width="0.4"/>
<text x="15.10" y="335.00" font-size="2.3" fill="#555" text-anchor="middle" transform="rotate(-90 15.1 335)" stroke="#555" stroke-width="0.1">200</text>
<text x="47.50" y="395.80" font-size="5.3" fill="#2a2a2a" text-anchor="middle" stroke="#2a2a2a" stroke-width="0.16">Residue Number</text>
<text x="12.20" y="349.00" font-size="5.3" fill="#2a2a2a" text-anchor="middle" transform="rotate(-90 12.2 349)" stroke="#2a2a2a" stroke-width="0.16">Residue Number</text>
<text x="149.70" y="316.60" font-size="4.85" fill="#2a2a2a" text-anchor="middle" stroke="#2a2a2a" stroke-width="0.16">DCCM Analysis</text>
<path d="M114 383.4h1.06M115.1 382.3h1.06M116.1 381.2h1.06M117.2 380.1h1.06M118.2 379.0h1.06M119.3 377.9h1.06M120.4 376.8h1.06M121.4 375.7h1.06M122.5 374.6h1.06M123.5 373.6h1.06M124.6 372.5h1.06M125.7 371.4h1.06M126.7 370.3h1.06M127.8 369.2h1.06M128.8 368.1h1.06M129.9 367.0h1.06M131 365.9h1.06M132 364.9h1.06M133.1 363.8h1.06M134.1 362.7h1.06M135.2 361.6h1.06M136.3 360.5h1.06M137.3 359.4h1.06M138.4 358.3h1.06M139.4 357.2h1.06M140.5 356.1h1.06M141.6 355.1h1.06M142.6 354.0h1.06M143.7 352.9h1.06M144.7 351.8h1.06M145.8 350.7h1.06M146.9 349.6h1.06M147.9 348.5h1.06M149 347.4h1.06M150 346.4h1.06M151.1 345.3h1.06M152.2 344.2h1.06M153.2 343.1h1.06M154.3 342.0h1.06M155.3 340.9h1.06M156.4 339.8h1.06M157.5 338.7h1.06M158.5 337.6h1.06M159.6 336.6h1.06M160.6 335.5h1.06M161.7 334.4h1.06M162.8 333.3h1.06M163.8 332.2h1.06M164.9 331.1h1.06M165.9 330.0h1.06M167 328.9h1.06M168.1 327.9h1.06M169.1 326.8h1.06M170.2 325.7h1.06M171.2 324.6h1.06M172.3 323.5h1.06M173.4 322.4h1.06M174.4 321.3h1.06M175.5 320.2h1.06M176.5 319.1h1.06" stroke="#46e2de" stroke-width="1.17"/>
<path d="M115.1 383.4h1.06M114 382.3h1.06M116.1 382.3h1.06M115.1 381.2h1.06M117.2 381.2h1.06M116.1 380.1h1.06M118.2 380.1h1.06M117.2 379.0h1.06M119.3 379.0h1.06M118.2 377.9h1.06M120.4 377.9h1.06M119.3 376.8h1.06M121.4 376.8h1.06M120.4 375.7h1.06M122.5 375.7h1.06M121.4 374.6h1.06M123.5 374.6h1.06M122.5 373.6h1.06M124.6 373.6h1.06M123.5 372.5h1.06M125.7 372.5h1.06M124.6 371.4h1.06M126.7 371.4h1.06M125.7 370.3h1.06M127.8 370.3h1.06M126.7 369.2h1.06M128.8 369.2h1.06M127.8 368.1h1.06M129.9 368.1h1.06M128.8 367.0h1.06M131 367.0h1.06M129.9 365.9h1.06M132 365.9h1.06M131 364.9h1.06M133.1 364.9h1.06M132 363.8h1.06M134.1 363.8h1.06M133.1 362.7h1.06M135.2 362.7h1.06M134.1 361.6h1.06M136.3 361.6h1.06M135.2 360.5h1.06M137.3 360.5h1.06M136.3 359.4h1.06M138.4 359.4h1.06M137.3 358.3h1.06M139.4 358.3h1.06M138.4 357.2h1.06M140.5 357.2h1.06M139.4 356.1h1.06M141.6 356.1h1.06M140.5 355.1h1.06M142.6 355.1h1.06M141.6 354.0h1.06M143.7 354.0h1.06M142.6 352.9h1.06M144.7 352.9h1.06M143.7 351.8h1.06M145.8 351.8h1.06M144.7 350.7h1.06M146.9 350.7h1.06M145.8 349.6h1.06M147.9 349.6h1.06M146.9 348.5h1.06M149 348.5h1.06M147.9 347.4h1.06M150 347.4h1.06M149 346.4h1.06M151.1 346.4h1.06M150 345.3h1.06M152.2 345.3h1.06M151.1 344.2h1.06M153.2 344.2h1.06M152.2 343.1h1.06M154.3 343.1h1.06M153.2 342.0h1.06M155.3 342.0h1.06M154.3 340.9h1.06M156.4 340.9h1.06M155.3 339.8h1.06M157.5 339.8h1.06M156.4 338.7h1.06M158.5 338.7h1.06M157.5 337.6h1.06M159.6 337.6h1.06M158.5 336.6h1.06M160.6 336.6h1.06M159.6 335.5h1.06M161.7 335.5h1.06M160.6 334.4h1.06M162.8 334.4h1.06M161.7 333.3h1.06M163.8 333.3h1.06M162.8 332.2h1.06M164.9 332.2h1.06M163.8 331.1h1.06M165.9 331.1h1.06M164.9 330.0h1.06M167 330.0h1.06M165.9 328.9h1.06M168.1 328.9h1.06M167 327.9h1.06M169.1 327.9h1.06M168.1 326.8h1.06M170.2 326.8h1.06M169.1 325.7h1.06M171.2 325.7h1.06M170.2 324.6h1.06M172.3 324.6h1.06M171.2 323.5h1.06M173.4 323.5h1.06M172.3 322.4h1.06M174.4 322.4h1.06M173.4 321.3h1.06M175.5 321.3h1.06M174.4 320.2h1.06M176.5 320.2h1.06M175.5 319.1h1.06" stroke="#90eeeb" stroke-width="1.17"/>
<path d="M117.2 383.4h1.06M128.8 383.4h2.12M134.1 383.4h1.06M146.9 383.4h1.06M171.2 383.4h1.06M173.4 383.4h1.06M117.2 382.3h1.06M134.1 382.3h1.06M146.9 382.3h1.06M172.3 382.3h1.06M120.4 381.2h1.06M138.4 381.2h1.06M146.9 381.2h2.12M114 380.1h2.12M124.6 380.1h1.06M128.8 379.0h1.06M136.3 379.0h2.12M128.8 377.9h1.06M137.3 377.9h1.06M116.1 376.8h1.06M138.4 376.8h1.06M145.8 376.8h1.06M138.4 374.6h1.06M117.2 372.5h1.06M161.7 372.5h1.06M139.4 371.4h2.12M152.2 371.4h2.12M159.6 371.4h1.06M150 369.2h1.06M114 368.1h1.06M118.2 368.1h2.12M114 367.0h1.06M114 362.7h2.12M118.2 360.5h1.06M118.2 359.4h2.12M154.3 359.4h2.12M116.1 358.3h1.06M120.4 358.3h1.06M122.5 358.3h1.06M125.7 357.2h1.06M161.7 357.2h1.06M125.7 356.1h1.06M159.6 356.1h1.06M159.6 354.0h1.06M145.8 352.9h4.24M120.4 350.7h1.06M143.7 350.7h1.06M114 349.6h3.18M143.7 349.6h1.06M116.1 348.5h1.06M143.7 348.5h1.06M143.7 347.4h1.06M127.8 346.4h1.06M125.7 344.2h1.06M125.7 343.1h1.06M137.3 342.0h1.06M137.3 340.9h1.06M168.1 337.6h2.12M125.7 336.6h1.06M140.5 336.6h1.06M142.6 336.6h1.06M169.1 335.5h1.06M124.6 334.4h1.06M139.4 334.4h1.06M167 334.4h1.06M161.7 328.9h1.06M158.5 327.9h1.06M158.5 326.8h1.06M160.6 326.8h1.06M175.5 326.8h1.06M114 324.6h1.06M115.1 323.5h1.06M114 322.4h1.06M169.1 320.2h1.06" stroke="#cfa6d4" stroke-width="1.17"/>
<path d="M118.2 383.4h2.12M127.8 383.4h1.06M131 383.4h3.18M172.3 383.4h1.06M118.2 382.3h3.18M126.7 382.3h1.06M128.8 382.3h5.30M118.2 381.2h2.12M125.7 381.2h3.18M129.9 381.2h5.30M125.7 380.1h4.24M131 380.1h3.18M137.3 380.1h2.12M146.9 380.1h2.12M114 379.0h3.18M124.6 379.0h4.24M132 379.0h1.06M145.8 379.0h3.18M114 377.9h3.18M125.7 377.9h1.06M127.8 377.9h1.06M144.7 377.9h4.24M115.1 376.8h1.06M127.8 376.8h2.12M136.3 376.8h2.12M146.9 376.8h1.06M136.3 375.7h3.18M118.2 372.5h1.06M160.6 372.5h1.06M116.1 371.4h4.24M160.6 371.4h1.06M115.1 370.3h4.24M151.1 370.3h3.18M160.6 370.3h1.06M114 369.2h1.06M116.1 369.2h5.30M151.1 369.2h2.12M115.1 368.1h1.06M117.2 368.1h1.06M120.4 368.1h1.06M149 368.1h3.18M115.1 367.0h2.12M149 367.0h3.18M114 365.9h4.24M134.1 365.9h2.12M150 365.9h1.06M114 364.9h5.30M134.1 364.9h1.06M114 363.8h4.24M116.1 362.7h1.06M131 362.7h2.12M131 361.6h1.06M120.4 360.5h2.12M117.2 359.4h1.06M120.4 359.4h2.12M117.2 358.3h1.06M121.4 358.3h1.06M162.8 358.3h1.06M162.8 357.2h1.06M160.6 356.1h3.18M159.6 355.1h4.24M151.1 354.0h3.18M160.6 354.0h1.06M150 352.9h4.24M119.3 351.8h1.06M146.9 351.8h7.42M118.2 350.7h2.12M147.9 350.7h5.30M117.2 349.6h4.24M144.7 349.6h1.06M117.2 348.5h3.18M144.7 348.5h2.12M128.8 347.4h2.12M144.7 347.4h2.12M128.8 346.4h3.18M143.7 346.4h3.18M126.7 345.3h4.24M142.6 345.3h4.24M126.7 344.2h2.12M142.6 344.2h4.24M126.7 343.1h1.06M142.6 343.1h3.18M141.6 336.6h1.06M168.1 336.6h2.12M124.6 335.5h3.18M140.5 335.5h3.18M168.1 335.5h1.06M140.5 334.4h2.12M168.1 334.4h1.06M138.4 333.3h4.24M159.6 327.9h3.18M159.6 326.8h1.06M174.4 326.8h1.06M114 323.5h1.06M169.1 321.3h1.06" stroke="#f4d6f4" stroke-width="1.17"/>
<path d="M120.4 383.4h2.12M127.8 382.3h1.06M122.5 381.2h2.12M128.8 381.2h1.06M129.9 380.1h1.06M131 379.0h1.06M126.7 377.9h1.06M114 376.8h1.06M126.7 376.8h1.06M114 375.7h1.06M127.8 375.7h2.12M134.1 375.7h1.06M116.1 374.6h1.06M135.2 374.6h1.06M116.1 373.6h1.06M131 372.5h2.12M137.3 372.5h1.06M132 371.4h1.06M138.4 371.4h1.06M119.3 370.3h2.12M133.1 370.3h1.06M139.4 370.3h1.06M115.1 369.2h1.06M121.4 369.2h1.06M134.1 369.2h2.12M116.1 368.1h1.06M121.4 368.1h1.06M135.2 368.1h1.06M117.2 367.0h1.06M136.3 367.0h1.06M142.6 367.0h1.06M118.2 365.9h1.06M124.6 365.9h1.06M138.4 365.9h1.06M143.7 365.9h1.06M124.6 364.9h2.12M138.4 364.9h2.12M144.7 364.9h1.06M126.7 363.8h1.06M139.4 363.8h2.12M121.4 362.7h1.06M127.8 362.7h1.06M140.5 362.7h1.06M122.5 361.6h1.06M127.8 361.6h2.12M141.6 361.6h2.12M129.9 360.5h1.06M142.6 360.5h2.12M124.6 359.4h1.06M143.7 359.4h2.12M125.7 358.3h1.06M131 358.3h2.12M126.7 357.2h1.06M132 357.2h2.12M133.1 356.1h2.12M135.2 355.1h1.06M129.9 354.0h1.06M135.2 354.0h2.12M131 352.9h1.06M136.3 352.9h2.12M132 351.8h1.06M137.3 351.8h1.06" stroke="#b4e2de" stroke-width="1.17"/>
<path d="M123.5 383.4h2.12M123.5 382.3h1.06M140.5 382.3h1.06M122.5 380.1h1.06M120.4 379.0h1.06M123.5 379.0h1.06M123.5 377.9h1.06M138.4 377.9h1.06M143.7 377.9h1.06M118.2 376.8h1.06M123.5 376.8h2.12M140.5 376.8h1.06M125.7 375.7h1.06M140.5 375.7h1.06M117.2 374.6h1.06M124.6 374.6h1.06M140.5 374.6h1.06M143.7 374.6h1.06M114 373.6h2.12M118.2 373.6h3.18M132 373.6h1.06M139.4 373.6h1.06M114 372.5h1.06M120.4 372.5h1.06M122.5 372.5h1.06M138.4 372.5h2.12M121.4 371.4h1.06M143.7 371.4h1.06M134.1 370.3h1.06M142.6 370.3h1.06M137.3 368.1h1.06M139.4 367.0h1.06M143.7 367.0h1.06M144.7 365.9h1.06M123.5 364.9h1.06M137.3 364.9h1.06M138.4 363.8h1.06M126.7 362.7h1.06M138.4 362.7h1.06M141.6 362.7h1.06M139.4 361.6h1.06M139.4 360.5h1.06M128.8 359.4h1.06M132 359.4h1.06M119.3 358.3h1.06M124.6 358.3h1.06M133.1 358.3h2.12M123.5 357.2h2.12M129.9 357.2h1.06M135.2 357.2h2.12M115.1 356.1h1.06M120.4 356.1h3.18M134.1 355.1h1.06M143.7 355.1h1.06M126.7 354.0h1.06M119.3 352.9h1.06M122.5 352.9h1.06M125.7 352.9h1.06M129.9 352.9h1.06M141.6 352.9h1.06M131 351.8h1.06" stroke="#c4e6e2" stroke-width="1.17"/>
<path d="M126.7 383.4h1.06M125.7 382.3h1.06M124.6 381.2h1.06M123.5 380.1h1.06M122.5 379.0h1.06M121.4 377.9h1.06M119.3 375.7h1.06M118.2 374.6h1.06M144.7 374.6h1.06M117.2 373.6h1.06M143.7 373.6h2.12M116.1 372.5h1.06M142.6 372.5h2.12M115.1 371.4h1.06M141.6 371.4h2.12M114 370.3h1.06M140.5 370.3h2.12M139.4 369.2h2.12M138.4 368.1h2.12M137.3 367.0h2.12M136.3 365.9h2.12M135.2 364.9h2.12M135.2 363.8h1.06M132 361.6h2.12M131 360.5h2.12M129.9 359.4h2.12M128.8 358.3h2.12M127.8 357.2h2.12M126.7 356.1h2.12M125.7 355.1h2.12M124.6 354.0h2.12M123.5 352.9h2.12M122.5 351.8h2.12" stroke="#a4dcd8" stroke-width="1.17"/>
<path d="M137.3 383.4h3.18M136.3 382.3h3.18M135.2 381.2h3.18M134.1 380.1h3.18M133.1 379.0h3.18M132 377.9h3.18M131 376.8h3.18M129.9 375.7h3.18M128.8 374.6h3.18M127.8 373.6h3.18M126.7 372.5h3.18M127.8 371.4h1.06M124.6 370.3h1.06M123.5 369.2h3.18M122.5 368.1h3.18M121.4 367.0h3.18M120.4 365.9h3.18M119.3 364.9h3.18M118.2 363.8h3.18M117.2 362.7h3.18M116.1 361.6h3.18M115.1 360.5h3.18M114 359.4h3.18M114 358.3h2.12M114 357.2h1.06" stroke="#88d6d0" stroke-width="1.17"/>
<path d="M141.6 383.4h2.12M141.6 382.3h3.18M151.1 382.3h4.24M157.5 382.3h2.12M162.8 382.3h2.12M141.6 381.2h4.24M150 381.2h10.60M161.7 381.2h4.24M140.5 380.1h4.24M150 380.1h16.96M168.1 380.1h2.12M140.5 379.0h4.24M150 379.0h1.06M154.3 379.0h12.72M168.1 379.0h3.18M175.5 379.0h2.12M140.5 377.9h3.18M157.5 377.9h9.54M169.1 377.9h2.12M174.4 377.9h3.18M134.1 376.8h1.06M157.5 376.8h8.48M173.4 376.8h4.24M157.5 375.7h7.42M171.2 375.7h3.18M158.5 374.6h2.12M171.2 374.6h2.12M172.3 373.6h1.06M157.5 371.4h1.06M162.8 370.3h1.06M138.4 369.2h1.06M157.5 369.2h1.06M162.8 369.2h1.06M152.2 368.1h7.42M162.8 368.1h1.06M133.1 367.0h1.06M152.2 367.0h7.42M152.2 365.9h4.24M142.6 364.9h2.12M145.8 364.9h2.12M152.2 364.9h3.18M129.9 363.8h1.06M142.6 363.8h5.30M120.4 362.7h1.06M142.6 362.7h3.18M152.2 362.7h2.12M159.6 362.7h2.12M150 361.6h4.24M158.5 361.6h3.18M149 360.5h5.30M159.6 360.5h1.06M149 359.4h3.18M127.8 358.3h1.06M153.2 357.2h2.12M117.2 356.1h3.18M154.3 356.1h1.06M114 355.1h6.36M114 354.0h6.36M132 354.0h3.18M115.1 352.9h4.24M132 352.9h3.18M156.4 352.9h3.18M116.1 351.8h1.06M133.1 351.8h2.12M155.3 351.8h4.24M132 350.7h2.12M156.4 350.7h3.18M132 349.6h2.12M162.8 349.6h1.06M161.7 348.5h2.12M136.3 347.4h2.12M152.2 347.4h2.12M160.6 347.4h3.18M116.1 346.4h3.18M135.2 346.4h3.18M161.7 346.4h2.12M115.1 345.3h3.18M135.2 345.3h3.18M115.1 344.2h3.18M128.8 344.2h4.24M134.1 344.2h3.18M149 344.2h1.06M115.1 343.1h3.18M128.8 343.1h4.24M134.1 343.1h3.18M139.4 343.1h1.06M149 343.1h1.06M115.1 342.0h4.24M128.8 342.0h4.24M139.4 342.0h2.12M116.1 340.9h3.18M128.8 340.9h3.18M144.7 340.9h1.06M160.6 340.9h2.12M116.1 339.8h3.18M128.8 339.8h2.12M143.7 339.8h3.18M160.6 339.8h2.12M115.1 338.7h7.42M125.7 338.7h1.06M127.8 338.7h3.18M143.7 338.7h3.18M173.4 338.7h1.06M115.1 337.6h8.48M128.8 337.6h2.12M135.2 337.6h1.06M143.7 337.6h3.18M116.1 336.6h7.42M134.1 336.6h3.18M164.9 336.6h1.06M117.2 335.5h5.30M134.1 335.5h2.12M149 335.5h1.06M155.3 335.5h2.12M164.9 335.5h1.06M116.1 334.4h6.36M147.9 334.4h3.18M155.3 334.4h2.12M170.2 334.4h2.12M115.1 333.3h7.42M126.7 333.3h3.18M146.9 333.3h4.24M115.1 332.2h7.42M169.1 332.2h2.12M116.1 331.1h5.30M159.6 331.1h2.12M170.2 331.1h2.12M117.2 330.0h3.18M171.2 330.0h2.12M117.2 327.9h2.12M117.2 326.8h3.18M163.8 326.8h1.06M118.2 325.7h2.12M161.7 325.7h1.06M163.8 325.7h2.12M121.4 324.6h2.12M161.7 324.6h1.06M164.9 324.6h2.12M121.4 323.5h3.18M165.9 323.5h1.06M120.4 322.4h2.12M157.5 322.4h1.06M119.3 321.3h2.12M118.2 320.2h3.18M118.2 319.1h3.18" stroke="#daf2ef" stroke-width="1.17"/>
<path d="M143.7 383.4h1.06M156.4 382.3h1.06M167 379.0h1.06M168.1 377.9h1.06M176.5 375.7h1.06M158.5 372.5h1.06M158.5 371.4h1.06M162.8 367.0h1.06M141.6 363.8h1.06M151.1 362.7h1.06M154.3 362.7h1.06M154.3 361.6h1.06M149 358.3h1.06M155.3 357.2h1.06M153.2 356.1h1.06M133.1 355.1h1.06M114 352.9h1.06M162.8 350.7h1.06M138.4 347.4h1.06M160.6 346.4h1.06M134.1 345.3h1.06M140.5 343.1h1.06M134.1 342.0h2.12M139.4 340.9h1.06M115.1 339.8h1.06M124.6 337.6h2.12M150 335.5h1.06M129.9 333.3h1.06M145.8 333.3h1.06M118.2 328.9h1.06M119.3 327.9h1.06M121.4 319.1h1.06" stroke="#c4dcd8" stroke-width="1.17"/>
<path d="M152.2 383.4h2.12M162.8 383.4h2.12M144.7 382.3h1.06M155.3 382.3h1.06M159.6 382.3h1.06M161.7 382.3h1.06M164.9 382.3h1.06M160.6 381.2h1.06M165.9 381.2h1.06M144.7 380.1h1.06M167 380.1h1.06M170.2 380.1h1.06M139.4 379.0h1.06M151.1 379.0h1.06M174.4 379.0h1.06M139.4 377.9h1.06M155.3 377.9h2.12M173.4 377.9h1.06M165.9 376.8h1.06M170.2 376.8h3.18M164.9 375.7h1.06M170.2 375.7h1.06M160.6 374.6h1.06M170.2 374.6h1.06M173.4 374.6h1.06M171.2 373.6h1.06M173.4 373.6h1.06M157.5 372.5h1.06M137.3 370.3h2.12M157.5 370.3h1.06M137.3 369.2h1.06M156.4 369.2h1.06M158.5 369.2h1.06M159.6 368.1h1.06M146.9 365.9h1.06M156.4 365.9h2.12M147.9 364.9h1.06M155.3 364.9h1.06M152.2 363.8h3.18M159.6 363.8h2.12M158.5 362.7h1.06M161.7 362.7h1.06M143.7 361.6h1.06M149 361.6h1.06M147.9 360.5h1.06M158.5 360.5h1.06M126.7 359.4h2.12M147.9 359.4h1.06M152.2 359.4h1.06M126.7 358.3h1.06M150 358.3h1.06M118.2 357.2h2.12M155.3 356.1h1.06M154.3 355.1h1.06M156.4 354.0h2.12M135.2 352.9h1.06M155.3 352.9h1.06M115.1 351.8h1.06M117.2 351.8h1.06M155.3 350.7h1.06M131 349.6h1.06M156.4 349.6h2.12M132 348.5h1.06M136.3 348.5h2.12M160.6 348.5h1.06M135.2 347.4h1.06M138.4 346.4h1.06M152.2 346.4h2.12M118.2 345.3h1.06M114 344.2h1.06M133.1 344.2h1.06M137.3 344.2h1.06M150 344.2h1.06M114 343.1h1.06M133.1 343.1h1.06M150 343.1h1.06M156.4 343.1h1.06M133.1 342.0h1.06M141.6 342.0h1.06M156.4 342.0h1.06M160.6 342.0h1.06M115.1 340.9h1.06M119.3 340.9h1.06M132 340.9h1.06M140.5 340.9h1.06M143.7 340.9h1.06M145.8 340.9h1.06M159.6 340.9h1.06M119.3 339.8h1.06M127.8 339.8h1.06M131 339.8h1.06M142.6 339.8h1.06M146.9 339.8h1.06M153.2 339.8h2.12M124.6 338.7h1.06M126.7 338.7h1.06M131 338.7h1.06M142.6 338.7h1.06M146.9 338.7h1.06M161.7 338.7h1.06M174.4 338.7h1.06M127.8 337.6h1.06M134.1 337.6h1.06M136.3 337.6h1.06M115.1 336.6h1.06M128.8 336.6h1.06M133.1 336.6h1.06M155.3 336.6h1.06M165.9 336.6h1.06M116.1 335.5h1.06M122.5 335.5h1.06M133.1 335.5h1.06M147.9 335.5h1.06M154.3 335.5h1.06M165.9 335.5h1.06M115.1 334.4h1.06M134.1 334.4h1.06M157.5 334.4h1.06M114 333.3h1.06M173.4 333.3h1.06M114 332.2h1.06M115.1 331.1h1.06M121.4 331.1h1.06M116.1 330.0h1.06M120.4 330.0h1.06M159.6 330.0h2.12M117.2 328.9h1.06M172.3 328.9h1.06M117.2 325.7h1.06M120.4 325.7h3.18M120.4 324.6h1.06M123.5 324.6h1.06M120.4 323.5h1.06M167 323.5h1.06M119.3 322.4h1.06M122.5 322.4h2.12M162.8 322.4h1.06M118.2 321.3h1.06M157.5 321.3h1.06" stroke="#a6c9c4" stroke-width="1.17"/>
<path d="M129.9 379.0h1.06M138.4 379.0h1.06M144.7 379.0h1.06M124.6 377.9h1.06M126.7 375.7h1.06M137.3 374.6h1.06M119.3 372.5h1.06M161.7 371.4h1.06M121.4 370.3h1.06M118.2 367.0h1.06M134.1 367.0h2.12M129.9 362.7h1.06M129.9 361.6h1.06M122.5 359.4h1.06M118.2 358.3h1.06M118.2 351.8h1.06M151.1 349.6h1.06M146.9 345.3h1.06M125.7 334.4h1.06" stroke="#e0bce4" stroke-width="1.17"/>
<path d="M165.9 372.5h1.06M175.5 372.5h1.06M165.9 371.4h1.06M171.2 370.3h1.06M175.5 370.3h1.06M171.2 369.2h2.12M174.4 369.2h1.06M165.9 368.1h1.06M168.1 368.1h2.12M171.2 368.1h1.06M175.5 368.1h1.06M165.9 367.0h1.06M172.3 367.0h1.06M164.9 365.9h1.06M172.3 365.9h1.06M164.9 363.8h1.06M169.1 363.8h1.06M174.4 363.8h1.06M168.1 362.7h1.06M164.9 361.6h1.06M168.1 361.6h1.06M174.4 361.6h1.06M164.9 360.5h1.06M169.1 360.5h1.06M172.3 360.5h1.06M164.9 359.4h1.06M168.1 359.4h1.06M168.1 358.3h1.06M175.5 358.3h1.06M165.9 357.2h1.06M168.1 357.2h2.12M175.5 357.2h1.06M168.1 356.1h1.06M172.3 356.1h1.06M174.4 356.1h1.06M171.2 355.1h2.12M164.9 354.0h1.06M171.2 354.0h2.12M174.4 354.0h2.12M165.9 352.9h1.06M174.4 352.9h2.12M174.4 349.6h1.06M168.1 347.4h1.06M164.9 346.4h1.06M168.1 346.4h2.12M171.2 346.4h1.06M168.1 345.3h1.06M174.4 345.3h1.06M165.9 344.2h1.06M174.4 344.2h1.06M172.3 343.1h1.06M174.4 343.1h2.12M172.3 342.0h1.06M175.5 342.0h1.06M175.5 340.9h1.06M165.9 339.8h1.06M169.1 339.8h1.06M171.2 339.8h1.06M175.5 339.8h1.06M131 331.1h1.06M133.1 331.1h1.06M135.2 331.1h3.18M142.6 331.1h1.06M150 331.1h1.06M124.6 330.0h2.12M128.8 330.0h2.12M139.4 330.0h1.06M143.7 330.0h1.06M152.2 330.0h1.06M156.4 330.0h1.06M128.8 327.9h1.06M134.1 327.9h2.12M137.3 327.9h4.24M149 327.9h3.18M128.8 326.8h1.06M133.1 326.8h1.06M136.3 326.8h1.06M139.4 326.8h1.06M150 326.8h1.06M156.4 326.8h1.06M126.7 324.6h3.18M141.6 324.6h2.12M150 324.6h1.06M156.4 324.6h1.06M127.8 323.5h1.06M129.9 323.5h2.12M136.3 323.5h1.06M140.5 323.5h3.18M153.2 323.5h2.12M127.8 321.3h1.06M133.1 321.3h1.06M135.2 321.3h1.06M140.5 321.3h1.06M142.6 321.3h2.12M146.9 321.3h1.06M151.1 321.3h3.18M124.6 320.2h1.06M126.7 320.2h1.06M128.8 320.2h1.06M138.4 320.2h2.12M142.6 320.2h2.12M153.2 320.2h4.24" stroke="#e4b6e8" stroke-width="1.17"/>
<path d="M169.1 372.5h1.06M174.4 372.5h1.06M168.1 371.4h1.06M172.3 371.4h1.06M174.4 371.4h1.06M165.9 370.3h1.06M172.3 370.3h1.06M164.9 369.2h1.06M169.1 369.2h1.06M164.9 367.0h1.06M168.1 367.0h1.06M171.2 367.0h1.06M169.1 365.9h1.06M174.4 365.9h1.06M169.1 364.9h1.06M168.1 363.8h1.06M171.2 363.8h1.06M175.5 362.7h1.06M171.2 361.6h1.06M174.4 360.5h1.06M165.9 358.3h1.06M171.2 357.2h2.12M169.1 356.1h1.06M168.1 355.1h1.06M165.9 354.0h1.06M168.1 354.0h1.06M171.2 352.9h1.06M164.9 351.8h1.06M168.1 351.8h1.06M174.4 350.7h2.12M165.9 349.6h1.06M169.1 347.4h1.06M165.9 346.4h1.06M174.4 346.4h2.12M172.3 345.3h1.06M172.3 344.2h1.06M165.9 342.0h1.06M172.3 340.9h1.06M168.1 339.8h1.06M127.8 331.1h1.06M129.9 331.1h1.06M144.7 331.1h1.06M126.7 330.0h1.06M138.4 330.0h1.06M142.6 330.0h1.06M146.9 330.0h1.06M150 330.0h1.06M154.3 330.0h1.06M125.7 327.9h1.06M129.9 327.9h1.06M133.1 327.9h1.06M141.6 327.9h2.12M144.7 327.9h1.06M156.4 327.9h1.06M124.6 326.8h1.06M127.8 326.8h1.06M131 326.8h2.12M140.5 326.8h1.06M149 326.8h1.06M129.9 324.6h1.06M133.1 324.6h1.06M135.2 324.6h1.06M139.4 324.6h1.06M143.7 324.6h1.06M125.7 323.5h2.12M139.4 323.5h1.06M151.1 323.5h2.12M155.3 323.5h1.06M124.6 321.3h2.12M131 321.3h1.06M136.3 321.3h1.06M145.8 321.3h1.06M150 321.3h1.06M134.1 320.2h1.06M145.8 320.2h1.06M150 320.2h1.06" stroke="#cc98d4" stroke-width="1.17"/>
<path d="M129.9 369.2h2.12M131 368.1h2.12M127.8 367.0h1.06M132 367.0h1.06M127.8 365.9h2.12M128.8 364.9h2.12M140.5 358.3h2.12M141.6 357.2h2.12M138.4 356.1h1.06M142.6 356.1h1.06M138.4 355.1h2.12M139.4 354.0h2.12M149 349.6h2.12M150 348.5h2.12M146.9 347.4h1.06M151.1 347.4h1.06M146.9 346.4h2.12M147.9 345.3h2.12M158.5 339.8h2.12M159.6 338.7h2.12M156.4 337.6h1.06M160.6 337.6h1.06M156.4 336.6h2.12M157.5 335.5h2.12" stroke="#6ad6d0" stroke-width="1.17"/>
<path d="M164.9 333.3h2.12M170.2 333.3h2.12M175.5 333.3h2.12M165.9 332.2h2.12M171.2 332.2h2.12M176.5 332.2h1.06M162.8 331.1h1.06M167 331.1h2.12M172.3 331.1h2.12M162.8 330.0h2.12M168.1 330.0h2.12M173.4 330.0h2.12M163.8 328.9h2.12M169.1 328.9h2.12M174.4 328.9h2.12M164.9 327.9h2.12M170.2 327.9h2.12M175.5 327.9h2.12M165.9 326.8h2.12M171.2 326.8h2.12M176.5 326.8h1.06M162.8 325.7h1.06M167 325.7h2.12M172.3 325.7h2.12M162.8 324.6h2.12M168.1 324.6h2.12M173.4 324.6h2.12M163.8 323.5h2.12M169.1 323.5h2.12M174.4 323.5h2.12M164.9 322.4h2.12M170.2 322.4h2.12M175.5 322.4h2.12M165.9 321.3h2.12M171.2 321.3h2.12M176.5 321.3h1.06M162.8 320.2h1.06M167 320.2h2.12M172.3 320.2h2.12M162.8 319.1h2.12M168.1 319.1h2.12M173.4 319.1h2.12" stroke="#7ccac6" stroke-width="1.17"/>
<path d="M167 333.3h1.06M172.3 333.3h1.06M168.1 332.2h1.06M173.4 332.2h1.06M169.1 331.1h1.06M174.4 331.1h1.06M170.2 330.0h1.06M175.5 330.0h1.06M162.8 328.9h1.06M171.2 328.9h1.06M176.5 328.9h1.06M163.8 327.9h1.06M172.3 327.9h1.06M164.9 326.8h1.06M173.4 326.8h1.06M165.9 325.7h1.06M174.4 325.7h1.06M167 324.6h1.06M175.5 324.6h1.06M162.8 323.5h1.06M168.1 323.5h1.06M176.5 323.5h1.06M163.8 322.4h1.06M169.1 322.4h1.06M164.9 321.3h1.06M170.2 321.3h1.06M165.9 320.2h1.06M171.2 320.2h1.06M167 319.1h1.06M172.3 319.1h1.06" stroke="#b8c8c8" stroke-width="1.17"/>
<rect x="114.00" y="318.60" width="63.60" height="65.30" fill="none" stroke="#777" stroke-width="0.6"/>
<defs><linearGradient id="cb181" x1="0" y1="0" x2="0" y2="1"><stop offset="0" stop-color="#52e0dc"/><stop offset="0.22" stop-color="#80e8e4"/><stop offset="0.27" stop-color="#c8f2f0"/><stop offset="0.5" stop-color="#fafafa"/><stop offset="0.7" stop-color="#f4dcf4"/><stop offset="0.74" stop-color="#eaa0ec"/><stop offset="1" stop-color="#e070e4"/></linearGradient></defs>
<rect x="181.00" y="318.60" width="3.20" height="65.30" fill="url(#cb181)" stroke="#aaa" stroke-width="0.4"/>
<text x="185.40" y="320.50" font-size="2.5" fill="#666" stroke="#666" stroke-width="0.1">1.0</text>
<text x="185.40" y="336.32" font-size="2.5" fill="#666" stroke="#666" stroke-width="0.1">0.5</text>
<text x="185.40" y="352.15" font-size="2.5" fill="#666" stroke="#666" stroke-width="0.1">0</text>
<text x="185.40" y="367.97" font-size="2.5" fill="#666" stroke="#666" stroke-width="0.1">-0.5</text>
<text x="185.40" y="383.80" font-size="2.5" fill="#666" stroke="#666" stroke-width="0.1">-1.0</text>
<line x1="116.40" y1="383.90" x2="116.40" y2="382.90" stroke="#555" stroke-width="0.4"/>
<text x="116.40" y="387.40" font-size="2.4" fill="#555" text-anchor="middle" stroke="#555" stroke-width="0.1">1</text>
<line x1="129.50" y1="383.90" x2="129.50" y2="382.90" stroke="#555" stroke-width="0.4"/>
<text x="129.50" y="387.40" font-size="2.4" fill="#555" text-anchor="middle" stroke="#555" stroke-width="0.1">50</text>
<line x1="142.20" y1="383.90" x2="142.20" y2="382.90" stroke="#555" stroke-width="0.4"/>
<text x="142.20" y="387.40" font-size="2.4" fill="#555" text-anchor="middle" stroke="#555" stroke-width="0.1">100</text>
<line x1="155.40" y1="383.90" x2="155.40" y2="382.90" stroke="#555" stroke-width="0.4"/>
<text x="155.40" y="387.40" font-size="2.4" fill="#555" text-anchor="middle" stroke="#555" stroke-width="0.1">150</text>
<line x1="168.00" y1="383.90" x2="168.00" y2="382.90" stroke="#555" stroke-width="0.4"/>
<text x="168.00" y="387.40" font-size="2.4" fill="#555" text-anchor="middle" stroke="#555" stroke-width="0.1">200</text>
<line x1="114.00" y1="381.50" x2="115.00" y2="381.50" stroke="#555" stroke-width="0.4"/>
<text x="111.60" y="381.50" font-size="2.3" fill="#555" text-anchor="middle" transform="rotate(-90 111.6 381.5)" stroke="#555" stroke-width="0.1">1</text>
<line x1="114.00" y1="368.40" x2="115.00" y2="368.40" stroke="#555" stroke-width="0.4"/>
<text x="111.60" y="368.40" font-size="2.3" fill="#555" text-anchor="middle" transform="rotate(-90 111.6 368.4)" stroke="#555" stroke-width="0.1">50</text>
<line x1="114.00" y1="355.70" x2="115.00" y2="355.70" stroke="#555" stroke-width="0.4"/>
<text x="111.60" y="355.70" font-size="2.3" fill="#555" text-anchor="middle" transform="rotate(-90 111.6 355.7)" stroke="#555" stroke-width="0.1">100</text>
<line x1="114.00" y1="342.50" x2="115.00" y2="342.50" stroke="#555" stroke-width="0.4"/>
<text x="111.60" y="342.50" font-size="2.3" fill="#555" text-anchor="middle" transform="rotate(-90 111.6 342.5)" stroke="#555" stroke-width="0.1">150</text>
<line x1="114.00" y1="329.90" x2="115.00" y2="329.90" stroke="#555" stroke-width="0.4"/>
<text x="111.60" y="329.90" font-size="2.3" fill="#555" text-anchor="middle" transform="rotate(-90 111.6 329.9)" stroke="#555" stroke-width="0.1">200</text>
<text x="149.50" y="395.20" font-size="5.3" fill="#2a2a2a" text-anchor="middle" stroke="#2a2a2a" stroke-width="0.16">Residue Number</text>
<text x="107.90" y="354.20" font-size="5.3" fill="#2a2a2a" text-anchor="middle" transform="rotate(-90 107.9 354.2)" stroke="#2a2a2a" stroke-width="0.16">Residue Number</text>
<text x="242.80" y="316.60" font-size="4.85" fill="#2a2a2a" text-anchor="middle" stroke="#2a2a2a" stroke-width="0.16">DCCM Analysis</text>
<path d="M205.5 383.4h1.09M206.6 382.3h1.09M207.7 381.2h1.09M208.8 380.1h1.09M209.9 379.0h1.09M211 377.9h1.09M212.1 376.8h1.09M213.1 375.7h1.09M214.2 374.6h4.37M237.2 374.6h1.09M239.3 374.6h1.09M257.9 374.6h1.09M214.2 373.6h3.27M241.5 373.6h1.09M255.7 373.6h1.09M214.2 372.5h3.27M255.7 372.5h1.09M214.2 371.4h1.09M217.5 371.4h2.18M239.3 371.4h3.27M254.6 371.4h1.09M257.9 371.4h1.09M217.5 370.3h2.18M239.3 370.3h2.18M219.7 369.2h1.09M235 369.2h1.09M220.8 368.1h1.09M247 368.1h1.09M221.9 367.0h1.09M223 365.9h1.09M233.9 365.9h2.18M224.1 364.9h1.09M225.2 363.8h1.09M226.2 362.7h1.09M245.9 362.7h1.09M227.3 361.6h1.09M247 361.6h2.18M228.4 360.5h1.09M231.7 360.5h1.09M229.5 359.4h1.09M231.7 359.4h1.09M230.6 358.3h1.09M228.4 357.2h2.18M231.7 357.2h1.09M232.8 356.1h1.09M223 355.1h1.09M233.9 355.1h1.09M268.8 355.1h1.09M219.7 354.0h1.09M223 354.0h1.09M235 354.0h1.09M236.1 352.9h1.09M214.2 351.8h1.09M237.2 351.8h1.09M238.2 350.7h1.09M214.2 349.6h1.09M217.5 349.6h2.18M239.3 349.6h1.09M217.5 348.5h2.18M240.4 348.5h1.09M215.3 347.4h1.09M217.5 347.4h1.09M241.5 347.4h1.09M242.6 346.4h1.09M243.7 345.3h1.09M226.2 343.1h1.09M245.9 343.1h1.09M220.8 342.0h1.09M227.3 342.0h1.09M247 342.0h1.09M227.3 340.9h1.09M248.1 340.9h1.09M249.2 339.8h1.09M250.3 338.7h1.09M251.3 337.6h1.09M252.4 336.6h1.09M253.5 335.5h1.09M217.5 334.4h1.09M254.6 334.4h1.09M215.3 333.3h2.18M255.7 333.3h1.09M256.8 332.2h1.09M214.2 331.1h1.09M217.5 331.1h1.09M257.9 331.1h1.09M259 330.0h1.09M260.1 328.9h1.09M261.2 327.9h1.09M262.3 326.8h1.09M263.4 325.7h1.09M264.4 324.6h1.09M265.5 323.5h1.09M266.6 322.4h1.09M267.7 321.3h1.09M233.9 320.2h1.09M268.8 320.2h1.09M269.9 319.1h1.09" stroke="#46e2de" stroke-width="1.17"/>
<path d="M206.6 383.4h1.09M209.9 383.4h4.37M225.2 383.4h3.27M263.4 383.4h2.18M205.5 382.3h1.09M207.7 382.3h1.09M209.9 382.3h4.37M225.2 382.3h3.27M263.4 382.3h1.09M206.6 381.2h1.09M208.8 381.2h5.46M225.2 381.2h2.18M263.4 381.2h3.27M207.7 380.1h1.09M209.9 380.1h1.09M225.2 380.1h3.27M263.4 380.1h1.09M265.5 380.1h1.09M205.5 379.0h4.37M212.1 379.0h1.09M214.2 379.0h5.46M226.2 379.0h3.27M230.6 379.0h2.18M237.2 379.0h1.09M243.7 379.0h1.09M245.9 379.0h1.09M248.1 379.0h1.09M260.1 379.0h1.09M262.3 379.0h1.09M205.5 377.9h3.27M212.1 377.9h2.18M216.4 377.9h1.09M218.6 377.9h1.09M226.2 377.9h1.09M228.4 377.9h2.18M231.7 377.9h1.09M260.1 377.9h2.18M205.5 376.8h3.27M209.9 376.8h2.18M213.1 376.8h1.09M215.3 376.8h4.37M225.2 376.8h2.18M228.4 376.8h4.37M238.2 376.8h1.09M260.1 376.8h2.18M205.5 375.7h3.27M211 375.7h2.18M214.2 375.7h3.27M218.6 375.7h1.09M225.2 375.7h1.09M232.8 375.7h1.09M261.2 375.7h1.09M209.9 374.6h1.09M213.1 374.6h1.09M227.3 374.6h5.46M233.9 374.6h3.27M245.9 374.6h3.27M266.6 374.6h1.09M209.9 373.6h1.09M212.1 373.6h2.18M228.4 373.6h1.09M230.6 373.6h6.55M245.9 373.6h3.27M267.7 373.6h1.09M209.9 372.5h4.37M226.2 372.5h1.09M228.4 372.5h8.73M245.9 372.5h2.18M266.6 372.5h2.18M209.9 371.4h1.09M212.1 371.4h1.09M225.2 371.4h1.09M229.5 371.4h3.27M233.9 371.4h3.27M245.9 371.4h3.27M267.7 371.4h1.09M209.9 370.3h4.37M219.7 370.3h1.09M225.2 370.3h1.09M228.4 370.3h1.09M235 370.3h1.09M245.9 370.3h1.09M266.6 370.3h1.09M218.6 369.2h1.09M220.8 369.2h7.64M232.8 369.2h1.09M237.2 369.2h7.64M219.7 368.1h1.09M221.9 368.1h5.46M228.4 368.1h1.09M231.7 368.1h1.09M237.2 368.1h1.09M239.3 368.1h5.46M219.7 367.0h2.18M223 367.0h7.64M237.2 367.0h7.64M219.7 365.9h3.27M224.1 365.9h3.27M237.2 365.9h4.37M242.6 365.9h2.18M219.7 364.9h4.37M225.2 364.9h1.09M227.3 364.9h1.09M232.8 364.9h1.09M237.2 364.9h3.27M241.5 364.9h3.27M205.5 363.8h4.37M212.1 363.8h2.18M217.5 363.8h7.64M226.2 363.8h1.09M228.4 363.8h3.27M238.2 363.8h2.18M242.6 363.8h2.18M205.5 362.7h7.64M216.4 362.7h1.09M219.7 362.7h4.37M225.2 362.7h1.09M227.3 362.7h2.18M230.6 362.7h2.18M237.2 362.7h4.37M242.6 362.7h2.18M205.5 361.6h2.18M208.8 361.6h2.18M214.2 361.6h1.09M219.7 361.6h1.09M221.9 361.6h1.09M224.1 361.6h1.09M226.2 361.6h1.09M228.4 361.6h1.09M230.6 361.6h1.09M238.2 361.6h1.09M242.6 361.6h1.09M209.9 360.5h3.27M214.2 360.5h3.27M218.6 360.5h1.09M220.8 360.5h2.18M225.2 360.5h3.27M255.7 360.5h1.09M259 360.5h1.09M211 359.4h2.18M214.2 359.4h1.09M216.4 359.4h2.18M221.9 359.4h1.09M225.2 359.4h1.09M255.7 359.4h1.09M262.3 359.4h1.09M209.9 358.3h1.09M212.1 358.3h1.09M214.2 358.3h4.37M225.2 358.3h3.27M254.6 358.3h1.09M257.9 358.3h1.09M209.9 357.2h3.27M214.2 357.2h4.37M220.8 357.2h1.09M226.2 357.2h1.09M232.8 357.2h1.09M213.1 356.1h1.09M215.3 356.1h2.18M219.7 356.1h1.09M224.1 356.1h1.09M231.7 356.1h1.09M233.9 356.1h1.09M214.2 355.1h4.37M232.8 355.1h1.09M235 355.1h1.09M247 355.1h1.09M260.1 355.1h1.09M214.2 354.0h5.46M233.9 354.0h1.09M236.1 354.0h1.09M245.9 354.0h3.27M260.1 354.0h1.09M214.2 352.9h4.37M235 352.9h1.09M237.2 352.9h1.09M245.9 352.9h3.27M260.1 352.9h1.09M262.3 352.9h1.09M209.9 351.8h1.09M219.7 351.8h5.46M226.2 351.8h1.09M236.1 351.8h1.09M238.2 351.8h1.09M257.9 351.8h1.09M212.1 350.7h1.09M219.7 350.7h1.09M221.9 350.7h6.55M237.2 350.7h1.09M239.3 350.7h1.09M254.6 350.7h2.18M219.7 349.6h7.64M238.2 349.6h1.09M240.4 349.6h1.09M257.9 349.6h1.09M219.7 348.5h4.37M226.2 348.5h1.09M239.3 348.5h1.09M241.5 348.5h1.09M255.7 348.5h1.09M219.7 347.4h3.27M224.1 347.4h1.09M240.4 347.4h1.09M242.6 347.4h1.09M219.7 346.4h8.73M241.5 346.4h1.09M243.7 346.4h1.09M209.9 345.3h1.09M219.7 345.3h7.64M242.6 345.3h1.09M209.9 343.1h1.09M214.2 343.1h5.46M235 343.1h2.18M247 343.1h1.09M254.6 343.1h2.18M257.9 343.1h2.18M266.6 343.1h1.09M214.2 342.0h4.37M233.9 342.0h3.27M245.9 342.0h1.09M248.1 342.0h1.09M254.6 342.0h2.18M257.9 342.0h1.09M260.1 342.0h1.09M209.9 340.9h1.09M214.2 340.9h2.18M217.5 340.9h1.09M235 340.9h2.18M247 340.9h1.09M249.2 340.9h1.09M262.3 340.9h1.09M268.8 340.9h1.09M248.1 339.8h1.09M250.3 339.8h1.09M249.2 338.7h1.09M251.3 338.7h1.09M260.1 338.7h1.09M263.4 338.7h1.09M266.6 338.7h1.09M250.3 337.6h1.09M252.4 337.6h1.09M260.1 337.6h5.46M266.6 337.6h1.09M268.8 337.6h1.09M251.3 336.6h1.09M253.5 336.6h1.09M260.1 336.6h2.18M263.4 336.6h1.09M266.6 336.6h2.18M269.9 336.6h1.09M252.4 335.5h1.09M254.6 335.5h1.09M230.6 334.4h1.09M238.2 334.4h1.09M245.9 334.4h2.18M253.5 334.4h1.09M255.7 334.4h1.09M260.1 334.4h2.18M263.4 334.4h3.27M228.4 333.3h2.18M238.2 333.3h1.09M240.4 333.3h1.09M245.9 333.3h2.18M254.6 333.3h1.09M256.8 333.3h1.09M260.1 333.3h2.18M263.4 333.3h2.18M255.7 332.2h1.09M257.9 332.2h1.09M260.1 332.2h2.18M263.4 332.2h3.27M230.6 331.1h1.09M237.2 331.1h1.09M239.3 331.1h1.09M245.9 331.1h2.18M256.8 331.1h1.09M259 331.1h1.09M228.4 330.0h1.09M245.9 330.0h1.09M257.9 330.0h1.09M260.1 330.0h1.09M265.5 330.0h1.09M209.9 328.9h3.27M233.9 328.9h3.27M247 328.9h1.09M250.3 328.9h3.27M254.6 328.9h3.27M259 328.9h1.09M261.2 328.9h1.09M267.7 328.9h2.18M211 327.9h3.27M251.3 327.9h2.18M254.6 327.9h3.27M260.1 327.9h1.09M262.3 327.9h1.09M267.7 327.9h1.09M209.9 326.8h1.09M229.5 326.8h1.09M236.1 326.8h1.09M248.1 326.8h1.09M251.3 326.8h1.09M261.2 326.8h1.09M263.4 326.8h1.09M205.5 325.7h4.37M250.3 325.7h3.27M254.6 325.7h3.27M262.3 325.7h1.09M264.4 325.7h1.09M205.5 324.6h1.09M207.7 324.6h1.09M251.3 324.6h1.09M254.6 324.6h3.27M263.4 324.6h1.09M265.5 324.6h1.09M269.9 324.6h1.09M207.7 323.5h2.18M254.6 323.5h1.09M256.8 323.5h1.09M259 323.5h1.09M264.4 323.5h1.09M266.6 323.5h1.09M214.2 322.4h1.09M216.4 322.4h1.09M218.6 322.4h1.09M245.9 322.4h1.09M250.3 322.4h3.27M265.5 322.4h1.09M267.7 322.4h1.09M215.3 321.3h3.27M252.4 321.3h1.09M260.1 321.3h2.18M266.6 321.3h1.09M268.8 321.3h1.09M248.1 320.2h1.09M251.3 320.2h1.09M260.1 320.2h1.09M267.7 320.2h1.09M269.9 320.2h1.09M252.4 319.1h1.09M264.4 319.1h1.09M268.8 319.1h1.09" stroke="#90eeeb" stroke-width="1.17"/>
<path d="M207.7 383.4h2.18M214.2 383.4h4.37M219.7 383.4h5.46M228.4 383.4h3.27M233.9 383.4h2.18M249.2 383.4h1.09M251.3 383.4h1.09M254.6 383.4h3.27M259 383.4h1.09M261.2 383.4h2.18M266.6 383.4h3.27M208.8 382.3h1.09M214.2 382.3h2.18M217.5 382.3h1.09M219.7 382.3h3.27M228.4 382.3h4.37M249.2 382.3h1.09M251.3 382.3h3.27M255.7 382.3h6.55M266.6 382.3h3.27M205.5 381.2h1.09M214.2 381.2h3.27M218.6 381.2h4.37M224.1 381.2h1.09M228.4 381.2h2.18M233.9 381.2h1.09M242.6 381.2h2.18M249.2 381.2h3.27M254.6 381.2h8.73M266.6 381.2h3.27M205.5 380.1h2.18M216.4 380.1h2.18M219.7 380.1h1.09M221.9 380.1h1.09M231.7 380.1h3.27M251.3 380.1h1.09M254.6 380.1h1.09M256.8 380.1h1.09M259 380.1h2.18M266.6 380.1h1.09M219.7 379.0h4.37M233.9 379.0h1.09M236.1 379.0h1.09M265.5 379.0h3.27M219.7 377.9h3.27M265.5 377.9h2.18M268.8 377.9h1.09M219.7 376.8h5.46M233.9 376.8h2.18M263.4 376.8h2.18M266.6 376.8h3.27M220.8 375.7h2.18M224.1 375.7h1.09M233.9 375.7h1.09M205.5 374.6h3.27M249.2 374.6h2.18M252.4 374.6h2.18M263.4 374.6h1.09M205.5 373.6h3.27M249.2 373.6h4.37M263.4 373.6h2.18M205.5 372.5h1.09M207.7 372.5h2.18M250.3 372.5h4.37M263.4 372.5h2.18M205.5 371.4h2.18M208.8 371.4h1.09M249.2 371.4h1.09M251.3 371.4h1.09M263.4 371.4h1.09M207.7 370.3h1.09M251.3 370.3h1.09M205.5 369.2h7.64M251.3 369.2h2.18M266.6 369.2h3.27M205.5 368.1h3.27M209.9 368.1h4.37M250.3 368.1h1.09M266.6 368.1h2.18M205.5 367.0h8.73M251.3 367.0h1.09M266.6 367.0h2.18M205.5 365.9h1.09M209.9 365.9h1.09M212.1 365.9h1.09M249.2 365.9h2.18M267.7 365.9h2.18M205.5 364.9h1.09M207.7 364.9h1.09M212.1 364.9h2.18M267.7 364.9h1.09M227.3 363.8h1.09M233.9 363.8h2.18M249.2 363.8h3.27M254.6 363.8h2.18M257.9 363.8h1.09M260.1 363.8h1.09M262.3 363.8h2.18M233.9 362.7h2.18M250.3 362.7h6.55M260.1 362.7h1.09M266.6 362.7h2.18M225.2 361.6h1.09M252.4 361.6h1.09M255.7 361.6h1.09M257.9 361.6h1.09M266.6 361.6h2.18M205.5 360.5h3.27M249.2 360.5h1.09M252.4 360.5h2.18M267.7 360.5h1.09M205.5 359.4h3.27M247 359.4h3.27M251.3 359.4h1.09M266.6 359.4h3.27M205.5 358.3h2.18M247 358.3h5.46M266.6 358.3h2.18M206.6 357.2h1.09M208.8 357.2h1.09M249.2 357.2h5.46M266.6 357.2h3.27M208.8 356.1h1.09M250.3 356.1h1.09M252.4 356.1h1.09M267.7 356.1h2.18M205.5 355.1h1.09M207.7 355.1h3.27M212.1 355.1h2.18M225.2 355.1h2.18M205.5 354.0h1.09M212.1 354.0h1.09M225.2 354.0h2.18M209.9 352.9h1.09M245.9 351.8h1.09M263.4 351.8h2.18M266.6 351.8h2.18M245.9 350.7h2.18M260.1 350.7h1.09M264.4 350.7h1.09M266.6 350.7h1.09M245.9 349.6h2.18M263.4 349.6h2.18M245.9 348.5h2.18M260.1 348.5h1.09M263.4 348.5h2.18M248.1 347.4h1.09M264.4 347.4h1.09M267.7 347.4h2.18M207.7 346.4h1.09M250.3 346.4h3.27M207.7 345.3h1.09M249.2 345.3h4.37M237.2 343.1h4.37M249.2 343.1h1.09M251.3 343.1h2.18M229.5 342.0h2.18M238.2 342.0h3.27M249.2 342.0h1.09M253.5 342.0h1.09M229.5 340.9h2.18M241.5 340.9h1.09M205.5 339.8h3.27M214.2 339.8h2.18M217.5 339.8h1.09M223 339.8h1.09M225.2 339.8h1.09M228.4 339.8h4.37M243.7 339.8h1.09M245.9 339.8h2.18M253.5 339.8h1.09M207.7 338.7h1.09M214.2 338.7h3.27M220.8 338.7h1.09M223 338.7h1.09M225.2 338.7h2.18M230.6 338.7h3.27M242.6 338.7h2.18M205.5 337.6h4.37M215.3 337.6h5.46M221.9 337.6h1.09M225.2 337.6h2.18M229.5 337.6h3.27M242.6 337.6h2.18M245.9 337.6h1.09M206.6 336.6h1.09M214.2 336.6h3.27M219.7 336.6h1.09M226.2 336.6h3.27M231.7 336.6h2.18M242.6 336.6h2.18M245.9 336.6h1.09M206.6 335.5h1.09M214.2 335.5h1.09M216.4 335.5h1.09M226.2 335.5h1.09M228.4 335.5h1.09M231.7 335.5h1.09M247 335.5h1.09M249.2 335.5h1.09M205.5 334.4h1.09M207.7 334.4h2.18M225.2 334.4h2.18M205.5 333.3h3.27M225.2 333.3h3.27M205.5 332.2h4.37M206.6 331.1h2.18M225.2 331.1h1.09M227.3 331.1h1.09M205.5 330.0h4.37M206.6 328.9h3.27M225.2 328.9h2.18M238.2 328.9h1.09M240.4 328.9h1.09M205.5 327.9h3.27M205.5 326.8h1.09M207.7 326.8h1.09M225.2 326.8h1.09M212.1 325.7h1.09M214.2 325.7h4.37M225.2 325.7h1.09M237.2 325.7h1.09M239.3 325.7h2.18M267.7 325.7h2.18M212.1 324.6h1.09M215.3 324.6h2.18M237.2 324.6h5.46M267.7 324.6h1.09M209.9 323.5h2.18M268.8 323.5h1.09M205.5 322.4h7.64M219.7 322.4h3.27M226.2 322.4h2.18M229.5 322.4h3.27M237.2 322.4h2.18M205.5 321.3h3.27M209.9 321.3h1.09M212.1 321.3h1.09M219.7 321.3h5.46M226.2 321.3h7.64M237.2 321.3h1.09M241.5 321.3h1.09M263.4 321.3h2.18M205.5 320.2h3.27M211 320.2h2.18M219.7 320.2h1.09M223 320.2h1.09M229.5 320.2h1.09M231.7 320.2h2.18M241.5 320.2h1.09M263.4 320.2h1.09M265.5 320.2h1.09" stroke="#e881e9" stroke-width="1.17"/>
<path d="M218.6 383.4h1.09M253.5 383.4h1.09M265.5 383.4h1.09M269.9 383.4h1.09M224.1 382.3h1.09M232.8 382.3h1.09M262.3 382.3h1.09M227.3 381.2h1.09M232.8 381.2h1.09M236.1 381.2h1.09M253.5 381.2h1.09M211 380.1h3.27M220.8 380.1h1.09M229.5 380.1h2.18M237.2 380.1h1.09M241.5 380.1h1.09M257.9 380.1h1.09M262.3 380.1h1.09M264.4 380.1h1.09M224.1 379.0h1.09M253.5 379.0h1.09M268.8 379.0h1.09M208.8 377.9h1.09M248.1 377.9h1.09M262.3 377.9h1.09M269.9 377.9h1.09M208.8 376.8h1.09M232.8 376.8h1.09M248.1 376.8h1.09M269.9 376.8h1.09M208.8 375.7h1.09M219.7 375.7h1.09M226.2 375.7h1.09M231.7 375.7h1.09M236.1 375.7h1.09M238.2 375.7h1.09M241.5 375.7h1.09M251.3 375.7h1.09M253.5 375.7h1.09M256.8 375.7h2.18M260.1 375.7h1.09M264.4 375.7h1.09M266.6 375.7h2.18M218.6 374.6h1.09M232.8 374.6h1.09M227.3 373.6h1.09M259 373.6h1.09M248.1 372.5h1.09M224.1 371.4h1.09M227.3 371.4h1.09M232.8 371.4h1.09M253.5 371.4h1.09M268.8 371.4h1.09M205.5 370.3h1.09M214.2 370.3h1.09M221.9 370.3h1.09M229.5 370.3h1.09M233.9 370.3h1.09M236.1 370.3h2.18M252.4 370.3h2.18M267.7 370.3h1.09M213.1 369.2h1.09M236.1 369.2h1.09M253.5 369.2h1.09M208.8 368.1h1.09M248.1 368.1h1.09M218.6 367.0h1.09M232.8 367.0h1.09M259 367.0h1.09M268.8 367.0h1.09M236.1 365.9h1.09M241.5 365.9h1.09M248.1 365.9h1.09M262.3 365.9h1.09M206.6 364.9h1.09M209.9 364.9h1.09M217.5 364.9h1.09M226.2 364.9h1.09M263.4 364.9h2.18M232.8 363.8h1.09M248.1 363.8h1.09M213.1 362.7h1.09M224.1 362.7h1.09M241.5 362.7h1.09M262.3 362.7h1.09M207.7 361.6h1.09M215.3 361.6h1.09M217.5 361.6h1.09M231.7 361.6h1.09M233.9 361.6h2.18M240.4 361.6h1.09M243.7 361.6h1.09M251.3 361.6h1.09M268.8 361.6h1.09M262.3 360.5h1.09M208.8 359.4h1.09M218.6 359.4h1.09M259 359.4h1.09M208.8 358.3h1.09M253.5 358.3h1.09M213.1 357.2h1.09M227.3 357.2h1.09M236.1 357.2h1.09M259 357.2h1.09M262.3 357.2h1.09M206.6 356.1h2.18M212.1 356.1h1.09M214.2 356.1h1.09M217.5 356.1h1.09M221.9 356.1h1.09M225.2 356.1h1.09M243.7 356.1h1.09M248.1 356.1h2.18M264.4 356.1h1.09M218.6 355.1h1.09M227.3 355.1h1.09M227.3 354.0h1.09M262.3 354.0h1.09M207.7 352.9h1.09M213.1 352.9h1.09M218.6 352.9h2.18M223 352.9h1.09M231.7 352.9h1.09M238.2 352.9h1.09M251.3 352.9h2.18M264.4 352.9h1.09M208.8 351.8h1.09M218.6 351.8h1.09M241.5 351.8h1.09M248.1 351.8h1.09M259 351.8h1.09M262.3 351.8h1.09M213.1 350.7h1.09M236.1 350.7h1.09M248.1 350.7h1.09M253.5 350.7h1.09M248.1 349.6h1.09M262.3 349.6h1.09M227.3 348.5h1.09M208.8 347.4h1.09M213.1 347.4h1.09M223 347.4h1.09M226.2 347.4h1.09M237.2 347.4h1.09M247 347.4h1.09M254.6 347.4h1.09M259 347.4h1.09M227.3 345.3h1.09M232.8 345.3h1.09M253.5 345.3h1.09M248.1 343.1h1.09M241.5 342.0h1.09M259 342.0h1.09M211 340.9h2.18M216.4 340.9h1.09M220.8 340.9h1.09M223 340.9h1.09M225.2 340.9h1.09M232.8 340.9h1.09M237.2 340.9h3.27M245.9 340.9h1.09M252.4 340.9h1.09M254.6 340.9h2.18M264.4 340.9h1.09M266.6 340.9h2.18M232.8 339.8h1.09M262.3 338.7h1.09M213.1 337.6h1.09M227.3 337.6h1.09M236.1 337.6h1.09M253.5 337.6h1.09M265.5 337.6h1.09M218.6 336.6h1.09M236.1 336.6h1.09M248.1 336.6h1.09M205.5 335.5h1.09M207.7 335.5h1.09M209.9 335.5h1.09M213.1 335.5h1.09M217.5 335.5h3.27M230.6 335.5h1.09M238.2 335.5h1.09M243.7 335.5h1.09M251.3 335.5h1.09M241.5 334.4h1.09M248.1 334.4h1.09M268.8 334.4h1.09M248.1 333.3h1.09M213.1 332.2h1.09M269.9 332.2h1.09M208.8 331.1h1.09M213.1 331.1h1.09M215.3 330.0h1.09M221.9 330.0h1.09M229.5 330.0h1.09M231.7 330.0h1.09M237.2 330.0h1.09M241.5 330.0h1.09M247 330.0h1.09M261.2 330.0h1.09M263.4 330.0h2.18M213.1 328.9h1.09M269.9 328.9h1.09M259 327.9h1.09M268.8 327.9h1.09M206.6 326.8h1.09M208.8 326.8h1.09M211 326.8h1.09M223 326.8h1.09M226.2 326.8h1.09M228.4 326.8h1.09M231.7 326.8h1.09M235 326.8h1.09M237.2 326.8h1.09M239.3 326.8h1.09M250.3 326.8h1.09M224.1 325.7h1.09M259 325.7h1.09M269.9 325.7h1.09M208.8 324.6h1.09M213.1 324.6h1.09M224.1 324.6h1.09M232.8 324.6h1.09M236.1 324.6h1.09M248.1 324.6h1.09M259 324.6h1.09M268.8 324.6h1.09M205.5 323.5h1.09M251.3 323.5h1.09M269.9 323.5h1.09M213.1 322.4h1.09M248.1 322.4h1.09M213.1 321.3h1.09M218.6 321.3h1.09M248.1 321.3h1.09M209.9 320.2h1.09M217.5 320.2h1.09M221.9 320.2h1.09M227.3 320.2h1.09M254.6 320.2h1.09M261.2 320.2h1.09M264.4 320.2h1.09M205.5 319.1h1.09M211 319.1h2.18M256.8 319.1h1.09M260.1 319.1h1.09M263.4 319.1h1.09M265.5 319.1h1.09" stroke="#b8b0c4" stroke-width="1.17"/>
<path d="M231.7 383.4h1.09M237.2 383.4h7.64M257.9 383.4h1.09M216.4 382.3h1.09M218.6 382.3h1.09M237.2 382.3h7.64M254.6 382.3h1.09M217.5 381.2h1.09M230.6 381.2h2.18M237.2 381.2h5.46M269.9 381.2h1.09M218.6 380.1h1.09M238.2 380.1h3.27M243.7 380.1h1.09M269.9 380.1h1.09M235 379.0h1.09M249.2 379.0h2.18M252.4 379.0h1.09M263.4 379.0h2.18M223 377.9h1.09M233.9 377.9h2.18M249.2 377.9h5.46M263.4 377.9h2.18M236.1 376.8h1.09M249.2 376.8h2.18M252.4 376.8h2.18M249.2 375.7h2.18M265.5 375.7h1.09M260.1 374.6h1.09M264.4 374.6h1.09M267.7 374.6h1.09M262.3 373.6h1.09M266.6 373.6h1.09M268.8 373.6h1.09M206.6 372.5h1.09M257.9 372.5h1.09M268.8 372.5h1.09M207.7 371.4h1.09M259 371.4h2.18M264.4 371.4h1.09M266.6 371.4h1.09M206.6 370.3h1.09M208.8 370.3h1.09M257.9 370.3h1.09M260.1 370.3h1.09M262.3 370.3h3.27M268.8 370.3h1.09M249.2 369.2h2.18M254.6 369.2h2.18M257.9 369.2h3.27M262.3 369.2h3.27M249.2 368.1h1.09M251.3 368.1h3.27M255.7 368.1h1.09M257.9 368.1h3.27M262.3 368.1h2.18M268.8 368.1h1.09M249.2 367.0h2.18M252.4 367.0h1.09M254.6 367.0h2.18M257.9 367.0h1.09M260.1 367.0h1.09M262.3 367.0h1.09M211 365.9h1.09M251.3 365.9h2.18M255.7 365.9h1.09M257.9 365.9h3.27M264.4 365.9h1.09M266.6 365.9h1.09M250.3 364.9h1.09M252.4 364.9h3.27M257.9 364.9h3.27M262.3 364.9h1.09M266.6 364.9h1.09M268.8 364.9h1.09M252.4 363.8h1.09M264.4 363.8h1.09M268.8 363.8h1.09M249.2 362.7h1.09M263.4 362.7h2.18M250.3 361.6h1.09M260.1 361.6h1.09M262.3 361.6h3.27M233.9 360.5h3.27M242.6 360.5h2.18M245.9 360.5h3.27M250.3 360.5h2.18M260.1 360.5h1.09M266.6 360.5h1.09M233.9 359.4h3.27M242.6 359.4h2.18M245.9 359.4h1.09M250.3 359.4h1.09M252.4 359.4h1.09M257.9 359.4h1.09M207.7 358.3h1.09M233.9 358.3h3.27M242.6 358.3h2.18M245.9 358.3h1.09M252.4 358.3h1.09M260.1 358.3h1.09M262.3 358.3h1.09M268.8 358.3h1.09M205.5 357.2h1.09M207.7 357.2h1.09M233.9 357.2h2.18M242.6 357.2h2.18M245.9 357.2h2.18M257.9 357.2h1.09M260.1 357.2h1.09M236.1 356.1h1.09M242.6 356.1h1.09M245.9 356.1h2.18M257.9 356.1h2.18M262.3 356.1h1.09M266.6 356.1h1.09M211 355.1h1.09M228.4 355.1h4.37M237.2 355.1h4.37M249.2 355.1h1.09M251.3 355.1h2.18M254.6 355.1h2.18M257.9 355.1h2.18M262.3 355.1h3.27M266.6 355.1h1.09M209.9 354.0h2.18M228.4 354.0h4.37M237.2 354.0h4.37M249.2 354.0h1.09M253.5 354.0h3.27M257.9 354.0h2.18M263.4 354.0h2.18M266.6 354.0h1.09M268.8 354.0h1.09M212.1 352.9h1.09M228.4 352.9h3.27M232.8 352.9h1.09M239.3 352.9h3.27M249.2 352.9h2.18M254.6 352.9h2.18M257.9 352.9h2.18M263.4 352.9h1.09M266.6 352.9h1.09M205.5 351.8h3.27M233.9 351.8h2.18M239.3 351.8h2.18M247 351.8h1.09M260.1 351.8h1.09M268.8 351.8h1.09M205.5 350.7h4.37M233.9 350.7h2.18M240.4 350.7h1.09M257.9 350.7h2.18M262.3 350.7h2.18M267.7 350.7h2.18M205.5 349.6h4.37M233.9 349.6h4.37M241.5 349.6h1.09M259 349.6h2.18M266.6 349.6h3.27M205.5 348.5h4.37M233.9 348.5h5.46M248.1 348.5h1.09M257.9 348.5h2.18M266.6 348.5h3.27M205.5 347.4h3.27M236.1 347.4h1.09M239.3 347.4h1.09M245.9 347.4h1.09M257.9 347.4h1.09M260.1 347.4h1.09M262.3 347.4h1.09M205.5 346.4h2.18M228.4 346.4h5.46M245.9 346.4h4.37M260.1 346.4h1.09M263.4 346.4h2.18M267.7 346.4h2.18M205.5 345.3h2.18M208.8 345.3h1.09M228.4 345.3h4.37M245.9 345.3h2.18M260.1 345.3h1.09M262.3 345.3h3.27M228.4 343.1h5.46M241.5 343.1h3.27M250.3 343.1h1.09M260.1 343.1h1.09M262.3 343.1h2.18M267.7 343.1h2.18M228.4 342.0h1.09M231.7 342.0h2.18M237.2 342.0h1.09M242.6 342.0h2.18M250.3 342.0h3.27M263.4 342.0h1.09M267.7 342.0h1.09M228.4 340.9h1.09M240.4 340.9h1.09M242.6 340.9h1.09M251.3 340.9h1.09M257.9 340.9h1.09M260.1 340.9h1.09M209.9 339.8h4.37M219.7 339.8h3.27M226.2 339.8h1.09M233.9 339.8h3.27M242.6 339.8h1.09M251.3 339.8h2.18M257.9 339.8h1.09M260.1 339.8h1.09M266.6 339.8h3.27M209.9 338.7h4.37M219.7 338.7h1.09M221.9 338.7h1.09M224.1 338.7h1.09M227.3 338.7h3.27M236.1 338.7h1.09M245.9 338.7h2.18M252.4 338.7h2.18M257.9 338.7h1.09M264.4 338.7h1.09M267.7 338.7h2.18M211 337.6h1.09M220.8 337.6h1.09M223 337.6h1.09M228.4 337.6h1.09M233.9 337.6h1.09M247 337.6h3.27M209.9 336.6h3.27M220.8 336.6h5.46M229.5 336.6h2.18M233.9 336.6h1.09M247 336.6h1.09M249.2 336.6h2.18M211 335.5h2.18M220.8 335.5h1.09M224.1 335.5h1.09M235 335.5h1.09M250.3 335.5h1.09M206.6 334.4h1.09M219.7 334.4h1.09M221.9 334.4h1.09M224.1 334.4h1.09M233.9 334.4h3.27M219.7 333.3h4.37M233.9 333.3h3.27M259 333.3h1.09M259 332.2h1.09M205.5 331.1h1.09M216.4 331.1h1.09M218.6 331.1h6.55M229.5 331.1h1.09M231.7 331.1h5.46M238.2 331.1h1.09M240.4 331.1h2.18M248.1 331.1h3.27M217.5 330.0h1.09M219.7 330.0h2.18M223 330.0h2.18M232.8 330.0h4.37M238.2 330.0h3.27M255.7 330.0h2.18M214.2 328.9h1.09M217.5 328.9h7.64M227.3 328.9h2.18M230.6 328.9h2.18M237.2 328.9h1.09M239.3 328.9h1.09M241.5 328.9h3.27M245.9 328.9h1.09M248.1 328.9h2.18M215.3 326.8h1.09M218.6 326.8h4.37M224.1 326.8h1.09M227.3 326.8h1.09M230.6 326.8h1.09M232.8 326.8h2.18M238.2 326.8h1.09M241.5 326.8h1.09M243.7 326.8h1.09M245.9 326.8h1.09M209.9 325.7h2.18M218.6 325.7h3.27M226.2 325.7h2.18M233.9 325.7h3.27M238.2 325.7h1.09M242.6 325.7h2.18M245.9 325.7h2.18M209.9 324.6h2.18M214.2 324.6h1.09M217.5 324.6h3.27M223 324.6h1.09M225.2 324.6h3.27M233.9 324.6h2.18M242.6 324.6h2.18M250.3 324.6h1.09M213.1 323.5h1.09M215.3 322.4h1.09M217.5 322.4h1.09M223 322.4h2.18M228.4 322.4h1.09M232.8 322.4h4.37M239.3 322.4h2.18M249.2 322.4h1.09M214.2 321.3h1.09M238.2 321.3h3.27M242.6 321.3h1.09M245.9 321.3h2.18M249.2 321.3h2.18M269.9 321.3h1.09M215.3 320.2h2.18M218.6 320.2h1.09M220.8 320.2h1.09M224.1 320.2h2.18M230.6 320.2h1.09M235 320.2h1.09M237.2 320.2h4.37M242.6 320.2h1.09M245.9 320.2h1.09M249.2 320.2h2.18M207.7 319.1h2.18M267.7 319.1h1.09" stroke="#eea1ef" stroke-width="1.17"/>
<path d="M236.1 383.4h1.09M250.3 383.4h1.09M252.4 383.4h1.09M260.1 383.4h1.09M223 382.3h1.09M233.9 382.3h3.27M250.3 382.3h1.09M223 381.2h1.09M235 381.2h1.09M252.4 381.2h1.09M223 380.1h2.18M250.3 380.1h1.09M252.4 380.1h2.18M267.7 380.1h1.09M267.7 377.9h1.09M251.3 374.6h1.09M253.5 373.6h1.09M249.2 372.5h1.09M250.3 371.4h1.09M252.4 371.4h1.09M249.2 370.3h1.09M206.6 365.9h3.27M208.8 364.9h1.09M259 363.8h1.09M266.6 363.8h2.18M257.9 362.7h1.09M268.8 362.7h1.09M236.1 361.6h1.09M206.6 355.1h1.09M206.6 354.0h2.18M205.5 352.9h2.18M227.3 352.9h1.09M216.4 339.8h1.09M218.6 339.8h1.09M205.5 338.7h2.18M208.8 338.7h1.09M217.5 338.7h1.09M214.2 337.6h1.09M205.5 336.6h1.09M207.7 336.6h2.18M217.5 336.6h1.09M208.8 335.5h1.09M215.3 335.5h1.09M226.2 331.1h1.09M225.2 330.0h1.09M205.5 328.9h1.09M225.2 322.4h1.09M208.8 321.3h1.09M211 321.3h1.09M225.2 321.3h1.09M226.2 320.2h1.09" stroke="#e262e4" stroke-width="1.17"/>
<path d="M245.9 383.4h3.27M245.9 382.3h3.27M245.9 381.2h2.18M245.9 380.1h3.27M255.7 379.0h2.18M255.7 377.9h1.09M257.9 377.9h1.09M254.6 376.8h5.46M254.6 375.7h2.18M259 375.7h1.09M249.2 351.8h5.46M249.2 350.7h4.37M249.2 349.6h2.18M252.4 349.6h1.09M249.2 348.5h2.18M252.4 348.5h1.09M249.2 347.4h2.18M262.3 346.4h1.09M205.5 343.1h4.37M205.5 342.0h4.37M205.5 340.9h2.18M208.8 340.9h1.09M237.2 339.8h5.46M254.6 339.8h2.18M237.2 338.7h5.46M254.6 338.7h2.18M259 338.7h1.09M237.2 337.6h2.18M254.6 337.6h1.09M256.8 337.6h1.09M259 337.6h1.09M237.2 336.6h4.37M254.6 336.6h2.18M257.9 336.6h2.18M237.2 335.5h1.09M212.1 334.4h2.18M249.2 334.4h4.37M209.9 333.3h4.37M249.2 333.3h2.18M252.4 333.3h1.09M269.9 333.3h1.09M209.9 332.2h1.09M212.1 332.2h1.09M251.3 332.2h1.09M211 331.1h2.18M252.4 331.1h1.09M212.1 330.0h2.18M250.3 330.0h3.27M269.9 330.0h1.09M242.6 326.8h1.09M255.7 319.1h1.09M259 319.1h1.09" stroke="#d1f8f7" stroke-width="1.17"/>
<path d="M264.4 382.3h1.09M229.5 379.0h1.09M232.8 379.0h1.09M254.6 379.0h1.09M257.9 379.0h1.09M269.9 379.0h1.09M230.6 377.9h1.09M254.6 377.9h1.09M256.8 377.9h1.09M269.9 375.7h1.09M238.2 368.1h1.09M231.7 363.8h1.09M229.5 362.7h1.09M232.8 362.7h1.09M232.8 361.6h1.09M209.9 359.4h1.09M226.2 359.4h1.09M211 358.3h1.09M225.2 357.2h1.09M209.9 356.1h1.09M226.2 356.1h2.18M220.8 350.7h1.09M251.3 349.6h1.09M253.5 349.6h1.09M251.3 348.5h1.09M253.5 347.4h1.09M259 339.8h1.09M239.3 337.6h2.18M255.7 337.6h1.09M257.9 337.6h1.09M267.7 337.6h1.09M256.8 336.6h1.09M268.8 336.6h1.09M239.3 335.5h1.09M241.5 335.5h1.09M209.9 334.4h2.18M269.9 334.4h1.09M251.3 333.3h1.09M211 332.2h1.09M252.4 332.2h1.09M209.9 331.1h1.09M251.3 331.1h1.09M249.2 330.0h1.09M206.6 324.6h1.09M251.3 321.3h1.09M252.4 320.2h1.09M209.9 319.1h1.09M213.1 319.1h1.09M254.6 319.1h1.09" stroke="#b5f3f2" stroke-width="1.17"/>
<path d="M211 379.0h1.09M225.2 379.0h1.09M238.2 379.0h5.46M247 379.0h1.09M261.2 379.0h1.09M209.9 377.9h1.09M214.2 377.9h2.18M217.5 377.9h1.09M225.2 377.9h1.09M227.3 377.9h1.09M237.2 377.9h7.64M245.9 377.9h2.18M214.2 376.8h1.09M237.2 376.8h1.09M239.3 376.8h5.46M245.9 376.8h2.18M262.3 376.8h1.09M217.5 375.7h1.09M227.3 375.7h1.09M237.2 375.7h1.09M239.3 375.7h1.09M242.6 375.7h2.18M245.9 375.7h2.18M262.3 375.7h1.09M211 374.6h2.18M225.2 374.6h2.18M238.2 374.6h1.09M240.4 374.6h1.09M242.6 374.6h2.18M254.6 374.6h2.18M268.8 374.6h1.09M211 373.6h1.09M217.5 373.6h2.18M225.2 373.6h2.18M229.5 373.6h1.09M237.2 373.6h4.37M242.6 373.6h2.18M254.6 373.6h1.09M257.9 373.6h1.09M217.5 372.5h2.18M225.2 372.5h1.09M237.2 372.5h7.64M254.6 372.5h1.09M259 372.5h1.09M211 371.4h1.09M213.1 371.4h1.09M215.3 371.4h2.18M226.2 371.4h1.09M228.4 371.4h1.09M237.2 371.4h2.18M242.6 371.4h2.18M255.7 371.4h1.09M215.3 370.3h2.18M227.3 370.3h1.09M232.8 370.3h1.09M241.5 370.3h3.27M254.6 370.3h1.09M259 370.3h1.09M228.4 369.2h4.37M233.9 369.2h1.09M245.9 369.2h3.27M229.5 368.1h2.18M233.9 368.1h2.18M245.9 368.1h1.09M230.6 367.0h2.18M233.9 367.0h2.18M245.9 367.0h3.27M228.4 365.9h4.37M245.9 365.9h2.18M231.7 364.9h1.09M235 364.9h2.18M245.9 364.9h3.27M209.9 363.8h2.18M214.2 363.8h3.27M237.2 363.8h1.09M240.4 363.8h2.18M245.9 363.8h2.18M214.2 362.7h2.18M217.5 362.7h1.09M247 362.7h2.18M211 361.6h1.09M213.1 361.6h1.09M218.6 361.6h1.09M239.3 361.6h1.09M241.5 361.6h1.09M245.9 361.6h1.09M217.5 360.5h1.09M219.7 360.5h1.09M223 360.5h1.09M229.5 360.5h2.18M232.8 360.5h1.09M237.2 360.5h5.46M254.6 360.5h1.09M257.9 360.5h1.09M215.3 359.4h1.09M219.7 359.4h2.18M223 359.4h1.09M228.4 359.4h1.09M230.6 359.4h1.09M232.8 359.4h1.09M237.2 359.4h5.46M254.6 359.4h1.09M260.1 359.4h1.09M219.7 358.3h4.37M228.4 358.3h2.18M231.7 358.3h2.18M237.2 358.3h5.46M255.7 358.3h1.09M259 358.3h1.09M219.7 357.2h1.09M221.9 357.2h3.27M230.6 357.2h1.09M237.2 357.2h4.37M254.6 357.2h2.18M218.6 356.1h1.09M228.4 356.1h3.27M239.3 356.1h3.27M255.7 356.1h1.09M219.7 355.1h3.27M245.9 355.1h1.09M267.7 355.1h1.09M220.8 354.0h2.18M224.1 354.0h1.09M267.7 354.0h1.09M224.1 352.9h1.09M267.7 352.9h2.18M211 351.8h3.27M215.3 351.8h3.27M225.2 351.8h1.09M228.4 351.8h4.37M254.6 351.8h2.18M209.9 350.7h2.18M214.2 350.7h4.37M228.4 350.7h4.37M209.9 349.6h4.37M215.3 349.6h2.18M227.3 349.6h6.55M254.6 349.6h2.18M209.9 348.5h3.27M214.2 348.5h3.27M225.2 348.5h1.09M228.4 348.5h5.46M254.6 348.5h1.09M209.9 347.4h3.27M216.4 347.4h1.09M218.6 347.4h1.09M225.2 347.4h1.09M227.3 347.4h4.37M232.8 347.4h1.09M255.7 347.4h1.09M209.9 346.4h9.82M211 345.3h8.73M211 343.1h3.27M219.7 343.1h6.55M227.3 343.1h1.09M233.9 343.1h1.09M209.9 342.0h4.37M219.7 342.0h1.09M221.9 342.0h5.46M266.6 342.0h1.09M268.8 342.0h1.09M219.7 340.9h1.09M221.9 340.9h1.09M224.1 340.9h1.09M226.2 340.9h1.09M263.4 339.8h2.18M264.4 336.6h1.09M214.2 334.4h3.27M218.6 334.4h1.09M228.4 334.4h2.18M231.7 334.4h1.09M237.2 334.4h1.09M239.3 334.4h2.18M214.2 333.3h1.09M217.5 333.3h1.09M230.6 333.3h3.27M237.2 333.3h1.09M239.3 333.3h1.09M241.5 333.3h1.09M215.3 331.1h1.09M228.4 331.1h1.09M216.4 330.0h1.09M218.6 330.0h1.09M230.6 330.0h1.09M229.5 328.9h1.09M209.9 327.9h1.09M212.1 326.8h2.18M249.2 325.7h1.09M265.5 325.7h1.09M249.2 324.6h1.09M252.4 324.6h1.09M263.4 323.5h1.09M247 322.4h1.09M233.9 321.3h3.27M214.2 320.2h1.09M236.1 320.2h1.09M247 320.2h1.09" stroke="#6be8e5" stroke-width="1.17"/>
<path d="M251.3 379.0h1.09M251.3 376.8h1.09M252.4 375.7h1.09M254.6 368.1h1.09M264.4 368.1h1.09M263.4 367.0h2.18M254.6 365.9h1.09M263.4 365.9h1.09M263.4 360.5h1.09M264.4 359.4h1.09M263.4 358.3h1.09M250.3 355.1h1.09M250.3 354.0h3.27M253.5 352.9h1.09M242.6 351.8h2.18M242.6 350.7h2.18M237.2 346.4h2.18M255.7 346.4h1.09M237.2 345.3h2.18M248.1 345.3h1.09M243.7 340.9h1.09M233.9 338.7h2.18M209.9 337.6h1.09M212.1 337.6h1.09M235 337.6h1.09M213.1 336.6h1.09M235 336.6h1.09M236.1 335.5h1.09M220.8 334.4h1.09M223 334.4h1.09M256.8 334.4h1.09M259 334.4h1.09M242.6 333.3h1.09M254.6 332.2h1.09M254.6 330.0h1.09M221.9 325.7h2.18M228.4 325.7h1.09M230.6 325.7h1.09M220.8 324.6h2.18M229.5 324.6h1.09" stroke="#f3c0f4" stroke-width="1.17"/>
<path d="M264.4 360.5h1.09M263.4 359.4h1.09M264.4 358.3h1.09M263.4 357.2h2.18M263.4 356.1h1.09M242.6 349.6h2.18M242.6 348.5h2.18M239.3 346.4h2.18M254.6 346.4h1.09M257.9 346.4h2.18M239.3 345.3h2.18M254.6 345.3h2.18M257.9 345.3h2.18M242.6 334.4h2.18M243.7 333.3h1.09M242.6 331.1h2.18M242.6 330.0h2.18M229.5 325.7h1.09M231.7 325.7h2.18M228.4 324.6h1.09M230.6 324.6h2.18" stroke="#f8d8f8" stroke-width="1.17"/>
<rect x="205.50" y="318.60" width="65.50" height="65.30" fill="none" stroke="#777" stroke-width="0.6"/>
<defs><linearGradient id="cb274" x1="0" y1="0" x2="0" y2="1"><stop offset="0" stop-color="#52e0dc"/><stop offset="0.22" stop-color="#80e8e4"/><stop offset="0.27" stop-color="#c8f2f0"/><stop offset="0.5" stop-color="#fafafa"/><stop offset="0.7" stop-color="#f4dcf4"/><stop offset="0.74" stop-color="#eaa0ec"/><stop offset="1" stop-color="#e070e4"/></linearGradient></defs>
<rect x="274.40" y="318.60" width="3.60" height="65.30" fill="url(#cb274)" stroke="#aaa" stroke-width="0.4"/>
<text x="279.20" y="320.50" font-size="2.5" fill="#666" stroke="#666" stroke-width="0.1">1.0</text>
<text x="279.20" y="336.32" font-size="2.5" fill="#666" stroke="#666" stroke-width="0.1">0.5</text>
<text x="279.20" y="352.15" font-size="2.5" fill="#666" stroke="#666" stroke-width="0.1">0</text>
<text x="279.20" y="367.97" font-size="2.5" fill="#666" stroke="#666" stroke-width="0.1">-0.5</text>
<text x="279.20" y="383.80" font-size="2.5" fill="#666" stroke="#666" stroke-width="0.1">-1.0</text>
<line x1="206.40" y1="383.90" x2="206.40" y2="382.90" stroke="#555" stroke-width="0.4"/>
<text x="206.40" y="387.40" font-size="2.4" fill="#555" text-anchor="middle" stroke="#555" stroke-width="0.1">1</text>
<line x1="220.30" y1="383.90" x2="220.30" y2="382.90" stroke="#555" stroke-width="0.4"/>
<text x="220.30" y="387.40" font-size="2.4" fill="#555" text-anchor="middle" stroke="#555" stroke-width="0.1">50</text>
<line x1="232.20" y1="383.90" x2="232.20" y2="382.90" stroke="#555" stroke-width="0.4"/>
<text x="232.20" y="387.40" font-size="2.4" fill="#555" text-anchor="middle" stroke="#555" stroke-width="0.1">100</text>
<line x1="245.40" y1="383.90" x2="245.40" y2="382.90" stroke="#555" stroke-width="0.4"/>
<text x="245.40" y="387.40" font-size="2.4" fill="#555" text-anchor="middle" stroke="#555" stroke-width="0.1">150</text>
<line x1="258.10" y1="383.90" x2="258.10" y2="382.90" stroke="#555" stroke-width="0.4"/>
<text x="258.10" y="387.40" font-size="2.4" fill="#555" text-anchor="middle" stroke="#555" stroke-width="0.1">200</text>
<line x1="205.50" y1="383.00" x2="206.50" y2="383.00" stroke="#555" stroke-width="0.4"/>
<text x="203.10" y="383.00" font-size="2.3" fill="#555" text-anchor="middle" transform="rotate(-90 203.1 383)" stroke="#555" stroke-width="0.1">1</text>
<line x1="205.50" y1="369.10" x2="206.50" y2="369.10" stroke="#555" stroke-width="0.4"/>
<text x="203.10" y="369.10" font-size="2.3" fill="#555" text-anchor="middle" transform="rotate(-90 203.1 369.1)" stroke="#555" stroke-width="0.1">50</text>
<line x1="205.50" y1="357.20" x2="206.50" y2="357.20" stroke="#555" stroke-width="0.4"/>
<text x="203.10" y="357.20" font-size="2.3" fill="#555" text-anchor="middle" transform="rotate(-90 203.1 357.2)" stroke="#555" stroke-width="0.1">100</text>
<line x1="205.50" y1="344.00" x2="206.50" y2="344.00" stroke="#555" stroke-width="0.4"/>
<text x="203.10" y="344.00" font-size="2.3" fill="#555" text-anchor="middle" transform="rotate(-90 203.1 344)" stroke="#555" stroke-width="0.1">150</text>
<line x1="205.50" y1="331.30" x2="206.50" y2="331.30" stroke="#555" stroke-width="0.4"/>
<text x="203.10" y="331.30" font-size="2.3" fill="#555" text-anchor="middle" transform="rotate(-90 203.1 331.3)" stroke="#555" stroke-width="0.1">200</text>
<text x="240.80" y="394.50" font-size="5.3" fill="#2a2a2a" text-anchor="middle" stroke="#2a2a2a" stroke-width="0.16">Residue Number</text>
<text x="199.90" y="352.20" font-size="5.3" fill="#2a2a2a" text-anchor="middle" transform="rotate(-90 199.9 352.2)" stroke="#2a2a2a" stroke-width="0.16">Residue Number</text>
<text x="333.40" y="316.10" font-size="4.85" fill="#2a2a2a" text-anchor="middle" stroke="#2a2a2a" stroke-width="0.16">DCCM Analysis</text>
<path d="M296.8 383.9h1.10M356.4 383.9h3.31M297.9 382.8h1.10M356.4 382.8h3.31M299 381.7h1.10M356.4 381.7h1.10M358.6 381.7h1.10M300.1 380.6h1.10M358.6 380.6h1.10M301.2 379.5h1.10M302.3 378.4h1.10M303.4 377.3h1.10M304.5 376.2h1.10M305.6 375.1h1.10M306.7 374.0h1.10M307.8 373.0h1.10M308.9 371.9h1.10M310 370.8h1.10M311.1 369.7h1.10M345.3 369.7h1.10M312.2 368.6h1.10M346.4 368.6h1.10M313.4 367.5h1.10M314.5 366.4h1.10M347.6 366.4h1.10M315.6 365.3h1.10M316.7 364.2h1.10M317.8 363.1h1.10M318.9 362.1h1.10M320 361.0h1.10M321.1 359.9h1.10M322.2 358.8h1.10M323.3 357.7h1.10M324.4 356.6h1.10M350.9 356.6h1.10M325.5 355.5h1.10M326.6 354.4h1.10M327.7 353.3h1.10M328.8 352.2h1.10M329.9 351.2h1.10M331 350.1h1.10M332.1 349.0h1.10M333.2 347.9h1.10M334.3 346.8h1.10M335.4 345.7h1.10M336.5 344.6h1.10M337.6 343.5h1.10M338.7 342.4h1.10M339.8 341.3h1.10M340.9 340.3h1.10M342 339.2h1.10M343.1 338.1h1.10M344.2 337.0h1.10M311.1 335.9h1.10M345.3 335.9h1.10M312.2 334.8h1.10M346.4 334.8h1.10M314.5 333.7h1.10M347.6 333.7h1.10M348.7 332.6h1.10M349.8 331.5h1.10M324.4 330.4h1.10M350.9 330.4h1.10M356.4 330.4h1.10M352 329.4h1.10M356.4 329.4h2.21M353.1 328.3h1.10M354.2 327.2h1.10M355.3 326.1h1.10M296.8 325.0h3.31M350.9 325.0h2.21M356.4 325.0h1.10M296.8 323.9h2.21M352 323.9h1.10M357.5 323.9h1.10M296.8 322.8h4.41M358.6 322.8h1.10M359.7 321.7h1.10M360.8 320.6h1.10M361.9 319.5h1.10" stroke="#46e2de" stroke-width="1.17"/>
<path d="M297.9 383.9h1.10M321.1 383.9h2.21M334.3 383.9h2.21M337.6 383.9h1.10M359.7 383.9h3.31M296.8 382.8h1.10M299 382.8h1.10M320 382.8h3.31M335.4 382.8h3.31M359.7 382.8h3.31M297.9 381.7h1.10M300.1 381.7h1.10M320 381.7h3.31M334.3 381.7h4.41M359.7 381.7h2.21M299 380.6h1.10M301.2 380.6h1.10M321.1 380.6h2.21M335.4 380.6h3.31M359.7 380.6h3.31M300.1 379.5h1.10M302.3 379.5h1.10M321.1 379.5h2.21M337.6 379.5h1.10M360.8 379.5h2.21M301.2 378.4h1.10M304.5 378.4h1.10M323.3 378.4h5.52M304.5 377.3h2.21M323.3 377.3h5.52M302.3 376.2h2.21M305.6 376.2h1.10M323.3 376.2h4.41M303.4 375.1h2.21M306.7 375.1h1.10M324.4 375.1h2.21M327.7 375.1h1.10M305.6 374.0h1.10M307.8 374.0h1.10M312.2 374.0h1.10M328.8 374.0h4.41M306.7 373.0h1.10M308.9 373.0h1.10M311.1 373.0h2.21M328.8 373.0h4.41M307.8 371.9h1.10M310 371.9h2.21M314.5 371.9h1.10M328.8 371.9h5.52M308.9 370.8h1.10M311.1 370.8h1.10M314.5 370.8h1.10M328.8 370.8h3.31M333.2 370.8h1.10M307.8 369.7h3.31M312.2 369.7h1.10M306.7 368.6h2.21M311.1 368.6h1.10M313.4 368.6h1.10M312.2 367.5h1.10M314.5 367.5h1.10M308.9 366.4h2.21M313.4 366.4h1.10M315.6 366.4h1.10M314.5 365.3h1.10M320 365.3h1.10M324.4 365.3h2.21M334.3 365.3h1.10M336.5 365.3h1.10M356.4 365.3h1.10M317.8 364.2h1.10M320 364.2h1.10M322.2 364.2h2.21M335.4 364.2h1.10M338.7 364.2h1.10M316.7 363.1h1.10M318.9 363.1h1.10M325.5 363.1h1.10M337.6 363.1h1.10M356.4 363.1h1.10M317.8 362.1h1.10M320 362.1h1.10M327.7 362.1h1.10M335.4 362.1h1.10M358.6 362.1h1.10M297.9 361.0h2.21M315.6 361.0h2.21M318.9 361.0h1.10M321.1 361.0h1.10M323.3 361.0h4.41M296.8 359.9h5.52M320 359.9h1.10M322.2 359.9h2.21M325.5 359.9h2.21M296.8 358.8h5.52M316.7 358.8h1.10M321.1 358.8h1.10M323.3 358.8h3.31M327.7 358.8h1.10M302.3 357.7h3.31M316.7 357.7h1.10M320 357.7h3.31M324.4 357.7h4.41M334.3 357.7h4.41M302.3 356.6h4.41M315.6 356.6h1.10M320 356.6h1.10M322.2 356.6h2.21M325.5 356.6h1.10M327.7 356.6h1.10M334.3 356.6h2.21M337.6 356.6h2.21M302.3 355.5h4.41M315.6 355.5h1.10M317.8 355.5h1.10M320 355.5h5.52M326.6 355.5h1.10M334.3 355.5h4.41M302.3 354.4h3.31M320 354.4h2.21M323.3 354.4h1.10M325.5 354.4h1.10M327.7 354.4h1.10M334.3 354.4h4.41M302.3 353.3h2.21M305.6 353.3h1.10M318.9 353.3h1.10M322.2 353.3h3.31M326.6 353.3h1.10M328.8 353.3h1.10M335.4 353.3h4.41M306.7 352.2h4.41M327.7 352.2h1.10M329.9 352.2h1.10M335.4 352.2h3.31M339.8 352.2h5.52M306.7 351.2h4.41M328.8 351.2h1.10M331 351.2h1.10M334.3 351.2h1.10M336.5 351.2h8.83M306.7 350.1h4.41M329.9 350.1h1.10M332.1 350.1h1.10M334.3 350.1h3.31M339.8 350.1h5.52M306.7 349.0h3.31M331 349.0h1.10M333.2 349.0h1.10M335.4 349.0h8.83M308.9 347.9h2.21M332.1 347.9h1.10M336.5 347.9h1.10M340.9 347.9h1.10M343.1 347.9h2.21M296.8 346.8h1.10M299 346.8h1.10M315.6 346.8h1.10M323.3 346.8h4.41M329.9 346.8h2.21M336.5 346.8h1.10M339.8 346.8h1.10M359.7 346.8h2.21M296.8 345.7h4.41M316.7 345.7h1.10M318.9 345.7h1.10M323.3 345.7h6.62M331 345.7h2.21M336.5 345.7h1.10M338.7 345.7h1.10M355.3 345.7h1.10M360.8 345.7h1.10M297.9 344.6h3.31M315.6 344.6h1.10M323.3 344.6h1.10M325.5 344.6h11.03M337.6 344.6h1.10M342 344.6h2.21M354.2 344.6h1.10M359.7 344.6h2.21M296.8 343.5h5.52M317.8 343.5h1.10M323.3 343.5h7.72M332.1 343.5h1.10M336.5 343.5h1.10M342 343.5h3.31M316.7 342.4h1.10M324.4 342.4h1.10M327.7 342.4h1.10M329.9 342.4h1.10M332.1 342.4h1.10M335.4 342.4h1.10M339.8 342.4h1.10M355.3 342.4h1.10M328.8 341.3h4.41M334.3 341.3h1.10M338.7 341.3h1.10M340.9 341.3h1.10M343.1 341.3h1.10M328.8 340.3h5.52M339.8 340.3h1.10M342 340.3h1.10M344.2 340.3h1.10M328.8 339.2h4.41M336.5 339.2h2.21M340.9 339.2h1.10M328.8 338.1h5.52M336.5 338.1h2.21M339.8 338.1h1.10M359.7 338.1h1.10M328.8 337.0h3.31M333.2 337.0h1.10M337.6 337.0h1.10M340.9 337.0h1.10M345.3 337.0h1.10M361.9 337.0h1.10M344.2 335.9h1.10M346.4 335.9h1.10M345.3 334.8h1.10M347.6 334.8h1.10M353.1 334.8h1.10M346.4 333.7h1.10M348.7 333.7h1.10M353.1 333.7h1.10M347.6 332.6h1.10M349.8 332.6h1.10M353.1 332.6h1.10M355.3 332.6h1.10M348.7 331.5h1.10M350.9 331.5h1.10M349.8 330.4h1.10M352 330.4h2.21M359.7 330.4h3.31M350.9 329.4h1.10M353.1 329.4h1.10M355.3 329.4h1.10M359.7 329.4h3.31M346.4 328.3h3.31M350.9 328.3h2.21M354.2 328.3h1.10M336.5 327.2h1.10M353.1 327.2h1.10M355.3 327.2h1.10M335.4 326.1h1.10M338.7 326.1h1.10M348.7 326.1h1.10M352 326.1h1.10M354.2 326.1h1.10M356.4 326.1h1.10M315.6 325.0h1.10M317.8 325.0h1.10M355.3 325.0h1.10M357.5 325.0h1.10M356.4 323.9h1.10M358.6 323.9h1.10M318.9 322.8h1.10M357.5 322.8h1.10M359.7 322.8h1.10M296.8 321.7h4.41M334.3 321.7h1.10M336.5 321.7h1.10M343.1 321.7h1.10M350.9 321.7h2.21M358.6 321.7h1.10M360.8 321.7h1.10M296.8 320.6h5.52M334.3 320.6h3.31M350.9 320.6h2.21M359.7 320.6h1.10M361.9 320.6h1.10M296.8 319.5h2.21M300.1 319.5h2.21M344.2 319.5h1.10M350.9 319.5h2.21M360.8 319.5h1.10" stroke="#90eeeb" stroke-width="1.17"/>
<path d="M299 383.9h1.10M301.2 383.9h4.41M301.2 382.8h4.41M311.1 382.8h1.10M314.5 382.8h1.10M296.8 381.7h1.10M301.2 381.7h4.41M311.1 381.7h3.31M302.3 380.6h4.41M311.1 380.6h4.41M296.8 379.5h3.31M312.2 379.5h1.10M314.5 379.5h1.10M296.8 378.4h4.41M306.7 378.4h1.10M328.8 378.4h2.21M332.1 378.4h2.21M296.8 377.3h4.41M306.7 377.3h3.31M328.8 377.3h4.41M296.8 376.2h4.41M306.7 376.2h2.21M328.8 376.2h4.41M300.1 375.1h1.10M302.3 374.0h3.31M320 374.0h2.21M303.4 373.0h2.21M320 373.0h1.10M303.4 371.9h1.10M320 371.9h3.31M320 370.8h1.10M297.9 369.7h3.31M313.4 369.7h2.21M299 368.6h3.31M314.5 368.6h1.10M299 367.5h2.21M311.1 367.5h1.10M297.9 366.4h1.10M300.1 366.4h2.21M311.1 366.4h2.21M359.7 365.3h1.10M359.7 364.2h1.10M360.8 363.1h1.10M360.8 362.1h1.10M306.7 361.0h4.41M306.7 359.9h1.10M308.9 359.9h1.10M308.9 358.8h1.10M302.3 352.2h3.31M302.3 351.2h3.31M303.4 350.1h2.21M302.3 349.0h3.31M302.3 347.9h1.10M350.9 334.8h1.10M352 332.6h1.10M346.4 330.4h1.10M348.7 329.4h1.10M315.6 321.7h2.21M317.8 320.6h2.21" stroke="#d1f8f7" stroke-width="1.17"/>
<path d="M300.1 383.9h1.10M311.1 383.9h3.31M300.1 382.8h1.10M305.6 382.8h1.10M312.2 382.8h2.21M296.8 380.6h2.21M303.4 379.5h2.21M307.8 378.4h2.21M331 378.4h1.10M301.2 377.3h1.10M301.2 376.2h1.10M308.9 376.2h1.10M297.9 375.1h1.10M329.9 375.1h1.10M333.2 375.1h1.10M311.1 374.0h1.10M313.4 374.0h1.10M302.3 373.0h1.10M313.4 373.0h1.10M321.1 373.0h1.10M302.3 371.9h1.10M304.5 371.9h1.10M312.2 371.9h2.21M321.1 370.8h2.21M296.8 369.7h1.10M306.7 369.7h1.10M296.8 368.6h2.21M308.9 368.6h1.10M296.8 367.5h2.21M306.7 367.5h3.31M359.7 363.1h1.10M307.8 359.9h1.10M310 359.9h1.10M324.4 359.9h1.10M327.7 359.9h1.10M310 358.8h1.10M321.1 356.6h1.10M326.6 356.6h1.10M336.5 356.6h1.10M338.7 355.5h1.10M324.4 354.4h1.10M321.1 353.3h1.10M305.6 351.2h1.10M302.3 350.1h1.10M305.6 347.9h1.10M339.8 347.9h1.10M324.4 344.6h1.10M325.5 342.4h1.10M333.2 341.3h1.10M350.9 333.7h1.10M347.6 330.4h1.10M317.8 321.7h1.10" stroke="#b5f3f2" stroke-width="1.17"/>
<path d="M306.7 383.9h3.31M315.6 383.9h4.41M323.3 383.9h4.41M328.8 383.9h3.31M306.7 382.8h4.41M315.6 382.8h4.41M323.3 382.8h1.10M326.6 382.8h1.10M328.8 382.8h3.31M306.7 381.7h4.41M315.6 381.7h4.41M323.3 381.7h1.10M326.6 381.7h3.31M331 381.7h1.10M333.2 381.7h1.10M350.9 381.7h2.21M306.7 380.6h4.41M315.6 380.6h4.41M323.3 380.6h6.62M352 380.6h1.10M306.7 379.5h1.10M308.9 379.5h2.21M315.6 379.5h2.21M318.9 379.5h1.10M324.4 379.5h1.10M327.7 379.5h1.10M331 379.5h2.21M349.8 379.5h1.10M352 379.5h1.10M311.1 378.4h4.41M321.1 378.4h1.10M345.3 378.4h4.41M353.1 378.4h2.21M357.5 378.4h1.10M359.7 378.4h2.21M311.1 377.3h6.62M345.3 377.3h4.41M353.1 377.3h1.10M356.4 377.3h5.52M311.1 376.2h3.31M316.7 376.2h1.10M322.2 376.2h1.10M342 376.2h2.21M345.3 376.2h1.10M347.6 376.2h1.10M353.1 376.2h3.31M358.6 376.2h3.31M312.2 375.1h3.31M320 375.1h1.10M344.2 375.1h1.10M346.4 375.1h1.10M355.3 375.1h1.10M359.7 375.1h1.10M296.8 374.0h5.52M323.3 374.0h3.31M327.7 374.0h1.10M336.5 374.0h1.10M345.3 374.0h2.21M349.8 374.0h1.10M352 374.0h1.10M354.2 374.0h1.10M296.8 373.0h4.41M323.3 373.0h3.31M334.3 373.0h2.21M337.6 373.0h1.10M345.3 373.0h3.31M349.8 373.0h1.10M352 373.0h1.10M354.2 373.0h2.21M296.8 371.9h5.52M324.4 371.9h3.31M334.3 371.9h3.31M345.3 371.9h3.31M350.9 371.9h1.10M354.2 371.9h1.10M297.9 370.8h4.41M325.5 370.8h1.10M336.5 370.8h2.21M345.3 370.8h1.10M349.8 370.8h2.21M354.2 370.8h1.10M356.4 370.8h1.10M302.3 369.7h3.31M350.9 369.7h1.10M358.6 369.7h1.10M302.3 368.6h4.41M349.8 368.6h2.21M354.2 368.6h1.10M360.8 368.6h1.10M302.3 367.5h4.41M352 367.5h1.10M302.3 366.4h2.21M305.6 366.4h1.10M349.8 366.4h2.21M359.7 366.4h1.10M296.8 365.3h5.52M303.4 365.3h1.10M345.3 365.3h1.10M347.6 365.3h1.10M349.8 365.3h3.31M354.2 365.3h1.10M358.6 365.3h1.10M360.8 365.3h1.10M296.8 364.2h5.52M303.4 364.2h2.21M345.3 364.2h1.10M349.8 364.2h2.21M354.2 364.2h3.31M358.6 364.2h1.10M360.8 364.2h1.10M296.8 363.1h4.41M347.6 363.1h1.10M349.8 363.1h2.21M354.2 363.1h1.10M358.6 363.1h1.10M296.8 362.1h5.52M345.3 362.1h3.31M349.8 362.1h3.31M355.3 362.1h2.21M305.6 361.0h1.10M345.3 361.0h3.31M349.8 361.0h2.21M355.3 361.0h1.10M358.6 361.0h1.10M302.3 359.9h1.10M347.6 359.9h1.10M349.8 359.9h1.10M354.2 359.9h2.21M304.5 358.8h1.10M345.3 358.8h1.10M350.9 358.8h1.10M296.8 357.7h4.41M306.7 357.7h2.21M344.2 357.7h2.21M347.6 357.7h1.10M349.8 357.7h2.21M354.2 357.7h2.21M360.8 357.7h1.10M296.8 356.6h1.10M300.1 356.6h2.21M306.7 356.6h3.31M343.1 356.6h1.10M345.3 356.6h3.31M352 356.6h1.10M356.4 356.6h1.10M359.7 356.6h1.10M296.8 355.5h1.10M300.1 355.5h1.10M306.7 355.5h4.41M339.8 355.5h2.21M345.3 355.5h1.10M347.6 355.5h1.10M350.9 355.5h1.10M359.7 355.5h2.21M296.8 354.4h4.41M308.9 354.4h1.10M339.8 354.4h1.10M345.3 354.4h3.31M350.9 354.4h1.10M355.3 354.4h1.10M358.6 354.4h1.10M299 353.3h3.31M306.7 353.3h1.10M345.3 353.3h2.21M350.9 353.3h2.21M355.3 353.3h2.21M359.7 353.3h1.10M296.8 352.2h4.41M350.9 352.2h2.21M296.8 351.2h2.21M350.9 351.2h1.10M355.3 351.2h1.10M296.8 350.1h3.31M301.2 350.1h1.10M350.9 350.1h1.10M301.2 349.0h1.10M346.4 349.0h1.10M350.9 349.0h1.10M299 347.9h1.10M352 347.9h1.10M359.7 347.9h1.10M307.8 346.8h2.21M345.3 346.8h1.10M347.6 346.8h1.10M349.8 346.8h3.31M354.2 346.8h1.10M307.8 345.7h2.21M345.3 345.7h3.31M349.8 345.7h3.31M354.2 345.7h1.10M358.6 345.7h2.21M306.7 344.6h1.10M308.9 344.6h2.21M345.3 344.6h3.31M349.8 344.6h2.21M356.4 344.6h1.10M307.8 343.5h1.10M310 343.5h1.10M345.3 343.5h3.31M349.8 343.5h3.31M354.2 343.5h1.10M358.6 343.5h3.31M345.3 342.4h2.21M352 342.4h1.10M358.6 342.4h1.10M325.5 341.3h2.21M345.3 341.3h1.10M347.6 341.3h1.10M349.8 341.3h2.21M354.2 341.3h2.21M358.6 341.3h1.10M360.8 341.3h1.10M325.5 340.3h1.10M349.8 340.3h2.21M355.3 340.3h1.10M359.7 340.3h2.21M304.5 339.2h1.10M347.6 339.2h1.10M349.8 339.2h2.21M354.2 339.2h2.21M359.7 339.2h1.10M304.5 338.1h1.10M324.4 338.1h1.10M345.3 338.1h2.21M349.8 338.1h5.52M305.6 337.0h1.10M323.3 337.0h1.10M349.8 337.0h1.10M352 337.0h1.10M302.3 335.9h3.31M306.7 335.9h4.41M315.6 335.9h2.21M318.9 335.9h2.21M322.2 335.9h6.62M334.3 335.9h6.62M343.1 335.9h1.10M302.3 334.8h2.21M305.6 334.8h4.41M318.9 334.8h2.21M324.4 334.8h1.10M326.6 334.8h2.21M332.1 334.8h1.10M335.4 334.8h4.41M343.1 334.8h1.10M359.7 334.8h3.31M302.3 333.7h3.31M307.8 333.7h2.21M315.6 333.7h1.10M317.8 333.7h4.41M323.3 333.7h4.41M334.3 333.7h4.41M339.8 333.7h1.10M342 333.7h1.10M359.7 333.7h2.21M302.3 332.6h2.21M361.9 332.6h1.10M301.2 331.5h1.10M306.7 331.5h2.21M310 331.5h1.10M312.2 331.5h1.10M314.5 331.5h7.72M323.3 331.5h1.10M334.3 331.5h4.41M339.8 331.5h5.52M299 330.4h1.10M308.9 330.4h4.41M314.5 330.4h6.62M322.2 330.4h2.21M325.5 330.4h7.72M334.3 330.4h4.41M339.8 330.4h4.41M299 329.4h3.31M306.7 329.4h2.21M313.4 329.4h1.10M315.6 329.4h1.10M318.9 329.4h1.10M324.4 329.4h1.10M327.7 329.4h2.21M333.2 329.4h3.31M337.6 329.4h2.21M343.1 329.4h2.21M302.3 328.3h3.31M343.1 328.3h1.10M356.4 328.3h2.21M302.3 327.2h1.10M304.5 327.2h1.10M306.7 327.2h4.41M312.2 327.2h1.10M315.6 327.2h3.31M321.1 327.2h1.10M323.3 327.2h1.10M334.3 327.2h2.21M337.6 327.2h1.10M339.8 327.2h1.10M342 327.2h2.21M304.5 326.1h2.21M307.8 326.1h1.10M316.7 326.1h1.10M318.9 326.1h3.31M323.3 326.1h1.10M326.6 326.1h2.21M329.9 326.1h1.10M339.8 326.1h3.31M303.4 325.0h1.10M310 325.0h1.10M316.7 325.0h1.10M318.9 325.0h1.10M324.4 325.0h1.10M327.7 325.0h1.10M336.5 325.0h1.10M353.1 325.0h1.10M302.3 323.9h2.21M353.1 323.9h1.10M303.4 322.8h2.21M311.1 322.8h1.10M315.6 322.8h3.31M320 322.8h1.10M326.6 322.8h1.10M335.4 322.8h1.10M337.6 322.8h3.31M302.3 321.7h4.41M314.5 321.7h1.10M324.4 321.7h2.21M327.7 321.7h1.10M333.2 321.7h1.10M335.4 321.7h1.10M337.6 321.7h1.10M340.9 321.7h2.21M346.4 321.7h2.21M302.3 320.6h3.31M312.2 320.6h1.10M315.6 320.6h2.21M323.3 320.6h1.10M325.5 320.6h1.10M337.6 320.6h1.10M339.8 320.6h2.21M346.4 320.6h2.21M346.4 319.5h1.10M348.7 319.5h1.10" stroke="#eea1ef" stroke-width="1.17"/>
<path d="M310 383.9h1.10M327.7 383.9h1.10M348.7 383.9h1.10M352 383.9h1.10M355.3 382.8h1.10M305.6 381.7h1.10M333.2 380.6h1.10M355.3 380.6h1.10M305.6 379.5h1.10M311.1 379.5h1.10M323.3 379.5h1.10M325.5 379.5h1.10M328.8 379.5h2.21M334.3 379.5h1.10M338.7 379.5h1.10M345.3 379.5h2.21M359.7 379.5h1.10M310 378.4h1.10M358.6 378.4h1.10M361.9 378.4h1.10M310 377.3h1.10M355.3 377.3h1.10M361.9 377.3h1.10M310 376.2h1.10M314.5 376.2h1.10M318.9 376.2h1.10M333.2 376.2h1.10M344.2 376.2h1.10M361.9 376.2h1.10M299 375.1h1.10M301.2 375.1h1.10M308.9 375.1h3.31M317.8 375.1h1.10M322.2 375.1h1.10M326.6 375.1h1.10M328.8 375.1h1.10M342 375.1h1.10M354.2 375.1h1.10M356.4 375.1h1.10M344.2 374.0h1.10M355.3 374.0h1.10M314.5 373.0h1.10M322.2 373.0h1.10M327.7 373.0h1.10M333.2 373.0h1.10M305.6 371.9h1.10M355.3 371.9h1.10M358.6 371.9h1.10M296.8 370.8h1.10M302.3 370.8h4.41M312.2 370.8h2.21M318.9 370.8h1.10M323.3 370.8h1.10M335.4 370.8h1.10M338.7 370.8h1.10M340.9 370.8h1.10M352 370.8h1.10M301.2 369.7h1.10M305.6 369.7h1.10M322.2 369.7h1.10M310 368.6h1.10M344.2 368.6h1.10M355.3 368.6h1.10M310 367.5h1.10M355.3 367.5h1.10M304.5 366.4h1.10M307.8 366.4h1.10M316.7 366.4h2.21M322.2 366.4h2.21M325.5 366.4h1.10M334.3 366.4h2.21M355.3 366.4h1.10M338.7 365.3h1.10M344.2 365.3h1.10M314.5 364.2h1.10M352 364.2h1.10M305.6 363.1h1.10M314.5 363.1h1.10M333.2 363.1h1.10M344.2 363.1h1.10M304.5 362.1h1.10M310 362.1h1.10M321.1 362.1h2.21M328.8 362.1h1.10M333.2 362.1h2.21M336.5 362.1h2.21M340.9 362.1h1.10M343.1 362.1h1.10M354.2 362.1h1.10M359.7 362.1h1.10M327.7 361.0h1.10M352 361.0h1.10M318.9 359.9h1.10M344.2 359.9h1.10M352 359.9h1.10M305.6 358.8h1.10M307.8 358.8h1.10M311.1 358.8h1.10M314.5 358.8h1.10M318.9 358.8h1.10M336.5 358.8h1.10M346.4 358.8h2.21M354.2 358.8h2.21M301.2 357.7h1.10M310 357.7h1.10M314.5 357.7h1.10M355.3 356.6h1.10M358.6 356.6h1.10M301.2 355.5h1.10M314.5 355.5h1.10M327.7 355.5h1.10M333.2 355.5h1.10M344.2 355.5h1.10M355.3 355.5h1.10M305.6 354.4h1.10M333.2 354.4h1.10M344.2 354.4h1.10M296.8 353.3h1.10M307.8 353.3h1.10M320 353.3h1.10M325.5 353.3h1.10M329.9 353.3h1.10M334.3 353.3h1.10M339.8 353.3h1.10M343.1 353.3h1.10M358.6 353.3h1.10M360.8 353.3h1.10M301.2 352.2h1.10M305.6 352.2h1.10M318.9 352.2h1.10M333.2 352.2h1.10M301.2 351.2h1.10M327.7 351.2h1.10M352 350.1h1.10M355.3 349.0h1.10M300.1 347.9h1.10M304.5 347.9h1.10M307.8 347.9h1.10M317.8 347.9h2.21M325.5 347.9h2.21M328.8 347.9h1.10M335.4 347.9h1.10M337.6 347.9h2.21M346.4 347.9h1.10M356.4 347.9h1.10M301.2 346.8h1.10M314.5 346.8h1.10M318.9 346.8h1.10M327.7 346.8h1.10M338.7 346.8h1.10M344.2 346.8h1.10M355.3 346.8h1.10M358.6 346.8h1.10M310 345.7h1.10M314.5 345.7h1.10M333.2 345.7h1.10M318.9 344.6h1.10M322.2 344.6h1.10M338.7 344.6h1.10M352 344.6h1.10M318.9 343.5h1.10M333.2 343.5h1.10M355.3 343.5h1.10M301.2 342.4h1.10M310 342.4h1.10M315.6 342.4h1.10M333.2 342.4h2.21M336.5 342.4h1.10M342 342.4h1.10M350.9 342.4h1.10M356.4 342.4h1.10M360.8 342.4h1.10M327.7 341.3h1.10M310 340.3h1.10M318.9 340.3h1.10M305.6 339.2h1.10M338.7 339.2h1.10M344.2 339.2h1.10M318.9 338.1h1.10M327.7 338.1h1.10M355.3 338.1h1.10M361.9 338.1h1.10M304.5 337.0h1.10M306.7 337.0h1.10M312.2 337.0h1.10M315.6 337.0h1.10M317.8 337.0h1.10M321.1 337.0h1.10M325.5 337.0h2.21M334.3 337.0h1.10M342 337.0h1.10M350.9 337.0h1.10M353.1 337.0h1.10M360.8 337.0h1.10M301.2 335.9h1.10M301.2 334.8h1.10M322.2 334.8h1.10M333.2 334.8h1.10M355.3 334.8h1.10M322.2 333.7h1.10M355.3 333.7h1.10M361.9 333.7h1.10M296.8 332.6h1.10M350.9 332.6h1.10M338.7 330.4h1.10M344.2 330.4h1.10M348.7 330.4h1.10M355.3 330.4h1.10M296.8 329.4h1.10M310 329.4h1.10M316.7 329.4h1.10M320 329.4h2.21M331 329.4h1.10M336.5 329.4h1.10M344.2 328.3h1.10M305.6 327.2h1.10M318.9 327.2h1.10M322.2 327.2h1.10M297.9 326.1h1.10M300.1 326.1h1.10M303.4 326.1h1.10M306.7 326.1h1.10M308.9 326.1h1.10M312.2 326.1h3.31M322.2 326.1h1.10M324.4 326.1h2.21M332.1 326.1h1.10M334.3 326.1h1.10M337.6 326.1h1.10M343.1 326.1h1.10M346.4 326.1h2.21M350.9 326.1h1.10M360.8 326.1h2.21M305.6 325.0h1.10M333.2 325.0h1.10M338.7 325.0h1.10M361.9 323.9h1.10M302.3 322.8h1.10M308.9 322.8h1.10M324.4 322.8h1.10M327.7 322.8h1.10M334.3 322.8h1.10M301.2 321.7h1.10M318.9 321.7h1.10M327.7 320.6h1.10M338.7 320.6h1.10M344.2 320.6h1.10M355.3 320.6h1.10M302.3 319.5h3.31M343.1 319.5h1.10M347.6 319.5h1.10M355.3 319.5h1.10M357.5 319.5h1.10" stroke="#c8c0d0" stroke-width="1.17"/>
<path d="M320 383.9h1.10M336.5 383.9h1.10M334.3 382.8h1.10M338.7 382.8h1.10M357.5 381.7h1.10M320 380.6h1.10M334.3 380.6h1.10M356.4 380.6h2.21M356.4 379.5h3.31M303.4 378.4h1.10M305.6 378.4h1.10M302.3 377.3h1.10M302.3 375.1h1.10M346.4 369.7h2.21M345.3 368.6h1.10M347.6 368.6h1.10M345.3 367.5h3.31M316.7 365.3h2.21M321.1 365.3h3.31M326.6 365.3h1.10M335.4 365.3h1.10M337.6 365.3h1.10M355.3 365.3h1.10M315.6 364.2h1.10M318.9 364.2h1.10M321.1 364.2h1.10M324.4 364.2h3.31M334.3 364.2h1.10M336.5 364.2h2.21M315.6 363.1h1.10M320 363.1h5.52M326.6 363.1h1.10M334.3 363.1h3.31M355.3 363.1h1.10M316.7 362.1h1.10M323.3 362.1h2.21M296.8 361.0h1.10M300.1 361.0h1.10M317.8 361.0h1.10M315.6 359.9h3.31M315.6 358.8h1.10M317.8 358.8h1.10M315.6 357.7h1.10M317.8 357.7h2.21M316.7 356.6h3.31M349.8 356.6h1.10M316.7 355.5h1.10M349.8 355.5h1.10M352 355.5h1.10M315.6 354.4h3.31M349.8 354.4h1.10M352 354.4h1.10M334.3 352.2h1.10M335.4 351.2h1.10M337.6 350.1h1.10M334.3 349.0h1.10M334.3 347.9h1.10M297.9 346.8h1.10M300.1 346.8h1.10M316.7 346.8h2.21M328.8 346.8h1.10M332.1 346.8h2.21M335.4 346.8h1.10M337.6 346.8h1.10M340.9 346.8h3.31M315.6 345.7h1.10M317.8 345.7h1.10M329.9 345.7h1.10M334.3 345.7h1.10M337.6 345.7h1.10M339.8 345.7h4.41M296.8 344.6h1.10M316.7 344.6h2.21M339.8 344.6h2.21M344.2 344.6h1.10M315.6 343.5h2.21M331 343.5h1.10M334.3 343.5h2.21M338.7 343.5h3.31M297.9 342.4h1.10M337.6 342.4h1.10M343.1 342.4h2.21M335.4 341.3h3.31M342 341.3h1.10M344.2 341.3h1.10M359.7 341.3h1.10M334.3 340.3h4.41M343.1 340.3h1.10M334.3 339.2h2.21M339.8 339.2h1.10M343.1 339.2h1.10M360.8 339.2h1.10M334.3 338.1h2.21M338.7 338.1h1.10M340.9 338.1h2.21M344.2 338.1h1.10M360.8 338.1h1.10M336.5 337.0h1.10M338.7 337.0h2.21M343.1 337.0h1.10M359.7 337.0h1.10M312.2 335.9h2.21M311.1 334.8h1.10M313.4 334.8h1.10M311.1 333.7h3.31M324.4 331.5h3.31M357.5 330.4h1.10M325.5 329.4h2.21M359.7 328.3h2.21M315.6 326.1h1.10M317.8 326.1h1.10M300.1 325.0h2.21M359.7 325.0h2.21M299 323.9h3.31M350.9 323.9h1.10M359.7 323.9h2.21M301.2 322.8h1.10M339.8 321.7h1.10M344.2 321.7h1.10M353.1 321.7h1.10M356.4 321.7h2.21M342 320.6h2.21M353.1 320.6h1.10M356.4 320.6h2.21" stroke="#6be8e5" stroke-width="1.17"/>
<path d="M332.1 383.9h1.10M349.8 383.9h2.21M353.1 383.9h3.31M324.4 382.8h2.21M332.1 382.8h2.21M349.8 382.8h2.21M353.1 382.8h2.21M324.4 381.7h2.21M329.9 381.7h1.10M332.1 381.7h1.10M349.8 381.7h1.10M353.1 381.7h2.21M329.9 380.6h3.31M349.8 380.6h2.21M353.1 380.6h2.21M353.1 379.5h3.31M315.6 378.4h5.52M322.2 378.4h1.10M339.8 378.4h5.52M349.8 378.4h2.21M317.8 377.3h1.10M320 377.3h3.31M339.8 377.3h5.52M349.8 377.3h2.21M354.2 377.3h1.10M315.6 376.2h1.10M317.8 376.2h1.10M320 376.2h2.21M339.8 376.2h2.21M346.4 376.2h1.10M349.8 376.2h1.10M352 376.2h1.10M315.6 375.1h2.21M318.9 375.1h1.10M321.1 375.1h1.10M343.1 375.1h1.10M345.3 375.1h1.10M326.6 374.0h1.10M334.3 374.0h2.21M337.6 374.0h2.21M347.6 374.0h1.10M350.9 374.0h1.10M356.4 374.0h1.10M326.6 373.0h1.10M336.5 373.0h1.10M338.7 373.0h1.10M350.9 373.0h1.10M358.6 373.0h1.10M323.3 371.9h1.10M327.7 371.9h1.10M337.6 371.9h2.21M349.8 371.9h1.10M352 371.9h1.10M356.4 371.9h1.10M324.4 370.8h1.10M326.6 370.8h1.10M315.6 369.7h3.31M324.4 369.7h1.10M327.7 369.7h1.10M354.2 369.7h3.31M359.7 369.7h2.21M315.6 368.6h3.31M323.3 368.6h1.10M325.5 368.6h2.21M356.4 368.6h1.10M359.7 368.6h1.10M315.6 367.5h3.31M323.3 367.5h1.10M325.5 367.5h1.10M327.7 367.5h1.10M354.2 367.5h1.10M356.4 367.5h1.10M358.6 367.5h3.31M318.9 366.4h1.10M324.4 366.4h1.10M326.6 366.4h2.21M354.2 366.4h1.10M358.6 366.4h1.10M360.8 366.4h1.10M302.3 365.3h1.10M304.5 365.3h2.21M311.1 365.3h3.31M346.4 365.3h1.10M302.3 364.2h1.10M305.6 364.2h1.10M311.1 364.2h3.31M346.4 364.2h2.21M302.3 363.1h3.31M311.1 363.1h3.31M345.3 363.1h2.21M352 363.1h1.10M302.3 362.1h1.10M305.6 362.1h1.10M314.5 362.1h1.10M302.3 361.0h3.31M354.2 361.0h1.10M359.7 361.0h2.21M303.4 359.9h3.31M345.3 359.9h2.21M359.7 359.9h2.21M302.3 358.8h2.21M359.7 358.8h2.21M308.9 357.7h1.10M312.2 357.7h2.21M339.8 357.7h4.41M346.4 357.7h1.10M356.4 357.7h1.10M358.6 357.7h1.10M297.9 356.6h2.21M310 356.6h2.21M314.5 356.6h1.10M339.8 356.6h3.31M354.2 356.6h1.10M297.9 355.5h2.21M312.2 355.5h2.21M342 355.5h2.21M346.4 355.5h1.10M354.2 355.5h1.10M356.4 355.5h1.10M306.7 354.4h2.21M310 354.4h1.10M312.2 354.4h1.10M314.5 354.4h1.10M340.9 354.4h3.31M354.2 354.4h1.10M356.4 354.4h1.10M308.9 353.3h1.10M311.1 353.3h1.10M313.4 353.3h2.21M342 353.3h1.10M345.3 352.2h1.10M347.6 352.2h1.10M349.8 352.2h1.10M354.2 352.2h2.21M359.7 352.2h2.21M299 351.2h2.21M345.3 351.2h3.31M349.8 351.2h1.10M354.2 351.2h1.10M359.7 351.2h1.10M300.1 350.1h1.10M345.3 350.1h3.31M349.8 350.1h1.10M354.2 350.1h2.21M359.7 350.1h2.21M296.8 349.0h4.41M345.3 349.0h1.10M347.6 349.0h1.10M349.8 349.0h1.10M352 349.0h1.10M354.2 349.0h1.10M359.7 349.0h2.21M297.9 347.9h1.10M349.8 347.9h2.21M354.2 347.9h2.21M360.8 347.9h1.10M306.7 346.8h1.10M346.4 346.8h1.10M356.4 346.8h1.10M306.7 345.7h1.10M356.4 345.7h1.10M307.8 344.6h1.10M358.6 344.6h1.10M306.7 343.5h1.10M308.9 343.5h1.10M356.4 343.5h1.10M306.7 342.4h3.31M302.3 341.3h3.31M323.3 341.3h2.21M346.4 341.3h1.10M302.3 340.3h3.31M323.3 340.3h2.21M326.6 340.3h1.10M345.3 340.3h3.31M354.2 340.3h1.10M302.3 339.2h2.21M323.3 339.2h5.52M345.3 339.2h2.21M302.3 338.1h2.21M305.6 338.1h1.10M323.3 338.1h1.10M325.5 338.1h2.21M347.6 338.1h1.10M302.3 337.0h2.21M347.6 337.0h2.21M354.2 337.0h1.10M305.6 335.9h1.10M317.8 335.9h1.10M321.1 335.9h1.10M328.8 335.9h4.41M340.9 335.9h2.21M304.5 334.8h1.10M315.6 334.8h3.31M321.1 334.8h1.10M323.3 334.8h1.10M325.5 334.8h1.10M329.9 334.8h2.21M334.3 334.8h1.10M339.8 334.8h3.31M306.7 333.7h1.10M316.7 333.7h1.10M328.8 333.7h4.41M340.9 333.7h1.10M343.1 333.7h2.21M344.2 332.6h1.10M296.8 331.5h4.41M302.3 331.5h3.31M308.9 331.5h1.10M328.8 331.5h5.52M296.8 330.4h2.21M300.1 330.4h1.10M302.3 330.4h2.21M306.7 330.4h2.21M333.2 330.4h1.10M304.5 329.4h1.10M308.9 329.4h1.10M317.8 329.4h1.10M332.1 329.4h1.10M296.8 328.3h5.52M296.8 327.2h5.52M303.4 327.2h1.10M311.1 327.2h1.10M313.4 327.2h2.21M320 327.2h1.10M324.4 327.2h3.31M328.8 327.2h5.52M340.9 327.2h1.10M344.2 327.2h1.10M296.8 326.1h1.10M301.2 326.1h1.10M311.1 326.1h1.10M328.8 326.1h1.10M331 326.1h1.10M333.2 326.1h1.10M306.7 325.0h1.10M308.9 325.0h1.10M311.1 325.0h3.31M323.3 325.0h1.10M325.5 325.0h2.21M334.3 325.0h2.21M337.6 325.0h1.10M307.8 322.8h1.10M313.4 322.8h2.21M323.3 322.8h1.10M336.5 322.8h1.10M311.1 321.7h3.31M320 321.7h3.31M328.8 321.7h4.41M311.1 320.6h1.10M313.4 320.6h2.21M320 320.6h3.31M328.8 320.6h1.10M331 320.6h3.31" stroke="#e881e9" stroke-width="1.17"/>
<path d="M334.3 378.4h2.21M337.6 378.4h1.10M334.3 377.3h1.10M337.6 377.3h2.21M335.4 376.2h2.21M338.7 376.2h1.10M334.3 375.1h1.10M337.6 375.1h1.10M315.6 374.0h4.41M340.9 374.0h3.31M359.7 374.0h2.21M315.6 373.0h4.41M342 373.0h3.31M315.6 371.9h1.10M317.8 371.9h2.21M340.9 371.9h1.10M360.8 371.9h1.10M315.6 370.8h1.10M317.8 370.8h1.10M339.8 370.8h1.10M342 370.8h3.31M359.7 370.8h1.10M306.7 365.3h4.41M306.7 364.2h2.21M306.7 363.1h4.41M306.7 362.1h3.31M356.4 361.0h1.10M356.4 359.9h1.10M358.6 359.9h1.10M356.4 358.8h1.10M358.6 358.8h1.10M331 352.2h1.10M358.6 352.2h1.10M356.4 351.2h1.10M358.6 351.2h1.10M328.8 350.1h1.10M333.2 350.1h1.10M356.4 350.1h1.10M358.6 350.1h1.10M356.4 349.0h1.10M358.6 349.0h1.10M331 347.9h1.10M358.6 347.9h1.10M302.3 346.8h2.21M305.6 346.8h1.10M302.3 345.7h1.10M304.5 345.7h1.10M304.5 344.6h1.10M302.3 343.5h2.21M305.6 343.5h1.10M303.4 342.4h2.21M310 341.3h1.10M356.4 341.3h1.10M306.7 340.3h1.10M308.9 340.3h1.10M356.4 340.3h1.10M306.7 339.2h2.21M310 339.2h1.10M356.4 339.2h1.10M306.7 338.1h2.21M310 338.1h1.10M356.4 338.1h2.21M307.8 337.0h1.10M310 337.0h1.10M356.4 337.0h2.21M355.3 328.3h1.10M353.1 326.1h1.10M320 325.0h3.31M329.9 325.0h3.31M339.8 325.0h5.52M343.1 323.9h2.21M321.1 322.8h2.21M328.8 322.8h5.52M306.7 321.7h1.10M310 321.7h1.10M306.7 320.6h1.10M308.9 320.6h1.10" stroke="#f8d8f8" stroke-width="1.17"/>
<path d="M336.5 378.4h1.10M338.7 378.4h1.10M356.4 378.4h1.10M335.4 377.3h2.21M334.3 376.2h1.10M337.6 376.2h1.10M356.4 376.2h2.21M358.6 375.1h1.10M339.8 374.0h1.10M339.8 373.0h2.21M359.7 373.0h2.21M316.7 371.9h1.10M339.8 371.9h1.10M342 371.9h2.21M359.7 371.9h1.10M360.8 370.8h1.10M308.9 364.2h1.10M350.9 359.9h1.10M332.1 352.2h1.10M356.4 352.2h1.10M332.1 351.2h1.10M328.8 349.0h2.21M304.5 346.8h1.10M303.4 345.7h1.10M302.3 344.6h2.21M304.5 343.5h1.10M302.3 342.4h1.10M306.7 341.3h3.31M307.8 340.3h1.10M358.6 340.3h1.10M308.9 339.2h1.10M358.6 339.2h1.10M308.9 338.1h1.10M358.6 338.1h1.10M321.1 330.4h1.10M302.3 325.0h1.10M304.5 325.0h1.10M328.8 325.0h1.10M304.5 323.9h1.10M305.6 322.8h1.10M340.9 322.8h3.31M307.8 321.7h2.21M307.8 320.6h1.10M310 320.6h1.10" stroke="#f3c0f4" stroke-width="1.17"/>
<path d="M352 378.4h1.10M350.9 376.2h1.10M350.9 375.1h1.10M356.4 373.0h1.10M358.6 370.8h1.10M323.3 369.7h1.10M325.5 369.7h2.21M324.4 368.6h1.10M358.6 368.6h1.10M324.4 367.5h1.10M326.6 367.5h1.10M311.1 357.7h1.10M312.2 356.6h2.21M311.1 355.5h1.10M311.1 354.4h1.10M313.4 354.4h1.10M346.4 352.2h1.10M360.8 351.2h1.10M328.8 334.8h1.10M304.5 330.4h2.21M302.3 329.4h1.10M307.8 325.0h1.10M310 322.8h1.10M312.2 322.8h1.10M329.9 320.6h1.10" stroke="#e262e4" stroke-width="1.17"/>
<rect x="296.80" y="319.00" width="66.20" height="65.40" fill="none" stroke="#777" stroke-width="0.6"/>
<defs><linearGradient id="cb366" x1="0" y1="0" x2="0" y2="1"><stop offset="0" stop-color="#52e0dc"/><stop offset="0.22" stop-color="#80e8e4"/><stop offset="0.27" stop-color="#c8f2f0"/><stop offset="0.5" stop-color="#fafafa"/><stop offset="0.7" stop-color="#f4dcf4"/><stop offset="0.74" stop-color="#eaa0ec"/><stop offset="1" stop-color="#e070e4"/></linearGradient></defs>
<rect x="366.40" y="319.00" width="3.80" height="65.40" fill="url(#cb366)" stroke="#aaa" stroke-width="0.4"/>
<text x="371.40" y="320.90" font-size="2.5" fill="#666" stroke="#666" stroke-width="0.1">1.0</text>
<text x="371.40" y="336.75" font-size="2.5" fill="#666" stroke="#666" stroke-width="0.1">0.5</text>
<text x="371.40" y="352.60" font-size="2.5" fill="#666" stroke="#666" stroke-width="0.1">0</text>
<text x="371.40" y="368.45" font-size="2.5" fill="#666" stroke="#666" stroke-width="0.1">-0.5</text>
<text x="371.40" y="384.30" font-size="2.5" fill="#666" stroke="#666" stroke-width="0.1">-1.0</text>
<line x1="296.80" y1="384.40" x2="296.80" y2="383.40" stroke="#555" stroke-width="0.4"/>
<text x="296.80" y="387.90" font-size="2.4" fill="#555" text-anchor="middle" stroke="#555" stroke-width="0.1">1</text>
<line x1="308.20" y1="384.40" x2="308.20" y2="383.40" stroke="#555" stroke-width="0.4"/>
<text x="308.20" y="387.90" font-size="2.4" fill="#555" text-anchor="middle" stroke="#555" stroke-width="0.1">50</text>
<line x1="320.90" y1="384.40" x2="320.90" y2="383.40" stroke="#555" stroke-width="0.4"/>
<text x="320.90" y="387.90" font-size="2.4" fill="#555" text-anchor="middle" stroke="#555" stroke-width="0.1">100</text>
<line x1="333.10" y1="384.40" x2="333.10" y2="383.40" stroke="#555" stroke-width="0.4"/>
<text x="333.10" y="387.90" font-size="2.4" fill="#555" text-anchor="middle" stroke="#555" stroke-width="0.1">150</text>
<line x1="345.50" y1="384.40" x2="345.50" y2="383.40" stroke="#555" stroke-width="0.4"/>
<text x="345.50" y="387.90" font-size="2.4" fill="#555" text-anchor="middle" stroke="#555" stroke-width="0.1">200</text>
<line x1="296.80" y1="384.40" x2="297.80" y2="384.40" stroke="#555" stroke-width="0.4"/>
<text x="294.40" y="384.40" font-size="2.3" fill="#555" text-anchor="middle" transform="rotate(-90 294.4 384.4)" stroke="#555" stroke-width="0.1">1</text>
<line x1="296.80" y1="373.00" x2="297.80" y2="373.00" stroke="#555" stroke-width="0.4"/>
<text x="294.40" y="373.00" font-size="2.3" fill="#555" text-anchor="middle" transform="rotate(-90 294.4 373)" stroke="#555" stroke-width="0.1">50</text>
<line x1="296.80" y1="360.30" x2="297.80" y2="360.30" stroke="#555" stroke-width="0.4"/>
<text x="294.40" y="360.30" font-size="2.3" fill="#555" text-anchor="middle" transform="rotate(-90 294.4 360.3)" stroke="#555" stroke-width="0.1">100</text>
<line x1="296.80" y1="348.10" x2="297.80" y2="348.10" stroke="#555" stroke-width="0.4"/>
<text x="294.40" y="348.10" font-size="2.3" fill="#555" text-anchor="middle" transform="rotate(-90 294.4 348.1)" stroke="#555" stroke-width="0.1">150</text>
<line x1="296.80" y1="335.70" x2="297.80" y2="335.70" stroke="#555" stroke-width="0.4"/>
<text x="294.40" y="335.70" font-size="2.3" fill="#555" text-anchor="middle" transform="rotate(-90 294.4 335.7)" stroke="#555" stroke-width="0.1">200</text>
<text x="332.40" y="394.50" font-size="5.3" fill="#2a2a2a" text-anchor="middle" stroke="#2a2a2a" stroke-width="0.16">Residue Number</text>
<text x="292.20" y="351.00" font-size="5.3" fill="#2a2a2a" text-anchor="middle" transform="rotate(-90 292.2 351)" stroke="#2a2a2a" stroke-width="0.16">Residue Number</text>
<rect x="6.50" y="121.00" width="370.80" height="277.60" fill="none" stroke="#969696" stroke-width="0.9"/>
<rect x="98.00" y="121.00" width="2.40" height="277.60" fill="#b0b0b0"/>
<rect x="190.50" y="121.00" width="2.40" height="277.60" fill="#b0b0b0"/>
<rect x="283.00" y="121.00" width="2.40" height="277.60" fill="#b0b0b0"/>
</svg></body></html>
